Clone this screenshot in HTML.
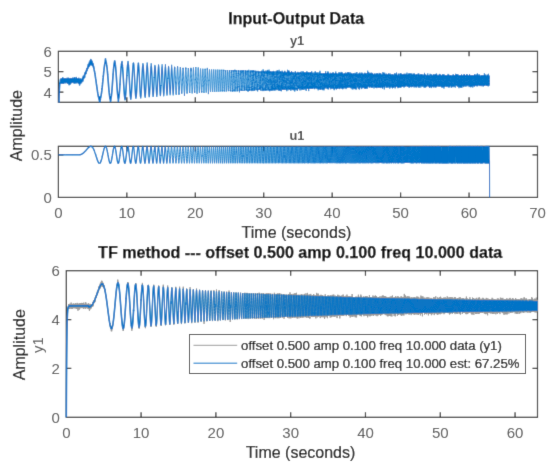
<!DOCTYPE html>
<html><head><meta charset="utf-8"><style>html,body{margin:0;padding:0;background:#fff}svg{display:block}</style></head><body><div id="w">
<svg width="550" height="468" viewBox="0 0 550 468">
<defs><filter id="bl" filterUnits="userSpaceOnUse" x="0" y="0" width="550" height="468"><feConvolveMatrix order="3" kernelMatrix="0.0100 0.0800 0.0100 0.0800 0.6400 0.0800 0.0100 0.0800 0.0100" divisor="1" edgeMode="duplicate"/></filter></defs>
<g filter="url(#bl)">
<rect width="550" height="468" fill="#fff"/>
<style>.tl{font:15px "Liberation Sans",Arial,sans-serif;fill:#505050}.lab{font:16px "Liberation Sans",Arial,sans-serif;fill:#000;stroke:#000;stroke-width:0.15px}.ttl{font:bold 16px "Liberation Sans",Arial,sans-serif;fill:#000;stroke:#000;stroke-width:0.25px}.sub{font:bold 12.8px "Liberation Sans",Arial,sans-serif;fill:#444}.lg{font:13.2px "Liberation Sans",Arial,sans-serif;fill:#000;stroke:#000;stroke-width:0.2px}</style>
<text x="296.2" y="24.4" text-anchor="middle" class="ttl">Input-Output Data</text>
<text x="297" y="44.6" text-anchor="middle" class="sub">y1</text>
<text x="297" y="139.6" text-anchor="middle" class="sub">u1</text>
<text x="296.4" y="238.1" text-anchor="middle" class="lab">Time (seconds)</text>
<text transform="translate(22.3 125.6) rotate(-90)" text-anchor="middle" class="lab">Amplitude</text>
<path d="M126.84 102.30v-5.0M126.84 51.30v5.0M195.29 102.30v-5.0M195.29 51.30v5.0M263.73 102.30v-5.0M263.73 51.30v5.0M332.17 102.30v-5.0M332.17 51.30v5.0M400.61 102.30v-5.0M400.61 51.30v5.0M469.06 102.30v-5.0M469.06 51.30v5.0M58.40 92.10h5.0M537.50 92.10h-5.0M58.40 71.70h5.0M537.50 71.70h-5.0" stroke="#262626" stroke-width="1.2" fill="none"/>
<rect x="58.40" y="51.30" width="479.10" height="51.00" fill="none" stroke="#262626" stroke-width="1.2"/>
<g><path d="M0 1023l1 0 1 0 1 0 1 0 1 0 1 0 1 0 1 0 1 0 1 0 1 0 1 0 1 0 1 0 1-21 1-19 1-18 1-15 1-15 1-12 1-12 1-10 1-10 1-8 1-7 1-6 1-7 1-6 1-5 1-3 1-5 1-3 1-3 1-7 1 2 1-4 1-6 1 4 1-4 1-2 1-2 1 7 1-9 1-11 1 22 1-21 1 6 1 6 1-27 1 12 1 20 1-14 1-6 1 8 1-10 1 8 1-9 1-9 1 25 1-11 1 8 1-7 1 15 1-7 1-5 1-13 1-3 1 30 1-7 1-18 1 33 1-19 1-5 1-16 1 7 1 12 1 1 1-2 1-22 1 24 1-1 1-8 1 5 1 1 1 12 1-14 1 5 1-19 1 6 1 8 1-8 1 12 1-17 1 13 1-7 1 23 1-20 1 24 1 5 1-21 1 7 1-13 1-26 1 38 1-3 1-10 1-3 1 8 1 0 1-11 1 2 1 19 1-11 1-2 1 14 1-16 1 13 1-22 1 9 1 2 1 8 1-6 1 23 1-10 1-19 1 31 1-37 1 32 1-31 1 20 1-20 1 8 1 21 1-35 1-2 1 19 1 2 1-1 1 10 1-26 1 20 1-6 1 9 1-2 1 8 1-31 1 18 1-14 1 12 1 8 1-4 1 3 1-7 1 4 1-1 1 14 1-7 1-30 1 28 1 5" transform="matrix(0.042777 0 0 0.1 58.400 0)" fill="none" stroke="#0073C8" stroke-width="1.6" vector-effect="non-scaling-stroke" stroke-linejoin="round" />
<path d="M0 815l1 5 1-17 1-13 1 35 1-16 1 5 1 14 1-30 1 9 1-1 1 10 1-15 1 12 1-4 1 11 1 2 1-32 1 23 1-10 1 4 1 5 1 1 1-14 1 11 1-1 1-3 1-14 1 6 1 4 1 12 1 10 1-29 1 0 1 13 1-8 1-3 1 0 1-2 1 17 1-24 1 34 1-26 1 5 1-5 1-12 1 5 1 32 1 6 1-30 1 22 1-12 1-11 1 31 1 6 1-29 1 2 1 4 1-4 1 11 1 8 1-16 1 10 1 8 1-26 1 7 1-6 1 17 1-4 1 4 1-1 1-14 1 12 1-14 1 1 1-21 1 42 1-28 1 12 1-1 1 18 1-13 1-14 1 10 1-2 1 4 1-17 1 14 1 27 1-19 1 16 1 16 1-34 1-23 1 16 1 15 1-3 1-25 1 12 1 1 1 1 1-1 1-9 1 3 1 4 1 16 1-19 1 14 1-22 1 29 1-14 1-1 1 16 1-37 1 3 1 23 1-15 1 5 1 37 1-35 1 4 1-2 1 14 1-10 1-1 1-17 1 11 1 4 1-19 1 26 1-2 1 17 1-41 1 7 1 1 1 3 1 6 1-1 1 6 1-1 1-3 1-18 1 12 1 7 1 7 1 1 1-28 1 14 1 5 1 5 1 9 1-12 1-12 1 16 1-2 1-1 1-4 1 21 1-16 1 7 1-21 1 20" transform="matrix(0.042777 0 0 0.1 65.202 0)" fill="none" stroke="#0073C8" stroke-width="1.6" vector-effect="non-scaling-stroke" stroke-linejoin="round" />
<path d="M0 796l1 20 1-16 1-12 1 23 1 3 1-10 1 3 1 12 1-18 1-19 1 28 1-1 1 11 1-17 1 19 1-2 1-29 1 27 1-24 1-6 1 16 1-4 1-17 1 26 1 5 1 9 1-17 1-17 1 6 1 23 1-1 1-4 1-10 1 6 1-5 1-1 1 7 1-3 1-3 1 4 1-7 1-17 1 16 1 6 1 21 1-25 1 29 1-7 1-28 1 2 1 11 1 19 1-17 1 4 1-16 1-20 1 25 1 12 1 5 1-14 1 2 1 12 1-16 1 16 1-28 1 1 1-1 1 20 1-13 1 8 1 4 1-1 1 12 1 1 1-27 1 12 1-5 1-10 1 34 1-12 1-11 1-3 1 9 1-17 1 10 1 18 1-4 1-21 1 4 1 29 1-40 1 9 1-9 1 21 1-1 1 11 1-45 1 33 1-22 1 28 1-10 1 22 1-16 1-16 1 27 1-28 1 9 1 17 1-7 1-1 1-5 1 6 1 4 1-7 1 9 1 4 1-16 1-11 1 29 1-18 1 8 1 4 1-23 1 17 1-25 1 28 1-14 1 8 1 6 1-16 1 9 1-10 1 8 1 13 1-12 1-2 1-11 1 23 1-11 1 21 1-29 1 21 1 9 1-22 1-14 1 32 1-5 1-4 1 5 1-19 1 15 1-1 1-16 1 16 1-15 1 18 1 3 1 7 1-45 1 23 1 9" transform="matrix(0.042777 0 0 0.1 72.046 0)" fill="none" stroke="#0073C8" stroke-width="1.6" vector-effect="non-scaling-stroke" stroke-linejoin="round" />
<path d="M0 807l1 9 1 0 1-2 1 1 1-22 1 36 1 6 1-7 1 4 1-25 1-1 1 21 1 6 1-13 1-21 1 51 1-41 1 19 1-26 1 26 1-10 1 15 1-7 1-28 1 6 1 15 1 5 1 13 1-19 1-4 1 0 1 0 1 12 1-13 1 0 1-16 1-7 1 23 1 7 1-8 1 6 1 1 1-8 1 11 1-19 1 8 1-5 1 5 1 6 1 2 1-9 1 4 1-10 1 3 1 15 1-17 1 15 1-8 1-4 1 19 1-24 1-1 1 3 1 2 1-1 1 6 1-8 1 3 1-8 1 13 1-15 1 0 1 3 1 2 1-11 1 23 1-23 1 2 1-1 1-2 1 10 1-4 1-10 1 2 1 1 1 17 1-21 1-7 1 1 1 7 1 17 1-25 1 10 1 22 1-29 1 17 1-2 1-7 1-19 1 15 1-7 1-14 1 1 1 15 1 0 1 9 1-6 1-11 1-1 1 2 1-9 1 15 1-7 1-8 1 1 1-5 1 5 1 5 1-6 1 10 1 5 1-20 1 5 1-4 1 16 1-12 1 1 1 1 1 10 1-16 1-11 1 3 1 7 1-6 1-7 1 27 1-21 1-7 1-2 1-9 1 4 1 5 1-1 1-4 1 9 1-5 1-8 1-9 1 15 1-2 1-3 1-9 1 9 1-12 1 17 1-7 1-1 1-8 1-3 1 17 1-5" transform="matrix(0.042777 0 0 0.1 78.890 0)" fill="none" stroke="#0073C8" stroke-width="1.6" vector-effect="non-scaling-stroke" stroke-linejoin="round" />
<path d="M0 738l1-5 1-10 1 6 1 5 1-19 1 2 1-1 1 6 1-12 1 8 1-10 1 13 1-2 1-8 1 5 1-11 1 2 1 7 1-8 1 2 1-10 1 10 1-3 1-12 1-8 1 0 1 13 1-3 1-10 1 10 1 5 1-8 1-4 1 8 1 5 1-3 1-16 1 9 1-5 1-4 1-4 1 6 1-7 1 9 1-5 1 3 1-16 1 7 1 4 1-4 1-2 1-7 1 15 1-5 1-6 1-22 1 10 1 7 1-7 1-11 1 16 1 0 1-13 1 5 1-3 1 9 1-20 1 0 1 8 1-2 1 21 1-22 1 6 1-6 1-3 1 7 1 11 1-18 1 8 1-4 1 2 1-4 1 17 1-32 1 8 1-9 1-9 1 18 1 16 1-9 1 2 1-7 1-6 1 20 1-24 1 18 1-19 1 4 1 1 1-3 1 5 1 0 1 11 1-18 1-21 1-2 1 6 1 7 1 15 1-24 1 16 1 0 1 2 1-4 1 6 1-5 1 12 1-9 1-32 1 28 1 2 1-9 1-2 1 22 1-11 1-14 1 8 1 2 1-18 1 28 1-10 1 8 1-24 1 41 1-15 1-1 1-14 1 1 1-9 1 34 1-26 1 13 1 4 1-13 1 16 1 13 1-18 1 12 1-8 1-9 1 1 1-11 1 17 1 13 1-6 1 2 1 3 1-13 1 10 1 11 1-20" transform="matrix(0.042777 0 0 0.1 85.734 0)" fill="none" stroke="#0073C8" stroke-width="1.6" vector-effect="non-scaling-stroke" stroke-linejoin="round" />
<path d="M0 654l1-20 1 7 1-2 1 3 1-3 1 5 1-6 1 6 1 2 1 1 1 12 1-6 1 2 1-1 1 10 1-15 1 10 1 8 1 4 1-6 1 1 1 4 1-2 1 5 1-3 1 7 1-1 1-2 1-5 1 16 1 0 1 3 1-4 1 9 1 0 1 0 1 6 1 2 1 0 1 7 1 0 1 0 1 0 1 3 1 7 1-1 1-1 1 3 1 4 1 5 1-2 1 6 1 4 1 1 1-2 1 5 1 1 1 6 1 0 1 6 1 2 1-3 1 6 1 6 1 2 1 2 1 1 1 6 1 5 1 0 1 3 1 2 1 1 1 5 1 2 1 7 1-1 1 1 1 5 1 4 1 3 1 0 1 8 1 2 1 2 1 2 1 6 1 1 1 4 1 3 1 3 1 5 1 1 1 2 1 6 1 2 1 1 1 6 1 1 1 5 1-1 1 1 1 4 1 7 1 1 1 4 1 3 1 0 1 9 1-2 1 5 1 0 1 5 1 5 1 0 1 2 1 4 1 2 1 5 1 6 1-4 1 3 1 3 1 3 1 0 1 6 1 3 1 1 1-1 1 10 1-6 1 8 1 3 1-5 1 6 1 7 1-2 1-3 1 1 1 8 1-2 1 0 1 8 1-3 1 3 1 5 1 1 1-2 1 2 1 5 1 0 1-10 1 7 1-4 1-2 1 5 1-15 1 30 1-15 1 12 1-24" transform="matrix(0.042777 0 0 0.1 92.579 0)" fill="none" stroke="#0073C8" stroke-width="1.6" vector-effect="non-scaling-stroke" stroke-linejoin="round" />
<path d="M0 998l1-24 1 2 1 42 1-11 1-19 1-2 1 1 1 10 1-7 1-2 1 8 1-12 1 35 1-31 1 16 1-20 1 10 1 5 1-11 1 9 1-2 1 3 1-11 1-5 1-4 1 5 1-7 1 3 1-1 1-5 1-3 1 4 1-3 1-2 1-3 1 1 1-8 1 1 1-4 1 1 1-6 1-3 1 0 1-8 1 0 1-5 1-2 1 0 1-3 1-5 1-2 1-4 1-2 1-2 1-5 1-1 1-7 1-2 1-4 1-4 1-5 1-2 1-3 1-5 1-3 1-5 1-7 1-1 1-6 1-2 1-6 1-3 1-5 1-5 1-5 1-3 1-4 1-3 1-6 1-4 1-5 1-4 1-6 1-1 1-6 1-5 1-3 1-4 1-5 1-3 1-6 1-7 1-3 1-2 1-4 1-5 1-6 1-2 1-4 1-6 1-4 1-3 1-3 1-3 1-5 1-2 1-7 1-2 1-6 1-5 1-3 1 0 1-6 1-4 1 0 1-3 1-5 1 0 1-9 1 5 1-5 1-5 1-2 1-4 1-2 1-1 1-7 1 9 1-9 1 0 1-5 1-2 1 4 1-2 1-10 1 1 1 6 1-22 1-4 1 32 1-17 1-24 1 17 1 6 1 5 1 4 1-4 1 4 1-14 1 13 1 0 1 8 1-10 1 7 1-4 1-7 1 6 1 1 1 3 1 3 1 2" transform="matrix(0.042777 0 0 0.1 99.423 0)" fill="none" stroke="#0073C8" stroke-width="1.6" vector-effect="non-scaling-stroke" stroke-linejoin="round" />
<path d="M0 626l1 2 1 3 1-1 1 7 1-4 1 6 1 4 1 3 1 3 1 1 1 5 1 0 1 6 1 6 1 1 1 5 1 1 1 3 1 4 1 7 1 3 1 2 1 5 1 5 1 4 1 3 1 6 1 5 1 5 1 4 1 6 1 6 1 4 1 5 1 5 1 5 1 4 1 7 1 5 1 5 1 5 1 5 1 6 1 6 1 6 1 4 1 5 1 5 1 7 1 4 1 5 1 5 1 6 1 5 1 7 1 4 1 4 1 7 1 4 1 5 1 5 1 5 1 4 1 5 1 5 1 6 1 3 1 5 1 4 1 3 1 4 1 4 1 5 1 2 1 3 1 4 1 3 1 5 1 3 1 2 1 7 1-1 1 5 1 2 1 6 1 0 1-1 1-2 1 1 1 7 1 2 1 6 1-8 1 6 1-7 1-13 1 20 1 18 1-8 1 7 1-4 1-27 1 10 1 14 1-18 1-5 1 9 1 0 1-4 1-4 1-3 1-4 1-2 1-2 1-3 1-1 1 1 1-6 1-4 1-2 1-5 1-3 1-3 1-7 1-3 1-4 1-5 1-4 1-4 1-3 1-6 1-5 1-5 1-6 1-6 1-5 1-5 1-7 1-4 1-5 1-7 1-6 1-5 1-7 1-5 1-6 1-7 1-6 1-5 1-7 1-6 1-7 1-4 1-7 1-6 1-6 1-6 1-6 1-6 1-5 1-5" transform="matrix(0.042777 0 0 0.1 106.267 0)" fill="none" stroke="#0073C8" stroke-width="1.6" vector-effect="non-scaling-stroke" stroke-linejoin="round" />
<path d="M0 744l1-5 1-6 1-6 1-6 1-6 1-4 1-6 1-6 1-4 1-3 1-5 1-4 1-8 1-2 1-6 1-4 1-5 1-3 1-2 1-3 1-4 1-3 1-2 1-3 1-7 1 7 1-8 1 2 1-6 1-5 1 3 1-7 1 19 1-26 1 18 1-15 1 5 1 33 1-22 1-9 1-10 1 11 1 2 1 10 1-11 1 1 1 9 1 3 1 5 1-2 1-1 1 7 1 3 1 5 1 5 1 1 1 7 1 3 1 4 1 4 1 6 1 5 1 5 1 6 1 4 1 6 1 6 1 6 1 5 1 7 1 6 1 6 1 5 1 7 1 5 1 8 1 6 1 6 1 7 1 7 1 6 1 7 1 7 1 7 1 6 1 6 1 8 1 6 1 6 1 6 1 7 1 6 1 6 1 7 1 5 1 6 1 6 1 7 1 4 1 5 1 5 1 7 1 2 1 7 1 3 1 4 1 4 1 5 1 6 1 1 1 5 1 7 1-8 1 7 1-1 1 11 1-7 1 0 1 0 1 10 1 11 1-7 1 23 1-4 1-21 1 11 1-10 1-1 1-15 1 5 1 5 1-6 1 4 1-3 1-6 1 2 1-5 1-2 1-6 1-5 1-2 1-5 1-3 1-5 1-5 1-7 1-6 1-4 1-5 1-6 1-6 1-6 1-6 1-6 1-7 1-6 1-7 1-6 1-7 1-7 1-7" transform="matrix(0.042777 0 0 0.1 113.112 0)" fill="none" stroke="#0073C8" stroke-width="1.567" vector-effect="non-scaling-stroke" stroke-linejoin="round" />
<path d="M0 845l1-7 1-7 1-8 1-7 1-6 1-8 1-7 1-8 1-7 1-7 1-6 1-8 1-6 1-8 1-5 1-6 1-9 1-6 1-5 1-7 1-5 1-6 1-5 1-6 1-6 1-5 1-5 1-4 1-7 1-1 1-5 1 0 1-4 1-8 1 2 1-6 1-1 1 2 1-4 1 0 1-1 1-11 1-1 1 14 1 4 1-14 1 5 1-7 1-7 1 13 1 6 1 2 1 4 1 3 1 3 1 2 1 3 1 3 1 5 1 4 1 6 1 2 1 6 1 5 1 6 1 5 1 7 1 6 1 5 1 8 1 6 1 7 1 7 1 7 1 7 1 8 1 7 1 8 1 7 1 8 1 7 1 8 1 7 1 8 1 7 1 7 1 8 1 8 1 7 1 7 1 7 1 8 1 6 1 6 1 8 1 6 1 6 1 6 1 5 1 8 1 4 1 4 1 6 1 5 1 4 1 5 1 1 1 7 1 0 1 8 1-2 1 4 1 13 1-9 1 8 1-2 1-20 1 31 1-1 1-29 1 14 1-10 1 7 1 3 1-5 1-6 1-2 1-1 1-3 1-4 1-3 1-7 1-3 1-4 1-5 1-7 1-5 1-6 1-6 1-6 1-6 1-7 1-8 1-6 1-8 1-8 1-7 1-8 1-8 1-7 1-8 1-8 1-8 1-8 1-8 1-8 1-7 1-8 1-8 1-8 1-7" transform="matrix(0.042777 0 0 0.1 119.956 0)" fill="none" stroke="#0073C8" stroke-width="1.5" vector-effect="non-scaling-stroke" stroke-linejoin="round" />
<path d="M0 757l1-7 1-8 1-8 1-7 1-6 1-8 1-6 1-7 1-7 1-5 1-6 1-6 1-4 1-5 1-5 1-6 1 0 1-5 1-3 1-2 1-3 1-2 1-6 1 5 1-7 1-4 1 12 1-10 1-16 1 16 1 7 1-2 1 5 1-2 1 2 1 6 1 2 1 2 1 6 1 4 1 5 1 5 1 5 1 4 1 8 1 6 1 6 1 7 1 6 1 7 1 7 1 8 1 7 1 9 1 7 1 9 1 8 1 8 1 8 1 9 1 8 1 8 1 9 1 8 1 8 1 8 1 9 1 8 1 7 1 8 1 7 1 8 1 7 1 6 1 6 1 8 1 5 1 6 1 6 1 4 1 7 1 5 1 4 1 3 1 3 1 4 1 1 1 10 1-8 1 13 1-2 1-1 1 10 1 0 1-7 1-9 1-4 1-2 1 3 1-4 1-3 1-6 1-1 1-8 1-3 1-5 1-6 1-6 1-5 1-7 1-6 1-7 1-8 1-6 1-8 1-8 1-8 1-8 1-8 1-9 1-8 1-9 1-8 1-9 1-8 1-9 1-9 1-8 1-9 1-7 1-10 1-7 1-9 1-7 1-8 1-7 1-8 1-6 1-6 1-8 1-4 1-6 1-5 1-5 1-6 1-5 1-1 1-1 1-9 1-3 1-2 1-5 1 13 1-6 1 15 1-2 1-21 1 12 1-11 1 11 1 4" transform="matrix(0.042777 0 0 0.1 126.800 0)" fill="none" stroke="#0073C8" stroke-width="1.433" vector-effect="non-scaling-stroke" stroke-linejoin="round" />
<path d="M0 643l1 4 1 0 1 3 1 5 1 6 1 4 1 4 1 7 1 6 1 5 1 7 1 7 1 7 1 7 1 8 1 7 1 8 1 9 1 9 1 8 1 8 1 9 1 9 1 9 1 9 1 9 1 9 1 9 1 8 1 10 1 8 1 9 1 8 1 8 1 8 1 7 1 8 1 6 1 8 1 6 1 5 1 6 1 6 1 3 1 7 1 2 1 4 1 1 1 6 1-3 1 10 1-12 1 18 1-4 1-24 1 17 1 0 1-9 1 5 1 0 1-6 1-1 1-7 1-4 1-4 1-5 1-7 1-6 1-6 1-7 1-7 1-8 1-8 1-8 1-8 1-8 1-9 1-9 1-9 1-9 1-9 1-10 1-9 1-9 1-10 1-9 1-9 1-8 1-9 1-9 1-8 1-9 1-7 1-8 1-7 1-7 1-7 1-6 1-6 1-5 1-6 1-3 1-7 1-1 1-5 1-1 1-1 1-15 1 14 1 12 1-7 1-5 1-14 1 13 1 0 1 8 1 0 1 4 1 3 1 7 1 4 1 6 1 6 1 6 1 7 1 8 1 6 1 8 1 8 1 9 1 8 1 9 1 9 1 9 1 10 1 9 1 9 1 10 1 9 1 10 1 9 1 9 1 10 1 9 1 8 1 9 1 9 1 8 1 7 1 8 1 7 1 6 1 6 1 7 1 5 1 3 1 6 1 5 1 3 1 3 1-2" transform="matrix(0.042777 0 0 0.1 133.644 0)" fill="none" stroke="#0073C8" stroke-width="1.367" vector-effect="non-scaling-stroke" stroke-linejoin="round" />
<path d="M0 963l1-2 1 7 1-15 1 26 1-18 1 18 1-22 1 11 1-3 1-5 1-3 1 0 1-5 1-4 1-7 1-5 1-6 1-7 1-7 1-7 1-8 1-9 1-7 1-9 1-9 1-10 1-9 1-9 1-10 1-10 1-9 1-10 1-10 1-9 1-9 1-10 1-10 1-9 1-9 1-8 1-8 1-8 1-8 1-8 1-6 1-6 1-6 1-5 1-4 1-6 1-2 1-3 1-7 1 2 1-3 1-8 1-4 1 14 1-4 1 6 1-7 1 6 1 6 1 2 1 4 1 5 1 5 1 6 1 7 1 7 1 7 1 8 1 8 1 7 1 10 1 9 1 9 1 9 1 10 1 10 1 9 1 10 1 10 1 10 1 10 1 10 1 10 1 9 1 10 1 8 1 10 1 8 1 8 1 8 1 7 1 8 1 5 1 6 1 6 1 7 1 4 1 1 1 1 1 6 1-3 1 11 1-1 1-2 1-4 1 11 1-14 1-2 1 2 1-4 1-6 1-4 1-4 1-8 1-6 1-6 1-9 1-7 1-7 1-9 1-9 1-9 1-10 1-9 1-10 1-10 1-10 1-10 1-10 1-10 1-11 1-9 1-11 1-9 1-9 1-9 1-9 1-9 1-8 1-7 1-8 1-6 1-7 1-5 1-6 1-3 1-6 1-3 1-1 1 0 1 4 1-30 1 36 1-29 1 11 1 6 1 4" transform="matrix(0.042777 0 0 0.1 140.489 0)" fill="none" stroke="#0073C8" stroke-width="1.3" vector-effect="non-scaling-stroke" stroke-linejoin="round" />
<path d="M0 654l1 4 1-1 1 4 1 7 1 4 1 5 1 6 1 6 1 8 1 8 1 8 1 8 1 9 1 10 1 9 1 10 1 9 1 11 1 10 1 10 1 10 1 11 1 10 1 10 1 10 1 10 1 10 1 9 1 9 1 9 1 8 1 7 1 8 1 7 1 6 1 6 1 5 1 4 1 3 1 6 1 1 1 10 1-13 1 5 1 6 1-12 1 3 1 7 1-10 1-2 1-6 1-6 1-4 1-6 1-7 1-7 1-8 1-8 1-8 1-10 1-8 1-10 1-10 1-10 1-10 1-11 1-10 1-11 1-11 1-10 1-10 1-10 1-10 1-10 1-10 1-8 1-9 1-8 1-8 1-6 1-8 1-6 1-5 1-4 1-3 1-5 1-2 1-6 1 12 1-28 1 13 1 6 1 2 1 2 1 2 1 3 1 4 1 5 1 6 1 6 1 7 1 7 1 7 1 9 1 9 1 9 1 10 1 10 1 9 1 11 1 10 1 11 1 11 1 10 1 11 1 11 1 10 1 10 1 10 1 10 1 9 1 9 1 8 1 7 1 9 1 6 1 7 1 6 1 5 1 4 1 5 1-3 1 14 1-9 1 0 1 10 1-8 1-4 1 0 1-3 1-4 1-2 1-8 1-6 1-6 1-7 1-7 1-8 1-9 1-9 1-10 1-9 1-11 1-10 1-11 1-10 1-11 1-11 1-11 1-10 1-11" transform="matrix(0.042777 0 0 0.1 147.333 0)" fill="none" stroke="#0073C8" stroke-width="1.233" vector-effect="non-scaling-stroke" stroke-linejoin="round" />
<path d="M0 780l1-11 1-10 1-11 1-10 1-9 1-9 1-9 1-8 1-7 1-8 1-7 1-5 1-5 1-5 1-5 1 2 1-10 1 7 1 6 1-10 1 3 1 4 1 2 1 2 1 1 1 5 1 7 1 6 1 7 1 8 1 8 1 8 1 9 1 10 1 10 1 10 1 10 1 11 1 11 1 11 1 11 1 11 1 11 1 10 1 11 1 10 1 10 1 10 1 10 1 8 1 8 1 8 1 7 1 7 1 5 1 5 1 6 1 0 1 3 1 7 1-9 1 17 1-19 1 9 1-1 1-4 1-4 1-5 1-5 1-6 1-7 1-6 1-9 1-8 1-9 1-10 1-10 1-10 1-10 1-11 1-11 1-11 1-11 1-12 1-11 1-11 1-10 1-11 1-10 1-10 1-10 1-8 1-9 1-7 1-8 1-6 1-6 1-6 1-5 1-3 1-1 1-15 1 7 1-2 1 8 1 6 1 0 1-1 1 5 1 5 1 6 1 6 1 7 1 8 1 7 1 9 1 9 1 10 1 11 1 10 1 12 1 10 1 11 1 11 1 12 1 11 1 11 1 11 1 11 1 11 1 9 1 10 1 9 1 8 1 8 1 8 1 7 1 6 1 5 1 4 1 3 1 4 1-4 1 3 1 6 1-3 1-1 1-6 1-1 1-5 1-5 1-5 1-8 1-6 1-9 1-8 1-9 1-10 1-10 1-11 1-10" transform="matrix(0.042777 0 0 0.1 154.177 0)" fill="none" stroke="#0073C8" stroke-width="1.167" vector-effect="non-scaling-stroke" stroke-linejoin="round" />
<path d="M0 859l1-10 1-12 1-11 1-11 1-12 1-11 1-11 1-12 1-11 1-10 1-10 1-10 1-10 1-9 1-8 1-7 1-7 1-8 1-3 1-5 1-4 1 5 1-10 1 7 1-23 1 18 1 3 1 0 1 3 1 5 1 5 1 7 1 6 1 7 1 8 1 10 1 9 1 10 1 10 1 11 1 11 1 12 1 11 1 12 1 11 1 12 1 11 1 12 1 10 1 11 1 10 1 10 1 9 1 8 1 8 1 7 1 6 1 5 1 7 1 2 1 3 1 1 1-5 1 17 1-5 1-3 1-4 1-5 1-3 1-6 1-7 1-6 1-8 1-8 1-9 1-10 1-10 1-10 1-12 1-11 1-11 1-12 1-12 1-11 1-12 1-11 1-12 1-10 1-11 1-10 1-10 1-9 1-8 1-8 1-7 1-6 1-4 1-7 1-2 1 1 1-4 1 9 1-29 1 18 1 7 1 0 1 5 1 3 1 8 1 7 1 7 1 8 1 9 1 10 1 9 1 11 1 11 1 11 1 12 1 11 1 12 1 12 1 12 1 11 1 12 1 11 1 11 1 10 1 9 1 10 1 8 1 7 1 8 1 6 1 5 1 4 1 3 1-2 1 10 1-10 1 1 1 6 1-6 1-2 1-7 1-5 1-6 1-6 1-9 1-8 1-10 1-10 1-10 1-11 1-11 1-12 1-12 1-11 1-12 1-12 1-12" transform="matrix(0.042777 0 0 0.1 161.022 0)" fill="none" stroke="#0073C8" stroke-width="1.1" vector-effect="non-scaling-stroke" stroke-linejoin="round" />
<path d="M0 789l1-12 1-12 1-11 1-11 1-10 1-10 1-10 1-8 1-8 1-7 1-6 1-7 1-3 1-1 1-10 1 7 1 0 1 17 1-21 1 4 1 4 1 5 1 5 1 8 1 7 1 8 1 9 1 9 1 11 1 11 1 10 1 12 1 12 1 11 1 13 1 12 1 12 1 11 1 12 1 11 1 11 1 10 1 10 1 9 1 8 1 8 1 7 1 6 1 3 1 4 1 3 1 7 1-8 1 4 1-4 1 3 1-6 1-4 1-5 1-7 1-7 1-7 1-9 1-10 1-10 1-11 1-11 1-11 1-12 1-12 1-12 1-12 1-13 1-11 1-12 1-11 1-11 1-10 1-11 1-9 1-8 1-8 1-7 1-5 1-6 1-1 1 0 1-16 1-8 1 15 1 4 1 3 1 5 1 3 1 6 1 7 1 8 1 8 1 9 1 10 1 11 1 10 1 12 1 12 1 12 1 12 1 12 1 12 1 13 1 11 1 12 1 11 1 11 1 10 1 9 1 8 1 8 1 7 1 7 1 5 1 5 1 3 1 7 1 2 1-6 1 0 1-3 1-5 1-6 1-6 1-7 1-7 1-8 1-9 1-10 1-11 1-11 1-11 1-12 1-12 1-12 1-13 1-12 1-12 1-12 1-12 1-11 1-11 1-10 1-9 1-9 1-7 1-8 1-4 1-8 1 0 1-6 1 10 1 6 1-16 1 1" transform="matrix(0.042777 0 0 0.1 167.866 0)" fill="none" stroke="#0073C8" stroke-width="1.033" vector-effect="non-scaling-stroke" stroke-linejoin="round" />
<path d="M0 671l1 1 1 6 1 2 1 6 1 6 1 7 1 8 1 9 1 9 1 11 1 11 1 11 1 12 1 12 1 12 1 13 1 12 1 13 1 11 1 12 1 12 1 10 1 11 1 10 1 9 1 8 1 7 1 6 1 5 1 3 1 2 1 1 1 0 1 8 1-2 1-8 1-4 1-6 1-6 1-7 1-8 1-9 1-10 1-10 1-12 1-11 1-12 1-12 1-13 1-12 1-13 1-12 1-12 1-12 1-12 1-10 1-10 1-10 1-9 1-7 1-7 1-7 1-3 1-2 1-8 1-4 1-5 1 17 1-4 1 5 1 3 1 8 1 6 1 8 1 9 1 9 1 10 1 11 1 11 1 12 1 12 1 12 1 13 1 13 1 12 1 13 1 12 1 11 1 11 1 11 1 10 1 9 1 8 1 6 1 6 1 5 1 5 1 1 1 10 1-7 1 1 1-11 1 2 1-3 1-6 1-7 1-7 1-9 1-10 1-10 1-11 1-12 1-11 1-13 1-12 1-13 1-13 1-12 1-13 1-12 1-11 1-11 1-10 1-10 1-9 1-8 1-7 1-5 1-5 1-2 1-8 1 0 1 6 1 0 1 1 1 4 1 6 1 5 1 8 1 8 1 9 1 10 1 11 1 11 1 12 1 12 1 13 1 12 1 13 1 13 1 12 1 13 1 11 1 11 1 11 1 10 1 9 1 8 1 8 1 5 1 5" transform="matrix(0.042777 0 0 0.1 174.710 0)" fill="none" stroke="#0073C8" stroke-width="0.967" vector-effect="non-scaling-stroke" stroke-linejoin="round" />
<path d="M0 924l1 5 1 5 1 2 1 2 1-3 1-1 1 0 1-3 1-7 1-4 1-8 1-9 1-8 1-10 1-11 1-11 1-12 1-12 1-13 1-13 1-13 1-12 1-13 1-12 1-12 1-11 1-11 1-10 1-9 1-8 1-7 1-5 1-7 1-3 1 5 1-7 1 6 1-3 1 1 1 4 1 4 1 8 1 6 1 9 1 9 1 11 1 11 1 11 1 12 1 13 1 12 1 13 1 14 1 12 1 13 1 12 1 12 1 11 1 10 1 10 1 8 1 8 1 7 1 4 1 5 1 4 1 4 1 19 1-27 1 3 1-5 1-5 1-7 1-6 1-9 1-9 1-10 1-11 1-11 1-13 1-12 1-13 1-13 1-13 1-13 1-12 1-13 1-12 1-11 1-11 1-9 1-9 1-8 1-5 1-5 1-8 1-1 1 11 1-16 1 6 1 5 1 2 1 4 1 5 1 7 1 9 1 9 1 10 1 12 1 11 1 13 1 12 1 13 1 13 1 13 1 13 1 13 1 12 1 12 1 11 1 10 1 10 1 8 1 8 1 5 1 7 1 5 1 3 1-1 1-7 1 2 1-1 1-5 1-5 1-7 1-7 1-9 1-10 1-11 1-11 1-13 1-12 1-13 1-13 1-13 1-14 1-13 1-12 1-12 1-11 1-11 1-10 1-9 1-7 1-7 1-5 1-5 1-1 1-3 1 7 1-3" transform="matrix(0.042777 0 0 0.1 181.554 0)" fill="none" stroke="#0073C8" stroke-width="0.9" vector-effect="non-scaling-stroke" stroke-linejoin="round" />
<path d="M0 687l1-3 1 1 1 4 1 6 1 5 1 8 1 9 1 10 1 11 1 11 1 12 1 13 1 13 1 13 1 13 1 13 1 14 1 12 1 12 1 12 1 11 1 9 1 9 1 7 1 7 1 5 1 4 1 1 1-9 1 9 1 1 1-2 1-6 1-5 1-6 1-8 1-9 1-10 1-11 1-12 1-12 1-13 1-13 1-13 1-14 1-13 1-13 1-12 1-12 1-11 1-10 1-10 1-9 1-8 1-4 1-8 1-1 1-7 1 35 1-31 1 3 1 3 1 5 1 7 1 7 1 9 1 9 1 11 1 12 1 12 1 13 1 13 1 13 1 13 1 14 1 13 1 12 1 13 1 11 1 11 1 9 1 10 1 8 1 7 1 5 1 1 1 1 1 7 1-4 1-1 1-3 1-7 1-5 1-8 1-8 1-9 1-11 1-11 1-12 1-13 1-13 1-14 1-13 1-14 1-13 1-13 1-12 1-11 1-11 1-10 1-9 1-8 1-6 1-4 1-3 1-8 1-2 1-3 1 11 1 3 1 5 1 7 1 8 1 9 1 9 1 11 1 12 1 12 1 13 1 13 1 14 1 13 1 14 1 13 1 13 1 12 1 11 1 11 1 9 1 9 1 8 1 5 1 6 1-1 1 5 1-17 1 13 1-2 1-3 1-6 1-7 1-8 1-9 1-11 1-11 1-12 1-13 1-13 1-13 1-14 1-14" transform="matrix(0.042777 0 0 0.1 188.399 0)" fill="none" stroke="#0073C8" stroke-width="0.833" vector-effect="non-scaling-stroke" stroke-linejoin="round" />
<path d="M0 804l1-14 1-13 1-13 1-13 1-11 1-11 1-10 1-9 1-8 1-6 1-7 1-3 1-3 1-13 1 12 1 5 1 5 1 4 1 8 1 8 1 9 1 11 1 11 1 12 1 12 1 14 1 13 1 14 1 13 1 14 1 13 1 13 1 11 1 12 1 9 1 9 1 8 1 7 1 6 1 4 1 6 1-3 1 5 1-11 1-4 1-5 1-7 1-8 1-9 1-10 1-12 1-12 1-13 1-13 1-14 1-13 1-14 1-13 1-14 1-12 1-12 1-10 1-11 1-8 1-8 1-6 1-6 1-1 1 3 1-18 1 9 1 7 1 6 1 5 1 7 1 9 1 9 1 12 1 11 1 13 1 13 1 13 1 14 1 14 1 13 1 14 1 13 1 12 1 11 1 10 1 10 1 9 1 6 1 6 1 1 1 3 1-3 1 7 1-1 1-7 1-5 1-8 1-8 1-9 1-10 1-12 1-12 1-13 1-13 1-14 1-14 1-14 1-13 1-13 1-13 1-12 1-10 1-10 1-8 1-8 1-5 1-4 1-3 1-3 1 3 1-1 1 6 1 5 1 7 1 8 1 9 1 11 1 11 1 12 1 13 1 13 1 14 1 14 1 14 1 13 1 14 1 12 1 12 1 11 1 9 1 9 1 7 1 5 1 6 1 2 1-4 1-9 1 12 1-5 1-6 1-7 1-8 1-10 1-10 1-12 1-12" transform="matrix(0.042777 0 0 0.1 195.243 0)" fill="none" stroke="#0073C8" stroke-width="0.8" vector-effect="non-scaling-stroke" stroke-linejoin="round" />
<path d="M0 866l1-12 1-13 1-14 1-14 1-13 1-14 1-14 1-13 1-12 1-12 1-11 1-9 1-8 1-7 1-5 1-6 1-2 1 1 1 3 1 2 1 5 1 5 1 8 1 8 1 11 1 10 1 13 1 12 1 14 1 13 1 14 1 14 1 14 1 13 1 14 1 11 1 12 1 9 1 10 1 7 1 7 1 1 1 9 1-4 1 4 1-2 1-7 1-6 1-7 1-8 1-10 1-11 1-11 1-13 1-13 1-14 1-14 1-14 1-14 1-13 1-13 1-12 1-12 1-10 1-10 1-6 1-8 1-5 1 1 1 2 1-10 1 2 1 8 1 5 1 6 1 8 1 10 1 11 1 11 1 12 1 13 1 14 1 14 1 14 1 14 1 14 1 13 1 12 1 11 1 11 1 10 1 7 1 6 1 5 1 5 1 3 1-1 1-5 1-3 1-6 1-7 1-8 1-10 1-10 1-12 1-13 1-13 1-14 1-14 1-14 1-14 1-14 1-13 1-12 1-11 1-10 1-9 1-8 1-6 1-5 1 4 1-19 1 16 1-1 1 5 1 6 1 7 1 9 1 10 1 11 1 12 1 13 1 14 1 14 1 14 1 14 1 14 1 13 1 13 1 12 1 11 1 9 1 9 1 6 1 4 1 6 1 4 1 17 1-21 1-3 1-5 1-8 1-8 1-9 1-11 1-12 1-12 1-14 1-14 1-14 1-14" transform="matrix(0.042777 0 0 0.1 202.087 0)" fill="none" stroke="#0073C8" stroke-width="0.8" vector-effect="non-scaling-stroke" stroke-linejoin="round" />
<path d="M0 810l1-14" transform="matrix(0.042777 0 0 0.1 208.932 0)" fill="none" stroke="#0073C8" stroke-width="0.8" vector-effect="non-scaling-stroke" stroke-linejoin="round" /><path d="M0 796l1-7 1-8 1-7 1-7 1-7 1-7 1-7 1-6 1-6 1-6 1-5 1-5 1-4 1-5 1-3 1-3 1-3 1-3 1-2 1-1 1-1 1 0 1 0 1 1 1 1 1 1 1 3 1 2 1 3 1 4 1 4 1 4 1 5 1 5 1 6 1 6 1 6 1 6 1 7 1 7 1 7 1 7 1 8 1 7 1 8 1 7 1 8 1 7 1 8 1 7 1 7 1 7 1 7 1 7 1 6 1 6 1 6 1 5 1 5 1 5 1 5 1 3 1 3 1 3 1 3 1 1 1 1 1 2 1 0 1 0 1-1 1-2 1 0 1-2 1-3 1-3 1-4 1-4 1-4 1-5 1-5 1-6 1-6 1-6 1-6 1-7 1-7 1-7 1-8 1-7 1-7 1-8 1-8 1-8 1-6 1-8 1-7 1-8 1-7 1-7 1-6 1-6 1-7 1-6 1-5 1-4 1-5 1-5 1-3 1-3 1-3 1-1 1-3 1-1 1-1 1 0 1 0 1 1 1 1 1 2 1 2 1 3 1 3 1 6 1 2 1 5 1 5 1 6 1 6 1 6 1 6 1 6 1 8 1 7 1 6 1 8 1 7 1 8 1 8 1 7 1 7 1 9 1 6 1 8 1 7 1 7 1 8 1 5 1 6 1 5 1 6 1 5 1 6 1 4 1 4 1 3 1 3 1 4 1 0 1 2 1-1 1 1 1 1 1-1 1-1 1-2 1-1 1-5 1-2 1-3 1-5 1-5 1-4 1-6 1-5 1-6 1-7 1-7 1-5 1-7 1-9 1-6 1-9 1-7 1-8 1-8 1-7 1-8 1-6 1-8 1-8 1-7 1-7 1-7 1-5 1-5 1-6 1-5 1-4 1-4 1-5 1-2 1-4 1-1 1-4 1 0 1-2 1 1 1 0 1-1 1 3 1 1 1 3 1 4 1 1 1 4 1 5 1 4 1 6 1 5 1 5 1 7 1 4 1 9 1 6 1 7 1 9 1 7 1 6 1 9 1 7 1 7 1 8 1 9 1 8 1 5 1 8 1 6 1 7 1 8 1 3 1 6 1 6 1 7 1 3 1 5 1 3 1 4 1 1 1 3 1 1 1 2 1-1 1 1 1 2 1-2 1-2 1-3 1-2 1-3 1-3 1-5 1-3 1-5 1-5 1-7 1-5 1-5 1-9 1-5 1-8 1-8 1-8 1-7 1-6 1-8 1-7 1-10 1-7 1-8 1-6 1-5 1-11 1-5 1-7 1-6 1-6 1-6 1-3 1-7 1-3 1-3 1-6 1-2 1-1 1 0 1-4 1-1 1 1 1 1 1 1 1 1 1 1 1 2 1 2 1 6 1 2 1 4 1 6 1 5 1 3 1 8 1 6 1 8 1 6 1 9 1 5 1 6 1 7 1 8 1 9 1 8 1 8 1 8 1 6 1 9 1 5 1 10 1 7 1 6 1 7 1 5 1 3 1 7 1 4 1 3 1 4 1 5 1 1 1 3 1 2 1 1 1 3 1-1 1-1 1-2 1 0 1-2 1-4 1-4 1-2 1-5 1-2 1-5 1-6 1-5 1-6 1-9 1-4 1-6 1-9 1-9 1-5 1-9 1-6 1-8 1-7 1-8 1-10 1-4 1-11 1-4 1-8 1-8 1-6 1-6 1-3 1-8 1-3 1-9 1-1 1-4 1-1 1-3 1-1 1-5 1 1 1-2 1 2 1 0 1-1 1 5 1 3 1 0 1 5 1 3 1 2 1 7 1 3 1 8 1 3 1 6 1 9 1 6 1 8 1 6 1 6 1 11 1 5 1 10 1 8 1 9 1 2 1 10 1 7 1 9 1 4 1 12 1 3 1 3 1 10 1 5 1 4 1 7 1 3 1 2 1 4 1 3 1 3 1 1 1 1 1-1 1 1 1 1 1 2 1-6 1-2 1-1 1-1 1-5 1-7 1-2 1-6 1-6 1-8 1-4 1-6 1-6 1-11 1-6 1-6 1-5 1-9 1-9 1-6 1-10 1-7 1-8 1-8 1-7 1-5 1-7 1-11 1-1 1-7 1-8 1-3 1-3 1-4 1-6 1-4 1-4 1 0 1-3 1 2 1-2 1 1 1-1 1 1 1 1 1 5 1-1 1 6 1 5 1 3 1 7 1 2 1 5 1 7 1 5 1 8 1 6 1 10 1 5 1 8 1 7 1 7 1 8 1 11 1 7 1 6 1 6 1 7 1 7 1 6 1 8 1 7 1 8 1 6 1 4 1 4 1 5 1 4 1 4 1 2 1 3 1 2 1 1 1 3 1 1 1-3 1-1 1 0 1-2 1-7 1 3 1-5 1-5 1-1 1-8 1-8 1-4 1-6 1-6 1-6 1-8 1-5 1-7 1-9 1-9 1-7 1-8 1-3 1-13 1-10 1-6 1-4 1-6 1-9 1-4 1-10 1-3 1-9 1-5 1 1 1-8 1-2 1-2 1-4 1-3 1-4 1 4 1-6 1-2 1 4 1 1 1 3 1 4 1 0 1 4 1 3 1 0 1 9 1 6 1 3 1 12 1 6 1 5 1 7 1 5 1 9 1 4 1 8 1 9 1 10 1 6 1 7 1 11 1 5 1 7 1 8 1 4 1 7 1 11 1 4 1 7 1 2 1 8 1 1 1 5 1 2 1 5 1 4 1-4 1 5 1-3 1 2 1-1 1-4 1 1 1-4 1 3 1-8 1-2 1-4 1-5 1-6 1-9 1 2 1-11 1-5 1-11 1-4 1-9 1-6 1-10 1-8 1-5 1-9 1-4 1-12 1-8 1-5 1-10 1 0 1-7 1-7 1-8 1-7 1-5 1-4 1-6 1-1 1-2 1-2 1-10 1 9 1-6 1-4 1 2 1 4 1-1 1 0 1 2 1 8 1 0 1 5 1 3 1 4 1 9 1 9 1 2 1 3 1 9 1 8 1 3 1 15 1 3 1 11 1 7 1 7 1 5 1 13 1 7 1 10 1 2 1 10 1 4 1 10 1 5 1 2 1 8 1 3 1 5 1 6 1 6 1-3 1 4 1 0 1 8 1 0 1 1 1-3 1-6 1-1 1-1 1-3 1-5 1-1 1-6 1-4 1 0 1-10 1-10 1-3 1-7 1-6 1-7 1-12 1-4 1-6 1-3 1-14 1-4 1-8 1-14 1-7 1-1 1-14 1-6 1-4 1-10 1 0 1-6 1-4 1-6 1-9 1 2 1-3 1-3 1-5 1 0 1-3 1 4 1 2 1-1 1 0 1 5 1-1 1 0 1 10 1 2 1 2 1 10 1 6 1 7 1 3 1 6 1 9 1 7 1 4 1 9 1 13 1 5 1 7 1 7 1 10 1 9 1 7 1 10 1 3 1 8 1 4 1 10 1 4 1 7 1 5 1 0 1 7 1 1 1 7 1 0 1 6 1-2 1 1 1-3 1 0 1 0 1-4 1-1 1-4 1-4 1-1 1-4 1-7 1-3 1-8 1-8 1-6 1-4 1-4 1-11 1-7 1-11 1-4 1-9 1-10 1-5 1-8 1-13 1-7 1-5 1-6 1-3 1-11 1-5 1-6 1-3 1-6 1-4 1-5 1-7 1 1 1 3 1-3 1 0 1-2 1-4 1 2 1 4 1-1 1 6 1 5 1 3 1 3 1-2 1 13 1-2 1 6 1 11 1 6 1 9 1 5 1 6 1 9 1 5 1 8 1 10 1 8 1 9 1 7 1 11 1 3 1 8 1 10 1-2 1 15 1 6 1 2 1 12 1 1 1 6 1 2 1 0 1 1 1 0 1 2 1-1 1 2 1 3 1-6 1 3 1-2 1-10 1-1 1-2 1-7 1-5 1 1 1-10 1-3 1-10 1-5 1-13 1-5 1-4 1-10 1-4 1-12 1-9 1-7 1-1 1-13 1-10 1-7 1-9 1 1 1-12 1-3 1-8 1-5 1-6 1 0 1-6 1 1 1-2 1-7 1 0 1 4 1-2 1-2 1-4 1 4 1 3 1 11 1-2 1 2 1 5 1 5 1 8 1-1 1 8 1 11 1 10 1-2 1 15 1 3 1 5 1 17 1 4 1 10 1 5 1 9 1 2 1 12 1 9 1 3 1 12 1 6 1-2 1 15 1 4 1 3 1 7 1 7 1-7 1 8 1 1 1 1 1 2 1 1 1-5 1-9 1 4 1-3 1 4 1-8 1 0 1-11 1-2 1-7 1-5 1-5 1-4 1-14 1-1 1-8 1-11 1-6 1-11 1-11 1-5 1-8 1-7 1-11 1 2 1-15 1-2 1-6 1-10 1-5 1-8 1-7 1 7 1-11 1-10 1 1 1-4 1 3 1 4 1-1 1-6 1 0 1 7 1 1 1 1 1 10 1-1 1-2 1 3 1 13 1 0 1 14 1 7 1 12 1-3 1 12 1-2 1 15 1 8 1 15 1-3 1 14 1 7 1 15 1-3 1 7 1 12 1 5 1 5 1 4 1 9 1-1 1 11 1 6 1 3 1 10 1-4 1-4 1 3 1 4 1-4 1 8 1-8 1-5 1-3 1 2 1-9 1-8 1 3 1-9 1 2 1-5 1-15 1-5 1-8 1-5 1-8 1-12 1-11 1-1 1-3 1-19 1-5 1-8 1-6 1-15 1 1 1-9 1 2 1-10 1-6 1-7 1-6 1 0 1-13 1 7 1-4 1-4 1 4 1-7 1-1 1 5 1-7 1 9 1 1 1 8 1 6 1 1 1 4 1 5 1 2 1 17 1 2 1 10 1-5 1 15 1 7 1 10 1 1 1 13 1 6 1 16 1-4 1 11 1 7 1 5 1 12 1 7 1 3 1 7 1 8 1 4 1 7 1-1 1 3 1 6 1-4 1 14 1-4 1-6 1 7 1 4 1-13 1 1 1 4 1-11 1 3 1-3 1-9 1-4 1-4 1-9 1-4 1-11 1-7 1-11 1-3 1-4 1-9 1-12 1-15 1-5 1-2 1-14 1 0 1-15 1-2 1-11 1-6 1-2 1-8 1 0 1-8 1-8 1-15 1 10 1 0 1 3 1-9 1 11 1-3 1-4 1 8 1-8 1 5 1 10 1 4 1 7 1 6 1-2 1 5 1 8 1 7 1 11 1 3 1 15 1 2 1 3 1 8 1 15 1 8 1 1 1 6 1 21 1 3 1 5 1 3 1 15 1 0 1 9 1-5 1 12 1 7 1 4 1-3 1 4 1 9 1-4 1 7 1-3 1 1 1-1 1-5 1-1 1-10 1-5 1 0 1-1 1-14 1 6 1-7 1-17 1-7 1-9 1-3 1-3 1-11 1-13 1-2 1-9 1-5 1-9 1-16 1-6 1 0 1-8 1-8 1-11 1 1 1-9 1 3 1-8 1-11 1-5 1 6 1-3 1-8 1 5 1 0 1-3 1 2 1-1 1 4 1 9 1 1 1 5 1 10 1 4 1-2 1 17 1-4 1 10 1 9 1 5 1 8 1 5 1 14 1 8 1 8 1-1 1 12 1 16 1 5 1 9 1 4 1 5 1-2 1 23 1-7 1 8 1 9 1 1 1 5 1 0 1-2 1 12 1-12 1 7 1-9 1 3 1-5 1 0 1-6 1 1 1-1 1-11 1-6 1-12 1 12 1-15 1-13 1 3 1-12 1-18 1-5 1 2 1-19 1-7 1-6 1-6 1-7 1-3 1-9 1-12 1-4 1-14 1 4 1 4 1-14 1-7 1-4 1-1 1 1 1-12 1 9 1-7 1 5 1 5 1-10 1 20 1-5 1-2 1 8 1-1 1 9 1 8 1-6 1 17 1 7 1 11 1 6 1 2 1 8 1 11 1 11 1 2 1 19 1 2 1 7 1 11 1 3 1 11 1 7 1-5 1 11 1 3 1 10 1 1 1 4 1 2 1-3 1 14 1-1 1 2 1 16 1-10 1-8 1-5 1 3 1-11 1-5 1 4 1-14 1-7 1 0 1 1 1-18 1 0 1-7 1-10 1-4 1-16 1-7 1-10 1-5 1-2 1-11 1-12 1-2 1-23 1 8 1-5 1-14 1-4 1-2 1-3 1-8 1-5 1-3 1 3 1-5 1-3 1 0 1 19 1-9 1 1 1 0 1 1 1 0 1 6 1 8 1 5 1-3 1 18 1 2 1 1 1 14 1 19 1-4 1 12 1 7 1 2 1 11 1 12 1 2 1 10 1 10 1 6 1 7 1 10 1 7 1 3 1 10 1 6 1-8 1 11 1 2 1 3 1 1 1 1 1 0 1 4 1-10 1 6 1-10 1 11 1-8 1-14 1 1 1-3 1-11 1 1 1-13 1 4 1-16 1-6 1-14 1-10 1 1 1-21 1 3 1-1 1-7 1-27 1 1 1-5 1-6 1-5 1-19 1 2 1-15 1 5 1 7 1-20 1 3 1-2 1-11 1 8 1-7 1 6 1 5 1-5 1 8 1-6 1 6 1 8 1 3 1 5 1 10 1 1 1 12 1 3 1 15 1 3 1 6 1 14 1 7 1 9 1 2 1 15 1 2 1 3 1 13 1 17 1-2 1 2 1 13 1-1 1 7 1 6 1 7 1 5 1 2 1 0 1-1 1 1 1 4 1-3 1-2 1 8 1-7 1-4 1-6 1-5 1-5 1-2 1-14 1-5 1 3 1-16 1-2 1-22 1 3 1-8 1-11 1-7 1-9 1-16 1-1 1-11 1-9 1 3 1-20 1-1 1-8 1 4 1-13 1-3 1 2 1-18 1 6 1 3 1-3 1-5 1 0 1 3 1-1 1 1 1 17 1 0 1 6 1 0 1-2 1 10 1 16 1 2 1 1 1 15 1 6 1 6 1 19 1-5 1 10 1 7 1 17 1 6 1 7 1 4 1 8 1 7 1-3 1 9 1 16 1 5 1-8 1 15 1-6 1 2 1 13 1 0 1-2 1 5 1 0 1-4 1-9 1 4 1-5 1-3 1 0 1-20 1 15 1-16 1-13 1 3 1-18 1-11 1 3 1-13 1-2 1-17 1-6 1-9 1-14 1-3 1-12 1-4 1 3 1-15 1-7 1 5 1-21 1 3 1-6 1 4 1-8 1-4 1 2 1-3 1 12 1-18 1 15 1 8 1-4 1 3 1-4 1 13 1-1 1 12 1-11 1 16 1-1 1 24 1-1 1 17 1-1 1 8 1 21 1 6 1 8 1 10 1 4 1 9 1 10 1-2 1 4 1 17 1 1 1 3 1 5 1 7 1-5 1 3 1 3 1 6 1-12 1 1 1 12 1-3 1-10 1 8 1-10 1-2 1-1 1-8 1 2 1-12 1 1 1-31 1-3 1-6 1-3 1-12 1-10 1-7 1-8 1 3 1-16 1-3 1-4 1-7 1-16 1-10 1 7 1-23 1-3 1 6 1-4 1-5 1-9 1 6 1 3 1-9 1 14 1-11 1-4 1 7 1 0 1 6 1 3 1 8 1 11 1 3 1 5 1 0 1 5 1 14 1 15 1 8 1 5 1-1 1 15 1 10 1 12 1-1 1 11 1 10 1 6 1-2 1 17 1-5 1 8 1 12 1-1 1 10 1 7 1-1 1 5 1-7 1 3 1-4 1-3 1 21 1-23 1 9 1-15 1 1 1-11 1-13 1 12 1-18 1-6 1 4 1-23 1-4 1-5 1-7 1-32 1 13 1 0 1-13 1-12 1-7 1-9 1-2 1-16 1 0 1 0 1-9 1-7 1-11 1-1 1 2 1-4 1-2 1-11 1 16 1-5 1 0 1 12 1-3 1 4 1 8 1-1 1 2 1 6 1 14 1 5 1-5 1 28 1 0 1 4 1 13 1 5 1 12 1 4 1 5 1 17 1 6 1 9 1 9 1 4 1 13 1-5 1-1 1 5 1 7 1 16 1-12 1 16 1-3 1-11 1 17 1-12 1 2 1 0 1 1 1-11 1 1 1-14 1-7 1 10 1-12 1-8 1-2 1-8 1-15 1-7 1 1 1-15 1-15 1 2 1-10 1-23 1-7 1 11 1-9 1-17 1 3 1-12 1-4 1-11 1 15 1-5 1-9 1-16 1 6 1 9 1-13 1-1 1 8 1 3 1-2 1-1 1 11 1 2 1 10 1 8 1 10 1-1 1 11 1 7 1 1 1 11 1 6 1 24 1-5 1 15 1 10 1 8 1-5 1 10 1 17 1 9 1-1 1 9 1-8 1 24 1 7 1-7 1 1 1 1 1-3 1-7 1 14 1 1 1 6 1-15 1-7 1 3 1-14 1 2 1-15 1 2 1 2 1-10 1-2 1-6 1-21 1-12 1-15 1 4 1-7 1-3 1-21 1-5 1-1 1-16 1-6 1 9 1-23 1-2 1-1 1-5 1-17 1-2 1-5 1 18 1-4 1-11 1 14 1-1 1 9 1-21 1 8 1 8 1 6 1 10 1 5 1 0 1 16 1-6 1 19 1 10 1-6 1 18 1 4 1 15 1 20 1-10 1 21 1-8 1 25 1 9 1-7 1 5 1 8 1 14 1-8 1 19 1-3 1 5 1-1 1-6 1 10 1-8 1-2 1 15 1-6 1-8 1-3 1-10 1 10 1-23 1-7 1 0 1 1 1-17 1-4 1-16 1-3 1-14 1-1 1-21 1 17 1-17 1-18 1 5 1-22 1 6 1-16 1 1 1-9 1-9 1-3 1-2 1-19 1 11 1 5 1-13 1 0 1-2 1-2 1 20 1-10 1 3 1 11 1 4 1 27 1-11 1-9 1 31 1-1 1 2 1 6 1 1 1 31 1-3 1 3 1 23 1 0 1-5 1 11 1 13 1 29 1-10 1 2 1 11 1 4 1-17 1 26 1 8 1-5 1 5 1 1 1-1 1-6 1 2 1 8 1-10 1-8 1 3 1-16 1-3 1 6 1-15 1-18 1-5 1 4 1-15 1 3 1-3 1-22 1-7 1-10 1-5 1-10 1-2 1-15 1-10 1 0 1-13 1 12 1-12 1-20 1-6 1 7 1 0 1 6 1-12 1-3 1 16 1-13 1 3 1 3 1 14 1-8 1 19 1-15 1 15 1 16 1-11 1 9 1 20 1-12 1 31 1-1 1 2 1 33 1-15 1 16 1 8 1 15 1-2 1 17 1 6 1 3 1 11 1-14 1 25 1 0 1 0 1 0 1-4 1 1 1 8 1 0 1-4 1-8 1-2 1 5 1 7 1-35 1 3 1-1 1-7 1-1 1-4 1-12 1-9 1-5 1-3 1-17 1-14 1-1 1-12 1 7 1-22 1-8 1 1 1-3 1-21 1 3 1-15 1 2 1-11 1 4 1 6 1-12 1 1 1-7 1 9 1 1 1-7 1 1 1 7 1 2 1 10 1 3 1 5 1 10 1 10 1 7 1-8 1 25 1 10 1 9 1 7 1 6 1 18 1 15 1-9 1 22 1-6 1 8 1-1 1 2 1 15 1 11 1 9 1 1 1-4 1 18 1-15 1 1 1-5 1 6 1-5 1 4 1-6 1 6 1-19 1-15 1 4 1-8 1 3 1-25 1 8 1-19 1-4 1 0 1-23 1-1 1-10 1-10 1-5 1-5 1-14 1-1 1-10 1-1 1 0 1-11 1-5 1-8 1-12 1 19 1-15 1 17 1-9 1-3 1 15 1-1 1-12 1 5 1 5 1 11 1-16 1 23 1 12 1-12 1 16 1 15 1-3 1 16 1 5 1 11 1 18 1-6 1 14 1 17 1 5 1-5 1 17 1 3 1 1 1 10 1 17 1-13 1 1 1 3 1-4 1 11 1-3 1-7 1 13 1-17 1-3 1 3 1-12 1 2 1 8 1-22 1 0 1-8 1-6 1-16 1-3 1 1 1-17 1-10 1 2 1-10 1-9 1-7 1-15 1-12 1-14 1-1 1-4 1-7 1-6 1 9 1-11 1 0 1 1 1 2 1 0 1-1 1 8 1-11 1 7 1 3 1 2 1 2 1 16 1 2 1 18 1 12 1 5 1-18 1 34 1-10 1 1 1 23 1-7 1 7 1 15 1-3 1 21 1 18 1-2 1 13 1 13 1 5 1-23 1 26 1 0 1 7 1-4 1 4 1 1 1 6 1 0 1-7 1-11 1-17 1 3 1-11 1 5 1-2 1 3 1-17 1 9 1-23 1-23 1 2 1-15 1 3 1 0 1-16 1-9 1-20 1-14 1 14 1-10 1-8 1-5 1 2 1-15 1-6 1-3 1 10 1-11 1 12 1-21 1 16 1-4 1 3 1 4 1 8 1 10 1-22 1 17 1 6 1-7 1 24 1 3 1 12 1-1 1 14 1 10 1 13 1 4 1 2 1 33 1-7 1 10 1 6 1 20 1-15 1 18 1 1 1 6 1 13 1-6 1 13 1-6 1-4 1-3 1-1 1 0 1-21 1 10 1 9 1-9 1-5 1-10 1-3 1-5 1-27 1 5 1-5 1-9 1-9 1-22 1-1 1-14 1 26 1-36 1-14 1-14 1 8 1 7 1-24 1 4 1 5 1-14 1-17 1-4 1 2 1 14 1-30 1 31 1-8 1 13 1-19 1 11 1 0 1 12 1 7 1 4 1 24 1-16 1 8 1 18 1 6 1 5 1-1 1 18 1 11 1 13 1 17 1 0 1 3 1 9 1 5 1 0 1 9 1 6 1 1 1 8 1 5 1-2 1 19 1-23 1 20 1-18 1 5 1-12 1 5 1 4 1-21 1 2 1-6 1-6 1-15 1-6 1-3 1 7 1-18 1-13 1-22 1 3 1-5 1-19 1 3 1-9 1-9 1 7 1-27 1-1 1 0 1 3 1-15 1-13 1 14 1 2 1-13 1 16 1 6 1-13 1 5 1 0 1 6 1-3 1 10 1 9 1 5 1-2 1 5 1 8 1 10 1 42 1-11 1 3 1 4 1 24 1-17 1 18 1 15 1 1 1 12 1 10 1-5 1 13 1 13 1-2 1-1 1 10 1-18 1 21 1-24 1 7 1 14 1-12 1-12 1 8 1 4 1-16 1-22 1 23 1-24 1-3 1-7 1-6 1-9 1-20 1-4 1 4 1-30 1 16 1-25 1-4 1-16 1 0 1-12 1 3 1-14 1 0 1-19 1 21 1-19 1 5 1 1 1 6 1-8 1 18 1 2 1-15 1 23 1-21 1 20 1 2 1 8 1 4 1 13 1 9 1 6 1-2 1 8 1 7 1 17 1 13 1 21 1-11 1 6 1 18 1-3 1 2 1 16 1-3 1 12 1 21 1-7 1 1 1-6 1 13 1-4 1 4 1-10 1-3 1-11 1-3 1 1 1-6 1-5 1-6 1-20 1 27 1-27 1-13 1-15 1 10 1-21 1-13 1 3 1 4 1-21 1-1 1-24 1 7 1-30 1 9 1 3 1-7 1 1 1-16 1-12 1 13 1-10 1 16 1-9 1-16 1 35 1-19 1 4 1 32 1 2 1 2 1-11 1 20 1 5 1 1 1 13 1 8 1 13 1-4 1 25 1-13 1 26 1 12 1-5 1 9 1 29 1-13 1 19 1 0 1-10 1 18 1-8 1 9 1-19 1 18 1 9 1-2 1-4 1-12 1-3 1-13 1 2 1-6 1-8 1-3 1-11 1-12 1-8 1 3 1 2 1-17 1-18 1 16 1-26 1-17 1 1 1-2 1-33 1-3 1 8 1-19 1-4 1 17 1-37 1 30 1-7 1 7 1-11 1 14 1-10 1-7 1 11 1 8 1-11 1 28 1-11 1 18 1 3 1 9 1 7 1 10 1 15 1 7 1 0 1 13 1 18 1 4 1 8 1 2 1 5 1 8 1 13 1-1 1 18 1 18 1-22 1 17 1-5 1 3 1-16 1 16 1-15 1 5 1 3 1-1 1-23 1-5 1-9 1-16 1 7 1-8 1-4 1-10 1-5 1-3 1-35 1 26 1-28 1-10 1-5 1 2 1-14 1-5 1-1 1-15 1-1 1-3 1-15 1 13 1-16 1 9 1-10 1 4 1-1 1 14 1 1 1 4 1-4 1 0 1 2 1 21 1 2 1 23 1 14 1-5 1 7 1 17 1 11 1-13 1 21 1 17 1-29 1 27 1 12 1-2 1 20 1-16 1 34 1 2 1-7 1 9 1-18 1 29 1-7 1-10 1-4 1-6 1 3 1-21 1 20 1-11 1-12 1 4 1-7 1-6 1-6 1-4 1-14 1 1 1-27 1 10 1-43 1-5 1-2 1 4 1-4 1-24 1 4 1-10 1 7 1-21 1 14 1-12 1 15 1-11 1-11 1 9 1 2 1-10 1 11 1-8 1 39 1-23 1 6 1 26 1 5 1-13 1 26 1 4 1-3 1 17 1 2 1 21 1-2 1 1 1 15 1 32 1-20 1 13 1 15 1-16 1 35 1-30 1 27 1-18 1 18 1 13 1-13 1-3 1-4 1-7 1 16 1-17 1-7 1 4 1 0 1-6 1-24 1-8 1 8 1-4 1-33 1 18 1-25 1 1 1 0 1-26 1-5 1-24 1-15 1 17 1-18 1-6 1 10 1-1 1-27 1 17 1-5 1 1 1-1 1 5 1-11 1-3 1 19 1 14 1-9 1 20 1-1 1-12 1-3 1 27 1 22 1-10 1 38 1-6 1-13 1 16 1 29 1 11 1-16 1 16 1 13 1-3 1 15 1 19 1-22 1 18 1 6 1 6 1-14 1 11 1-14 1 7 1-15 1 12 1-1 1 8 1-14 1-23 1-29 1 34 1-9 1-21 1-10 1 3 1-16 1 7 1-21 1-20 1-16 1 9 1-7 1-14 1-13 1-1 1 7 1-16 1-10 1 13 1 3 1-20 1 0 1-6 1 10 1 8 1 1 1 9 1 3 1 1 1 5 1-10 1 30 1-4 1 13 1-12 1 20 1 15 1-3 1 16 1 14 1-11 1 16 1-2 1 13 1 11 1 13 1 18 1-12 1 11 1-2 1 10 1 8 1 5 1-16 1-7 1 15 1-10 1-12 1 18 1-9 1 2 1-28 1 2 1 0 1 4 1-22 1-20 1 4 1-7 1-20 1 10 1-21 1-14 1 6 1-8 1-18 1-3 1-5 1-10 1-5 1 7 1-5 1-14 1-8 1-3 1 22 1-19 1 6 1 10 1-1 1 1 1-5 1 34 1-10 1 14 1 9 1-6 1 11 1 27 1 2 1 3 1 25 1-14 1 18 1 6 1 6 1-7 1 24 1 11 1-16 1 28 1 4 1 12 1-22 1 10 1-1 1 3 1 2 1 5 1-3 1-15 1-1 1-21 1 19 1-9 1-2 1-31 1 18 1-28 1-16 1 8 1-18 1 20 1-26 1 4 1-26 1-7 1 1 1-25 1 0 1 3 1-5 1 5 1-16 1-26 1 27 1-13 1 10 1-13 1 6 1 9 1 19 1-9 1-12 1 20 1-2 1 18 1 21 1-15 1 9 1 18 1 7 1 2 1 17 1 0 1 14 1 30 1-15 1 12 1 10 1-7 1 15 1-5 1-2 1 13 1 20 1-6 1-16 1 12 1 4 1-9 1-8 1-1 1-8 1 9 1-11 1-7 1-9 1 14 1-27 1 3 1-36 1-11 1-10 1 0 1 5 1-23 1 3 1-16 1 8 1-10 1-17 1-19 1 14 1-28 1-8 1 38 1-14 1 9 1-9 1 5 1-2 1-8 1 4 1 11 1 8 1 5 1 6 1 3 1 13 1 3 1 27 1-13 1-1 1 25 1 24 1-19 1 26 1 35 1-21 1-1 1 9 1-2 1 12 1 9 1 25 1-5 1-11 1-4 1 18 1-5 1-12 1 22 1-3 1-21 1-9 1 2 1 12 1-30 1 6 1-27 1-1 1-12 1-12 1 3 1-23 1-13 1 0 1-18 1 12 1-23 1-1 1 6 1-15 1 0 1-4 1-11 1-12 1 12 1-6 1 16 1-15 1-9 1 6 1 7 1 14 1 10 1-4 1 19 1 6 1-14 1 26 1-19 1 41 1-10 1 25 1-5 1 21 1-2 1 10 1 11 1-2 1-4 1 28 1-9 1 12 1 6 1-19 1 46 1-14 1 13 1-16 1-2 1-43 1 32 1-18 1 0 1 12 1-15 1-19 1 8 1-8 1-11 1 12 1-16 1-20 1-11 1 6 1-14 1-11 1-8 1-16 1-1 1-7 1 10 1-9 1-18 1 16 1-22 1 8 1 0 1-15 1 15 1 3 1 1 1-4 1-23 1 54 1-15 1 9 1-5 1 20 1 30 1-30 1 33 1-2 1 22 1 6 1 3 1-6 1 9 1 22 1-4 1 16 1 1 1 5 1 0 1 16 1-2 1-1 1 3 1 9 1-26 1 21 1-15 1 2 1-14 1 30 1-49 1 17 1 3 1-21 1-29 1 9 1 9 1-16 1-27 1 19 1-22 1-7 1-33 1 17 1-24 1 14 1-5 1-24 1-1 1 20 1-28 1-2 1 11 1-9 1 0 1 9 1 3 1 4 1 0 1 15 1-7 1 21 1-9 1 9 1 17 1-11 1-2 1 14 1 37 1-18 1 19 1 11 1 14 1 2 1-7 1 16 1 16 1 8 1 3 1-6 1-10 1 32 1-9 1 4 1 4 1-13 1-4 1 17 1-7 1-28 1 4 1-8 1 3 1-8 1-17 1 2 1-2 1-20 1-18 1 11 1-30 1-5 1 7 1-16 1-7 1-14 1-7 1 14 1-4 1-28 1 5 1-5 1-1 1-12 1 27 1-22 1 22 1-13 1-2 1 32 1-13 1 13 1 7 1 4 1 19 1 7 1-7 1 6 1 23 1 18 1-29 1 21 1 15 1 22 1 3 1-1 1 18 1-20 1 20 1 1 1 18 1 1 1 0 1-10 1 5 1-1 1-8 1-2 1-17 1 12 1 3 1-16 1-22 1 13 1-14 1-4 1-16 1-8 1 2 1-14 1-21 1-10 1-6 1-8 1 5 1-7 1-19 1 16 1-16 1 14 1-18 1 1 1 4 1-18 1 13 1-2 1 1 1 9 1-18 1 24 1-1 1 21 1-1 1 6 1 8 1 11 1 1 1-5 1 26 1 8 1 12 1-21 1 17 1 18 1 6 1 21 1 1 1 1 1 6 1 13 1 2 1-11 1 3 1 25 1-23 1-14 1 17 1-13 1 13 1-28 1 13 1-5 1-16 1-35 1 22 1-2 1-26 1-7 1-23 1 21 1-6 1-21 1-15 1-7 1-14 1 19 1-12 1-12 1-14 1 0 1 6 1 5 1-20 1 0 1-17 1 31 1-15 1 33 1-2 1 6 1 5 1 10 1 5 1 3 1 12 1-3 1 16 1 8 1-6 1 21 1 10 1 10 1 7 1 2 1 21 1-14 1 1 1 9 1 21 1 14 1-10 1-5 1-6 1 9 1 0 1-21 1 18 1-21 1-4 1 16 1-22 1 1 1-4 1 1 1-11 1-28 1-1 1-16 1 5 1-16 1-9 1 5 1-7 1-28 1-3 1 5 1-14 1-11 1-15 1 24 1-16 1-16 1 21 1-13 1 43 1-37 1 18 1 24 1-21 1 4 1 5 1 7 1 21 1 15 1 6 1 4 1 5 1 17 1 4 1 0 1 14 1-12 1 8 1 40 1 0 1 13 1 3 1-13 1 18 1 2 1-7 1-11 1 11 1-2 1-16 1 1 1-4 1-11 1 14 1-19 1 1 1-24 1-6 1 10 1-33 1 16 1-32 1 1 1 2 1-5 1-16 1-11 1 0 1-19 1 15 1-19 1-4 1 16 1-24 1 15 1 12 1-18 1-2 1-9 1 17 1-15 1 6 1 9 1 4 1 17 1 17 1-4 1 5 1 17 1 13 1 22 1-13 1 11 1 25 1-6 1 1 1 16 1-3 1 6 1 27 1-8 1-5 1-2 1-3 1 33 1-19 1-9 1-8 1-8 1 22 1-11 1 1 1-25 1 14 1-33 1-5 1-4 1 18 1-24 1-23 1 13 1-21 1-9 1-18 1-2 1-7 1 1 1-10 1-3 1-13 1 6 1-15 1 27 1-30 1 15 1-12 1 13 1-4 1-2 1 25 1 0 1 9 1 3 1 26 1-6 1 9 1 14 1 3 1 22 1-20 1 18 1-6 1 35 1 11 1-8 1 26 1-13 1 14 1 0 1-3 1 5 1-17 1 12 1 19 1-24 1 20 1-17 1 9 1-10 1-27 1 12 1-6 1-9 1-10 1-27 1 18 1-8 1-27 1 13 1-21 1-23 1 3 1-3 1-4 1-4 1-9 1-12 1-15 1 0 1 13 1 0 1-14 1 26 1-12 1 1 1 12 1 3 1-8 1 26 1-1 1 5 1 0 1 23 1-16 1 23 1 8 1 10 1 12 1 12 1-14 1 18 1 10 1-4 1 23 1-8 1 11 1 13 1-14 1 25 1-21 1 15 1-14 1-11 1 5 1 8 1-11 1-2 1 2 1-7 1-19 1-13 1 15 1-26 1-14 1-5 1 2 1-29 1 14 1-27 1-17 1 29 1-29 1-7 1-4 1 6 1-8 1 8 1-17 1-5 1 13 1 4 1-3 1-1 1 3 1 7 1 4 1 20 1 21 1-26 1 0 1 37 1 1 1 0 1 2 1 12 1 2 1 22 1 3 1 8 1 15 1-10 1 12 1 1 1 18 1-12 1 23 1-13 1 31 1-17 1-19 1 9 1-10 1 14 1-37 1 3 1 0 1-12 1-7 1-19 1 3 1 9 1-21 1-25 1-1 1 1 1-18 1-3 1-13 1 16 1-13 1-21 1 4 1-9 1-19 1 21 1-6 1 8 1 2 1-3 1 17 1 10 1-30 1 21 1-6 1 17 1 7 1 3 1 8 1 28 1-16 1 31 1-3 1-15 1 33 1-8 1 28 1-2 1 11 1 2 1 18 1 5 1-10 1 21 1-6 1-14 1 11 1 1 1 0 1-16 1 0 1-10 1-3 1-27 1 15 1 8 1-29 1-8 1-10 1 9 1-36 1 2 1-8 1 7 1-28 1-2 1-20 1 11 1 3 1-18 1 7 1-15 1 13 1-10 1 1 1 0 1 7 1 6 1-3 1 10 1-1 1 11 1 26 1-14 1-6 1 19 1 6 1 11 1 18 1 17 1-13 1 6 1 13 1 9 1 7 1 10 1 2 1 7 1 1 1 15 1-1 1-11 1 9 1 19 1-27 1 20 1-45 1 7 1-5 1 7 1-3 1-17 1-10 1-1 1-17 1-14 1-8 1 7 1 2 1-29 1-2 1-18 1-19 1-6 1 8 1-13 1-9 1 13 1-4 1-7 1 9 1 5 1 5 1-5 1 10 1-9 1 16 1-11 1 10 1 31 1-15 1 23 1-8 1 17 1 14 1 2 1 20 1 0 1 8 1 12 1 2 1 20 1-10 1 22 1-13 1 4 1 0 1 13 1-35 1 31 1-6 1 6 1-25 1 14 1-20 1 13 1-19 1-1 1-20 1 3 1-3 1-22 1 7 1-11 1-25 1 17 1-34 1 4 1-2 1-18 1-9 1 7 1-8 1-12 1-2 1 7 1 7 1 2 1-1 1-10 1 5 1 7 1-5 1 23 1 7 1 8 1-14 1 46 1-14 1 8 1 12 1-13 1 20 1 12 1 24 1-5 1 15 1 2 1 4 1 12 1-7 1-7 1 8 1 9 1 20 1-30 1-1 1 9 1-1 1-16 1 9 1-22 1 11 1-9 1-17 1 6 1-23 1-14 1 9 1-31 1 6 1-19 1-5 1-1 1-6 1 5 1-15 1-4 1-27 1 3 1 21 1-22 1 6 1 7 1-6 1 0 1 17 1 2 1 1 1 18 1-4 1 10 1 14 1 10 1-3 1 4 1 14 1 20 1-7 1 14 1 4 1 2 1 27 1-2 1 10 1 7 1-24 1 13 1 28 1-21 1 9 1-17 1 8 1-1 1-8 1-7 1-2 1-5 1-8 1-14 1 8 1-19 1-8 1-5 1-21 1 11 1-18 1-3 1-21 1 2 1-12 1-9 1 14 1-24 1 9 1-7 1-3 1-9 1 1 1-8 1 18 1 9 1 5 1-5 1-3 1 18 1 17 1-1 1 9 1 11 1 16 1 26 1-10 1-7 1 17 1 31 1-14 1 25 1-30 1 22 1 19 1-16 1 18 1-10 1 6 1 11 1-19 1 18 1-29 1 8 1 6 1 2 1-40 1-5 1 18 1-36 1 6 1-5 1-10 1-7 1-25 1 3 1 11 1-45 1 4 1 12 1-13 1 0 1-14 1-6 1-2 1 7 1 1 1-15 1 11 1-20 1 32 1-10 1 12 1 14 1-14 1 19 1 18 1 3 1-4 1 30 1-16 1 15 1 18 1-7 1 5 1 18 1 11 1-9 1 9 1 27 1-2 1 3 1 3 1 12 1-23 1 7 1-3 1-15 1 15 1-10 1-9 1 0 1-10 1-16 1 0 1-22 1 11 1-18 1 7 1-21 1-3 1-28 1-2 1-5 1-20 1-2 1 2 1 9 1 4 1-16 1 2 1 2 1-2 1 14 1-27 1 29 1 0 1-7 1 28 1-18 1 7 1 20 1 16 1 3 1 22 1-22 1 21 1 17 1 10 1-7 1-1 1 34 1-1 1 17 1-19 1 9 1-18 1 25 1 3 1 3 1-17 1 22 1-26 1 0 1 2 1-2 1-25 1-16 1 15 1-18 1-20 1 14 1-13 1 1 1-19 1-9 1-5 1-5 1 1 1-8 1-10 1-20 1 7 1 1 1-17 1 0 1 13 1 0 1-10 1 6 1 15 1-5 1 8 1-4 1 26 1-9 1 12 1 23 1-11 1 10 1 31 1-24 1 39 1 6 1 2 1-3 1 8 1 12 1-9 1 13 1-6 1-12 1 27 1 27 1-22 1 4 1-14 1-4 1 8 1-6 1-16 1-7 1 16 1-44 1 1 1-8 1-12 1 4 1-18 1-20 1-8 1-2 1 0 1-1 1-27 1 3 1 5 1 14 1-15 1 9 1-31 1 11 1 11 1-2 1-24 1 18 1 31 1-5 1 18 1 12 1-11 1-13 1 17 1 24 1 13 1 3 1 0 1 34 1 11 1-30 1 23 1-8 1 19 1-8 1 24 1-9 1-9 1 5 1 14 1-15 1 12 1 4 1-24 1-15 1 0 1 14 1-29 1-7 1 3 1 12 1-44 1-8 1-5 1 14 1-11 1-33 1-5 1-3 1 1 1-11 1 5 1-5 1 3 1-12 1 7 1-13 1 4 1 18 1-22 1 34 1-10 1 0 1 5 1 43 1-24 1 6 1 7 1 46 1-7 1 3 1 12 1-10 1 29 1-13 1 14 1 26 1 0 1-1 1-3 1-7 1 13 1-11 1 24 1 13 1-31 1-12 1 3 1 1 1-21 1-23 1 13 1-2 1-7 1-38 1 12 1-16 1-15 1-7 1 13 1-27 1-6 1-3 1-11 1 12 1-9 1 2 1-15 1 13 1-10 1 16 1-7 1 6 1 1 1 3 1 9 1 7 1 26 1-24 1 26 1 5 1 15 1-10 1 28 1-5 1 1 1 3 1 13 1 12 1 25 1-20 1 5 1 8 1 3 1 8 1 7 1-17 1-3 1 21 1-24 1 2 1-12 1 0 1-15 1-7 1-6 1 14 1-31 1-1 1 3 1-27 1 12 1-31 1-16 1 15 1-21 1-2 1-7 1 16 1-23 1 3 1-8 1 8 1-10 1 10 1-1 1-3 1 17 1-3 1 14 1 4 1 19 1-5 1 4 1 22 1 0 1 13 1 24 1-6 1-2 1 26 1 20 1-14 1 15 1-21 1 23 1 3 1 8 1-8 1 7 1 2 1-10 1 4 1-26 1 20 1-17 1-1 1 0 1-39 1 29 1-44 1 20 1-24 1-31 1 36 1-16 1-35 1 4 1 0 1-11 1 4 1-15 1-17 1 16 1-6 1-11 1-7 1 28 1-6 1 12 1 6 1 3 1 9 1 18 1 10 1-4 1 0 1-2 1 26 1 5 1 1 1 8 1 16 1 7 1-12 1 29 1 7 1 16 1-17 1 10 1-20 1 23 1-12 1-2 1-10 1 26 1-33 1 10 1-5 1-5 1-6 1-9 1 12 1-37 1-5 1 1 1-17 1-33 1 11 1 0 1-28 1 18 1-12 1-1 1-8 1-13 1 0 1 12 1-6 1-1 1 7 1-1 1 11 1 5 1-2 1 17 1-7 1 14 1 16 1 5 1 8 1 5 1 7 1 12 1 15 1-15 1 13 1 14 1-2 1 12 1 10 1 0 1-23 1 18 1 0 1 14 1-12 1-19 1 14 1-11 1-7 1-1 1-16 1 6 1-11 1 2 1-41 1 15 1-8 1-21 1 10 1-13 1 0 1-15 1-2 1-15 1 2 1 1 1-6 1-3 1 3 1-14 1 4 1 8 1 16 1-12 1 23 1-8 1 8 1 14 1 11 1 7 1-19 1 32 1 9 1-3 1 14 1 2 1 30 1 6 1-37 1 39 1 7 1 0 1-6 1 24 1-14 1 3 1-8 1 2 1 4 1-1 1 10 1-40 1 18 1-18 1-29 1 12 1-18 1-1 1-18 1-2 1-4 1-26 1 8 1 3 1-17 1-14 1 11 1-22 1-3 1-16 1 26 1-12 1 24 1-10 1-2 1 1 1 10 1 6 1 12 1 6 1 1 1 5 1 8 1 6 1 7 1 38 1-4 1 5 1 13 1-10 1 10 1 14 1 3 1-7 1 19 1 2 1-11 1 4 1-10 1 8 1-7 1 8 1-1 1-15 1 19 1-37 1-14 1 0 1-5 1-22 1 2 1-19 1-20 1 6 1-10 1-3 1-5 1-6 1-3 1-14 1 23 1-15 1-10 1 15 1-6 1 8 1-8 1 0 1 0 1 15 1 18 1-2 1 5 1 1 1 43 1-16 1 31 1-16 1 11 1 8 1 4 1 12 1 17 1-4 1-3 1 17 1 1 1 14 1-22 1 16 1 1 1-5 1 1 1-11 1-20 1-1 1-13 1-8 1 15 1-22 1-19 1-16 1 27 1-9 1-27 1 0 1-2 1-20 1 4 1 9 1-27 1-5 1-8 1-5 1 7 1 4 1 6 1 12 1-8 1-10 1 9 1-7 1 28 1 24 1-18 1 7 1 30 1 13 1-8 1 4 1 26 1 1 1 11 1 12 1 7 1-8 1 9 1 7 1 21 1-40 1 26 1-8 1 8 1-18 1 15 1-20 1-3 1-17 1 12 1-12 1-12 1-31 1 26 1-27 1 1 1-18 1-12 1-3 1-9 1-7 1 2 1-9 1 10 1-16 1 1 1-6 1-10 1 5 1 1 1-4 1 38 1-22 1 10 1 8 1 19 1-10 1 2 1 10 1 20 1 2 1 6 1 0 1 14 1 18 1 8 1 6 1 5 1 12 1-8 1 18 1 3 1-11 1 9 1-4 1 15 1-31 1 3 1-4 1-12 1-4 1 1 1-34 1 15 1-22 1-18 1 15 1-15 1 0 1-27 1 6 1 1 1-30 1-2 1 13 1-24 1 7 1-26 1 9 1 23 1-1 1 8 1-6 1 6 1-1 1 13 1 22 1 1 1-13 1 11 1 22 1 8 1 10 1 7 1 25 1-18 1 23 1-1 1 32 1-22 1-6 1 38 1-34 1 11 1 12 1 7 1-29 1 5 1-7 1 3 1-1 1-23 1 10 1-26 1 17 1-16 1-4 1-36 1 21 1-14 1-26 1-4 1-26 1-3 1 6 1-5 1 21 1-12 1-7 1-2 1 12 1-3 1 2 1-14 1 11 1 13 1 5 1 2 1 18 1 4 1 22 1-14 1 6 1 15 1 8 1 9 1-8 1 25 1 22 1 3 1-12 1 1 1 6 1 1 1 7 1 17 1-9 1 8 1-17 1 5 1-19 1-4 1 10 1-33 1-9 1 13 1-24 1-15 1 1 1-20 1-2 1-16 1 1 1-4 1-13 1-8 1 1 1 3 1 1 1-5 1 1 1-7 1 3 1 5 1 3 1 4 1-8 1 10 1 25 1-2 1 16 1 6 1 11 1 12 1 17 1 19 1-18 1-2 1 28 1-7 1 14 1-2 1 15 1-3 1 1 1 22 1-26 1 2 1 21 1-35 1 2 1-8 1-8 1 1 1-2 1-14 1-9 1-35 1-5 1 14 1-10 1-15 1-11 1 5 1-3 1-35 1 4 1 21 1-1 1-11 1-11 1-3 1 10 1 15 1-14 1 0 1 12 1 11 1-4 1 14 1 19 1-3 1 22 1-13 1 14 1 23 1-4 1-2 1 41 1-13 1-11 1 36 1-9 1 16 1-12 1 25 1-8 1-12 1-9 1-6 1-5 1-12 1-2 1-7 1 9 1-16 1-42 1 1 1 5 1-8 1-11 1 5 1-32 1 16 1-10 1-29 1 38 1-29 1 17 1-13 1-6 1 2 1-4 1 11 1-3 1 15 1-3 1 16 1-13 1 27 1-12 1 20 1 7 1-6 1 20 1 29 1-16 1 43 1-24 1 13 1 17 1-10 1 8 1-20 1 27 1-22 1 5 1 20 1 0 1-25 1 10 1-8 1-2 1 3 1-16 1-2 1-3 1-21 1-30 1-7 1 8 1-10 1-12 1-17 1 4 1 2 1-7 1-19 1-19 1 31 1 13 1-29 1 10 1 0 1-8 1 16 1 19 1 12 1-12 1 19 1-7 1 24 1 0 1 20 1-2 1 9 1-2 1 1 1 23 1 14 1-22 1 21 1 2 1 3 1-6 1 6 1 3 1-2 1 15 1-6 1-10 1-7 1-5 1-10 1-5 1-3 1 3 1-33 1-7 1 6 1-23 1-7 1-5 1 12 1-13 1-13 1-27 1 20 1-8 1 6 1-8 1-8 1 26 1 10 1-33 1 11 1 12 1-10 1 7 1 39 1-11 1-5 1 27 1 5 1-4 1 22 1 18 1 2 1 14 1-12 1 29 1-23 1 32 1-15 1 18 1-11 1-14 1-2 1-5 1 11 1-7 1-6 1-11 1 4 1-23 1-1 1-17 1-2 1-11 1 6 1-12 1 0 1-18 1-8 1-17 1 15 1-50 1 30 1-17 1 0 1 36 1-22 1-16 1 42 1-29 1 22 1 1 1 0 1 29 1-14 1 17 1 10 1-6 1-19 1 41 1 6 1 15 1 14 1-3 1-6 1 19 1-2 1 15 1-26 1 44 1-23 1 0 1 1 1 11 1-4 1-14 1-10 1 7 1-9 1-25 1-13 1 8 1-8 1-9 1-41 1 12 1-3 1-18 1-20 1 5 1 21 1-18 1 0 1-2 1 7 1-8 1 8 1-12 1 7 1 19 1 8 1-6 1-4 1 9 1 14 1 42 1-20 1 11 1 5 1 18 1 0 1 10 1-27 1 27 1 15 1 4 1 4 1 0 1 8 1-4 1-11 1 1 1 2 1-14 1 6 1 7 1 1 1-18 1-14 1-14 1-15 1 8 1-7 1-25 1-13 1 9 1-16 1-18 1 5 1-2 1 17 1-39 1 5 1 4 1 6 1 9 1-9 1 3 1-8 1 29 1-21 1 21 1-4 1 30 1-5 1 0 1 21 1 25 1-3 1-1 1 28 1 8 1-11 1 18 1-11 1 23 1 9 1-9 1-22 1 23 1-10 1-6 1 9 1-26 1 4 1-10 1 15 1-7 1 2 1-35 1-9 1-19 1-16 1 9 1-8 1-15 1-18 1 18 1-21 1 5 1-2 1-14 1 15 1 3 1-17 1 9 1 6 1 3 1-1 1 15 1-4 1 11 1-3 1 11 1 13 1 20 1 5 1 16 1-26 1 39 1-1 1-1 1 33 1-1 1 0 1 9 1 4 1-7 1-19 1 4 1 4 1-4 1 12 1-30 1-4 1 8 1-21 1-5 1-5 1-4 1-12 1-6 1-23 1-7 1-7 1-2 1-4 1-30 1 36 1-35 1 7 1 2 1 6 1-1 1 12 1 6 1-8 1 21 1-19 1 5 1 54 1-11 1-10 1 10 1 10 1 5 1 6 1 7 1-2 1 25 1-2 1 30 1-10 1 14 1-24 1-9 1 19 1 17 1-14 1-5 1-6 1-15 1-5 1 30 1-49 1 11 1-8 1-29 1 8 1 3 1-9 1-23 1-16 1-14 1 11 1-3 1-26 1 18 1-22 1 11 1 0 1 5 1-3 1 11 1 6 1 0 1 11 1-3 1 10 1 12 1 8 1 9 1-11 1 27 1 14 1 6 1-2 1 16 1 6 1 7 1 1 1 1 1 2 1 23 1-5 1 15 1-37 1-6 1-6 1 7 1-16 1 5 1-7 1 7 1-17 1-10 1-25 1-16 1 13 1-17 1-7 1 3 1 3 1-16 1 2 1-15 1-5 1-1 1-1 1-6 1 16 1-16 1 30 1-12 1 2 1 19 1 15 1-14 1 22 1-6 1 9 1 16 1 9 1-1 1 14 1 21 1-5 1 2 1 9 1 4 1 7 1 1 1 9 1 5 1-28 1 15 1-12 1 12 1-22 1 3 1-46 1 33 1-9 1-29 1-11 1 24 1-32 1-15 1 13 1-27 1 6 1-2 1-11 1-3 1 6 1-39 1 27 1 3 1-14 1 12 1-10 1 21 1-1 1 10 1 6 1 12 1 7 1-9 1 33 1 8 1 6 1 0 1 10 1 2 1 29 1-10 1 10 1 5 1-2 1 24 1-22 1 1 1 14 1-16 1-21 1 15 1-16 1 1 1-1 1-7 1-14 1-26 1-4 1 7 1-26 1 2 1-2 1-19 1 7 1 1 1-34 1 27 1-26 1 19 1-16 1 2 1 4 1 21 1-17 1 4 1 15 1-2 1-3 1 26 1-2 1 23 1-6 1 6 1-10 1 25 1 12 1-2 1 31 1-15 1 21 1 5 1-15 1 10 1-10 1 27 1-19 1 5 1-7 1 11 1-34 1 0 1 4 1-4 1-13 1-32 1 6 1-7 1-17 1-3 1-10 1-13 1-2 1-11 1 16 1-17 1 2 1-6 1 1 1 7 1-1 1-9 1 19 1 12 1-12 1 3 1 21 1 4 1 18 1 3 1-4 1 12 1 15 1 12 1 22 1-13 1 5 1 0 1-5 1 20 1-4 1 22 1-23 1 2 1-8 1 4 1-3 1-16 1 15 1-20 1-12 1 10 1-5 1-25 1-6 1-13 1-9 1 5 1-18 1-15 1 9 1-6 1 4 1-23 1-13 1 32 1-20 1 0 1 17 1 2 1 12 1 3 1-3 1 3 1 13 1 1 1 16 1 22 1-17 1 12 1 27 1-17 1 21 1 10 1-12 1 49 1-5 1-21 1 11 1 8 1-25 1 8 1 14 1-10 1-20 1-16 1 31 1-30 1-2 1 5 1-25 1 5 1-19 1-31 1 3 1-10 1-6 1-4 1-11 1 16 1-11 1-14 1 14 1-3 1-15 1-1 1 25 1 7 1-8 1 9 1 17 1-5 1 9 1 13 1-19 1 25 1 14 1 7 1-12 1 27 1 25 1-5 1 8 1 10 1-5 1 2 1 3 1 4 1-15 1 22 1-29 1 3 1-8 1 19 1-48 1 26 1-17 1-24 1 3 1-11 1 10 1-26 1-15 1-12 1 3 1-10 1-7 1 7 1-1 1-29 1 28 1-19 1 14 1-11 1 26 1-6 1 8 1 13 1 3 1 19 1 2 1 12 1-3 1 18 1 21 1-2 1 5 1 15 1-16 1 14 1 0 1 19 1-2 1-13 1 23 1-19 1-1 1 2 1-11 1 6 1-20 1 7 1-8 1-35 1 12 1 5 1-40 1 9 1 19 1-43 1-17 1 0 1-20 1 14 1-10 1 13 1-12 1-14 1 11 1 6 1 25 1-11 1 15 1-14 1 22 1-3 1 22 1-20 1 40 1-4 1-16 1 32 1 19 1-7 1 3 1 7 1 34 1-18 1 26 1-39 1 19 1 4 1-13 1-2 1 13 1-34 1 13 1 8 1-39 1-10 1-6 1-2 1 6 1-28 1-18 1 2 1-15 1 17 1-25 1-4 1 20 1-2 1-11 1-9 1-3 1 9 1 1 1 4 1 3 1 1 1 8 1 13 1 5 1 16 1-4 1 22 1-12 1 25 1 6 1 18 1 3 1 1 1 7 1 11 1 9 1-10 1 0 1-4 1-8 1 13 1 14 1-24 1 12 1-13 1-30 1-4 1 4 1-9 1-14 1 7 1-31 1 0 1-30 1 21 1-27 1 11 1-22 1 17 1-20 1 10 1 4 1-6 1-4 1 4 1-7 1 13 1 41 1-15 1 24 1-8 1-2 1 29 1 8 1-5 1 13 1-11 1 21 1 5 1-7 1 28 1-1 1 13 1-11 1-8 1-4 1 12 1 4 1-4 1 1 1-21 1-20 1 30 1-10 1-45 1 21 1-28 1 7 1-30 1-8 1-1 1-14 1 2 1-11 1-17 1 5 1 16 1 1 1-5 1 1 1 0 1 11 1-7 1 12 1 4 1 11 1 2 1 27 1-19 1 22 1 7 1 8 1 3 1 11 1 13 1 10 1 20 1-14 1 8 1 2 1-27 1 43 1-21 1-15 1-1 1-8 1 19 1-10 1-24 1 1 1-29 1 6 1-8 1-12 1-1 1-13 1 1 1-14 1-2 1-13 1 13 1-2 1-22 1 1 1 13 1-6 1 11 1-27 1 41 1-27 1 33 1-5 1 15 1 10 1-5 1 11 1 20 1 15 1-22 1 15 1 20 1 10 1 0 1 6 1-8 1 24 1-9 1 8 1-23 1-8 1 15 1-11 1-15 1 10 1-1 1-28 1-4 1-1 1-26 1 3 1 12 1-30 1-4 1-27 1 13 1-3 1-11 1-1 1 15 1-17 1 6 1-16 1-8 1 40 1 4 1 5 1 5 1 8 1 0 1-2 1 34 1 11 1 12 1-21 1 6 1 37 1 8 1-12 1-4 1 5 1 11 1-3 1 5 1 8 1-27 1 16 1 8 1-12 1 5 1-23 1-19 1 16 1-33 1-19 1 8 1 7 1-12 1-13 1 2 1-8 1-16 1-6 1-12 1 15 1-33 1 8 1 3 1 17 1-21 1 26 1-17 1 14 1 27 1 3 1-15 1 18 1 20 1 6 1 9 1 18 1 3 1 12 1 4 1-3 1 20 1-13 1 9 1-6 1-1 1-4 1 4 1-4 1 4 1-13 1 9 1-14 1-18 1-1 1-13 1 6 1-34 1 11 1-18 1-4 1-18 1 7 1 1 1 4 1-20 1 7 1-19 1-10 1 39 1-7 1-13 1-4 1 15 1 6 1 6 1 7 1-2 1 19 1 28 1 1 1 2 1 19 1 3 1 10 1 8 1-9 1 16 1 10 1-1 1-7 1-22 1 18 1-15 1 6 1 22 1-32 1 6 1-3 1-11 1-38 1 26 1-19 1-27 1-4 1 16 1-24 1-3 1-10 1-15 1 10 1-6 1-20 1 33 1-14 1-7 1 21 1-2 1 12 1-9 1 15 1-6 1 6 1 19 1 13 1 2 1 11 1 22 1-15 1 16 1 1 1 28 1-18 1-9 1 18 1 23 1-15 1 0 1-6 1 2 1-13 1 5 1-14 1 2 1-16 1-18 1 6 1-21 1 7 1-14 1-10 1-23 1 14 1-27 1 22 1-18 1-15 1 0 1 17 1 3 1-20 1 24 1-15 1 17 1 1 1-17 1 15 1 16 1 31 1-8 1 12 1 10 1-6 1 40 1-13 1 9 1 15 1-21 1 35 1-10 1 1 1 24 1-9 1-7 1-21 1-6 1-2 1-3 1 18 1-33 1-1 1-26 1-11 1-18 1 6 1-9 1 11 1-19 1 7 1-28 1 17 1-13 1 3 1-4 1-10 1 12 1-5 1 17 1-20 1 27 1-10 1-4 1 55 1-6 1 1 1-5 1 26 1 0 1 19 1-5 1 25 1-15 1 45 1-7 1-36 1 19 1 11 1-33 1 10 1-4 1 12 1-17 1-5 1 15 1-31 1-1 1-24 1-9 1 11 1-9 1-17 1-13 1 4 1-10 1-13 1-3 1-11 1 8 1 10 1 10 1-25 1 14 1 5 1 4 1 19 1-5 1 31 1-15 1 14 1-19 1 23 1 16 1 5 1 2 1 23 1 2 1 7 1-25 1 30 1 24 1-28 1-18 1 36 1-49 1 34 1-16 1 10 1-9 1 2 1-10 1 3 1-43 1 15 1-25 1-9 1 2 1-15 1-6 1-2 1-11 1-4 1 8 1 1 1-6 1-9 1-12 1 3 1 16 1-1 1 15 1-3 1 18 1 5 1 16 1 6 1-10 1 41 1-4 1 14 1-9 1-2 1 28 1 31 1-32 1 2 1 25 1-15 1-3 1 21 1-36 1-2 1-4 1 7 1-12 1-9 1-20 1 6 1-35 1 3 1 18 1-49 1 8 1 1 1-13 1 15 1-25 1 25 1-16 1-25 1 2 1 19 1 10 1-15 1 16 1 4 1 3 1 26 1-11 1 40 1-29 1 41 1-1 1 9 1-7 1 7 1 10 1 4 1 4 1 9 1 21 1 5 1-1 1-26 1-1 1-6 1-9 1-2 1 1 1-2 1-5 1-42 1-6 1 15 1-20 1-16 1-20 1 16 1-15 1-16 1 27 1-14 1-10 1 7 1-30 1 15 1 11 1 16 1-14 1 9 1 19 1 7 1 20 1-6 1-1 1 8 1 13 1 6 1 23 1 6 1-11 1 14 1 17 1-10 1-1 1 2 1 6 1 5 1-13 1-18 1 12 1 2 1-18 1 9 1-24 1-3 1-22 1 0 1-19 1-22 1 18 1 0 1-21 1 0 1-7 1 4 1-14 1 4 1 24 1-19 1-3 1-5 1 23 1 9 1-14 1 26 1 1 1 5 1 6 1 17 1 21 1-14 1 24 1 8 1-20 1 18 1 25 1-2 1 0 1 6 1 13 1-31 1-2 1 2 1 1 1-12 1-12 1 11 1-16 1-7 1-22 1-4 1 7 1-16 1-33 1 21 1-19 1 3 1-25 1 10 1 2 1 6 1-9 1-10 1 4 1 25 1-26 1 25 1 16 1-5 1 16 1 9 1 9 1 4 1 13 1 21 1-15 1 19 1-12 1 13 1 4 1 9 1-10 1 19 1 7 1-16 1 30 1-29 1-11 1 1 1-25 1-2 1-2 1-3 1-25 1 10 1-12 1-21 1-7 1-23 1 17 1 12 1-32 1-9 1 12 1-19 1-2 1 27 1 1 1 12 1-14 1 4 1 8 1 27 1 4 1 15 1 11 1 7 1 11 1-6 1 2 1 5 1 14 1 13 1-3 1-2 1 11 1-2 1 3 1 1 1-9 1 8 1-28 1 22 1-29 1 12 1-39 1-2 1 9 1-13 1-2 1-20 1-13 1-30 1 35 1-34 1 15 1-12 1-9 1 3 1 1 1 9 1 1 1 2 1-6 1 35 1-3 1 15 1 6 1 7 1-11 1-2 1 17 1 36 1-5 1 20 1-11 1-3 1 12 1 0 1 13 1 20 1-1 1-21 1-11 1-11 1 11 1-11 1-9 1-16 1 3 1 2 1-32 1-2 1-9 1 9 1-21 1 11 1-4 1-24 1-2 1-13 1-11 1 15 1-18 1 27 1-11 1 26 1-9 1 11 1 7 1-1 1 35 1-12 1 19 1-1 1 6 1 16 1 8 1 15 1-11 1 18 1-8 1 22 1-28 1 25 1-24 1 15 1-14 1 2 1-15 1 1 1-21 1-2 1-9 1-19 1 15 1-30 1 4 1 8 1-28 1 1 1-26 1 18 1-9 1-5 1 22 1-25 1 17 1-22 1 1 1 23 1 22 1-11 1 8 1 3 1 19 1 19 1-2 1 17 1-20 1 34 1 7 1 0 1 18 1-4 1 0 1 6 1-2 1-16 1 6 1 16 1-14 1-18 1 8 1-15 1-7 1-14 1-2 1-9 1-2 1-21 1 5 1-36 1 11 1-4 1-16 1 6 1-5 1 0 1 7 1 3 1 0 1-16 1 24 1 3 1 7 1-4 1-5 1 39 1-6 1 13 1 14 1 0 1 27 1-15 1 14 1 18 1-22 1 11 1-1 1 29 1-13 1 1 1-15 1-12 1 29 1-26 1-6 1-20 1 3 1 4 1-21 1 0 1-12 1-17 1-2 1-15 1 12 1-45 1 6 1 3 1 19 1 9 1-13 1-4 1-23 1 15 1 25 1-12 1 7 1 21 1-4 1 19 1 19 1 14 1-2 1-3 1 32 1 10 1-17 1 39 1-44 1 27 1-12 1-11 1 33 1-7 1-39 1 22 1-8 1-11 1-17 1-11 1 4 1-4 1-13 1-12 1-19 1 4 1-25 1 22 1-20 1-17 1 1 1 8 1 13 1-1 1-4 1-1 1 10 1 18 1-1 1-5 1 5 1 32 1-2 1 23 1-3 1-34 1 45 1 12 1 9 1 12 1 12 1-15 1 5 1-17 1 32 1-23 1-13 1 31 1-33 1 18 1-30 1-18 1 7 1-12 1 2 1-20 1-17 1 5 1-9 1-12 1-11 1 20 1-22 1 5 1-14 1-6 1 8 1-8 1 28 1-2 1 12 1-4 1 7 1 12 1 19 1-3 1 13 1-2 1 18 1-7 1 18 1 28 1-12 1 18 1-21 1-3 1 16 1-5 1 18 1 5 1-22 1-9 1 7 1-24 1-10 1-12 1-19 1-1 1 3 1-14 1-13 1 9 1-32 1-1 1 6 1 1 1-49 1 29 1-1 1-8 1 12 1 12 1-1 1 23 1-10 1 32 1-12 1 7 1 31 1-27 1 41 1-14 1 24 1-1 1 16 1-27 1 19 1-5 1 13 1 1 1 5 1 2 1-12 1 0 1-3 1 6 1-19 1-18 1 3 1-18 1-4 1 1 1-10 1-10 1-13 1-7 1-20 1 19 1 6 1-31 1 12 1-3 1-27 1 15 1 13 1 2 1 15 1-1 1 24 1 10 1 6 1-12 1 9 1 32 1-10 1 21 1-6 1 21 1-8 1 14 1 5 1-2 1-2 1 6 1 6 1-36 1 16 1 9 1-3 1-2 1-31 1-30 1 22 1-22 1 7 1-40 1 0 1-7 1-17 1-8 1 3 1 14 1 6 1-3 1 9 1-35 1 25 1 1 1 6 1-13 1 35 1-10 1 18 1 14 1 28 1-21 1 26 1 5 1 0 1 8 1-5 1 23 1-6 1 0 1 3 1-7 1 7 1-19 1 15 1 2 1-21 1-21 1 10 1-8 1-12 1-14 1-6 1-14 1 14 1-42 1 4 1 9 1-28 1 7 1-13 1 27 1-29 1 19 1 26 1-25 1 17 1 14 1-1 1 27 1-18 1 17 1 10 1-9 1 23 1 16 1 11 1-3 1-6 1 22 1 8 1-19 1 10 1 0 1-24 1 31 1-19 1 15 1-22 1-17 1-14 1 17 1-31 1-9 1 1 1-36 1 17 1 2 1-20 1 18 1-41 1 3 1 12 1-11 1 1 1-13 1 30 1 12 1 13 1-11 1 20 1-6 1 2 1 18 1 15 1-14 1 24 1 3 1 1 1 30 1 2 1-31 1 31 1 11 1-7 1 3 1 5 1-12 1-8 1-6 1-12 1 16 1-11 1-32 1 4 1-27 1 1 1 9 1-29 1 9 1-20 1-16 1-14 1 19 1-10 1 3 1-4 1 37 1-20 1-3 1 4 1 19 1-9 1 5 1 20 1 12 1 11 1 3 1-2 1 5 1 28 1 12 1 4 1-14 1 12 1 1 1-1 1 1 1 3 1 6 1-8 1-14 1-9 1 0 1-7 1-28 1 10 1-16 1-3 1-3 1-2 1-17 1-4 1-23 1 16 1-11 1-14 1 8 1-6 1-1 1 29 1-9 1 12 1-18 1 23 1 2 1-4 1 31 1 4 1 6 1 15 1-7 1 12 1 5 1 15 1 9 1 3 1 2 1 14 1-22 1-6 1 5 1 0 1-11 1-9 1-9 1-23 1 19 1-22 1-12 1-3 1-6 1 1 1-12 1-20 1-14 1 18 1-15 1-2 1-6 1 9 1 1 1-2 1 27 1-7 1 26 1 9 1-3 1 16 1-12 1 4 1 22 1 7 1 9 1 8 1 2 1 3 1 13 1 6 1-1 1-14 1 12 1-22 1 14 1-22 1 20 1-12 1-20 1-8 1-2 1-32 1 11 1-11 1 0 1-31 1 2 1-2 1 16 1-25 1 6 1-10 1-5 1 18 1-7 1-2 1 12 1 12 1 14 1 4 1 15 1-14 1 18 1 22 1-3 1 21 1 29 1-39 1 6 1 32 1-4 1-7 1 7 1 4 1-5 1-6 1-1 1-14 1-2 1-2 1-16 1 9 1-41 1 23 1-26 1-13 1-9 1-6 1-16 1 18 1-15 1-6 1 5 1 0 1-18 1 23 1 1 1 2 1 5 1 3 1 12 1 2 1 11 1 6 1 0 1 31 1-16 1 29 1-4 1 12 1 10 1 21 1-34 1 26 1 0 1-20 1 8 1-22 1-3 1 4 1-3 1-13 1 13 1-24 1-9 1-3 1-16 1 9 1-32 1-11 1 20 1-19 1-18 1 9 1 13 1 0 1-17 1-7 1 34 1-6 1 15 1 2 1 2 1 12 1 16 1-19 1 31 1 9 1-4 1 18 1 9 1-6 1 25 1-15 1-1 1 5 1 7 1-3 1 13 1-20 1-10 1-13 1 0 1-3 1-5 1-17 1-11 1-19 1 3 1-3 1-11 1-2 1-8 1 16 1-9 1-6 1-17 1 7 1 0 1-6 1 28 1-16 1 15 1 19 1-14 1 38 1 6 1 0 1 3 1 14 1 28 1-12 1 4 1-22 1 15 1 15 1 13 1-15 1 14 1-17 1-7 1 2 1-13 1-1 1-6 1-30 1 0 1 0 1-4 1-18 1-12 1-11 1-12 1 5 1 11 1-34 1 7 1 3 1-4 1 31 1-8 1 7 1-11 1 31 1-1 1-10 1 18 1 19 1-14 1 42 1-10 1 15 1-1 1 14 1 11 1-7 1 17 1-17 1 8 1-15 1 11 1-2 1-17 1-15 1 26 1-30 1-14 1 12 1-15 1-24 1 6 1-10 1-31 1 20 1-6 1 10 1-15 1 0 1-30 1 6 1 28 1-29 1 17 1 16 1-3 1 12 1 21 1 18 1 1 1 0 1 12 1 13 1-10 1 27 1-13 1 18 1-2 1 14 1-10 1 7 1 8 1-21 1-4 1-15 1-1 1 6 1-13 1 10 1-22 1-34 1-11 1-1 1-3 1-10 1-6 1 17 1-12 1-24 1-1 1 9 1 7 1 4 1 5 1 10 1 16 1-14 1 14 1 7 1-11 1 21 1 22 1-5 1 30 1-18 1 14 1 10 1-3 1-5 1 21 1 6 1-32 1 18 1-18 1 17 1-17 1 4 1-21 1 1 1-5 1-31 1 3 1 15 1-27 1-1 1-4 1-12 1-6 1-9 1 6 1 10 1-13 1-13 1 26 1-16 1 7 1 16 1 0 1 19 1 5 1 15 1-5 1-1 1 30 1-11 1 41 1-6 1 6 1-23 1 26 1-12 1 28 1-23 1-7 1 2 1 22 1-36 1-14 1-13 1 1 1 12 1-24 1-20 1 9 1-23 1 3 1-12 1-13 1 11 1-40 1 26 1-2 1 11 1-5 1 7 1 17 1 6 1-11 1 12 1 34 1 4 1-10 1 7 1 2 1 27 1-11 1 16 1 8 1 1 1-8 1 7 1-3 1 16 1-6 1 5 1-10 1-8 1-6 1-19 1-6 1-12 1-3 1-18 1 1 1-18 1-3 1-9 1 2 1 6 1-1 1-38 1 15 1 0 1 8 1 6 1-30 1 46 1-4 1 8 1 19 1 10 1 3 1 6 1 10 1-5 1 29 1-9 1-5 1 12 1 24 1 22 1-38 1 4 1 10 1-22 1 13 1-11 1 6 1-21 1-1 1-8 1-25 1 0 1 8 1-31 1-9 1 9 1-11 1-10 1-1 1-7 1-7 1 11 1-25 1 31 1 3 1-21 1 2 1 31 1 10 1 18 1-14 1 19 1 20 1-4 1-2 1 15 1-9 1 16 1 12 1 8 1-4 1-6 1 2 1-4 1 5 1-11 1-10 1 7 1 3 1-39 1 3 1 1 1-16 1-4 1 7 1-23 1 5 1-22 1-1 1-16 1 10 1-5 1 7 1 4 1 13 1-19 1 14 1 15 1 0 1 14 1 12 1 0 1-1 1 24 1 20 1-1 1-17 1 32 1-16 1 19 1-8 1 9 1 14 1-14 1-29 1 18 1-13 1 2 1-9 1-13 1-11 1-27 1 14 1-7 1-4 1-1 1-4 1-29 1 21 1-37 1 4 1 11 1 9 1-10 1 4 1-7 1 25 1 3 1 5 1 10 1 13 1 20 1 8 1-1 1 4 1-5 1-6 1 12 1 18 1-11 1 22 1 5 1-30 1 33 1-10 1-7 1-23 1 14 1-22 1 4 1 0 1-24 1-9 1 5 1-11 1-9 1-25 1-1 1-2 1-6 1 8 1-11 1 12 1 9 1-3 1-4 1 7 1-3 1 36 1-7 1 2 1 23 1-3 1 16 1 15 1-15 1 33 1-19 1 19 1 9 1 2 1-1 1 0 1-13 1 18 1-36 1-2 1-13 1 17 1 5 1-26 1-14 1-14 1 0 1-13 1-10 1 10 1-40 1 25 1-17 1-10 1 18 1-7 1-15 1 24 1-9 1 14 1 7 1 3 1 18 1 9 1-3 1 16 1 7 1 25 1-5 1-5 1 9 1 10 1 12 1 3 1-10 1-11 1 11 1-16 1 11 1-21 1 15 1-20 1 4 1-26 1-9 1 7 1-11 1-11 1 3 1-12 1-7 1-21 1-9 1 17 1-2 1-4 1 10 1 2 1-6 1 12 1 10 1 13 1-12 1 30 1 2 1 21 1 4 1 1 1 12 1-3 1 11 1 19 1 12 1-32 1 16 1-23 1 12 1 4 1-19 1 2 1-10 1 2 1-25 1-14 1 8 1-33 1 16 1-17 1 12 1-3 1-46 1 3 1 0 1 28 1-20 1 0 1 7 1 2 1 18 1-1 1 17 1 0 1 2 1 21 1 4 1 10 1 4 1-1 1 14 1 4 1 24 1-8 1-9 1 18 1-5 1 3 1-27 1 14 1-3 1-21 1-12 1-3 1-13 1-2 1-5 1-6 1-7 1-7 1-17 1-1 1-6 1-9 1 5 1 13 1-5 1 5 1 12 1-15 1 19 1 8 1 6 1-12 1 21 1-4 1 20 1 12 1-2 1 7 1 12 1 17 1-1 1 10 1-8 1-3 1-16 1-2 1 4 1-9 1 1 1-33 1 5 1-20 1 14 1-10 1-15 1 0 1-9 1 6 1-26 1 3 1-11 1 8 1 15 1-23 1-5 1 28 1 2 1-2 1 7 1 22 1-27 1 16 1 26 1 21 1-13 1-8 1 19 1 4 1 27 1-7 1 21 1-33 1 15 1 26 1-5 1-27 1-1 1-2 1-16 1-22 1 8 1 13 1-26 1 3 1-14 1-20 1-2 1 3 1-17 1 4 1-16 1 6 1-7 1 8 1-7 1 13 1 4 1 12 1 0 1 28 1-37 1 43 1 1 1 15 1 9 1-1 1 16 1 6 1 14 1-1 1 5 1-29 1 32 1-5 1-16 1-17 1 26 1-9 1-24 1-11 1 9 1-5 1-17 1-27 1 0 1-16 1 2 1-6 1-11 1 4 1-6 1 12 1-2 1-9 1 11 1 11 1-9 1 9 1 13 1 17 1-8 1-8 1 43 1 16 1 1 1 8 1 10 1 5 1-17 1 2 1-5 1 7 1 11 1-19 1 13 1-8 1 2 1-33 1-6 1 7 1-11 1-12 1-11 1-15 1 0 1-10 1 14 1-17 1 12 1-39 1 4 1 7 1-1 1-6 1 16 1 32 1-7 1 30 1-7 1 13 1-3 1 5 1 22 1 1 1 2 1 11 1 5 1 27 1-18 1-11 1 5 1 16 1-15 1-10 1 7 1-23 1 7 1-13 1-11 1-33 1 17 1-6 1-21 1 4 1-14 1 19 1-30 1 0 1 11 1-28 1 17 1 2 1 16 1 8 1-5 1 17 1-12 1 4 1 25 1 19 1-4 1 15 1-4 1 7 1 13 1 0 1-6 1-4 1 23 1-13 1 8 1 6 1-29 1 4 1-5 1-9 1-3 1 0 1-38 1 0 1-2 1-16 1-11 1 9 1-14 1 5 1-13 1 7 1-28 1 30 1-6 1 4 1 14 1-7 1 18 1 11 1 5 1 16 1-11 1 15 1 5 1 32 1-10 1 17 1-4 1-8 1 13 1 5 1-14 1-1 1-12 1 33 1-28 1 1 1-4 1-18 1 4 1 2 1-23 1-15 1-30 1 19 1-2 1 3 1-21 1-4 1-5 1 16 1-5 1 18 1-20 1 23 1 19 1-33 1 15 1 10 1 9 1 24 1-13 1 30 1-23 1 24 1 27 1-23 1-8 1 25 1-13 1 12 1 2 1 16 1-44 1 11 1-16 1 7 1-11 1-29 1 6 1-9 1 1 1-23 1-13 1 6 1-8 1 7 1-29 1 20 1-4 1-17 1 23 1 18 1 0 1 1 1-14 1 24 1 14 1-2 1 4 1 30 1-15 1 14 1 10 1 35 1-23 1-9 1 18 1-26 1 21 1 8 1-21 1-2 1-13 1 4 1-24 1 10 1-16 1 5 1-13 1-19 1 1 1-9 1-8 1-9 1-8 1-2 1-3 1 10 1 10 1 15 1-7 1 11 1 18 1-28 1 45 1-14 1 7 1 17 1-21 1 34 1 16 1-21 1 32 1 10 1-3 1-3 1-8 1-5 1 15 1-24 1-26 1 23 1-14 1-17 1-14 1 10 1-6 1-8 1-29 1-6 1 26 1-5 1-13 1 0 1-20 1 2 1-16 1 16 1 11 1-4 1 28 1 13 1-6 1-1 1 36 1-17 1 9 1 22 1 0 1 11 1 2 1-4 1 19 1-18 1 2 1-3 1 27 1-6 1-32 1 7 1-7 1-8 1-3 1-19 1-5 1-9 1-20 1 10 1-31 1 29 1-53 1 38 1-22 1-3 1 11 1-5 1 13 1 23 1-15 1-1 1 26 1 21 1-3 1 0 1 9 1 0 1 13 1 7 1 32 1-40 1 26 1-7 1 12 1-3 1-5 1-20 1-5 1 3 1-22 1 17 1-19 1 2 1-28 1 5 1-18 1-16 1 33 1-50 1 15 1 3 1 15 1-17 1 22 1-22 1 7 1-15 1 28 1-7 1 7 1 0 1 33 1-2 1 33 1 4 1-1 1 4 1 18 1-3 1-9 1 14 1-3 1 7 1-27 1-8 1 11 1-3 1-26 1 5 1 3 1-2 1-17 1-38 1 21 1-44 1 23 1-3 1-21 1 13 1-9 1 15 1 3 1-3 1-6 1 15 1 20 1-18 1 14 1 10 1 13 1 26 1-32 1 31 1-3 1-2 1 8 1 15 1 5 1-1 1-6 1 2 1 9 1-14 1-4 1-10 1-2 1-20 1 3 1-16 1 0 1-2 1-5 1-16 1-14 1-14 1 10 1 1 1-2 1-19 1 13 1 9 1-9 1 27 1-9 1 9 1 9 1 19 1-13 1 2 1 40 1-7 1 3 1-10 1 33 1 11 1-7 1-19 1 21 1-4 1-18 1 37 1-5 1-38 1-6 1 14 1-28 1-4 1-11 1 1 1-12 1-3 1-16 1-3 1-25 1 8 1 21 1-21 1-10 1 15 1-4 1 17 1-1 1 24 1-10 1 32 1-19 1 38 1 15 1-19 1 15 1 4 1 2 1 9 1 13 1-10 1-1 1-3 1-19 1 25 1-14 1-12 1 3 1 0 1-15 1-27 1 5 1-18 1 6 1-20 1 5 1-4 1-14 1-2 1-17 1 32 1-20 1-9 1 7 1 24 1 9 1 6 1 0 1 10 1 7 1 7 1 26 1 9 1 8 1 8 1-7 1 0 1-21 1 22 1 6 1-17 1 20 1-16 1-12 1-5 1-4 1 0 1 0 1-20 1-5 1-22 1 1 1-15 1 16 1-32 1 15 1 5 1-3 1-8 1-16 1 8 1 24 1-7 1 9 1 23 1 2 1 20 1-3 1 27 1-10 1 9 1 6 1 7 1-16 1 19 1-3 1-5 1-2 1 0 1 9 1 1 1-9 1-10 1-13 1-8 1-21 1 3 1-29 1 0 1 8 1-21 1 33 1-50 1 7 1-2 1 21 1-43 1 32 1 2 1-8 1 20 1 14 1-7 1 26 1-9 1 15 1-2 1 33 1-18 1 17 1-11 1 31 1-23 1 14 1 0 1 14 1-16 1-5 1 10 1-3 1-12 1-31 1 4 1-17 1-2 1-7 1-9 1-1 1-24 1 5 1-4 1 14 1-19 1 10 1 0 1-13 1 27 1-4 1-2 1 3 1 25 1 0 1 10 1 24 1 19 1 6 1-19 1 11 1 21 1-4 1 0 1 1 1-4 1-26 1 28 1-15 1 4 1-9 1-5 1-16 1-5 1-19 1-7 1 3 1-37 1 25 1-22 1-24 1 27 1-24 1-1 1 12 1 26 1-30 1 19 1 13 1-12 1 29 1-10 1 26 1-2 1 25 1 2 1 13 1 4 1-3 1 8 1-1 1-10 1 15 1 16 1-19 1-8 1-16 1-7 1-6 1 4 1-18 1 12 1-37 1 0 1-9 1 2 1-11 1 2 1-16 1 17 1-25 1 5 1-14 1 25 1 6 1 3 1 9 1 9 1 19 1 9 1 3 1 6 1 18 1 8 1-2 1-5 1 15 1-6 1-1 1 3 1 11 1-3 1 11 1-17 1-19 1 9 1-34 1-9 1 9 1-22 1 15 1-12 1-14 1-11 1-3 1 2 1-32 1 16 1 0 1-2 1 8 1 9 1 9 1 18 1-24 1 33 1 17 1 0 1 17 1-29 1 26 1-4 1 6 1 14 1 4 1 15 1-6 1 5 1-9 1 4 1-26 1-1 1 2 1 8 1-33 1-11 1 1 1 3 1-26 1-14 1 24 1-31 1 20 1-23 1-19 1 17 1-2 1 11 1 1 1-19 1 18 1 25 1 9 1 4 1-13 1 29 1 0 1 23 1 17 1-21 1 20 1 11 1 2 1 0 1-1 1 7 1-32 1 4 1-13 1 7 1-15 1-7 1-20 1-5 1-4 1 2 1-2 1-11 1-8 1-5 1 4 1-32 1 15 1 25 1-7 1 7 1-11 1-2 1 29 1-8 1 18 1-6 1 7 1 20 1 4 1 15 1 10 1 13 1-11 1 6 1 4 1-4 1-1 1 5 1-10 1-23 1 7 1-25 1 17 1-7 1-24 1-16 1 7 1-21 1-10 1-7 1 7 1-3 1 15 1-18 1-1 1-9 1 33 1 1 1 8 1-12 1 44 1-6 1-23 1 23 1 29 1-5 1-2 1 10 1 13 1 9 1-14 1 9 1-9 1 2 1 5 1-25 1 14 1-17 1 3 1-13 1-9 1-5 1-18 1-19 1-14 1-2 1 11 1-21 1 8 1-16 1 32 1-27 1 25 1-14 1 23 1-7 1 20 1 25 1-1 1 2 1 6 1 32 1-3 1 3 1 0 1 1 1 14 1 9 1-18 1 5 1-15 1 10 1-17 1 9 1-19 1-7 1-12 1 5 1-17 1-2 1-15 1-16 1-30 1 25 1-11 1 3 1-11 1 7 1-3 1 10 1-16 1 17 1 39 1-13 1 11 1 32 1-4 1 5 1 11 1-1 1 26 1-20 1 4 1 7 1 9 1-3 1 3 1-20 1 2 1-21 1 18 1-27 1 12 1-13 1 0 1-25 1-2 1-15 1-17 1 10 1-9 1-9 1 8 1 4 1-8 1 1 1 1 1 5 1 22 1-4 1 0 1 27 1 0 1 19 1 1 1-8 1 24 1 18 1-8 1 5 1-7 1 27 1-6 1-10 1 11 1-32 1 26 1-20 1-1 1-17 1-24 1-7 1-12 1-5 1 19 1-31 1 16 1-18 1-4 1 0 1-10 1 15 1-23 1 16 1 0 1 12 1 6 1 18 1-11 1 40 1-7 1 13 1 11 1 1 1 17 1-12 1 4 1 9 1-6 1 17 1 5 1-17 1-9 1-35 1 20 1-21 1-7 1-22 1 11 1-14 1 1 1-1 1-4 1-8 1-26 1 10 1 3 1 0 1 8 1-1 1 5 1-1 1 5 1 35 1-11 1-2 1 33 1 1 1 4 1-2 1 12 1 13 1-3 1-3 1 7 1-15 1 12 1 12 1-8 1-13 1-7 1-16 1-6 1-23 1 0 1-16 1 15 1-11 1-18 1 0 1-9 1 1 1 7 1-23 1 8 1 30 1-4 1-1 1 1 1 15 1 22 1-13 1 19 1-5 1 18 1 0 1 9 1 5 1 19 1-13 1 10 1 15 1-11 1-3 1-13 1-8 1 11 1-26 1-1 1 1 1-28 1 7 1-4 1-28 1-8 1 10 1-23 1-2 1 14 1-26 1 22 1 0 1 31 1-25 1 20 1-3 1 30 1-20 1 6 1 4 1 58 1-28 1 10 1 40 1-18 1-3 1-14 1 23 1-11 1 0 1-9 1 2 1-20 1-8 1 15 1-34 1 10 1-14 1-23 1 3 1-13 1-8 1-3 1 8 1 2 1-17 1 0 1 7 1 10 1-6 1 16 1 21 1-8 1 6 1 7 1 26 1 7 1-3 1 15 1 3 1-5 1 9 1-13 1 17 1-16 1 4 1-19 1 21 1-6 1-22 1 11 1-10 1-16 1-10 1 9 1-25 1-2 1-9 1-7 1 0 1-16 1 6 1 7 1 0 1-6 1 8 1 2 1 21 1 6 1-11 1 30 1-8 1 17 1 21 1 18 1-15 1 19 1 4 1 13 1-29 1 10 1-1 1-8 1-4 1-5 1-11 1-1 1 15 1-43 1-6 1-4 1-24 1 22 1 9 1-50 1 7 1 19 1-13 1-10 1 21 1-14 1-11 1 14 1 22 1 4 1 22 1-2 1 14 1 15 1 12 1-25 1 25 1 16 1-2 1-17 1-1 1 22 1-10 1-11 1 7 1 2 1-9 1-19 1 0 1-4 1-20 1-21 1-5 1 1 1-28 1 22 1-11 1 11 1-22 1 10 1 18 1-5 1-21 1 17 1 14 1 0 1 34 1 2 1 14 1 3 1 4 1-2 1 2 1 5 1-13 1 34 1-4 1-6 1 11 1-10 1-12 1 7 1-22 1-16 1 15 1 3 1-33 1 3 1-21 1-1 1-14 1-13 1-1 1 10 1 8 1 14 1-1 1-9 1-4 1 15 1 6 1 19 1 9 1 10 1-14 1 35 1-19 1 23 1-8 1 8 1-2 1-2 1 20 1 1 1-8 1-1 1-20 1 1 1-9 1-12 1 0 1-25 1 21 1-30 1-11 1 6 1-7 1-21 1 9 1 15 1-6 1-23 1 22 1-18 1 5 1 23 1 0 1 23 1 5 1 12 1-4 1 27 1-4 1 6 1 1 1 31 1 0 1-8 1-6 1-6 1-3 1-23 1 8 1-7 1 3 1-21 1-8 1-9 1-1 1-16 1-17 1 17 1 8 1-35 1-2 1 9 1 2 1-31 1 36 1 13 1-2 1-2 1 19 1 6 1 2 1 17 1 3 1 10 1 18 1-4 1 18 1-18 1 22 1-6 1 16 1-16 1 4 1-33 1 10 1-14 1 15 1-14 1-20 1 3 1-34 1 8 1-14 1-8 1 0 1-13 1 12 1-11 1-8 1 12 1 5 1 10 1 3 1 1 1 18 1 23 1-10 1 13 1 2 1 13 1-8 1 34 1 2 1-12 1 19 1-14 1 3 1 16 1-30 1-13 1 5 1 8 1-30 1 9 1-18 1-14 1 3 1 1 1-22 1-7 1 3 1-4 1-17 1 9 1 5 1 4 1-3 1 7 1 10 1 20 1-2 1 12 1 2 1-2 1 11 1 10 1 13 1 9 1-2 1 11 1 0 1 5 1-10 1-4 1-24 1 7 1 2 1-20 1 4 1-24 1-7 1-29 1 31 1-18 1-6 1-9 1-8 1 14 1-3 1-10 1-4 1 25 1 10 1-21 1 11 1 6 1 29 1 2 1 4 1 7 1 14 1 6 1-4 1 19 1 5 1 0 1 1 1-7 1 0 1-2 1-24 1 4 1-1 1-25 1 9 1-14 1-8 1-4 1-10 1-11 1 9 1-15 1-9 1-2 1 0 1-18 1 20 1 13 1 6 1 6 1 3 1 16 1-8 1 34 1-8 1 10 1 23 1-10 1 6 1 15 1-26 1 16 1 10 1-1 1-1 1-16 1-4 1 7 1-12 1-12 1-12 1-10 1-6 1-21 1-10 1 3 1 17 1-23 1-9 1 6 1-2 1 4 1 20 1 16 1-24 1 19 1 0 1 16 1 8 1-6 1 33 1-4 1 18 1-6 1 1 1 1 1 6 1 14 1-17 1-10 1-6 1-18 1 8 1 7 1-13 1-15 1-18 1 12 1-28 1-5 1 8 1-19 1 9 1-9 1 2 1-4 1 16 1-12 1 31 1-10 1 9 1-12 1 19 1 19 1 13 1 0 1 14 1-21 1 55 1-23 1 27 1-32 1 18 1-25 1 17 1-20 1 2 1-17 1 4 1 20 1-31 1-1 1-33 1-4 1-3 1-11 1-3 1 4 1-27 1 16 1 5 1 15 1-5 1 0 1 8 1 11 1 4 1 19 1-2 1 24 1 2 1 7 1-8 1 10 1 8 1 15 1-5 1-12 1-6 1 23 1-14 1-11 1-10 1-5 1-15 1 12 1-38 1 17 1-20 1-12 1-13 1-3 1-4 1-6 1 13 1-8 1-6 1 27 1 11 1 3 1-16 1 10 1 24 1 4 1 6 1 3 1 37 1-6 1 3 1 0 1 5 1 6 1-6 1 26 1-58 1 17 1-6 1 8 1-19 1-24 1-7 1 8 1 4 1-22 1-4 1-17 1 15 1-15 1-7 1 7 1-14 1 23 1 5 1-3 1-5 1 19 1 11 1-5 1 15 1 16 1 3 1 11 1-1 1 11 1 14 1 0 1 1 1-8 1-2 1 9 1-11 1-11 1-15 1 0 1-25 1 9 1-16 1 2 1-2 1-18 1-10 1-4 1-2 1 2 1 4 1-4 1-5 1 0 1 47 1-32 1 3 1 7 1 18 1 6 1 20 1 5 1 2 1 23 1 2 1-5 1 18 1-12 1 15 1-19 1-1 1 0 1-2 1-12 1 9 1-27 1-14 1-20 1 8 1-11 1-23 1-10 1 17 1-18 1-4 1 6 1 16 1 3 1-11 1-11 1 31 1-9 1 6 1 39 1 3 1-12 1 14 1 12 1 12 1 0 1 16 1-28 1 37 1 5 1-21 1-16 1 13 1-11 1 2 1-17 1 0 1-9 1-5 1-17 1-32 1 12 1-9 1-24 1 24 1 2 1-14 1 18 1-12 1-3 1 28 1 2 1-14 1 36 1 5 1 1 1 14 1 13 1-16 1 28 1-4 1 11 1 0 1 12 1-24 1 11 1-21 1 18 1-14 1-17 1-5 1-1 1-15 1 3 1-22 1 19 1-35 1-17 1 1 1-3 1 12 1-9 1 11 1 1 1 6 1 38 1-34 1 13 1 5 1 26 1-7 1 11 1 35 1 2 1-12 1 12 1-3 1 7 1-21 1 32 1-9 1-8 1-3 1-15 1-13 1 4 1-26 1-18 1-7 1-17 1 1 1 5 1-23 1 7 1-13 1 20 1 20 1-7 1-8 1 2 1 14 1-4 1 30 1 5 1-8 1 18 1 8 1-5 1 10 1 24 1-6 1 21 1-16 1-5 1 19 1-37 1-10 1 8 1-11 1-15 1 8 1-21 1-3 1 10 1-14 1-10 1-22 1 6 1-12 1 13 1 9 1-31 1-3 1 28 1 12 1-6 1 31 1 0 1 21 1-9 1 11 1 14 1 10 1 14 1-2 1-17 1 17 1-16 1 19 1-11 1-1 1-8 1-17 1 19 1-36 1-9 1-2 1-10 1-5 1-16 1 0 1 4 1-14 1-9 1 5 1 5 1 1 1 12 1 5 1 21 1-8 1-3 1 22 1 15 1-9 1 15 1 8 1 3 1 3 1 11 1 10 1-24 1 15 1 5 1-13 1-16 1 19 1-35 1 6 1-30 1 4 1-2 1-21 1-8 1 9 1-11 1 3 1-16 1 22 1-12 1 22 1-23 1 33 1-4 1-6 1 15 1 10 1 14 1 4 1 21 1-12 1 2 1 6 1 12 1-9 1 8 1-5 1 3 1 0 1 2 1 12 1-40 1-1 1-29 1 29 1-36 1 9 1-18 1 2 1-18 1-1 1-11 1 6 1-3 1-6 1 11 1 11 1-7 1 21 1 3 1 16 1 13 1 31 1-27 1 26 1-11 1-4 1 35 1-19 1 11 1-5 1 14 1-15 1-7 1-18 1-15 1 10 1-2 1-34 1 13 1-9 1-10 1-11 1-8 1 8 1-8 1-21 1 3 1 13 1 5 1 9 1-6 1 22 1 2 1 15 1 10 1 3 1 9 1 14 1 2 1 5 1 10 1 6 1-4 1-8 1-5 1 6 1-1 1-8 1-26 1 1 1 10 1-18 1-5 1-10 1 5 1-24 1 7 1-13 1-24 1 4 1 18 1 3 1 2 1 14 1-3 1 0 1 16 1-9 1 17 1 14 1-14 1 19 1 13 1-11 1 11 1 23 1-8 1 7 1 9 1-36 1-1 1 21 1-24 1 13 1-35 1 2 1-7 1-24 1 4 1-5 1-18 1 7 1-15 1 6 1-8 1 3 1 2 1 22 1-22 1 27 1-11 1 32 1 6 1 9 1-5 1 23 1 0 1 25 1-5 1-4 1 6 1 17 1-24 1 11 1-33 1 15 1-31 1 7 1-6 1 0 1-13 1-14 1 15 1-36 1 15 1-14 1 20 1-33 1-3 1 6 1 3 1 11 1 1 1-3 1 24 1-1 1 7 1 19 1 4 1 8 1 15 1-23 1 33 1-17 1 8 1 31 1-24 1-11 1-2 1 10 1-18 1 6 1-10 1-17 1-13 1-23 1 4 1-14 1 16 1-6 1-10 1-24 1 31 1 4 1-12 1-8 1 34 1-6 1 19 1-19 1 16 1 14 1 12 1 10 1 3 1 14 1 7 1 6 1-9 1 8 1-19 1 26 1-31 1-6 1-14 1 7 1 3 1-15 1-29 1 5 1-7 1-5 1-11 1-3 1 10 1-11 1-16 1-3 1 19 1 9 1-12 1 22 1 19 1-2 1 1 1 0 1 29 1-2 1 16 1-9 1 14 1 3 1 13 1-6 1-2 1 28 1-49 1 2 1-5 1-7 1-13 1-11 1 6 1-23 1-7 1-7 1 10 1-18 1 9 1-18 1-9 1 7 1 16 1 7 1 7 1-2 1 19 1 7 1 29 1-7 1 8 1 5 1-11 1 31 1 4 1-16 1 16 1-8 1-6 1-3 1 3 1-24 1-13 1 16 1-16 1-22 1 3 1-1 1-13 1-19 1 13 1-17 1-3 1 9 1-11 1 2 1 1 1 6 1 31 1-16 1 12 1 5 1 28 1-9 1 14 1 22 1-17 1 25 1 6 1-12 1 11 1-11 1 3 1-10 1-11 1 1 1-17 1-9 1 8 1-26 1-6 1-4 1-17 1-11 1 4 1 18 1-20 1 5 1 3 1-2 1 11 1-13 1 21 1 10 1 2 1 9 1 5 1 14 1 15 1 5 1 29 1-3 1-21 1 15 1-22 1-2 1 27 1-21 1-32 1 29 1-20 1-3 1-9 1-9 1-11 1-15 1 8 1-18 1 7 1-14 1 1 1 11 1-6 1 12 1 7 1-13 1 37 1-15 1 8 1 21 1-7 1 10 1 30 1-12 1 6 1 16 1-11 1-1 1 13 1 10 1-28 1 5 1 3 1-21 1 11 1-29 1-28 1 35 1-41 1 6 1-12 1 0 1-18 1 4 1 8 1 7 1-6 1-11 1 30 1-9 1 9 1 32 1-22 1 21 1-14 1 13 1 27 1 5 1 13 1 6 1-20 1 10 1 0 1-6 1-14 1-9 1 2 1-7 1-12 1-28 1 32 1-18 1-24 1-3 1-17 1-5 1-9 1 27 1-13 1 11 1-8 1 13 1 0 1 24 1 0 1 16 1 6 1 11 1 14 1-14 1 15 1-3 1 25 1 11 1-13 1-6 1-13 1-7 1-8 1-10 1 0 1-3 1 0 1-23 1 3 1-5 1-22 1-2 1-11 1 13 1-21 1 9 1 7 1 10 1 8 1 9 1-20 1 37 1-12 1 18 1 12 1 8 1 4 1-3 1 9 1 10 1 16 1 5 1-38 1 26 1 2 1-33 1 20 1-31 1-10 1-2 1-17 1 15 1-10 1-18 1-8 1-4 1-9 1 10 1 14 1-24 1 9 1-5 1-7 1 27 1 4 1 23 1-9 1 15 1 10 1 1 1 28 1-12 1 6 1-8 1 35 1-18 1-25 1 22 1-5 1-28 1-15 1 15 1-1 1-10 1-11 1-4 1-8 1-16 1-4 1-9 1 3 1 11 1-18 1 8 1 13 1 2 1 2 1 10 1 11 1 0 1 6 1 23 1 5 1 18 1-3 1-2 1-1 1 9 1 2 1 5 1-13 1 8 1-19 1-6 1 1 1-21 1-4 1-17 1 2 1-18 1-17 1 8 1-10 1 12 1-4 1 16 1-14 1 14 1-7 1 28 1-4 1 0 1 5 1 30 1-4 1-21 1 25 1 13 1 34 1-15 1-13 1 3 1-4 1-8 1 4 1-14 1 19 1-51 1 19 1-6 1-30 1 0 1-12 1 9 1-14 1-9 1 16 1-10 1 1 1 3 1 8 1 11 1-10 1 10 1-1 1 22 1 15 1 16 1-7 1 12 1-17 1 2 1 11 1 26 1 5 1-13 1 3 1-27 1 6 1-2 1-12 1-22 1 13 1-23 1 9 1-19 1-2 1-16 1-2 1-13 1 4 1 14 1 9 1-1 1 2 1 5 1 13 1-10 1 11 1 21 1 11 1 6 1 5 1 6 1 21 1-8 1 16 1-19 1-8 1 14 1-17 1 1 1-6 1-35 1 2 1-5 1 0 1-17 1-2 1-13 1 7 1-12 1 1 1 9 1-30 1 11 1 20 1 13 1-1 1 9 1 7 1 18 1 2 1 0 1 5 1 31 1-13 1 14 1 4 1-5 1 3 1-16 1-3 1 5 1-3 1-32 1-9 1 6 1-4 1-20 1-13 1 12 1-31 1 15 1-17 1 14 1-7 1 7 1-2 1-6 1 25 1 1 1 0 1 19 1-17 1 45 1-32 1 41 1-10 1 0 1 16 1 22 1-9 1-5 1-7 1-8 1-6 1-11 1 17 1-28 1 19 1-28 1 3 1-1 1-35 1 3 1-16 1 23 1-6 1-12 1 7 1-4 1 12 1 3 1 15 1-16 1 25 1 18 1-10 1 11 1 10 1 7 1 12 1 2 1 24 1-6 1-4 1-18 1-13 1 8 1-6 1-22 1 7 1-19 1-7 1 9 1-25 1-7 1 8 1-6 1-1 1-28 1-8 1 16 1-5 1 35 1-22 1 2 1 12 1 35 1-12 1 21 1-3 1 25 1 0 1 11 1-6 1 8 1-12 1 2 1 1 1 0 1-3 1-11 1-15 1-3 1-11 1-5 1-9 1-2 1 6 1-31 1-4 1 12 1-30 1 32 1-20 1 12 1 5 1-2 1 10 1 18 1 20 1 11 1-6 1-6 1 15 1 15 1 2 1-1 1-9 1 26 1-17 1 1 1 5 1-4 1-30 1 1 1-4 1-12 1-18 1 1 1-23 1 12 1 0 1-11 1 6 1-6 1-15 1-2 1 16 1 10 1 19 1 9 1-5 1 11 1 17 1 7 1-12 1 12 1 16 1 2 1-8 1 10 1 1 1 16 1-3 1-4 1-3 1-31 1-12 1 3 1-22 1-9 1-3 1 7 1-36 1-4 1 17 1-27 1 19 1 11 1 0 1 20 1-9 1 21 1-20 1 18 1 26 1-11 1 32 1-12 1 3 1 10 1 15 1-8 1 1 1-5 1-17 1-7 1-6 1 16 1-8 1-16 1-14 1 17 1-24 1-32 1 24 1-10 1-4 1-15 1 5 1 4 1 15 1-17 1 12 1 14 1 1 1 1 1 33 1 9 1 4 1 6 1 29 1-19 1-13 1 17 1-13 1 39 1-30 1-20 1-8 1 15 1-5 1-21 1 7 1-18 1 5 1-26 1-6 1-23 1 8 1 8 1-7 1 12 1-11 1 7 1-1 1 1 1 38 1-15 1 4 1 29 1-23 1 35 1-25 1 24 1 3 1 10 1-6 1 21 1-4 1 8 1-31 1 7 1-23 1-7 1 11 1-30 1-4 1-8 1-10 1-2 1-5 1-15 1 19 1 2 1-3 1-15 1 19 1-16 1 58 1-16 1 6 1 2 1-2 1 24 1 16 1-12 1-2 1 46 1-30 1 4 1 10 1-7 1-12 1-4 1-4 1 1 1-24 1 1 1-17 1-2 1-15 1-13 1 0 1-9 1 19 1-20 1 3 1 12 1 0 1 33 1-22 1 13 1 27 1-19 1 21 1-1 1 13 1 0 1 10 1 8 1-5 1-3 1 31 1-26 1 2 1-1 1-31 1-5 1 12 1-8 1-29 1 6 1-11 1 10 1-25 1-18 1 14 1-5 1-18 1 11 1-1 1 13 1 1 1 38 1 0 1 17 1-30 1 29 1 12 1 13 1 9 1 23 1-49 1 25 1-2 1 13 1-18 1-9 1-3 1-14 1 6 1-21 1-15 1-5 1-7 1-2 1 3 1-21 1 7 1 4 1-17 1 26 1-7 1-8 1 5 1 21 1 4 1 4 1 16 1 16 1-4 1 10 1 7 1-6 1 12 1 9 1-7 1-20 1 24 1-10 1-1 1-20 1 8 1-26 1-12 1 6 1-7 1-1 1-22 1 7 1-8 1-4 1 3 1-14 1-4 1 43 1-7 1-3 1 22 1 3 1 2 1-3 1 10 1 23 1 2 1 10 1 1 1 12 1 6 1-16 1-17 1-3 1 20 1-25 1-4 1-18 1 5 1-29 1 3 1-16 1-9 1 24 1-21 1-20 1 15 1-8 1 10 1 14 1-1 1-1 1 6 1 8 1 35 1-11 1 31 1-5 1 7 1-4 1 7 1-8 1 19 1-16 1 1 1-2 1 6 1-25 1-6 1-14 1-1 1-6 1-15 1-8 1-9 1-17 1 22 1-29 1 51 1-38 1 21 1-23 1 36 1-13 1 30 1 10 1-11 1 9 1 24 1-24 1 34 1-14 1 29 1 2 1-11 1 9 1-18 1 21 1-30 1 0 1-5 1-20 1-5 1-7 1-21 1-2 1-7 1-15 1 11 1-11 1 13 1-8 1 4 1 16 1 17 1 5 1 5 1-6 1 16 1 10 1 1 1 5 1-1 1 25 1-8 1 0 1 16 1-13 1 7 1-12 1-13 1 13 1-16 1-10 1-18 1-1 1-19 1 5 1-10 1-16 1 0 1 0 1 3 1-9 1 0 1 23 1 11 1 11 1-20 1 36 1 13 1-7 1 0 1 30 1-5 1 18 1-4 1-23 1 15 1 2 1-8 1-7 1-3 1 3 1-9 1-41 1 19 1-29 1 11 1-27 1 0 1 5 1-26 1 29 1-6 1 9 1 3 1 1 1 13 1 2 1-11 1 43 1 4 1 6 1 3 1-8 1 9 1 6 1 6 1-22 1 35 1-2 1-16 1-8 1-3 1-2 1-4 1-19 1-5 1-11 1-2 1-31 1 3 1-18 1 22 1-7 1 5 1 0 1 7 1 5 1 26 1-9 1-1 1 35 1-7 1-1 1 1 1 21 1 0 1-10 1 7 1 18 1 0 1-19 1 3 1 1 1-10 1-14 1-3 1-9 1-9 1 4 1-40 1-2 1-8 1 13 1-4 1-5 1 0 1 30 1-17 1 20 1-2 1 14 1-15 1 21 1 15 1-6 1 22 1 13 1-1 1 6 1-3 1-8 1 7 1-4 1-16 1 1 1-15 1 0 1 6 1-11 1-4 1-36 1 0 1 3 1 0 1-16 1 3 1-4 1 15 1 6 1-21 1 32 1-1 1-6 1 42 1-17 1 15 1 10 1 3 1 21 1 14 1-39 1 23 1-13 1-4 1 4 1-8 1-10 1-17 1 3 1-17 1 7 1-8 1-13 1-10 1-7 1-18 1 9 1 8 1-19 1 20 1 5 1 4 1 16 1 16 1-3 1 13 1 15 1-2 1 11 1 10 1 18 1-13 1-18 1 9 1-4 1 8 1-16 1 11 1-10 1-18 1 11 1-24 1-11 1-23 1 17 1-18 1 6 1-4 1 21 1-18 1-19 1 11 1 9 1-17 1 27 1 27 1-2 1 8 1-8 1 33 1-6 1 0 1 23 1-7 1 22 1-22 1 21 1-23 1-27 1 6 1-4 1-10 1-29 1 7 1-13 1 7 1-7 1 1 1-13 1 3 1-18 1 5 1 11 1 9 1 30 1-16 1-1 1 6 1 46 1 2 1-17 1 20 1-2 1 7 1-7 1 27 1-13 1-18 1 4 1 5 1-19 1-6 1 3 1-24 1-9 1-1 1-19 1 14 1-26 1 5 1 5 1-5 1-17 1 20 1 2 1 9 1 8 1-10 1-4 1 18 1 18 1 6 1 19 1 8 1 13 1-23 1 21 1 4 1-2 1-11 1 3 1-12 1-9 1-20 1 17 1-24 1 1 1-11 1-29 1 4 1 5 1-12 1 3 1-11 1 17 1-6 1 12 1 5 1 9 1 13 1 2 1 0 1 25 1 6 1-1 1 18 1-12 1 5 1 31 1-17 1 2 1-24 1-6 1 14 1-13 1-15 1-6 1-20 1-11 1-4 1-12 1-4 1 6 1 1 1 3 1-14 1 2 1 3 1 20 1 8 1 2 1-1 1 18 1 10 1 19 1-5 1 5 1 20 1-24 1 29 1-19 1 9 1-7 1 4 1-9 1-20 1 1 1-8 1-21 1-7 1-3 1-8 1-21 1 15 1-8 1-2 1 20 1 8 1-17 1-1 1 13 1 16 1 10 1-6 1 20 1 22 1-15 1 11 1 4 1-3 1-1 1 8 1 6 1 16 1-29 1-2 1-23 1-8 1 0 1-18 1 5 1-8 1 0 1-11 1-10 1-12 1 17 1-15 1-13 1 41 1-5 1 4 1-2 1-1 1 16 1 22 1 17 1 0 1 7 1 2 1 16 1-22 1 23 1-16 1 2 1 8 1-18 1-6 1-7 1-19 1 4 1-39 1 6 1 13 1 10 1-43 1 7 1 0 1 11 1 7 1 8 1-39 1 16 1 30 1-16 1 46 1-16 1 8 1 24 1 3 1 12 1-7 1-10 1 3 1 5 1-10 1 25 1-45 1 14 1 4 1-18 1-6 1-16 1-11 1 19 1-43 1-9 1 24 1-27 1 3 1 4 1-2 1 35 1-14 1 25 1-26 1 43 1 12 1-15 1 13 1 13 1 4 1 0 1-9 1 26 1-3 1-3 1-9 1-7 1 6 1-25 1 7 1-18 1-10 1-8 1-25 1-8 1 0 1-8 1 17 1-17 1 17 1 1 1 5 1 23 1 0 1 4 1 4 1 14 1 16 1 11 1-5 1 18 1 4 1-8 1-3 1 10 1 6 1-25 1-12 1 6 1-9 1 11 1-42 1 12 1-27 1 6 1-11 1-5 1 13 1-48 1 45 1-15 1 13 1-1 1-9 1 40 1-9 1 3 1 13 1 6 1 19 1 16 1 3 1-6 1-9 1 7 1-16 1 12 1-6 1-6 1 12 1-31 1 8 1-17 1-36 1 28 1-21 1-8 1-3 1-2 1 4 1-25 1 43 1-6 1-21 1 17 1 21 1 10 1 3 1-21 1 31 1 23 1-6 1 14 1-18 1 15 1-10 1 10 1-22 1 11 1-5 1 6 1-14 1-18 1 0 1-39 1 17 1 1 1-24 1 11 1-13 1 4 1 8 1-19 1 17 1-4 1 21 1 19 1 7 1 2 1 5 1 6 1 3 1 25 1-10 1 18 1-3 1-33 1 11 1 13 1-27 1-3 1-2 1-14 1 8 1-10 1-1 1-23 1 12 1-14 1-14 1 7 1-9 1-14 1 32 1-20 1 27 1 10 1-4 1 1 1 27 1 9 1 5 1 10 1-3 1 15 1-2 1-5 1 8 1-19 1 15 1-4 1-36 1-2 1 6 1-17 1-4 1 0 1-20 1-3 1-15 1 28 1-29 1 6 1 10 1 1 1 5 1 16 1 0 1-6 1 32 1-2 1 29 1-10 1-3 1 10 1 4 1 14 1-16 1 14 1-21 1 3 1 0 1-27 1 11 1-23 1 1 1-8 1-19 1-2 1-1 1-4 1-7 1 0 1 4 1 10 1 20 1-20 1 8 1-7 1 16 1 2 1 3 1 28 1 15 1-10 1 20 1 0 1-15 1 9 1-7 1 21 1-19 1-17 1 17 1-24 1-11 1 19 1-49 1 16 1-13 1-25 1 32 1-26 1 8 1-4 1 12 1-18 1 32 1-8 1 6 1 15 1 11 1 9 1-5 1 13 1 12 1 15 1-9 1-3 1 5 1-17 1 30 1-50 1 20 1 2 1-2 1-36 1-6 1 0 1-10 1-9 1 1 1-20 1 4 1 7 1 18 1-28 1 24 1 13 1-16 1 16 1 35 1 5 1-4 1 17 1-5 1-22 1 0 1 33 1-8 1-2 1 7 1 9 1-32 1 6 1-15 1-12 1 7 1-34 1 8 1-9 1 1 1-16 1-6 1 15 1-11 1 13 1 12 1-3 1-3 1 9 1 4 1 26 1 5 1 5 1 2 1 14 1 13 1 10 1-27 1 1 1 15 1-25 1 10 1-12 1-16 1 9 1-6 1 1 1-30 1-9 1-11 1-2 1 1 1-13 1 23 1-13 1 2 1 12 1-12 1 20 1 0 1 13 1 20 1-13 1 17 1 18 1 7 1 13 1-7 1 2 1-6 1 3 1-15 1 0 1 8 1-19 1-5 1-5 1-19 1-20 1 13 1 3 1-23 1-35 1 36 1-8 1 10 1-8 1 0 1 23 1-5 1 32 1-5 1 24 1-6 1 15 1-2 1 18 1-11 1 3 1 6 1 0 1 0 1-14 1-15 1-3 1-11 1-21 1 8 1-15 1-13 1-3 1-4 1 0 1-21 1 21 1 6 1-6 1-6 1 9 1 22 1 1 1 12 1 14 1 2 1 8 1 12 1-11 1 25 1-17 1-7 1-2 1 15 1 0 1 8 1-24 1-34 1 32 1-9 1-33 1-6 1 19 1-24 1-8 1 17 1-26 1 25 1-21 1 14 1 16 1 17 1-5 1 7 1 9 1 13 1 4 1-4 1 24 1-3 1-4 1 5 1-10 1-11 1 15 1-12 1 25 1-35 1-19 1 9 1-34 1 25 1-40 1 13 1 1 1-8 1-3 1 9 1 6 1-4 1-9 1 13 1-1 1 29 1 6 1 9 1 3 1 4 1-7 1 15 1 8 1-11 1 21 1 3 1-25 1-1 1-7 1-16 1 4 1-11 1-14 1-11 1-11 1 3 1-6 1 24 1-38 1 29 1-13 1-22 1 35 1 20 1-25 1 31 1 5 1 9 1-1 1 7 1 16 1-8 1 24 1-15 1 13 1-16 1 10 1-9 1-26 1 18 1-8 1-26 1-1 1-6 1-11 1-29 1 27 1-11 1-6 1 12 1-7 1-2 1 20 1-14 1 31 1-1 1 4 1-20 1 59 1-14 1-16 1 37 1-14 1 10 1 17 1-21 1 9 1-15 1 9 1-30 1 23 1-32 1-23 1-1 1 1 1-8 1-3 1-35 1 26 1 0 1 10 1 1 1-6 1 19 1 10 1 6 1 7 1 4 1 15 1 5 1 12 1-15 1 15 1 6 1-7 1 2 1 12 1-20 1-25 1 4 1-16 1 10 1 0 1-17 1-29 1 18 1-8 1-22 1 12 1-1 1-4 1 7 1 9 1 1 1 18 1 2 1 1 1 27 1 0 1 17 1-13 1 7 1 0 1 1 1 0 1 1" transform="matrix(0.022814 0 0 0.1 208.974 0)" fill="none" stroke="#0073C8" stroke-width="0.8" vector-effect="non-scaling-stroke" stroke-linejoin="round" /></g>
<text x="51.9" y="97.6" text-anchor="end" class="tl">4</text>
<text x="51.9" y="77.2" text-anchor="end" class="tl">5</text>
<text x="51.9" y="56.8" text-anchor="end" class="tl">6</text>
<path d="M126.84 197.40v-5.0M126.84 146.30v5.0M195.29 197.40v-5.0M195.29 146.30v5.0M263.73 197.40v-5.0M263.73 146.30v5.0M332.17 197.40v-5.0M332.17 146.30v5.0M400.61 197.40v-5.0M400.61 146.30v5.0M469.06 197.40v-5.0M469.06 146.30v5.0M58.40 154.82h5.0M537.50 154.82h-5.0" stroke="#262626" stroke-width="1.2" fill="none"/>
<rect x="58.40" y="146.30" width="479.10" height="51.10" fill="none" stroke="#262626" stroke-width="1.2"/>
<g><path d="M0 1548l1 0 1 0 1 0 1 0 1 0 1 0 1 0 1 0 1 0 1 0 1 0 1 0 1 0 1 0 1 0 1 0 1 0 1 0 1 0 1 0 1 0 1 0 1 0 1 0 1 0 1 0 1 0 1 0 1 0 1 0 1 0 1 0 1 0 1 0 1 0 1 0 1 0 1 0 1 0 1 0 1 0 1 0 1 0 1 0 1 0 1 0 1 0 1 0 1 0 1 0 1 0 1 0 1 0 1 0 1 0 1 0 1 0 1 0 1 0 1 0 1 0 1 0 1 0 1 0 1 0 1 0 1 0 1 0 1 0 1 0 1 0 1 0 1 0 1 0 1 0 1 0 1 0 1 0 1 0 1 0" transform="matrix(0.085554 0 0 0.1 58.400 0)" fill="none" stroke="#0073C8" stroke-width="1.4" vector-effect="non-scaling-stroke" stroke-linejoin="round" />
<path d="M0 1548l1 0 1 0 1 0 1 0 1 0 1 0 1 0 1 0 1 0 1 0 1 0 1 0 1 0 1 0 1 0 1 0 1 0 1 0 1 0 1 0 1 0 1 0 1 0 1 0 1 0 1 0 1 0 1 0 1 0 1 0 1 0 1 0 1 0 1 0 1 0 1 0 1 0 1 0 1 0 1 0 1 0 1 0 1 0 1 0 1 0 1 0 1 0 1 0 1 0 1 0 1 0 1 0 1 0 1 0 1 0 1 0 1 0 1 0 1 0 1 0 1 0 1 0 1 0 1 0 1 0 1 0 1 0 1 0 1 0 1 0 1 0 1 0 1 0 1 0 1 0 1 0 1 0 1 0 1 0 1 0 1 0" transform="matrix(0.085554 0 0 0.1 65.159 0)" fill="none" stroke="#0073C8" stroke-width="1.4" vector-effect="non-scaling-stroke" stroke-linejoin="round" />
<path d="M0 1548l1 0 1 0 1 0 1 0 1 0 1 0 1 0 1 0 1 0 1 0 1 0 1 0 1 0 1 0 1 0 1 0 1 0 1 0 1 0 1 0 1 0 1 0 1 0 1 0 1 0 1 0 1 0 1 0 1 0 1 0 1 0 1 0 1 0 1 0 1 0 1 0 1 0 1 0 1 0 1 0 1 0 1 0 1 0 1 0 1 0 1 0 1 0 1 0 1 0 1 0 1 0 1 0 1 0 1 0 1 0 1 0 1 0 1 0 1 0 1 0 1 0 1 0 1 0 1 0 1 0 1 0 1 0 1 0 1 0 1 0 1 0 1 0 1 0 1 0 1 0 1 0 1 0 1 0 1 0 1 0 1 0" transform="matrix(0.085554 0 0 0.1 72.003 0)" fill="none" stroke="#0073C8" stroke-width="1.4" vector-effect="non-scaling-stroke" stroke-linejoin="round" />
<path d="M0 1548l1 0 1 0 1 0 1 0 1 0 1 0 1 0 1 0 1 0 1 0 1-1 1 0 1 0 1 0 1 0 1 0 1-1 1 0 1 0 1 0 1-1 1 0 1 0 1-1 1 0 1 0 1-1 1 0 1 0 1-1 1 0 1-1 1 0 1 0 1-1 1 0 1-1 1 0 1-1 1 0 1-1 1-1 1 0 1-1 1 0 1-1 1-1 1 0 1-1 1 0 1-1 1-1 1-1 1 0 1-1 1-1 1 0 1-1 1-1 1-1 1-1 1 0 1-1 1-1 1-1 1-1 1-1 1 0 1-1 1-1 1-1 1-1 1-1 1-1 1-1 1-1 1-1 1-1 1 0 1-1 1-1" transform="matrix(0.085554 0 0 0.1 78.847 0)" fill="none" stroke="#0073C8" stroke-width="1.4" vector-effect="non-scaling-stroke" stroke-linejoin="round" />
<path d="M0 1507l1-1 1-1 1-1 1-1 1-1 1-1 1-1 1-1 1-1 1-1 1-1 1-1 1-1 1-1 1-1 1-1 1-1 1-1 1-1 1-1 1-1 1-1 1-1 1-1 1-1 1-1 1-1 1 0 1-1 1-1 1-1 1-1 1-1 1 0 1-1 1-1 1-1 1 0 1-1 1-1 1-1 1 0 1-1 1 0 1-1 1 0 1-1 1 0 1-1 1 0 1 0 1-1 1 0 1 0 1-1 1 0 1 0 1 0 1 0 1 0 1 0 1 0 1 0 1 0 1 1 1 0 1 0 1 1 1 0 1 1 1 0 1 1 1 0 1 1 1 1 1 1 1 0 1 1 1 1 1 1 1 1" transform="matrix(0.085554 0 0 0.1 85.692 0)" fill="none" stroke="#0073C8" stroke-width="1.4" vector-effect="non-scaling-stroke" stroke-linejoin="round" />
<path d="M0 1473l1 1 1 2 1 1 1 1 1 1 1 2 1 1 1 2 1 1 1 2 1 1 1 2 1 2 1 2 1 2 1 2 1 2 1 2 1 2 1 2 1 2 1 2 1 3 1 2 1 2 1 3 1 2 1 3 1 2 1 3 1 2 1 3 1 2 1 3 1 3 1 3 1 2 1 3 1 3 1 3 1 2 1 3 1 3 1 3 1 2 1 3 1 3 1 2 1 3 1 3 1 2 1 3 1 3 1 2 1 3 1 2 1 2 1 3 1 2 1 2 1 2 1 2 1 2 1 2 1 2 1 2 1 1 1 2 1 2 1 1 1 1 1 1 1 1 1 1 1 1 1 1 1 0 1 1 1 0 1 0 1 0" transform="matrix(0.085554 0 0 0.1 92.536 0)" fill="none" stroke="#0073C8" stroke-width="1.4" vector-effect="non-scaling-stroke" stroke-linejoin="round" />
<path d="M0 1633l1 0 1 0 1 0 1 0 1-1 1 0 1-1 1-1 1-1 1-1 1-1 1-2 1-1 1-2 1-2 1-2 1-2 1-2 1-3 1-2 1-3 1-2 1-3 1-3 1-3 1-3 1-3 1-4 1-3 1-4 1-3 1-4 1-3 1-4 1-4 1-4 1-3 1-4 1-4 1-4 1-4 1-4 1-4 1-3 1-4 1-4 1-4 1-3 1-4 1-3 1-4 1-3 1-3 1-3 1-3 1-3 1-3 1-2 1-3 1-2 1-2 1-2 1-2 1-1 1-1 1-1 1-1 1-1 1-1 1 0 1 0 1 0 1 1 1 0 1 1 1 1 1 1 1 2 1 1 1 2 1 2" transform="matrix(0.085554 0 0 0.1 99.380 0)" fill="none" stroke="#0073C8" stroke-width="1.4" vector-effect="non-scaling-stroke" stroke-linejoin="round" />
<path d="M0 1472l1 2 1 3 1 2 1 3 1 3 1 3 1 3 1 4 1 3 1 4 1 4 1 4 1 4 1 5 1 4 1 5 1 4 1 5 1 5 1 4 1 5 1 5 1 4 1 5 1 5 1 4 1 5 1 4 1 5 1 4 1 4 1 4 1 4 1 3 1 4 1 3 1 3 1 3 1 2 1 3 1 2 1 2 1 1 1 1 1 1 1 1 1 0 1 0 1 0 1-1 1 0 1-2 1-1 1-2 1-2 1-2 1-3 1-3 1-3 1-4 1-4 1-4 1-4 1-4 1-5 1-5 1-5 1-5 1-5 1-5 1-5 1-6 1-5 1-6 1-5 1-6 1-5 1-5 1-5 1-6 1-4" transform="matrix(0.085554 0 0 0.1 106.224 0)" fill="none" stroke="#0073C8" stroke-width="1.4" vector-effect="non-scaling-stroke" stroke-linejoin="round" />
<path d="M0 1510l1-4 1-5 1-5 1-4 1-4 1-4 1-4 1-3 1-3 1-2 1-3 1-2 1-1 1-2 1 0 1-1 1 0 1 0 1 1 1 1 1 2 1 2 1 2 1 2 1 3 1 4 1 4 1 4 1 4 1 5 1 4 1 6 1 5 1 5 1 6 1 6 1 6 1 6 1 6 1 6 1 6 1 6 1 6 1 6 1 6 1 5 1 6 1 5 1 5 1 4 1 5 1 4 1 3 1 3 1 3 1 2 1 2 1 2 1 1 1 0 1 0 1 0 1-1 1-2 1-1 1-3 1-3 1-3 1-4 1-4 1-4 1-5 1-5 1-6 1-5 1-6 1-7 1-6 1-7 1-6 1-7" transform="matrix(0.085554 0 0 0.1 113.069 0)" fill="none" stroke="#0073C8" stroke-width="1.375" vector-effect="non-scaling-stroke" stroke-linejoin="round" />
<path d="M0 1555l1-7 1-7 1-6 1-7 1-6 1-7 1-6 1-6 1-5 1-6 1-5 1-4 1-4 1-4 1-3 1-3 1-2 1-2 1-1 1-1 1 0 1 1 1 1 1 1 1 2 1 3 1 4 1 3 1 5 1 4 1 6 1 5 1 6 1 6 1 7 1 7 1 7 1 7 1 7 1 7 1 7 1 7 1 7 1 7 1 7 1 6 1 6 1 6 1 5 1 5 1 4 1 4 1 3 1 3 1 2 1 1 1 1 1 0 1 0 1-1 1-2 1-3 1-3 1-4 1-4 1-5 1-5 1-6 1-6 1-7 1-7 1-7 1-8 1-7 1-8 1-8 1-7 1-8 1-7 1-7 1-7" transform="matrix(0.085554 0 0 0.1 119.913 0)" fill="none" stroke="#0073C8" stroke-width="1.325" vector-effect="non-scaling-stroke" stroke-linejoin="round" />
<path d="M0 1513l1-7 1-7 1-6 1-6 1-5 1-5 1-4 1-3 1-3 1-2 1-1 1-1 1 0 1 1 1 2 1 2 1 3 1 4 1 4 1 5 1 6 1 6 1 7 1 7 1 7 1 8 1 8 1 8 1 8 1 8 1 8 1 8 1 8 1 8 1 7 1 6 1 6 1 6 1 5 1 4 1 4 1 3 1 2 1 1 1 0 1 0 1-1 1-2 1-3 1-4 1-4 1-6 1-5 1-7 1-7 1-7 1-8 1-8 1-8 1-9 1-9 1-8 1-9 1-8 1-8 1-8 1-7 1-7 1-6 1-5 1-5 1-4 1-3 1-2 1-2 1 0 1 0 1 2 1 2 1 3 1 4" transform="matrix(0.085554 0 0 0.1 126.757 0)" fill="none" stroke="#0073C8" stroke-width="1.275" vector-effect="non-scaling-stroke" stroke-linejoin="round" />
<path d="M0 1470l1 4 1 5 1 6 1 6 1 7 1 8 1 8 1 8 1 9 1 9 1 9 1 9 1 9 1 9 1 8 1 8 1 8 1 7 1 6 1 6 1 4 1 4 1 3 1 2 1 1 1 0 1-1 1-2 1-3 1-4 1-4 1-6 1-7 1-7 1-8 1-8 1-9 1-9 1-9 1-10 1-9 1-9 1-9 1-9 1-8 1-8 1-7 1-6 1-6 1-4 1-4 1-2 1-2 1 0 1 1 1 2 1 2 1 4 1 5 1 6 1 7 1 7 1 9 1 8 1 10 1 9 1 10 1 10 1 9 1 10 1 9 1 9 1 9 1 7 1 7 1 6 1 5 1 4 1 3 1 2 1 0" transform="matrix(0.085554 0 0 0.1 133.602 0)" fill="none" stroke="#0073C8" stroke-width="1.225" vector-effect="non-scaling-stroke" stroke-linejoin="round" />
<path d="M0 1633l1 0 1 0 1-2 1-3 1-4 1-5 1-6 1-7 1-8 1-9 1-9 1-10 1-10 1-10 1-10 1-10 1-10 1-9 1-9 1-9 1-7 1-7 1-5 1-5 1-3 1-2 1-1 1 0 1 2 1 3 1 4 1 5 1 7 1 7 1 8 1 9 1 10 1 10 1 10 1 11 1 10 1 11 1 10 1 9 1 9 1 9 1 7 1 6 1 5 1 4 1 3 1 1 1 0 1-1 1-3 1-4 1-5 1-7 1-7 1-8 1-10 1-10 1-10 1-11 1-11 1-11 1-10 1-11 1-9 1-9 1-9 1-7 1-6 1-5 1-3 1-2 1-1 1 1 1 2 1 3 1 5" transform="matrix(0.085554 0 0 0.1 140.446 0)" fill="none" stroke="#0073C8" stroke-width="1.175" vector-effect="non-scaling-stroke" stroke-linejoin="round" />
<path d="M0 1469l1 5 1 7 1 7 1 8 1 10 1 10 1 10 1 11 1 12 1 11 1 11 1 11 1 10 1 9 1 8 1 8 1 6 1 5 1 3 1 2 1 0 1-1 1-3 1-4 1-5 1-7 1-8 1-9 1-10 1-11 1-11 1-11 1-12 1-11 1-12 1-10 1-10 1-9 1-8 1-6 1-6 1-3 1-2 1-1 1 1 1 3 1 4 1 6 1 7 1 8 1 9 1 11 1 11 1 11 1 12 1 12 1 12 1 11 1 11 1 10 1 8 1 8 1 6 1 5 1 3 1 1 1 0 1-2 1-4 1-5 1-7 1-8 1-9 1-10 1-12 1-11 1-12 1-13 1-12 1-11 1-11" transform="matrix(0.085554 0 0 0.1 147.290 0)" fill="none" stroke="#0073C8" stroke-width="1.125" vector-effect="non-scaling-stroke" stroke-linejoin="round" />
<path d="M0 1517l1-11 1-11 1-9 1-7 1-7 1-5 1-3 1-1 1 1 1 2 1 4 1 5 1 8 1 8 1 10 1 11 1 12 1 12 1 12 1 13 1 12 1 12 1 11 1 9 1 9 1 7 1 6 1 4 1 2 1 0 1-1 1-4 1-5 1-7 1-9 1-9 1-11 1-12 1-12 1-13 1-13 1-12 1-13 1-11 1-10 1-9 1-7 1-6 1-4 1-2 1 0 1 2 1 4 1 6 1 7 1 9 1 10 1 12 1 12 1 13 1 13 1 13 1 13 1 12 1 11 1 9 1 9 1 7 1 4 1 3 1 1 1-1 1-3 1-5 1-7 1-9 1-10 1-11 1-13 1-13 1-13" transform="matrix(0.085554 0 0 0.1 154.134 0)" fill="none" stroke="#0073C8" stroke-width="1.075" vector-effect="non-scaling-stroke" stroke-linejoin="round" />
<path d="M0 1561l1-13 1-13 1-13 1-13 1-11 1-10 1-9 1-7 1-5 1-3 1-1 1 1 1 3 1 6 1 7 1 9 1 11 1 11 1 13 1 13 1 14 1 14 1 13 1 12 1 11 1 10 1 9 1 6 1 5 1 2 1 0 1-2 1-4 1-7 1-8 1-10 1-11 1-13 1-13 1-14 1-14 1-14 1-13 1-11 1-11 1-9 1-7 1-5 1-3 1-1 1 2 1 4 1 6 1 8 1 10 1 12 1 12 1 14 1 14 1 14 1 14 1 13 1 12 1 11 1 9 1 7 1 5 1 3 1 0 1-2 1-4 1-7 1-9 1-10 1-12 1-14 1-14 1-14 1-14 1-14 1-13" transform="matrix(0.085554 0 0 0.1 160.979 0)" fill="none" stroke="#0073C8" stroke-width="1.025" vector-effect="non-scaling-stroke" stroke-linejoin="round" />
<path d="M0 1519l1-13 1-12 1-11 1-8 1-6 1-4 1-2 1 1 1 3 1 6 1 8 1 10 1 12 1 13 1 14 1 14 1 15 1 14 1 14 1 12 1 11 1 9 1 7 1 5 1 2 1 0 1-3 1-6 1-8 1-9 1-12 1-13 1-14 1-15 1-15 1-15 1-14 1-12 1-11 1-10 1-7 1-4 1-2 1 1 1 3 1 6 1 8 1 11 1 12 1 14 1 14 1 15 1 15 1 15 1 14 1 12 1 11 1 9 1 6 1 3 1 1 1-2 1-4 1-7 1-10 1-11 1-13 1-15 1-15 1-15 1-16 1-14 1-13 1-12 1-9 1-8 1-4 1-2 1 1 1 4 1 6" transform="matrix(0.085554 0 0 0.1 167.823 0)" fill="none" stroke="#0073C8" stroke-width="0.975" vector-effect="non-scaling-stroke" stroke-linejoin="round" />
<path d="M0 1468l1 6 1 9 1 12 1 13 1 14 1 15 1 16 1 15 1 15 1 14 1 12 1 10 1 7 1 5 1 2 1-1 1-3 1-7 1-9 1-11 1-14 1-14 1-16 1-16 1-15 1-15 1-14 1-12 1-10 1-7 1-4 1-2 1 2 1 4 1 7 1 10 1 12 1 14 1 15 1 16 1 16 1 16 1 15 1 13 1 11 1 9 1 7 1 3 1 0 1-3 1-6 1-8 1-12 1-13 1-15 1-16 1-16 1-16 1-16 1-14 1-12 1-10 1-7 1-5 1-1 1 2 1 5 1 8 1 11 1 13 1 14 1 16 1 17 1 16 1 16 1 15 1 12 1 11 1 8 1 5 1 1" transform="matrix(0.085554 0 0 0.1 174.667 0)" fill="none" stroke="#0073C8" stroke-width="0.925" vector-effect="non-scaling-stroke" stroke-linejoin="round" />
<path d="M0 1632l1 1 1-1 1-5 1-8 1-11 1-13 1-14 1-17 1-16 1-17 1-16 1-15 1-13 1-10 1-8 1-5 1-1 1 2 1 5 1 9 1 11 1 13 1 16 1 16 1 17 1 17 1 16 1 15 1 12 1 10 1 7 1 4 1 0 1-3 1-7 1-9 1-12 1-15 1-16 1-17 1-17 1-17 1-15 1-14 1-12 1-8 1-6 1-2 1 2 1 4 1 9 1 11 1 14 1 15 1 17 1 18 1 17 1 16 1 15 1 12 1 10 1 7 1 3 1 0 1-4 1-8 1-10 1-14 1-15 1-17 1-18 1-17 1-17 1-15 1-13 1-11 1-7 1-4 1 0 1 4 1 7" transform="matrix(0.085554 0 0 0.1 181.512 0)" fill="none" stroke="#0073C8" stroke-width="0.875" vector-effect="non-scaling-stroke" stroke-linejoin="round" />
<path d="M0 1467l1 7 1 11 1 13 1 16 1 17 1 17 1 18 1 17 1 16 1 13 1 10 1 7 1 4 1 0 1-4 1-8 1-11 1-13 1-16 1-18 1-18 1-18 1-17 1-15 1-13 1-10 1-6 1-3 1 1 1 5 1 9 1 12 1 14 1 17 1 17 1 19 1 18 1 16 1 15 1 12 1 9 1 5 1 1 1-2 1-7 1-10 1-13 1-16 1-17 1-19 1-18 1-18 1-16 1-13 1-11 1-7 1-3 1 1 1 5 1 9 1 12 1 15 1 17 1 18 1 19 1 18 1 17 1 14 1 12 1 8 1 5 1 0 1-4 1-8 1-11 1-15 1-16 1-19 1-19 1-18 1-17" transform="matrix(0.085554 0 0 0.1 188.356 0)" fill="none" stroke="#0073C8" stroke-width="0.825" vector-effect="non-scaling-stroke" stroke-linejoin="round" />
<path d="M0 1523l1-17 1-16 1-12 1-9 1-5 1-1 1 4 1 7 1 11 1 14 1 17 1 19 1 19 1 18 1 18 1 15 1 13 1 9 1 5 1 1 1-3 1-8 1-11 1-15 1-17 1-19 1-19 1-19 1-17 1-16 1-12 1-9 1-4 1-1 1 5 1 8 1 12 1 15 1 18 1 19 1 19 1 19 1 18 1 14 1 12 1 8 1 3 1-1 1-5 1-10 1-13 1-16 1-19 1-19 1-20 1-18 1-17 1-14 1-10 1-6 1-2 1 3 1 7 1 12 1 15 1 17 1 19 1 20 1 19 1 18 1 16 1 12 1 8 1 4 1-1 1-5 1-10 1-14 1-16 1-19 1-20" transform="matrix(0.085554 0 0 0.1 195.200 0)" fill="none" stroke="#0073C8" stroke-width="0.8" vector-effect="non-scaling-stroke" stroke-linejoin="round" />
<path d="M0 1568l1-20 1-20 1-19 1-16 1-14 1-10 1-5 1-1 1 4 1 9 1 12 1 16 1 19 1 20 1 20 1 19 1 18 1 14 1 11 1 7 1 1 1-3 1-8 1-12 1-15 1-18 1-20 1-21 1-19 1-18 1-15 1-12 1-7 1-2 1 3 1 7 1 12 1 15 1 19 1 20 1 20 1 20 1 18 1 16 1 11 1 7 1 2 1-3 1-7 1-12 1-16 1-19 1-20 1-21 1-20 1-18 1-15 1-11 1-6 1-2 1 4 1 8 1 13 1 16 1 20 1 20 1 21 1 20 1 18 1 14 1 10 1 6 1 0 1-5 1-10 1-14 1-17 1-20 1-21 1-21 1-19" transform="matrix(0.085554 0 0 0.1 202.044 0)" fill="none" stroke="#0073C8" stroke-width="0.8" vector-effect="non-scaling-stroke" stroke-linejoin="round" />
<path d="M0 1525l1-19 1-17 1-13 1-9 1-4 1 2 1 6 1 12 1 15 1 19 1 21 1 21 1 21 1 18 1 16 1 11 1 7 1 1 1-4 1-9 1-14 1-17 1-20 1-21 1-21 1-20 1-18 1-13 1-9 1-4 1 2 1 7 1 12 1 16 1 19 1 21 1 22 1 20 1 19 1 15 1 11 1 6 1 0 1-6 1-10 1-15 1-18 1-21 1-22 1-21 1-20 1-16 1-12 1-7 1-2 1 4 1 9 1 15 1 18 1 20 1 22 1 22 1 20 1 17 1 13 1 8 1 2 1-3 1-9 1-13 1-18 1-20 1-22 1-22 1-21 1-17 1-14 1-8 1-3 1 3 1 8" transform="matrix(0.085554 0 0 0.1 208.889 0)" fill="none" stroke="#0073C8" stroke-width="0.8" vector-effect="non-scaling-stroke" stroke-linejoin="round" />
<path d="M0 1466l1 8 1 14 1 18 1 20 1 22 1 22 1 21 1 18 1 13 1 9 1 2 1-3 1-9 1-13 1-18 1-21 1-23 1-22 1-20 1-18 1-13 1-8 1-2 1 4 1 9 1 15 1 19 1 21 1 23 1 22 1 20 1 17 1 12 1 7 1 1 1-5 1-11 1-16 1-19 1-22 1-23 1-22 1-20 1-15 1-11 1-6 1 1 1 7 1 13 1 17 1 20 1 23 1 23 1 21 1 19 1 14 1 9 1 3 1-3 1-9 1-15 1-18 1-22 1-23 1-23 1-20 1-17 1-13 1-6 1 0 1 6 1 12 1 16 1 21 1 23 1 23 1 22 1 19 1 15 1 9 1 3" transform="matrix(0.085554 0 0 0.1 215.733 0)" fill="none" stroke="#0073C8" stroke-width="0.8" vector-effect="non-scaling-stroke" stroke-linejoin="round" />
<path d="M0 1630l1 3 1-3 1-9 1-15 1-19 1-22 1-24 1-23 1-20 1-17 1-12 1-6 1 1 1 7 1 13 1 18 1 22 1 23 1 23 1 22 1 18 1 14 1 8 1 1 1-5 1-12 1-16 1-21 1-23 1-24 1-22 1-20 1-15 1-9 1-3 1 4 1 10 1 15 1 21 1 22 1 24 1 23 1 21 1 16 1 10 1 4 1-2 1-10 1-15 1-19 1-23 1-24 1-23 1-21 1-17 1-11 1-5 1 2 1 9 1 15 1 19 1 23 1 24 1 23 1 22 1 17 1 11 1 5 1-2 1-8 1-15 1-20 1-23 1-24 1-24 1-21 1-17 1-11 1-5 1 2 1 9" transform="matrix(0.085554 0 0 0.1 222.577 0)" fill="none" stroke="#0073C8" stroke-width="0.8" vector-effect="non-scaling-stroke" stroke-linejoin="round" />
<path d="M0 1465l1 9 1 16 1 20 1 23 1 24 1 24 1 21 1 17 1 10 1 4 1-3 1-10 1-16 1-20 1-24 1-25 1-23 1-21 1-15 1-10 1-3 1 4 1 12 1 17 1 21 1 24 1 25 1 23 1 20 1 15 1 8 1 1 1-6 1-13 1-19 1-22 1-25 1-25 1-22 1-19 1-13 1-6 1 2 1 8 1 15 1 20 1 24 1 25 1 24 1 22 1 16 1 11 1 3 1-4 1-11 1-17 1-22 1-24 1-26 1-23 1-20 1-14 1-8 1 0 1 7 1 14 1 20 1 23 1 26 1 24 1 23 1 17 1 11 1 4 1-3 1-11 1-17 1-22 1-25 1-26 1-23" transform="matrix(0.085554 0 0 0.1 229.422 0)" fill="none" stroke="#0073C8" stroke-width="0.8" vector-effect="non-scaling-stroke" stroke-linejoin="round" />
<path d="M0 1529l1-23 1-20 1-15 1-7 1 0 1 8 1 15 1 20 1 24 1 26 1 24 1 22 1 17 1 10 1 3 1-5 1-12 1-19 1-23 1-25 1-26 1-23 1-19 1-12 1-6 1 3 1 10 1 16 1 22 1 26 1 25 1 25 1 20 1 15 1 7 1 0 1-8 1-15 1-21 1-25 1-26 1-25 1-22 1-16 1-9 1-2 1 7 1 14 1 20 1 24 1 26 1 26 1 23 1 17 1 10 1 3 1-5 1-13 1-20 1-23 1-27 1-26 1-23 1-18 1-11 1-4 1 5 1 12 1 19 1 24 1 26 1 26 1 24 1 18 1 12 1 4 1-4 1-12 1-19 1-24 1-26" transform="matrix(0.085554 0 0 0.1 236.266 0)" fill="none" stroke="#0073C8" stroke-width="0.8" vector-effect="non-scaling-stroke" stroke-linejoin="round" />
<path d="M0 1574l1-26 1-26 1-24 1-19 1-12 1-4 1 4 1 12 1 19 1 24 1 27 1 26 1 24 1 19 1 12 1 3 1-4 1-13 1-20 1-24 1-27 1-26 1-24 1-18 1-11 1-3 1 6 1 13 1 21 1 24 1 27 1 27 1 23 1 17 1 10 1 2 1-7 1-15 1-21 1-26 1-27 1-26 1-22 1-16 1-9 1 0 1 9 1 16 1 23 1 26 1 27 1 26 1 21 1 15 1 6 1-2 1-11 1-19 1-23 1-27 1-28 1-24 1-20 1-12 1-4 1 5 1 13 1 21 1 25 1 28 1 26 1 24 1 17 1 10 1 1 1-9 1-16 1-22 1-27 1-27 1-26" transform="matrix(0.085554 0 0 0.1 243.110 0)" fill="none" stroke="#0073C8" stroke-width="0.8" vector-effect="non-scaling-stroke" stroke-linejoin="round" />
<path d="M0 1532l1-26 1-22 1-15 1-6 1 3 1 11 1 20 1 24 1 28 1 27 1 25 1 18 1 12 1 2 1-7 1-15 1-22 1-26 1-28 1-27 1-22 1-16 1-7 1 2 1 11 1 19 1 25 1 28 1 27 1 25 1 19 1 12 1 2 1-7 1-15 1-23 1-27 1-28 1-26 1-23 1-15 1-6 1 3 1 12 1 20 1 26 1 28 1 28 1 24 1 18 1 10 1 0 1-8 1-18 1-23 1-28 1-28 1-26 1-21 1-13 1-4 1 6 1 14 1 22 1 27 1 29 1 27 1 23 1 15 1 7 1-3 1-12 1-20 1-26 1-29 1-28 1-24 1-18 1-9 1 0 1 10" transform="matrix(0.085554 0 0 0.1 249.954 0)" fill="none" stroke="#0073C8" stroke-width="0.8" vector-effect="non-scaling-stroke" stroke-linejoin="round" />
<path d="M0 1464l1 10 1 19 1 25 1 28 1 29 1 25 1 20 1 11 1 2 1-8 1-17 1-24 1-28 1-29 1-26 1-21 1-13 1-4 1 6 1 16 1 23 1 28 1 29 1 27 1 22 1 14 1 5 1-5 1-14 1-23 1-27 1-29 1-28 1-23 1-15 1-6 1 4 1 14 1 22 1 27 1 29 1 28 1 24 1 16 1 6 1-3 1-14 1-21 1-27 1-30 1-28 1-24 1-16 1-7 1 4 1 13 1 21 1 28 1 29 1 29 1 23 1 17 1 6 1-3 1-14 1-22 1-27 1-30 1-28 1-24 1-16 1-6 1 4 1 14 1 23 1 28 1 30 1 28 1 23 1 15 1 5" transform="matrix(0.085554 0 0 0.1 256.799 0)" fill="none" stroke="#0073C8" stroke-width="0.8" vector-effect="non-scaling-stroke" stroke-linejoin="round" />
<path d="M0 1628l1 5 1-5 1-15 1-23 1-29 1-30 1-28 1-22 1-14 1-4 1 7 1 16 1 24 1 29 1 30 1 28 1 21 1 13 1 2 1-9 1-18 1-25 1-30 1-29 1-27 1-20 1-11 1 0 1 11 1 20 1 26 1 31 1 29 1 26 1 18 1 8 1-3 1-13 1-22 1-28 1-30 1-29 1-24 1-16 1-5 1 6 1 15 1 24 1 29 1 31 1 28 1 22 1 13 1 2 1-9 1-19 1-26 1-30 1-30 1-27 1-19 1-9 1 1 1 13 1 22 1 28 1 30 1 30 1 24 1 16 1 5 1-6 1-16 1-24 1-30 1-31 1-28 1-21 1-12 1-1 1 10" transform="matrix(0.085554 0 0 0.1 263.643 0)" fill="none" stroke="#0073C8" stroke-width="0.8" vector-effect="non-scaling-stroke" stroke-linejoin="round" />
<path d="M0 1464l1 10 1 21 1 27 1 31 1 30 1 26 1 17 1 7 1-4 1-15 1-24 1-29 1-32 1-28 1-23 1-12 1-2 1 9 1 20 1 27 1 31 1 31 1 26 1 18 1 7 1-4 1-15 1-24 1-30 1-31 1-29 1-22 1-13 1-1 1 10 1 20 1 28 1 31 1 31 1 26 1 17 1 6 1-5 1-16 1-25 1-31 1-31 1-29 1-21 1-11 1 1 1 12 1 22 1 29 1 32 1 30 1 24 1 15 1 4 1-8 1-19 1-27 1-31 1-31 1-27 1-19 1-8 1 4 1 16 1 24 1 31 1 32 1 29 1 21 1 12 1 0 1-12 1-23 1-29 1-32 1-30" transform="matrix(0.085554 0 0 0.1 270.487 0)" fill="none" stroke="#0073C8" stroke-width="0.8" vector-effect="non-scaling-stroke" stroke-linejoin="round" />
<path d="M0 1536l1-30 1-25 1-15 1-3 1 9 1 20 1 28 1 32 1 31 1 27 1 17 1 6 1-6 1-17 1-26 1-32 1-32 1-28 1-20 1-9 1 4 1 15 1 25 1 30 1 33 1 29 1 22 1 11 1-1 1-13 1-23 1-30 1-33 1-30 1-24 1-13 1-1 1 11 1 22 1 30 1 32 1 31 1 25 1 15 1 3 1-10 1-21 1-28 1-33 1-32 1-25 1-17 1-4 1 9 1 19 1 29 1 32 1 32 1 27 1 17 1 5 1-7 1-19 1-28 1-33 1-32 1-27 1-18 1-6 1 7 1 18 1 28 1 33 1 32 1 28 1 18 1 6 1-6 1-19 1-27 1-33" transform="matrix(0.085554 0 0 0.1 277.332 0)" fill="none" stroke="#0073C8" stroke-width="0.805" vector-effect="non-scaling-stroke" stroke-linejoin="round" />
<path d="M0 1581l1-33 1-32 1-28 1-19 1-6 1 7 1 18 1 28 1 33 1 32 1 28 1 18 1 6 1-7 1-19 1-28 1-33 1-32 1-28 1-17 1-6 1 8 1 19 1 29 1 33 1 33 1 27 1 17 1 4 1-9 1-20 1-30 1-33 1-32 1-26 1-16 1-4 1 11 1 21 1 31 1 33 1 32 1 25 1 15 1 1 1-12 1-23 1-31 1-34 1-31 1-24 1-13 1 1 1 14 1 25 1 32 1 34 1 30 1 22 1 11 1-3 1-17 1-26 1-33 1-34 1-29 1-20 1-8 1 6 1 19 1 28 1 34 1 33 1 28 1 18 1 4 1-9 1-21 1-31 1-34 1-32" transform="matrix(0.085554 0 0 0.1 284.176 0)" fill="none" stroke="#0073C8" stroke-width="0.815" vector-effect="non-scaling-stroke" stroke-linejoin="round" />
<path d="M0 1538l1-32 1-26 1-15 1-1 1 13 1 24 1 32 1 34 1 32 1 23 1 11 1-3 1-16 1-27 1-34 1-34 1-29 1-20 1-7 1 7 1 20 1 29 1 35 1 33 1 27 1 16 1 3 1-12 1-24 1-31 1-35 1-32 1-24 1-11 1 2 1 16 1 28 1 33 1 35 1 29 1 20 1 6 1-8 1-20 1-31 1-34 1-34 1-26 1-15 1-1 1 14 1 25 1 33 1 35 1 31 1 22 1 9 1-5 1-19 1-29 1-35 1-34 1-28 1-16 1-3 1 11 1 24 1 33 1 35 1 32 1 23 1 11 1-4 1-18 1-28 1-35 1-35 1-28 1-18 1-4 1 11" transform="matrix(0.085554 0 0 0.1 291.020 0)" fill="none" stroke="#0073C8" stroke-width="0.824" vector-effect="non-scaling-stroke" stroke-linejoin="round" />
<path d="M0 1463l1 11 1 24 1 32 1 36 1 32 1 24 1 11 1-4 1-18 1-29 1-35 1-34 1-29 1-17 1-3 1 11 1 25 1 32 1 36 1 32 1 23 1 10 1-5 1-19 1-30 1-35 1-35 1-27 1-16 1-2 1 14 1 26 1 33 1 36 1 32 1 21 1 7 1-7 1-22 1-31 1-36 1-34 1-26 1-13 1 2 1 16 1 29 1 35 1 35 1 30 1 18 1 4 1-12 1-24 1-34 1-36 1-32 1-23 1-9 1 6 1 21 1 31 1 36 1 35 1 26 1 14 1-1 1-17 1-28 1-35 1-36 1-30 1-18 1-3 1 12 1 25 1 34 1 36 1 32 1 23 1 7" transform="matrix(0.085554 0 0 0.1 297.864 0)" fill="none" stroke="#0073C8" stroke-width="0.834" vector-effect="non-scaling-stroke" stroke-linejoin="round" />
<path d="M0 1626l1 7 1-7 1-23 1-32 1-36 1-34 1-26 1-11 1 3 1 19 1 30 1 36 1 36 1 28 1 15 1 0 1-15 1-28 1-35 1-37 1-30 1-19 1-3 1 12 1 25 1 35 1 37 1 32 1 21 1 7 1-9 1-23 1-33 1-37 1-34 1-24 1-10 1 6 1 21 1 32 1 37 1 35 1 26 1 13 1-4 1-19 1-31 1-36 1-36 1-28 1-14 1 1 1 17 1 29 1 36 1 37 1 29 1 17 1 1 1-15 1-29 1-36 1-36 1-31 1-18 1-3 1 13 1 28 1 35 1 37 1 32 1 20 1 4 1-12 1-27 1-35 1-37 1-33 1-20 1-6 1 11" transform="matrix(0.085554 0 0 0.1 304.709 0)" fill="none" stroke="#0073C8" stroke-width="0.844" vector-effect="non-scaling-stroke" stroke-linejoin="round" />
<path d="M0 1463l1 11 1 26 1 35 1 37 1 33 1 22 1 6 1-10 1-25 1-35 1-38 1-33 1-22 1-7 1 10 1 25 1 34 1 38 1 33 1 23 1 7 1-9 1-25 1-35 1-37 1-34 1-23 1-7 1 10 1 24 1 35 1 38 1 34 1 22 1 7 1-10 1-25 1-35 1-38 1-33 1-23 1-6 1 11 1 26 1 35 1 38 1 33 1 22 1 5 1-12 1-26 1-36 1-38 1-33 1-20 1-4 1 12 1 28 1 36 1 38 1 32 1 20 1 2 1-14 1-29 1-37 1-38 1-31 1-17 1-1 1 16 1 30 1 38 1 37 1 30 1 16 1-2 1-18 1-31 1-38 1-37" transform="matrix(0.085554 0 0 0.1 311.553 0)" fill="none" stroke="#0073C8" stroke-width="0.853" vector-effect="non-scaling-stroke" stroke-linejoin="round" />
<path d="M0 1543l1-37 1-29 1-13 1 4 1 20 1 33 1 39 1 36 1 26 1 11 1-6 1-23 1-35 1-39 1-35 1-24 1-8 1 10 1 25 1 36 1 39 1 34 1 21 1 5 1-13 1-28 1-37 1-39 1-32 1-18 1-1 1 16 1 31 1 38 1 38 1 29 1 15 1-3 1-20 1-33 1-39 1-37 1-26 1-11 1 7 1 24 1 36 1 39 1 35 1 23 1 6 1-12 1-27 1-38 1-39 1-32 1-19 1-1 1 16 1 31 1 39 1 38 1 29 1 15 1-4 1-22 1-34 1-39 1-37 1-25 1-9 1 10 1 25 1 37 1 40 1 34 1 20 1 3 1-15 1-30 1-39" transform="matrix(0.085554 0 0 0.1 318.397 0)" fill="none" stroke="#0073C8" stroke-width="0.863" vector-effect="non-scaling-stroke" stroke-linejoin="round" />
<path d="M0 1587l1-39 1-39 1-30 1-15 1 3 1 21 1 34 1 40 1 37 1 25 1 9 1-9 1-27 1-37 1-39 1-34 1-20 1-3 1 17 1 31 1 39 1 39 1 29 1 14 1-5 1-23 1-35 1-40 1-36 1-24 1-7 1 13 1 28 1 38 1 40 1 32 1 17 1-1 1-19 1-34 1-40 1-38 1-26 1-10 1 9 1 27 1 37 1 40 1 34 1 20 1 2 1-18 1-32 1-40 1-39 1-28 1-12 1 8 1 24 1 37 1 41 1 35 1 21 1 3 1-16 1-32 1-39 1-39 1-30 1-13 1 7 1 24 1 37 1 41 1 35 1 22 1 3 1-16 1-31 1-40 1-39" transform="matrix(0.085554 0 0 0.1 325.242 0)" fill="none" stroke="#0073C8" stroke-width="0.873" vector-effect="non-scaling-stroke" stroke-linejoin="round" />
<path d="M0 1545l1-39 1-30 1-13 1 7 1 25 1 37 1 41 1 35 1 21 1 3 1-17 1-32 1-40 1-39 1-29 1-12 1 8 1 26 1 38 1 41 1 34 1 20 1 1 1-18 1-34 1-41 1-38 1-27 1-10 1 10 1 28 1 39 1 41 1 33 1 18 1-2 1-22 1-35 1-41 1-38 1-25 1-6 1 14 1 31 1 40 1 40 1 31 1 14 1-6 1-25 1-38 1-41 1-36 1-21 1-1 1 18 1 34 1 42 1 38 1 27 1 9 1-11 1-29 1-40 1-41 1-32 1-16 1 4 1 24 1 37 1 42 1 36 1 22 1 3 1-18 1-33 1-42 1-39 1-28 1-9 1 11" transform="matrix(0.085554 0 0 0.1 332.086 0)" fill="none" stroke="#0073C8" stroke-width="0.882" vector-effect="non-scaling-stroke" stroke-linejoin="round" />
<path d="M0 1463l1 11 1 30 1 40 1 41 1 32 1 16 1-5 1-25 1-38 1-42 1-36 1-21 1-1 1 19 1 35 1 42 1 39 1 26 1 7 1-14 1-31 1-41 1-40 1-31 1-13 1 8 1 27 1 40 1 42 1 34 1 18 1-3 1-23 1-37 1-42 1-37 1-23 1-2 1 18 1 34 1 42 1 40 1 27 1 7 1-13 1-32 1-41 1-41 1-31 1-12 1 9 1 28 1 40 1 42 1 34 1 16 1-4 1-25 1-38 1-43 1-36 1-20 1 0 1 21 1 37 1 42 1 39 1 23 1 4 1-17 1-35 1-42 1-40 1-27 1-8 1 14 1 33 1 42 1 41 1 29 1 11" transform="matrix(0.085554 0 0 0.1 338.930 0)" fill="none" stroke="#0073C8" stroke-width="0.892" vector-effect="non-scaling-stroke" stroke-linejoin="round" />
<path d="M0 1622l1 11 1-11 1-29 1-42 1-42 1-32 1-14 1 8 1 27 1 41 1 42 1 35 1 16 1-4 1-26 1-39 1-43 1-36 1-19 1 2 1 23 1 38 1 43 1 38 1 21 1 1 1-21 1-37 1-44 1-38 1-24 1-2 1 19 1 36 1 43 1 39 1 26 1 4 1-17 1-35 1-43 1-40 1-27 1-6 1 15 1 34 1 43 1 41 1 28 1 8 1-14 1-33 1-43 1-42 1-29 1-9 1 13 1 33 1 43 1 41 1 30 1 10 1-12 1-32 1-43 1-42 1-30 1-11 1 12 1 31 1 43 1 42 1 31 1 11 1-11 1-31 1-43 1-42 1-32 1-11 1 11" transform="matrix(0.085554 0 0 0.1 345.774 0)" fill="none" stroke="#0073C8" stroke-width="0.902" vector-effect="non-scaling-stroke" stroke-linejoin="round" />
<path d="M0 1463l1 11 1 32 1 42 1 43 1 31 1 11 1-11 1-32 1-42 1-43 1-31 1-11 1 12 1 32 1 43 1 42 1 31 1 10 1-12 1-32 1-44 1-42 1-30 1-10 1 13 1 33 1 44 1 42 1 30 1 8 1-14 1-34 1-44 1-42 1-28 1-8 1 16 1 35 1 44 1 42 1 27 1 6 1-18 1-36 1-44 1-41 1-26 1-4 1 20 1 37 1 44 1 40 1 24 1 2 1-21 1-39 1-44 1-39 1-22 1 0 1 24 1 40 1 45 1 37 1 20 1-4 1-26 1-41 1-44 1-36 1-17 1 6 1 28 1 43 1 44 1 34 1 14 1-9 1-31 1-44 1-43" transform="matrix(0.085554 0 0 0.1 352.619 0)" fill="none" stroke="#0073C8" stroke-width="0.911" vector-effect="non-scaling-stroke" stroke-linejoin="round" />
<path d="M0 1549l1-43 1-32 1-11 1 13 1 34 1 44 1 43 1 29 1 7 1-17 1-36 1-45 1-41 1-26 1-3 1 20 1 39 1 45 1 39 1 23 1-1 1-25 1-40 1-46 1-37 1-18 1 6 1 28 1 42 1 45 1 34 1 14 1-10 1-32 1-44 1-44 1-31 1-9 1 16 1 35 1 45 1 42 1 27 1 4 1-21 1-38 1-46 1-40 1-22 1 2 1 26 1 41 1 46 1 36 1 17 1-8 1-30 1-44 1-44 1-33 1-11 1 14 1 35 1 45 1 43 1 27 1 5 1-20 1-38 1-47 1-40 1-22 1 2 1 26 1 42 1 46 1 36 1 16 1-9 1-31 1-45" transform="matrix(0.085554 0 0 0.1 359.463 0)" fill="none" stroke="#0073C8" stroke-width="0.921" vector-effect="non-scaling-stroke" stroke-linejoin="round" />
<path d="M0 1593l1-45 1-44 1-32 1-9 1 16 1 37 1 46 1 42 1 25 1 2 1-23 1-41 1-46 1-38 1-19 1 6 1 30 1 43 1 46 1 33 1 11 1-14 1-35 1-46 1-43 1-27 1-3 1 22 1 40 1 47 1 39 1 19 1-5 1-30 1-44 1-45 1-34 1-11 1 14 1 36 1 46 1 43 1 27 1 2 1-23 1-41 1-46 1-39 1-18 1 7 1 30 1 45 1 46 1 32 1 9 1-17 1-37 1-47 1-42 1-24 1 1 1 25 1 43 1 47 1 36 1 15 1-11 1-33 1-46 1-45 1-29 1-5 1 21 1 40 1 48 1 39 1 20 1-6 1-30 1-44 1-46" transform="matrix(0.085554 0 0 0.1 366.307 0)" fill="none" stroke="#0073C8" stroke-width="0.931" vector-effect="non-scaling-stroke" stroke-linejoin="round" />
<path d="M0 1552l1-46 1-33 1-10 1 17 1 38 1 47 1 42 1 24 1-2 1-27 1-43 1-47 1-36 1-13 1 13 1 36 1 47 1 43 1 27 1 2 1-25 1-42 1-47 1-38 1-16 1 11 1 34 1 46 1 45 1 29 1 4 1-23 1-41 1-48 1-39 1-18 1 9 1 33 1 47 1 45 1 30 1 5 1-21 1-41 1-48 1-40 1-18 1 8 1 32 1 46 1 46 1 31 1 5 1-21 1-41 1-48 1-40 1-18 1 8 1 32 1 47 1 46 1 30 1 5 1-22 1-41 1-48 1-40 1-18 1 10 1 33 1 47 1 46 1 29 1 3 1-23 1-42 1-48 1-39 1-16 1 11" transform="matrix(0.085554 0 0 0.1 373.152 0)" fill="none" stroke="#0073C8" stroke-width="0.94" vector-effect="non-scaling-stroke" stroke-linejoin="round" />
<path d="M0 1463l1 11 1 36 1 47 1 45 1 27 1 1 1-25 1-44 1-48 1-37 1-13 1 14 1 37 1 49 1 43 1 25 1-2 1-29 1-45 1-48 1-34 1-10 1 18 1 40 1 49 1 41 1 21 1-6 1-32 1-47 1-47 1-31 1-4 1 22 1 43 1 48 1 39 1 16 1-12 1-36 1-48 1-45 1-26 1 1 1 28 1 45 1 48 1 35 1 10 1-18 1-40 1-49 1-42 1-20 1 7 1 34 1 47 1 47 1 29 1 3 1-25 1-44 1-48 1-38 1-13 1 15 1 39 1 49 1 43 1 23 1-5 1-32 1-47 1-47 1-32 1-4 1 23 1 44 1 49 1 38 1 14" transform="matrix(0.085554 0 0 0.1 379.996 0)" fill="none" stroke="#0073C8" stroke-width="0.95" vector-effect="non-scaling-stroke" stroke-linejoin="round" />
<path d="M0 1619l1 14 1-14 1-38 1-50 1-43 1-23 1 5 1 31 1 48 1 47 1 31 1 5 1-24 1-44 1-50 1-38 1-13 1 15 1 40 1 49 1 43 1 22 1-7 1-33 1-48 1-47 1-29 1-2 1 26 1 45 1 49 1 36 1 11 1-19 1-41 1-50 1-41 1-19 1 11 1 36 1 49 1 46 1 26 1-3 1-30 1-47 1-48 1-33 1-5 1 23 1 44 1 50 1 38 1 13 1-16 1-40 1-50 1-43 1-20 1 9 1 35 1 49 1 46 1 27 1-1 1-30 1-48 1-48 1-33 1-5 1 23 1 45 1 50 1 38 1 12 1-17 1-42 1-50 1-42 1-19 1 11" transform="matrix(0.085554 0 0 0.1 386.840 0)" fill="none" stroke="#0073C8" stroke-width="0.96" vector-effect="non-scaling-stroke" stroke-linejoin="round" />
<path d="M0 1463l1 11 1 38 1 50 1 45 1 24 1-4 1-33 1-48 1-48 1-30 1-2 1 27 1 47 1 50 1 35 1 7 1-22 1-44 1-50 1-39 1-14 1 17 1 41 1 51 1 42 1 19 1-11 1-38 1-50 1-45 1-24 1 5 1 34 1 50 1 47 1 29 1-1 1-29 1-49 1-49 1-33 1-4 1 25 1 47 1 50 1 36 1 10 1-21 1-44 1-51 1-40 1-14 1 17 1 41 1 52 1 42 1 18 1-12 1-39 1-51 1-45 1-22 1 8 1 36 1 51 1 46 1 26 1-4 1-33 1-50 1-48 1-29 1 0 1 30 1 49 1 50 1 32 1 3 1-28 1-47 1-50" transform="matrix(0.085554 0 0 0.1 393.684 0)" fill="none" stroke="#0073C8" stroke-width="0.969" vector-effect="non-scaling-stroke" stroke-linejoin="round" />
<path d="M0 1556l1-50 1-35 1-7 1 25 1 46 1 51 1 37 1 10 1-22 1-45 1-51 1-39 1-13 1 19 1 43 1 52 1 41 1 15 1-16 1-42 1-52 1-42 1-18 1 14 1 40 1 52 1 44 1 20 1-12 1-38 1-52 1-45 1-22 1 9 1 38 1 51 1 46 1 24 1-7 1-37 1-51 1-47 1-25 1 6 1 35 1 51 1 48 1 26 1-4 1-34 1-51 1-49 1-27 1 3 1 33 1 51 1 48 1 29 1-2 1-32 1-51 1-49 1-30 1 2 1 32 1 50 1 49 1 31 1-1 1-31 1-51 1-49 1-31 1 0 1 31 1 50 1 50 1 31 1 0 1-31 1-50" transform="matrix(0.085554 0 0 0.1 400.529 0)" fill="none" stroke="#0073C8" stroke-width="0.979" vector-effect="non-scaling-stroke" stroke-linejoin="round" />
<path d="M0 1598l1-50 1-50 1-31 1 0 1 31 1 50 1 50 1 31 1 0 1-31 1-51 1-50 1-30 1 1 1 31 1 51 1 50 1 30 1-2 1-32 1-51 1-49 1-30 1 2 1 33 1 52 1 49 1 29 1-4 1-34 1-51 1-49 1-28 1 5 1 35 1 52 1 48 1 27 1-7 1-36 1-52 1-48 1-25 1 8 1 38 1 52 1 47 1 24 1-10 1-39 1-53 1-46 1-22 1 12 1 41 1 53 1 45 1 19 1-14 1-42 1-54 1-43 1-17 1 17 1 44 1 53 1 42 1 14 1-19 1-46 1-53 1-40 1-11 1 22 1 47 1 53 1 38 1 8 1-25 1-49 1-52" transform="matrix(0.085554 0 0 0.1 407.373 0)" fill="none" stroke="#0073C8" stroke-width="0.989" vector-effect="non-scaling-stroke" stroke-linejoin="round" />
<path d="M0 1558l1-52 1-36 1-5 1 29 1 50 1 52 1 33 1 0 1-31 1-52 1-50 1-30 1 3 1 35 1 52 1 49 1 27 1-7 1-38 1-54 1-47 1-23 1 12 1 41 1 54 1 45 1 18 1-16 1-43 1-55 1-42 1-14 1 21 1 46 1 54 1 39 1 9 1-25 1-49 1-53 1-36 1-3 1 29 1 52 1 51 1 32 1-2 1-34 1-53 1-50 1-26 1 7 1 38 1 54 1 48 1 21 1-13 1-43 1-54 1-44 1-16 1 19 1 46 1 55 1 40 1 9 1-25 1-49 1-53 1-36 1-3 1 31 1 52 1 51 1 30 1-3 1-36 1-54 1-49 1-24 1 10" transform="matrix(0.085554 0 0 0.1 414.217 0)" fill="none" stroke="#0073C8" stroke-width="0.998" vector-effect="non-scaling-stroke" stroke-linejoin="round" />
<path d="M0 1464l1 10 1 42 1 54 1 46 1 17 1-17 1-46 1-55 1-41 1-10 1 24 1 50 1 54 1 35 1 3 1-31 1-53 1-51 1-30 1 5 1 38 1 54 1 49 1 22 1-13 1-43 1-55 1-44 1-15 1 21 1 48 1 55 1 38 1 6 1-29 1-51 1-53 1-32 1 3 1 36 1 54 1 50 1 24 1-12 1-42 1-56 1-45 1-15 1 21 1 48 1 54 1 39 1 6 1-29 1-52 1-53 1-31 1 4 1 37 1 54 1 49 1 23 1-13 1-44 1-56 1-44 1-13 1 23 1 50 1 55 1 36 1 3 1-32 1-54 1-51 1-28 1 7 1 41 1 55 1 47 1 18" transform="matrix(0.085554 0 0 0.1 421.062 0)" fill="none" stroke="#0073C8" stroke-width="1.008" vector-effect="non-scaling-stroke" stroke-linejoin="round" />
<path d="M0 1615l1 18 1-18 1-47 1-56 1-40 1-7 1 28 1 52 1 54 1 31 1-3 1-38 1-55 1-49 1-22 1 15 1 46 1 56 1 42 1 10 1-26 1-51 1-54 1-34 1 1 1 37 1 55 1 50 1 23 1-14 1-44 1-56 1-44 1-11 1 25 1 51 1 55 1 34 1-1 1-36 1-55 1-50 1-24 1 14 1 45 1 56 1 43 1 11 1-26 1-51 1-55 1-33 1 2 1 37 1 56 1 49 1 22 1-15 1-47 1-56 1-42 1-9 1 29 1 53 1 54 1 31 1-6 1-39 1-57 1-48 1-18 1 19 1 49 1 56 1 39 1 4 1-32 1-54 1-53 1-27 1 10" transform="matrix(0.085554 0 0 0.1 427.906 0)" fill="none" stroke="#0073C8" stroke-width="1.018" vector-effect="non-scaling-stroke" stroke-linejoin="round" />
<path d="M0 1464l1 10 1 44 1 57 1 45 1 13 1-25 1-51 1-56 1-34 1 2 1 37 1 56 1 50 1 21 1-17 1-47 1-57 1-41 1-6 1 32 1 54 1 53 1 28 1-10 1-43 1-57 1-45 1-13 1 25 1 52 1 55 1 34 1-3 1-39 1-57 1-49 1-19 1 19 1 50 1 56 1 39 1 3 1-35 1-55 1-52 1-25 1 14 1 47 1 57 1 43 1 8 1-30 1-55 1-54 1-29 1 10 1 43 1 58 1 45 1 13 1-27 1-53 1-55 1-32 1 5 1 41 1 57 1 48 1 16 1-23 1-51 1-57 1-35 1 2 1 39 1 57 1 49 1 19 1-20 1-50 1-57" transform="matrix(0.085554 0 0 0.1 434.750 0)" fill="none" stroke="#0073C8" stroke-width="1.027" vector-effect="non-scaling-stroke" stroke-linejoin="round" />
<path d="M0 1563l1-57 1-38 1 0 1 37 1 57 1 50 1 21 1-18 1-50 1-57 1-39 1-2 1 36 1 56 1 52 1 22 1-17 1-49 1-58 1-39 1-3 1 35 1 56 1 52 1 23 1-17 1-48 1-58 1-40 1-3 1 34 1 57 1 52 1 23 1-17 1-49 1-58 1-39 1-3 1 35 1 57 1 52 1 22 1-18 1-49 1-58 1-39 1-2 1 37 1 57 1 52 1 20 1-19 1-51 1-58 1-37 1 0 1 39 1 58 1 50 1 18 1-22 1-52 1-57 1-35 1 3 1 41 1 58 1 49 1 15 1-25 1-54 1-56 1-33 1 7 1 44 1 59 1 46 1 11 1-29 1-55" transform="matrix(0.085554 0 0 0.1 441.594 0)" fill="none" stroke="#0073C8" stroke-width="1.037" vector-effect="non-scaling-stroke" stroke-linejoin="round" />
<path d="M0 1603l1-55 1-55 1-29 1 12 1 46 1 59 1 43 1 7 1-33 1-57 1-54 1-24 1 17 1 49 1 59 1 39 1 2 1-38 1-58 1-51 1-19 1 22 1 53 1 58 1 34 1-5 1-42 1-60 1-47 1-12 1 29 1 55 1 56 1 28 1-12 1-47 1-60 1-42 1-5 1 35 1 58 1 53 1 21 1-20 1-52 1-58 1-36 1 3 1 42 1 59 1 48 1 14 1-29 1-55 1-56 1-29 1 12 1 48 1 60 1 42 1 4 1-37 1-58 1-52 1-20 1 22 1 53 1 58 1 35 1-7 1-44 1-60 1-46 1-9 1 32 1 57 1 54 1 25 1-17 1-51 1-59" transform="matrix(0.085554 0 0 0.1 448.439 0)" fill="none" stroke="#0073C8" stroke-width="1.047" vector-effect="non-scaling-stroke" stroke-linejoin="round" />
<path d="M0 1565l1-59 1-38 1 1 1 42 1 59 1 49 1 14 1-29 1-56 1-56 1-28 1 14 1 49 1 60 1 40 1 1 1-39 1-59 1-51 1-16 1 27 1 56 1 57 1 29 1-12 1-49 1-60 1-41 1-3 1 39 1 59 1 51 1 17 1-26 1-56 1-57 1-30 1 12 1 49 1 60 1 42 1 2 1-39 1-60 1-51 1-16 1 28 1 56 1 57 1 29 1-14 1-50 1-60 1-41 1 1 1 40 1 61 1 49 1 13 1-29 1-58 1-56 1-26 1 17 1 52 1 60 1 38 1-5 1-43 1-61 1-47 1-9 1 33 1 59 1 55 1 21 1-22 1-54 1-59 1-33 1 9" transform="matrix(0.085554 0 0 0.1 455.283 0)" fill="none" stroke="#0073C8" stroke-width="1.056" vector-effect="non-scaling-stroke" stroke-linejoin="round" />
<path d="M0 1465l1 9 1 48 1 61 1 43 1 3 1-38 1-61 1-51 1-15 1 28 1 57 1 57 1 27 1-17 1-51 1-61 1-37 1 4 1 45 1 61 1 46 1 8 1-36 1-59 1-54 1-19 1 25 1 56 1 59 1 29 1-13 1-51 1-61 1-39 1 2 1 43 1 62 1 47 1 9 1-34 1-60 1-54 1-20 1 25 1 56 1 58 1 30 1-14 1-50 1-61 1-40 1 3 1 44 1 62 1 47 1 8 1-36 1-60 1-54 1-18 1 27 1 57 1 58 1 28 1-17 1-53 1-60 1-37 1 7 1 46 1 62 1 45 1 3 1-40 1-61 1-51 1-13 1 31 1 60 1 56 1 22" transform="matrix(0.085554 0 0 0.1 462.127 0)" fill="none" stroke="#0073C8" stroke-width="1.066" vector-effect="non-scaling-stroke" stroke-linejoin="round" />
<path d="M0 1611l1 22 1-22 1-56 1-60 1-31 1 13 1 52 1 61 1 39 1-4 1-45 1-62 1-46 1-5 1 38 1 61 1 52 1 14 1-30 1-60 1-56 1-23 1 23 1 56 1 59 1 31 1-14 1-52 1-61 1-39 1 6 1 47 1 62 1 45 1 3 1-41 1-62 1-50 1-11 1 34 1 60 1 55 1 19 1-27 1-58 1-58 1-27 1 20 1 54 1 61 1 34 1-12 1-51 1-62 1-40 1 4 1 46 1 63 1 46 1 3 1-41 1-62 1-50 1-11 1 35 1 61 1 54 1 18 1-29 1-59 1-58 1-24 1 22 1 57 1 60 1 31 1-16 1-53 1-62 1-37 1 9" transform="matrix(0.085554 0 0 0.1 468.972 0)" fill="none" stroke="#0073C8" stroke-width="1.076" vector-effect="non-scaling-stroke" stroke-linejoin="round" />
<path d="M0 1465l1 9 1 50 1 63 1 41 1-2 1-45 1-64 1-46 1-4 1 41 1 63 1 50 1 10 1-36 1-62 1-53 1-16 1 30 1 61 1 57 1 21 1-25 1-59 1-59 1-27 1 20 1 57 1 61 1 31 1-14 1-54 1-62 1-37 1 10 1 50 1 63 1 41 1-4 1-47 1-64 1-45 1 0 1 44 1 63 1 48 1 6 1-40 1-64 1-51 1-10 1 36 1 63 1 54 1 14 1-32 1-62 1-56 1-19 1 29 1 60 1 58 1 23 1-25 1-59 1-59 1-27 1 21 1 58 1 61 1 30 1-18 1-55 1-62 1-34 1 14 1 54 1 63 1 36 1-10 1-52 1-63" transform="matrix(0.085554 0 0 0.1 475.816 0)" fill="none" stroke="#0073C8" stroke-width="1.085" vector-effect="non-scaling-stroke" stroke-linejoin="round" />
<path d="M0 1569l1-63 1-40 1 7 1 50 1 64 1 42 1-4 1-48 1-64 1-44 1 1 1 45 1 65 1 46 1 2 1-44 1-64 1-48 1-5 1 42 1 64 1 50 1 7 1-40 1-63 1-52 1-10 1 38 1 64 1 53 1 12 1-37 1-63 1-54 1-14 1 35 1 63 1 55 1 15 1-32 1-63 1-56 1-17 1 31 1 62 1 57 1 19 1-30 1-62 1-58 1-20 1 29 1 62 1 58 1 21 1-28 1-61 1-59 1-22 1 27 1 61 1 59 1 23 1-26 1-61 1-59 1-24 1 26 1 60 1 60 1 24 1-25 1-60 1-60 1-25 1 25 1 60 1 60 1 25 1-25 1 366" transform="matrix(0.085554 0 0 0.1 482.660 0)" fill="none" stroke="#0073C8" stroke-width="1.095" vector-effect="non-scaling-stroke" stroke-linejoin="round" /></g>
<text x="58.4" y="218.2" text-anchor="middle" class="tl">0</text>
<text x="126.8" y="218.2" text-anchor="middle" class="tl">10</text>
<text x="195.3" y="218.2" text-anchor="middle" class="tl">20</text>
<text x="263.7" y="218.2" text-anchor="middle" class="tl">30</text>
<text x="332.2" y="218.2" text-anchor="middle" class="tl">40</text>
<text x="400.6" y="218.2" text-anchor="middle" class="tl">50</text>
<text x="469.1" y="218.2" text-anchor="middle" class="tl">60</text>
<text x="537.5" y="218.2" text-anchor="middle" class="tl">70</text>
<text x="51.9" y="202.9" text-anchor="end" class="tl">0</text>
<text x="51.9" y="160.3" text-anchor="end" class="tl">0.5</text>
<text x="300.2" y="258.2" text-anchor="middle" class="ttl" style="font-size:16.1px">TF method --- offset 0.500 amp 0.100 freq 10.000 data</text>
<path d="M141.09 417.30v-5.0M141.09 270.70v5.0M215.89 417.30v-5.0M215.89 270.70v5.0M290.68 417.30v-5.0M290.68 270.70v5.0M365.47 417.30v-5.0M365.47 270.70v5.0M440.27 417.30v-5.0M440.27 270.70v5.0M515.06 417.30v-5.0M515.06 270.70v5.0M66.30 368.43h5.0M537.50 368.43h-5.0M66.30 319.57h5.0M537.50 319.57h-5.0" stroke="#262626" stroke-width="1.2" fill="none"/>
<rect x="66.30" y="270.70" width="471.20" height="146.60" fill="none" stroke="#262626" stroke-width="1.2"/>
<path d="M0 4173l1-110 1-100 1-89 1-81 1-72 1-66 1-59 1-53 1-48 1-43 1-39 1-35 1-31 1-29 1-26 1-23 1-21 1-18 1-17 1-15 1-14 1-12 1-12 1-10 1-9 1-7 1-8 1-7 1-6 1-3 1-6 1-4 1-4 1-8 1 2 1-5 1-6 1 4 1-4 1-4 1-1 1 8 1-11 1-13 1 26 1-25 1 7 1 8 1-33 1 14 1 25 1-17 1-7 1 9 1-12 1 10 1-11 1-11 1 30 1-13 1 9 1-8 1 19 1-9 1-6 1-16 1-4 1 36 1-8 1-21 1 39 1-23 1-5 1-20 1 8 1 15 1 1 1-2 1-26 1 28 1-1 1-10 1 7 1 1 1 13 1-16 1 6 1-23 1 7 1 10 1-10 1 15 1-21 1 16 1-9 1 28 1-24 1 30 1 5 1-26 1 9 1-16 1-30 1 45 1-3 1-12 1-4 1 9 1 1 1-13 1 2 1 23 1-14 1-2 1 16 1-19 1 16 1-26 1 11 1 2 1 10 1-7 1 27 1-13 1-21 1 36 1-44 1 38 1-36 1 23 1-24 1 10 1 24 1-40 1-3 1 22 1 3 1-2 1 12 1-30 1 24 1-7 1 10 1-2 1 10 1-38 1 21 1-16 1 14 1 10 1-5 1 3 1-8 1 5 1-1 1 16 1-8 1-36 1 34 1 5 1-20 1-16 1 42 1-18 1 6 1 17 1-37 1 11 1-1 1 12 1-18 1 15 1-6 1 14 1 2 1-38 1 27 1-11 1 4 1 6 1 1 1-16 1 13 1-2 1-2 1-17 1 7 1 4 1 14 1 12 1-34 1 0 1 16 1-10 1-4 1 0 1-2 1 21 1-29 1 40 1-31 1 6 1-6 1-15 1 6 1 39 1 8 1-37 1 27 1-15 1-12 1 36 1 7 1-35 1 3 1 4 1-4 1 13 1 10 1-20 1 12 1 10 1-32 1 9 1-7 1 20 1-5 1 5 1-1 1-16 1 14 1-16 1 0 1-25 1 50 1-33 1 14 1-1 1 21 1-14 1-18 1 12 1-2 1 5 1-21 1 17 1 32 1-22 1 19 1 19 1-40 1-28 1 19 1 18 1-3 1-31 1 15 1 1 1 2 1-2 1-11 1 4 1 5 1 18 1-23 1 18 1-26 1 34 1-16 1-2 1 19 1-44 1 3 1 29 1-18 1 5 1 44 1-42 1 5 1-2 1 17 1-12 1-2 1-20 1 13 1 5 1-23 1 31 1-2 1 20 1-49 1 9 1 0 1 4 1 8 1-1 1 7 1-1 1-4 1-21 1 14 1 9 1 7 1 1 1-33 1 16 1 7 1 6 1 11 1-15 1-14 1 19 1-3 1 0 1-5 1 25 1-20 1 9 1-25 1 24 1-20 1-14 1 27 1 5 1-12 1 3 1 14 1-21 1-23 1 34 1-1 1 12 1-20 1 23 1-2 1-35 1 32 1-29 1-7 1 19 1-4 1-21 1 32 1 6 1 11 1-21 1-21 1 8 1 28 1-2 1-5 1-11 1 7 1-6 1-2 1 9 1-4 1-3 1 4 1-9 1-20 1 19 1 8 1 26 1-31 1 34 1-8 1-33 1 2 1 13 1 23 1-20 1 5 1-19 1-24 1 30 1 14 1 6 1-16 1 1 1 15 1-19 1 19 1-33 1 0 1 0 1 23 1-15 1 10 1 4 1-1 1 14 1 2 1-33 1 15 1-6 1-12 1 40 1-14 1-14 1-3 1 11 1-20 1 12 1 21 1-5 1-25 1 5 1 35 1-48 1 11 1-11 1 25 1-1 1 12 1-53 1 39 1-25 1 32 1-12 1 27 1-19 1-20 1 33 1-34 1 11 1 20 1-8 1 0 1-6 1 7 1 4 1-8 1 11 1 4 1-18 1-14 1 35 1-22 1 9 1 5 1-27 1 20 1-29 1 33 1-17 1 9 1 8 1-20 1 11 1-11 1 10 1 15 1-15 1-2 1-13 1 27 1-13 1 25 1-35 1 26 1 10 1-25 1-17 1 38 1-6 1-5 1 5 1-22 1 18 1-2 1-19 1 20 1-18 1 21 1 4 1 9 1-54 1 27 1 11 1 0 1-2 1 1 1-27 1 43 1 8 1-8 1 4 1-30 1-1 1 26 1 6 1-15 1-26 1 61 1-49 1 24 1-31 1 30 1-11 1 17 1-8 1-34 1 8 1 18 1 6 1 15 1-22 1-6 1 1 1 0 1 14 1-15 1-1 1-19 1-8 1 28 1 8 1-10 1 7 1 2 1-10 1 13 1-23 1 9 1-5 1 6 1 7 1 2 1-10 1 4 1-11 1 3 1 18 1-20 1 18 1-10 1-5 1 23 1-29 1-1 1 3 1 3 1-1 1 7 1-9 1 3 1-9 1 16 1-19 1 0 1 3 1 3 1-13 1 27 1-27 1 2 1-1 1-2 1 12 1-5 1-12 1 2 1 2 1 20 1-25 1-9 1 2 1 8 1 20 1-30 1 12 1 27 1-35 1 21 1-3 1-9 1-22 1 18 1-8 1-17 1 0 1 18 1 1 1 10 1-7 1-13 1-1 1 2 1-10 1 18 1-9 1-9 1 1 1-6 1 6 1 6 1-8 1 13 1 5 1-23 1 5 1-4 1 19 1-15 1 1 1 2 1 12 1-19 1-13 1 3 1 9 1-7 1-8 1 32 1-26 1-8 1-2 1-11 1 4 1 7 1-1 1-6 1 11 1-6 1-9 1-11 1 18 1-2 1-4 1-11 1 11 1-15 1 21 1-9 1-1 1-10 1-3 1 21 1-7 1-12 1 8 1 6 1-24 1 4 1-1 1 7 1-15 1 10 1-13 1 16 1-2 1-10 1 6 1-13 1 3 1 8 1-10 1 3 1-12 1 11 1-3 1-15 1-10 1 1 1 15 1-3 1-12 1 13 1 5 1-10 1-4 1 9 1 6 1-3 1-19 1 10 1-6 1-4 1-5 1 7 1-9 1 11 1-6 1 4 1-19 1 8 1 5 1-4 1-3 1-9 1 19 1-6 1-7 1-28 1 13 1 9 1-9 1-14 1 20 1 0 1-16 1 6 1-3 1 10 1-24 1 1 1 9 1-2 1 25 1-27 1 7 1-7 1-4 1 10 1 12 1-22 1 11 1-6 1 2 1-3 1 20 1-39 1 10 1-11 1-10 1 20 1 20 1-11 1 3 1-9 1-7 1 23 1-28 1 21 1-22 1 4 1 2 1-4 1 6 1 0 1 13 1-21 1-25 1-3 1 8 1 8 1 18 1-29 1 20 1-1 1 3 1-5 1 7 1-6 1 15 1-11 1-38 1 33 1 3 1-12 1-2 1 26 1-13 1-17 1 10 1 2 1-21 1 33 1-11 1 9 1-29 1 50 1-18 1-2 1-17 1 2 1-11 1 41 1-31 1 15 1 5 1-15 1 19 1 15 1-21 1 14 1-9 1-12 1 2 1-14 1 21 1 16 1-8 1 2 1 4 1-15 1 11 1 14 1-24 1 8 1-2 1 3 1-3 1 6 1-8 1 8 1 2 1 1 1 15 1-7 1 2 1-2 1 12 1-17 1 11 1 10 1 5 1-7 1 1 1 5 1-2 1 6 1-4 1 8 1-1 1-3 1-5 1 19 1 0 1 4 1-5 1 11 1-1 1 1 1 6 1 3 1 0 1 9 1 0 1-1 1 1 1 4 1 8 1-2 1-1 1 4 1 5 1 5 1-1 1 6 1 5 1 2 1-3 1 6 1 1 1 8 1-1 1 7 1 2 1-3 1 8 1 6 1 3 1 2 1 1 1 8 1 6 1 0 1 3 1 3 1 1 1 6 1 2 1 8 1-1 1 1 1 7 1 5 1 3 1 0 1 10 1 2 1 2 1 3 1 7 1 2 1 5 1 2 1 5 1 5 1 2 1 1 1 8 1 2 1 2 1 7 1 1 1 6 1-1 1 1 1 4 1 9 1 1 1 5 1 4 1 0 1 10 1-2 1 6 1 0 1 6 1 6 1 0 1 2 1 5 1 2 1 6 1 8 1-5 1 3 1 5 1 3 1 0 1 7 1 4 1 1 1-2 1 12 1-7 1 10 1 4 1-7 1 8 1 8 1-2 1-4 1 1 1 10 1-2 1 0 1 10 1-4 1 4 1 5 1 1 1-2 1 2 1 6 1 0 1-12 1 9 1-5 1-3 1 7 1-18 1 36 1-19 1 15 1-28 1 1 1 51 1-13 1-23 1-2 1 1 1 12 1-8 1-3 1 10 1-15 1 42 1-38 1 20 1-24 1 13 1 5 1-14 1 11 1-1 1 3 1-14 1-5 1-5 1 6 1-9 1 4 1-1 1-5 1-5 1 5 1-3 1-3 1-4 1 1 1-9 1 2 1-6 1 1 1-6 1-3 1-2 1-9 1 1 1-7 1-1 1 0 1-5 1-5 1-3 1-4 1-4 1-1 1-7 1-1 1-8 1-3 1-4 1-6 1-5 1-2 1-4 1-6 1-3 1-7 1-8 1-1 1-7 1-3 1-7 1-4 1-5 1-6 1-7 1-3 1-5 1-4 1-7 1-4 1-7 1-4 1-7 1-1 1-7 1-7 1-4 1-4 1-6 1-4 1-7 1-8 1-4 1-2 1-5 1-6 1-7 1-3 1-5 1-7 1-4 1-4 1-3 1-4 1-6 1-3 1-9 1-2 1-6 1-7 1-3 1 0 1-8 1-4 1-1 1-3 1-5 1-1 1-10 1 6 1-7 1-5 1-3 1-4 1-4 1-1 1-7 1 10 1-11 1 1 1-6 1-3 1 5 1-3 1-12 1 2 1 7 1-26 1-6 1 39 1-21 1-29 1 21 1 7 1 6 1 5 1-5 1 5 1-17 1 16 1 0 1 9 1-11 1 8 1-5 1-8 1 7 1 1 1 3 1 4 1 3 1 3 1-1 1 9 1-5 1 7 1 5 1 3 1 4 1 1 1 6 1 0 1 8 1 6 1 2 1 6 1 1 1 3 1 6 1 7 1 4 1 2 1 7 1 6 1 4 1 4 1 7 1 6 1 6 1 5 1 7 1 7 1 5 1 7 1 5 1 6 1 4 1 9 1 6 1 6 1 6 1 6 1 7 1 7 1 7 1 6 1 5 1 7 1 7 1 6 1 6 1 6 1 7 1 6 1 8 1 6 1 3 1 10 1 4 1 6 1 6 1 6 1 5 1 6 1 5 1 8 1 3 1 6 1 5 1 4 1 4 1 5 1 6 1 3 1 4 1 4 1 3 1 7 1 4 1 1 1 9 1-1 1 6 1 2 1 8 1 0 1-1 1-3 1 1 1 8 1 3 1 7 1-10 1 8 1-9 1-15 1 24 1 21 1-9 1 8 1-5 1-33 1 13 1 16 1-21 1-5 1 10 1-1 1-4 1-5 1-4 1-4 1-2 1-3 1-3 1-2 1 2 1-7 1-5 1-3 1-6 1-3 1-4 1-8 1-4 1-4 1-6 1-6 1-5 1-3 1-7 1-7 1-5 1-8 1-7 1-5 1-6 1-9 1-5 1-6 1-8 1-7 1-6 1-8 1-7 1-7 1-8 1-7 1-6 1-8 1-7 1-9 1-5 1-9 1-6 1-7 1-8 1-7 1-7 1-7 1-6 1-7 1-7 1-7 1-7 1-5 1-7 1-7 1-5 1-4 1-6 1-5 1-9 1-2 1-8 1-4 1-6 1-4 1-2 1-4 1-5 1-4 1-1 1-5 1-8 1 8 1-9 1 3 1-8 1-6 1 4 1-8 1 22 1-31 1 21 1-17 1 6 1 39 1-26 1-11 1-12 1 14 1 2 1 12 1-14 1 2 1 10 1 4 1 7 1-4 1 0 1 8 1 3 1 6 1 7 1 1 1 8 1 4 1 5 1 5 1 6 1 6 1 7 1 7 1 5 1 7 1 7 1 7 1 6 1 8 1 7 1 8 1 6 1 8 1 6 1 10 1 7 1 7 1 9 1 8 1 7 1 9 1 8 1 8 1 7 1 8 1 9 1 7 1 7 1 8 1 8 1 7 1 7 1 9 1 6 1 7 1 7 1 8 1 6 1 5 1 6 1 9 1 2 1 9 1 3 1 5 1 5 1 6 1 7 1 1 1 7 1 7 1-9 1 9 1-1 1 12 1-8 1 0 1 0 1 12 1 13 1-9 1 29 1-5 1-26 1 14 1-12 1-2 1-17 1 5 1 6 1-7 1 5 1-4 1-7 1 2 1-6 1-2 1-7 1-7 1-1 1-7 1-4 1-5 1-6 1-8 1-7 1-5 1-6 1-8 1-6 1-8 1-7 1-8 1-8 1-7 1-8 1-8 1-9 1-7 1-9 1-8 1-9 1-9 1-8 1-8 1-9 1-9 1-9 1-8 1-8 1-9 1-7 1-10 1-7 1-6 1-11 1-7 1-6 1-8 1-7 1-7 1-6 1-7 1-7 1-6 1-6 1-5 1-8 1-1 1-6 1-1 1-5 1-9 1 2 1-7 1-1 1 2 1-4 1-1 1 0 1-14 1-1 1 17 1 4 1-16 1 6 1-9 1-7 1 15 1 6 1 3 1 5 1 3 1 4 1 2 1 5 1 2 1 7 1 5 1 6 1 3 1 8 1 5 1 7 1 7 1 8 1 7 1 6 1 10 1 7 1 8 1 9 1 8 1 8 1 10 1 8 1 10 1 9 1 9 1 8 1 9 1 9 1 10 1 8 1 9 1 9 1 10 1 8 1 9 1 8 1 10 1 7 1 7 1 10 1 6 1 8 1 8 1 5 1 9 1 6 1 5 1 7 1 6 1 4 1 6 1 2 1 8 1 0 1 9 1-2 1 5 1 15 1-11 1 10 1-3 1-24 1 38 1-2 1-34 1 16 1-12 1 9 1 4 1-7 1-7 1-1 1-2 1-4 1-4 1-4 1-8 1-4 1-5 1-6 1-8 1-6 1-7 1-7 1-8 1-7 1-8 1-10 1-8 1-9 1-9 1-9 1-9 1-10 1-9 1-9 1-9 1-10 1-9 1-10 1-9 1-9 1-10 1-9 1-10 1-8 1-10 1-9 1-8 1-8 1-9 1-7 1-9 1-8 1-6 1-7 1-8 1-5 1-6 1-6 1-6 1-1 1-6 1-3 1-3 1-3 1-2 1-8 1 6 1-9 1-4 1 15 1-13 1-19 1 19 1 9 1-2 1 5 1-2 1 2 1 7 1 3 1 2 1 8 1 4 1 7 1 5 1 6 1 5 1 9 1 7 1 8 1 8 1 8 1 8 1 8 1 10 1 9 1 10 1 9 1 10 1 10 1 9 1 10 1 11 1 9 1 10 1 10 1 10 1 10 1 10 1 10 1 9 1 9 1 9 1 9 1 9 1 9 1 8 1 7 1 9 1 6 1 7 1 7 1 6 1 8 1 6 1 4 1 4 1 4 1 4 1 2 1 11 1-9 1 15 1-2 1-1 1 12 1 0 1-8 1-11 1-5 1-2 1 3 1-5 1-4 1-6 1-2 1-9 1-4 1-5 1-8 1-7 1-7 1-7 1-8 1-9 1-8 1-8 1-10 1-9 1-9 1-10 1-10 1-10 1-10 1-11 1-10 1-10 1-10 1-11 1-10 1-10 1-11 1-9 1-11 1-9 1-10 1-8 1-10 1-9 1-9 1-7 1-8 1-9 1-5 1-7 1-7 1-5 1-8 1-5 1-1 1-2 1-10 1-4 1-2 1-6 1 15 1-7 1 18 1-2 1-26 1 15 1-13 1 13 1 5 1 0 1 3 1 7 1 7 1 4 1 5 1 8 1 7 1 6 1 8 1 9 1 8 1 9 1 9 1 9 1 10 1 10 1 11 1 9 1 11 1 10 1 11 1 11 1 11 1 10 1 11 1 11 1 10 1 11 1 10 1 10 1 10 1 10 1 9 1 9 1 10 1 7 1 9 1 7 1 6 1 8 1 7 1 3 1 8 1 3 1 5 1 0 1 8 1-3 1 11 1-13 1 21 1-4 1-30 1 20 1 1 1-11 1 6 1-1 1-7 1-1 1-8 1-5 1-5 1-6 1-8 1-7 1-7 1-9 1-8 1-9 1-10 1-10 1-10 1-9 1-11 1-11 1-10 1-11 1-11 1-12 1-10 1-12 1-11 1-11 1-11 1-10 1-10 1-11 1-10 1-10 1-9 1-10 1-8 1-9 1-7 1-8 1-7 1-6 1-7 1-4 1-8 1-1 1-7 1 0 1-2 1-17 1 16 1 14 1-8 1-6 1-17 1 16 1 0 1 9 1 1 1 4 1 4 1 8 1 5 1 7 1 8 1 7 1 8 1 9 1 8 1 9 1 10 1 11 1 9 1 11 1 10 1 11 1 12 1 11 1 11 1 12 1 11 1 11 1 11 1 12 1 11 1 11 1 10 1 11 1 10 1 9 1 10 1 9 1 8 1 7 1 8 1 8 1 6 1 4 1 7 1 6 1 3 1 3 1-1 1 8 1-18 1 31 1-21 1 21 1-26 1 13 1-4 1-5 1-4 1-1 1-6 1-5 1-7 1-7 1-7 1-8 1-8 1-9 1-10 1-10 1-9 1-11 1-10 1-11 1-11 1-12 1-11 1-12 1-11 1-12 1-12 1-11 1-11 1-12 1-11 1-11 1-11 1-10 1-9 1-10 1-10 1-9 1-7 1-7 1-8 1-6 1-5 1-7 1-2 1-4 1-9 1 4 1-5 1-9 1-5 1 17 1-4 1 6 1-8 1 8 1 7 1 2 1 5 1 6 1 5 1 8 1 9 1 7 1 10 1 8 1 10 1 9 1 11 1 11 1 11 1 11 1 12 1 11 1 12 1 12 1 12 1 12 1 11 1 12 1 12 1 12 1 11 1 10 1 11 1 10 1 10 1 9 1 9 1 9 1 6 1 8 1 7 1 8 1 5 1 1 1 2 1 6 1-3 1 13 1-1 1-3 1-5 1 14 1-16 1-3 1 2 1-4 1-8 1-4 1-5 1-10 1-7 1-8 1-10 1-8 1-9 1-11 1-10 1-11 1-12 1-11 1-12 1-12 1-12 1-12 1-12 1-12 1-13 1-11 1-12 1-11 1-12 1-10 1-11 1-11 1-10 1-8 1-9 1-8 1-7 1-7 1-7 1-4 1-7 1-4 1-1 1 0 1 5 1-36 1 43 1-35 1 14 1 7 1 5 1-1 1 4 1 8 1 5 1 6 1 8 1 7 1 10 1 9 1 10 1 9 1 11 1 12 1 11 1 11 1 12 1 12 1 12 1 13 1 12 1 12 1 13 1 12 1 12 1 12 1 11 1 12 1 10 1 11 1 9 1 9 1 10 1 8 1 7 1 7 1 6 1 6 1 3 1 7 1 1 1 12 1-15 1 6 1 7 1-15 1 4 1 8 1-11 1-3 1-8 1-7 1-4 1-8 1-7 1-9 1-10 1-9 1-10 1-12 1-10 1-12 1-12 1-12 1-12 1-12 1-13 1-13 1-12 1-12 1-13 1-12 1-12 1-12 1-11 1-11 1-10 1-10 1-10 1-7 1-9 1-7 1-6 1-5 1-4 1-6 1-2 1-7 1 14 1-34 1 16 1 7 1 3 1 2 1 3 1 3 1 4 1 7 1 7 1 7 1 8 1 9 1 8 1 11 1 11 1 11 1 11 1 12 1 12 1 13 1 12 1 13 1 12 1 13 1 13 1 13 1 12 1 12 1 12 1 12 1 11 1 11 1 9 1 9 1 10 1 8 1 8 1 7 1 6 1 5 1 5 1-3 1 18 1-11 1-1 1 12 1-10 1-4 1 0 1-4 1-4 1-3 1-9 1-8 1-6 1-9 1-8 1-10 1-11 1-11 1-11 1-12 1-12 1-12 1-13 1-13 1-13 1-13 1-13 1-13 1-12 1-13 1-12 1-12 1-11 1-11 1-10 1-11 1-8 1-9 1-8 1-6 1-7 1-6 1-6 1 3 1-12 1 8 1 7 1-12 1 4 1 4 1 3 1 2 1 2 1 6 1 8 1 7 1 9 1 9 1 9 1 11 1 11 1 11 1 12 1 12 1 12 1 13 1 13 1 13 1 13 1 13 1 14 1 13 1 12 1 12 1 12 1 12 1 12 1 10 1 10 1 9 1 9 1 7 1 7 1 6 1 7 1 0 1 3 1 9 1-11 1 20 1-22 1 10 1-1 1-5 1-4 1-7 1-6 1-7 1-8 1-7 1-11 1-9 1-12 1-11 1-12 1-12 1-13 1-13 1-13 1-13 1-13 1-14 1-13 1-13 1-13 1-13 1-12 1-12 1-11 1-11 1-9 1-10 1-10 1-6 1-7 1-8 1-5 1-4 1-1 1-19 1 10 1-4 1 10 1 7 1 0 1 0 1 5 1 6 1 7 1 8 1 8 1 9 1 9 1 11 1 11 1 12 1 12 1 13 1 14 1 12 1 14 1 13 1 13 1 14 1 13 1 13 1 13 1 13 1 12 1 12 1 10 1 10 1 10 1 9 1 8 1 7 1 6 1 6 1 2 1 6 1-5 1 4 1 7 1-4 1-1 1-7 1-2 1-6 1-5 1-7 1-9 1-8 1-10 1-10 1-11 1-11 1-13 1-12 1-13 1-14 1-13 1-14 1-13 1-14 1-13 1-14 1-13 1-13 1-12 1-12 1-11 1-11 1-9 1-9 1-9 1-9 1-4 1-6 1-5 1 6 1-11 1 8 1-27 1 21 1 3 1 1 1 4 1 6 1 5 1 8 1 8 1 9 1 9 1 11 1 11 1 12 1 13 1 12 1 14 1 13 1 14 1 14 1 14 1 14 1 14 1 13 1 13 1 13 1 12 1 11 1 12 1 9 1 10 1 8 1 7 1 6 1 9 1 2 1 4 1 1 1-7 1 21 1-6 1-4 1-4 1-6 1-4 1-7 1-8 1-8 1-9 1-10 1-11 1-11 1-12 1-13 1-13 1-14 1-13 1-14 1-14 1-14 1-14 1-14 1-13 1-13 1-13 1-13 1-11 1-11 1-10 1-9 1-9 1-6 1-5 1-9 1-2 1 1 1-5 1 11 1-34 1 21 1 9 1-1 1 6 1 4 1 9 1 9 1 8 1 10 1 10 1 12 1 12 1 12 1 14 1 13 1 14 1 14 1 14 1 14 1 14 1 14 1 14 1 13 1 13 1 12 1 11 1 12 1 10 1 9 1 9 1 7 1 6 1 5 1 3 1-2 1 12 1-12 1 2 1 7 1-8 1-3 1-7 1-6 1-7 1-8 1-11 1-10 1-11 1-12 1-12 1-14 1-13 1-14 1-14 1-14 1-14 1-15 1-14 1-14 1-13 1-14 1-12 1-12 1-11 1-10 1-10 1-8 1-8 1-8 1-3 1-1 1-12 1 8 1 0 1 21 1-26 1 5 1 5 1 6 1 6 1 9 1 9 1 10 1 10 1 11 1 13 1 13 1 13 1 13 1 15 1 14 1 14 1 15 1 14 1 14 1 14 1 13 1 13 1 13 1 12 1 10 1 10 1 9 1 9 1 7 1 4 1 4 1 4 1 8 1-9 1 4 1-4 1 4 1-7 1-5 1-6 1-9 1-8 1-9 1-11 1-11 1-13 1-12 1-14 1-14 1-13 1-15 1-15 1-14 1-15 1-14 1-14 1-14 1-12 1-12 1-13 1-11 1-10 1-9 1-8 1-7 1-6 1-1 1-1 1-19 1-10 1 18 1 5 1 4 1 6 1 3 1 8 1 8 1 9 1 10 1 11 1 12 1 13 1 12 1 14 1 14 1 15 1 14 1 15 1 14 1 15 1 14 1 14 1 14 1 12 1 12 1 11 1 10 1 10 1 8 1 9 1 6 1 6 1 3 1 8 1 3 1-8 1 1 1-4 1-6 1-8 1-6 1-8 1-9 1-10 1-11 1-11 1-14 1-13 1-13 1-14 1-15 1-14 1-15 1-15 1-15 1-14 1-14 1-13 1-13 1-12 1-11 1-11 1-8 1-10 1-6 1-8 1 0 1-8 1 12 1 8 1-20 1 1 1 8 1 2 1 8 1 6 1 9 1 9 1 11 1 11 1 13 1 13 1 14 1 14 1 14 1 15 1 15 1 15 1 15 1 14 1 14 1 14 1 13 1 12 1 12 1 10 1 10 1 9 1 7 1 6 1 3 1 2 1 3 1-1 1 10 1-3 1-9 1-5 1-7 1-7 1-9 1-9 1-11 1-12 1-12 1-14 1-14 1-14 1-15 1-15 1-14 1-16 1-14 1-15 1-14 1-14 1-13 1-12 1-11 1-11 1-9 1-8 1-8 1-3 1-3 1-9 1-6 1-6 1 21 1-6 1 7 1 4 1 9 1 7 1 10 1 10 1 11 1 12 1 13 1 14 1 14 1 15 1 15 1 15 1 15 1 15 1 15 1 14 1 14 1 13 1 13 1 12 1 10 1 10 1 8 1 7 1 6 1 6 1 1 1 12 1-9 1 2 1-13 1 1 1-3 1-7 1-8 1-9 1-11 1-11 1-13 1-13 1-13 1-15 1-14 1-16 1-15 1-15 1-15 1-15 1-14 1-14 1-13 1-12 1-12 1-11 1-9 1-9 1-6 1-5 1-3 1-10 1 0 1 7 1 1 1 1 1 5 1 7 1 6 1 9 1 10 1 10 1 12 1 13 1 14 1 14 1 15 1 15 1 15 1 16 1 14 1 16 1 14 1 14 1 14 1 12 1 12 1 11 1 10 1 9 1 6 1 7 1 5 1 3 1 2 1-3 1-1 1 0 1-5 1-7 1-6 1-9 1-10 1-10 1-13 1-13 1-13 1-15 1-14 1-15 1-16 1-15 1-15 1-15 1-15 1-14 1-13 1-13 1-12 1-11 1-10 1-8 1-6 1-8 1-4 1 6 1-9 1 8 1-4 1 1 1 6 1 4 1 9 1 8 1 11 1 11 1 12 1 13 1 14 1 15 1 15 1 15 1 15 1 16 1 15 1 15 1 15 1 14 1 13 1 13 1 11 1 10 1 9 1 8 1 5 1 7 1 4 1 5 1 22 1-32 1 5 1-7 1-6 1-8 1-8 1-10 1-10 1-13 1-13 1-14 1-14 1-15 1-16 1-15 1-16 1-15 1-15 1-15 1-14 1-13 1-14 1-11 1-11 1-9 1-7 1-6 1-9 1-1 1 13 1-19 1 8 1 5 1 3 1 4 1 6 1 9 1 10 1 12 1 12 1 13 1 14 1 15 1 15 1 16 1 15 1 16 1 16 1 15 1 14 1 14 1 14 1 12 1 11 1 10 1 10 1 6 1 8 1 6 1 3 1 0 1-9 1 3 1-2 1-6 1-6 1-8 1-9 1-10 1-13 1-12 1-14 1-15 1-15 1-15 1-16 1-15 1-17 1-15 1-15 1-14 1-14 1-13 1-11 1-11 1-9 1-9 1-6 1-6 1 0 1-4 1 8 1-3 1 1 1 4 1 7 1 7 1 10 1 11 1 11 1 13 1 14 1 14 1 15 1 16 1 16 1 16 1 15 1 16 1 15 1 14 1 14 1 13 1 11 1 12 1 8 1 8 1 7 1 4 1 1 1-10 1 10 1 2 1-4 1-6 1-6 1-7 1-10 1-11 1-12 1-13 1-14 1-15 1-15 1-16 1-16 1-16 1-15 1-16 1-15 1-14 1-14 1-12 1-12 1-10 1-10 1-5 1-9 1-1 1-8 1 41 1-37 1 5 1 2 1 7 1 8 1 8 1 11 1 11 1 13 1 14 1 15 1 15 1 16 1 15 1 16 1 16 1 16 1 15 1 15 1 14 1 13 1 11 1 11 1 10 1 8 1 6 1 2 1 0 1 9 1-4 1-2 1-3 1-8 1-7 1-9 1-9 1-12 1-13 1-13 1-15 1-15 1-16 1-16 1-16 1-16 1-16 1-15 1-15 1-14 1-13 1-12 1-10 1-10 1-7 1-4 1-4 1-10 1-3 1-3 1 13 1 4 1 6 1 8 1 10 1 10 1 12 1 13 1 14 1 14 1 16 1 15 1 17 1 16 1 16 1 16 1 15 1 15 1 13 1 13 1 11 1 11 1 9 1 6 1 7 1 0 1 5 1-20 1 15 1-2 1-4 1-6 1-9 1-10 1-10 1-13 1-14 1-14 1-15 1-16 1-16 1-17 1-16 1-16 1-15 1-16 1-13 1-14 1-11 1-11 1-9 1-8 1-8 1-4 1-3 1-16 1 14 1 7 1 5 1 6 1 9 1 9 1 12 1 12 1 13 1 15 1 15 1 16 1 16 1 16 1 16 1 17 1 15 1 15 1 15 1 13 1 12 1 10 1 9 1 8 1 8 1 5 1 7 1-3 1 5 1-12 1-5 1-6 1-9 1-9 1-11 1-13 1-14 1-14 1-15 1-16 1-16 1-17 1-16 1-16 1-16 1-15 1-14 1-13 1-12 1-10 1-9 1-7 1-8 1-1 1 4 1-22 1 11 1 8 1 8 1 6 1 8 1 10 1 12 1 13 1 14 1 15 1 15 1 17 1 16 1 17 1 16 1 16 1 15 1 15 1 13 1 13 1 11 1 11 1 7 1 8 1 1 1 4 1-5 1 9 1-1 1-8 1-7 1-9 1-9 1-11 1-13 1-14 1-14 1-16 1-16 1-16 1-17 1-16 1-17 1-15 1-15 1-14 1-13 1-12 1-10 1-9 1-6 1-5 1-4 1-2 1 3 1-1 1 7 1 6 1 8 1 10 1 11 1 12 1 14 1 14 1 16 1 16 1 16 1 17 1 16 1 17 1 15 1 15 1 14 1 14 1 10 1 12 1 8 1 6 1 8 1 1 1-5 1-10 1 14 1-6 1-7 1-8 1-9 1-12 1-13 1-14 1-15 1-15 1-17 1-16 1-17 1-16 1-17 1-15 1-15 1-14 1-13 1-11 1-9 1-9 1-6 1-7 1-3 1 2 1 3 1 2 1 7 1 6 1 9 1 10 1 12 1 13 1 15 1 15 1 16 1 17 1 16 1 17 1 17 1 16 1 15 1 14 1 14 1 11 1 12 1 9 1 8 1 1 1 11 1-5 1 4 1-2 1-8 1-7 1-8 1-11 1-11 1-13 1-14 1-15 1-16 1-16 1-17 1-16 1-17 1-17 1-15 1-14 1-14 1-13 1-11 1-8 1-9 1-6 1 1 1 2 1-11 1 2 1 9 1 6 1 7 1 10 1 12 1 13 1 13 1 15 1 16 1 17 1 16 1 17 1 17 1 16 1 16 1 15 1 13 1 13 1 11 1 9 1 8 1 5 1 6 1 3 1 0 1-7 1-3 1-7 1-8 1-11 1-11 1-13 1-14 1-15 1-16 1-17 1-17 1-16 1-17 1-16 1-16 1-14 1-14 1-12 1-10 1-10 1-7 1-6 1 4 1-22 1 19 1-1 1 5 1 8 1 9 1 11 1 11 1 14 1 14 1 16 1 16 1 16 1 18 1 16 1 17 1 16 1 15 1 15 1 12 1 12 1 10 1 7 1 5 1 8 1 4 1 21 1-26 1-4 1-5 1-9 1-10 1-11 1-13 1-14 1-16 1-15 1-17 1-17 1-17" transform="matrix(0.046746 0 0 0.1 66.300 0)" fill="none" stroke="#999999" stroke-width="1.0" vector-effect="non-scaling-stroke" stroke-linejoin="round" />
<path d="M0 3046l1-9 1-9 1-9 1-8 1-9 1-8 1-8 1-7 1-7 1-7 1-6 1-6 1-6 1-5 1-4 1-4 1-3 1-3 1-2 1-2 1-1 1-1 1 1 1 1 1 1 1 2 1 2 1 3 1 4 1 4 1 5 1 5 1 6 1 6 1 7 1 7 1 7 1 8 1 8 1 8 1 9 1 9 1 8 1 10 1 9 1 8 1 9 1 9 1 9 1 9 1 9 1 8 1 8 1 8 1 8 1 7 1 7 1 7 1 6 1 5 1 6 1 4 1 3 1 4 1 3 1 2 1 2 1 1 1 0 1 0 1 0 1-3 1-1 1-2 1-3 1-4 1-4 1-5 1-5 1-6 1-7 1-6 1-7 1-7 1-8 1-8 1-9 1-8 1-9 1-9 1-9 1-9 1-9 1-10 1-7 1-10 1-8 1-10 1-8 1-8 1-8 1-7 1-9 1-6 1-6 1-5 1-6 1-6 1-4 1-3 1-4 1-2 1-3 1-1 1-1 1 0 1 0 1 2 1 0 1 2 1 3 1 4 1 4 1 6 1 3 1 6 1 6 1 7 1 7 1 7 1 7 1 7 1 10 1 8 1 8 1 10 1 7 1 10 1 10 1 8 1 9 1 11 1 7 1 10 1 7 1 9 1 9 1 7 1 7 1 6 1 7 1 6 1 7 1 5 1 4 1 5 1 3 1 4 1 1 1 2 1-1 1 2 1 0 1-1 1-1 1-2 1-2 1-5 1-4 1-3 1-5 1-6 1-6 1-6 1-6 1-8 1-8 1-8 1-7 1-8 1-11 1-7 1-11 1-8 1-10 1-9 1-9 1-9 1-8 1-8 1-10 1-9 1-8 1-8 1-6 1-7 1-7 1-6 1-5 1-4 1-7 1-2 1-5 1-1 1-4 1 0 1-3 1 2 1-1 1-1 1 4 1 1 1 3 1 5 1 2 1 4 1 6 1 4 1 8 1 6 1 6 1 8 1 5 1 12 1 6 1 8 1 12 1 8 1 7 1 10 1 9 1 8 1 11 1 9 1 11 1 6 1 9 1 7 1 8 1 10 1 4 1 7 1 7 1 8 1 5 1 5 1 4 1 4 1 2 1 3 1 2 1 2 1-1 1 1 1 3 1-3 1-3 1-3 1-2 1-4 1-3 1-6 1-5 1-5 1-6 1-8 1-6 1-7 1-10 1-7 1-9 1-9 1-10 1-9 1-7 1-10 1-7 1-13 1-8 1-10 1-7 1-6 1-13 1-6 1-8 1-7 1-8 1-6 1-4 1-9 1-3 1-5 1-6 1-3 1-1 1 0 1-4 1-2 1 1 1 2 1 0 1 2 1 1 1 2 1 3 1 7 1 3 1 5 1 7 1 6 1 3 1 10 1 6 1 10 1 8 1 10 1 7 1 7 1 8 1 10 1 10 1 10 1 10 1 9 1 8 1 10 1 7 1 11 1 9 1 6 1 9 1 6 1 4 1 7 1 5 1 4 1 5 1 6 1 1 1 4 1 3 1 0 1 4 1-1 1-1 1-2 1-1 1-2 1-5 1-4 1-3 1-6 1-3 1-6 1-7 1-6 1-7 1-10 1-6 1-7 1-10 1-11 1-6 1-11 1-7 1-9 1-9 1-10 1-12 1-5 1-13 1-4 1-10 1-9 1-8 1-6 1-4 1-10 1-4 1-10 1-1 1-5 1-2 1-4 1-1 1-5 1 0 1-2 1 3 1 0 1-1 1 5 1 4 1 0 1 6 1 4 1 3 1 8 1 3 1 9 1 4 1 7 1 11 1 8 1 9 1 7 1 8 1 13 1 5 1 13 1 9 1 10 1 3 1 12 1 9 1 10 1 6 1 13 1 4 1 4 1 12 1 5 1 5 1 8 1 4 1 3 1 5 1 3 1 4 1 1 1 2 1-2 1 1 1 1 1 3 1-7 1-3 1 0 1-2 1-6 1-9 1-2 1-7 1-7 1-9 1-5 1-8 1-7 1-13 1-7 1-7 1-7 1-10 1-12 1-7 1-12 1-8 1-9 1-9 1-9 1-6 1-9 1-13 1 0 1-9 1-9 1-4 1-4 1-4 1-8 1-5 1-4 1 0 1-4 1 3 1-3 1 1 1-1 1 0 1 2 1 6 1-1 1 8 1 5 1 3 1 9 1 3 1 6 1 8 1 6 1 9 1 8 1 11 1 6 1 11 1 8 1 8 1 9 1 13 1 9 1 7 1 7 1 9 1 8 1 7 1 10 1 9 1 9 1 7 1 5 1 5 1 5 1 6 1 4 1 2 1 4 1 2 1 2 1 3 1 1 1-3 1-1 1 0 1-2 1-9 1 3 1-5 1-6 1-2 1-9 1-10 1-5 1-6 1-8 1-7 1-10 1-6 1-8 1-11 1-10 1-8 1-10 1-4 1-16 1-12 1-6 1-6 1-7 1-11 1-5 1-11 1-4 1-10 1-7 1 2 1-10 1-3 1-2 1-5 1-3 1-5 1 4 1-6 1-2 1 4 1 1 1 4 1 5 1-1 1 5 1 4 1 0 1 11 1 6 1 5 1 14 1 7 1 6 1 9 1 5 1 11 1 4 1 10 1 11 1 12 1 7 1 9 1 14 1 5 1 8 1 10 1 5 1 8 1 13 1 5 1 9 1 2 1 10 1 0 1 6 1 3 1 6 1 5 1-5 1 6 1-4 1 3 1-2 1-4 1 2 1-6 1 4 1-10 1-2 1-5 1-6 1-8 1-10 1 2 1-12 1-7 1-13 1-4 1-11 1-7 1-12 1-10 1-6 1-10 1-6 1-13 1-11 1-5 1-13 1 0 1-8 1-9 1-9 1-8 1-6 1-6 1-7 1-1 1-2 1-3 1-11 1 10 1-7 1-5 1 3 1 5 1-1 1 0 1 2 1 9 1 0 1 6 1 4 1 5 1 11 1 10 1 2 1 4 1 12 1 9 1 3 1 18 1 4 1 14 1 7 1 10 1 5 1 16 1 8 1 12 1 3 1 11 1 5 1 12 1 6 1 2 1 10 1 4 1 5 1 7 1 8 1-4 1 5 1 0 1 10 1 0 1 1 1-4 1-7 1-1 1-1 1-4 1-5 1-2 1-7 1-5 1 0 1-12 1-12 1-3 1-9 1-7 1-9 1-14 1-5 1-7 1-3 1-17 1-5 1-10 1-17 1-8 1-1 1-17 1-7 1-4 1-12 1 0 1-8 1-5 1-6 1-11 1 2 1-4 1-3 1-6 1 0 1-4 1 4 1 3 1-1 1 0 1 5 1 0 1-1 1 12 1 4 1 1 1 13 1 7 1 8 1 3 1 8 1 11 1 8 1 5 1 10 1 17 1 5 1 9 1 7 1 13 1 10 1 9 1 12 1 4 1 10 1 4 1 12 1 5 1 8 1 7 1-1 1 9 1 1 1 9 1-1 1 7 1-2 1 1 1-4 1 1 1 0 1-6 1 0 1-5 1-5 1-2 1-4 1-8 1-4 1-10 1-10 1-7 1-4 1-5 1-13 1-9 1-13 1-5 1-10 1-12 1-6 1-10 1-15 1-9 1-6 1-7 1-4 1-13 1-5 1-8 1-3 1-8 1-5 1-6 1-7 1 0 1 4 1-4 1 1 1-3 1-5 1 2 1 5 1-1 1 7 1 6 1 4 1 3 1-2 1 16 1-2 1 7 1 13 1 7 1 10 1 7 1 7 1 11 1 6 1 9 1 12 1 10 1 10 1 8 1 15 1 3 1 9 1 12 1-2 1 18 1 7 1 3 1 13 1 2 1 7 1 2 1 1 1 1 1 0 1 2 1-1 1 2 1 3 1-7 1 4 1-3 1-11 1-1 1-3 1-8 1-6 1 1 1-11 1-4 1-13 1-5 1-16 1-6 1-4 1-12 1-6 1-14 1-11 1-8 1-2 1-15 1-12 1-8 1-11 1 1 1-14 1-3 1-10 1-7 1-6 1-1 1-7 1 2 1-2 1-10 1 1 1 5 1-3 1-2 1-5 1 4 1 4 1 13 1-2 1 3 1 6 1 6 1 9 1-1 1 9 1 14 1 11 1-2 1 19 1 2 1 7 1 20 1 5 1 12 1 6 1 10 1 3 1 14 1 11 1 4 1 14 1 8 1-3 1 18 1 5 1 3 1 9 1 8 1-8 1 10 1 1 1 1 1 2 1 1 1-6 1-10 1 4 1-3 1 5 1-10 1-1 1-13 1-2 1-8 1-7 1-5 1-5 1-16 1-2 1-9 1-13 1-8 1-13 1-13 1-6 1-10 1-8 1-13 1 2 1-17 1-3 1-7 1-12 1-6 1-10 1-8 1 8 1-13 1-12 1 1 1-5 1 4 1 5 1-2 1-7 1 0 1 9 1 1 1 1 1 12 1-1 1-2 1 3 1 16 1-1 1 17 1 9 1 14 1-4 1 14 1-1 1 17 1 10 1 18 1-4 1 17 1 9 1 18 1-4 1 8 1 15 1 5 1 7 1 5 1 10 1-1 1 14 1 6 1 4 1 12 1-5 1-5 1 4 1 5 1-5 1 9 1-9 1-5 1-4 1 2 1-11 1-10 1 4 1-11 1 3 1-6 1-19 1-5 1-10 1-5 1-11 1-14 1-13 1-2 1-3 1-22 1-7 1-9 1-7 1-18 1 1 1-10 1 2 1-13 1-6 1-9 1-7 1 0 1-15 1 8 1-5 1-5 1 5 1-9 1 0 1 5 1-8 1 10 1 2 1 10 1 7 1 1 1 4 1 7 1 2 1 21 1 2 1 12 1-6 1 18 1 9 1 12 1 0 1 16 1 7 1 19 1-4 1 12 1 9 1 6 1 14 1 8 1 4 1 9 1 9 1 5 1 8 1 0 1 3 1 8 1-6 1 17 1-4 1-8 1 9 1 4 1-15 1 1 1 5 1-13 1 4 1-4 1-12 1-4 1-5 1-11 1-5 1-13 1-8 1-13 1-4 1-5 1-10 1-14 1-18 1-7 1-2 1-17 1 1 1-19 1-2 1-13 1-7 1-3 1-10 1 1 1-10 1-10 1-18 1 13 1 0 1 3 1-10 1 12 1-3 1-5 1 10 1-10 1 5 1 12 1 5 1 9 1 7 1-2 1 6 1 9 1 9 1 13 1 4 1 18 1 2 1 3 1 10 1 19 1 9 1 1 1 8 1 24 1 4 1 6 1 3 1 18 1 0 1 11 1-6 1 15 1 7 1 6 1-3 1 4 1 11 1-5 1 8 1-3 1 1 1-1 1-6 1-2 1-11 1-6 1 0 1-2 1-16 1 7 1-8 1-21 1-9 1-10 1-3 1-4 1-14 1-15 1-3 1-10 1-6 1-11 1-19 1-7 1-1 1-9 1-10 1-13 1 2 1-12 1 4 1-9 1-13 1-6 1 7 1-4 1-9 1 5 1 1 1-4 1 3 1-2 1 4 1 11 1 2 1 5 1 13 1 4 1-2 1 20 1-5 1 12 1 11 1 6 1 10 1 6 1 17 1 9 1 10 1-1 1 14 1 19 1 6 1 11 1 5 1 7 1-4 1 28 1-8 1 9 1 11 1 1 1 6 1 0 1-3 1 15 1-14 1 8 1-10 1 4 1-7 1 0 1-6 1 0 1-1 1-13 1-7 1-15 1 14 1-18 1-15 1 4 1-15 1-22 1-6 1 3 1-22 1-9 1-7 1-8 1-8 1-3 1-11 1-15 1-5 1-16 1 5 1 4 1-16 1-8 1-5 1-2 1 2 1-14 1 10 1-8 1 6 1 6 1-12 1 23 1-5 1-3 1 9 1 0 1 11 1 9 1-7 1 20 1 8 1 14 1 7 1 2 1 10 1 13 1 13 1 3 1 22 1 3 1 9 1 12 1 4 1 13 1 9 1-7 1 13 1 4 1 12 1 1 1 5 1 2 1-3 1 16 1-1 1 3 1 19 1-12 1-10 1-5 1 3 1-13 1-6 1 4 1-16 1-8 1 0 1 0 1-21 1 0 1-8 1-12 1-5 1-19 1-8 1-12 1-7 1-2 1-13 1-15 1-2 1-27 1 9 1-6 1-17 1-4 1-2 1-5 1-8 1-7 1-3 1 3 1-6 1-3 1 0 1 22 1-11 1 2 1 0 1 1 1 0 1 7 1 10 1 5 1-2 1 21 1 2 1 2 1 16 1 22 1-4 1 14 1 8 1 3 1 14 1 13 1 4 1 12 1 11 1 7 1 9 1 11 1 8 1 5 1 12 1 7 1-10 1 13 1 3 1 3 1 1 1 1 1 1 1 4 1-11 1 7 1-13 1 14 1-9 1-17 1 0 1-3 1-13 1 1 1-15 1 5 1-19 1-8 1-17 1-11 1 0 1-24 1 3 1-1 1-8 1-32 1 0 1-6 1-7 1-6 1-22 1 1 1-17 1 6 1 8 1-23 1 3 1-3 1-13 1 10 1-9 1 8 1 5 1-5 1 10 1-7 1 6 1 10 1 3 1 6 1 13 1 0 1 15 1 4 1 18 1 3 1 8 1 16 1 8 1 11 1 2 1 18 1 3 1 3 1 16 1 21 1-2 1 2 1 15 1-1 1 9 1 6 1 9 1 6 1 2 1 0 1-1 1 1 1 5 1-3 1-4 1 10 1-8 1-4 1-8 1-5 1-7 1-3 1-16 1-6 1 4 1-19 1-2 1-27 1 3 1-10 1-13 1-8 1-10 1-20 1-1 1-13 1-11 1 4 1-25 1-1 1-9 1 5 1-16 1-3 1 1 1-21 1 8 1 3 1-4 1-5 1-1 1 5 1-2 1 1 1 20 1 0 1 8 1 0 1-2 1 12 1 18 1 3 1 1 1 18 1 7 1 7 1 23 1-6 1 12 1 9 1 19 1 9 1 8 1 4 1 10 1 8 1-3 1 10 1 20 1 6 1-10 1 18 1-7 1 2 1 16 1-1 1-1 1 6 1-1 1-5 1-11 1 5 1-5 1-4 1 0 1-24 1 17 1-18 1-16 1 4 1-21 1-14 1 4 1-16 1-2 1-20 1-7 1-11 1-17 1-4 1-15 1-4 1 3 1-17 1-9 1 6 1-25 1 3 1-7 1 5 1-10 1-4 1 2 1-3 1 14 1-21 1 17 1 10 1-5 1 4 1-4 1 15 1-2 1 15 1-13 1 19 1-1 1 28 1-1 1 20 1 0 1 9 1 25 1 7 1 10 1 12 1 4 1 11 1 12 1-2 1 5 1 20 1 2 1 2 1 7 1 8 1-6 1 3 1 4 1 7 1-14 1 2 1 13 1-3 1-12 1 10 1-12 1-3 1 0 1-10 1 2 1-14 1 1 1-37 1-4 1-7 1-4 1-14 1-12 1-8 1-10 1 3 1-19 1-3 1-5 1-9 1-19 1-12 1 9 1-27 1-5 1 8 1-5 1-6 1-10 1 7 1 3 1-10 1 17 1-14 1-5 1 9 1 0 1 6 1 4 1 10 1 13 1 3 1 7 1-1 1 6 1 18 1 17 1 10 1 6 1-1 1 17 1 13 1 15 1-2 1 13 1 12 1 7 1-2 1 20 1-6 1 10 1 14 1-1 1 12 1 8 1-1 1 6 1-9 1 4 1-5 1-3 1 25 1-27 1 11 1-19 1 2 1-13 1-16 1 14 1-21 1-7 1 4 1-27 1-6 1-6 1-8 1-38 1 16 1 0 1-16 1-14 1-9 1-11 1-2 1-19 1 0 1 0 1-10 1-9 1-13 1-1 1 2 1-4 1-3 1-14 1 20 1-7 1 1 1 14 1-4 1 5 1 10 1-2 1 4 1 6 1 18 1 5 1-6 1 34 1 0 1 5 1 15 1 6 1 14 1 6 1 6 1 20 1 6 1 11 1 11 1 6 1 15 1-7 1 0 1 5 1 8 1 20 1-14 1 18 1-3 1-13 1 21 1-15 1 2 1 0 1 2 1-14 1 1 1-17 1-7 1 11 1-14 1-10 1-2 1-10 1-18 1-8 1 1 1-18 1-18 1 3 1-12 1-28 1-8 1 13 1-11 1-21 1 4 1-14 1-4 1-14 1 18 1-6 1-11 1-19 1 8 1 10 1-16 1 0 1 9 1 3 1-2 1-1 1 13 1 3 1 11 1 10 1 11 1 0 1 13 1 9 1 1 1 13 1 7 1 28 1-6 1 19 1 11 1 10 1-6 1 12 1 20 1 12 1-1 1 10 1-10 1 29 1 8 1-8 1 1 1 2 1-4 1-9 1 18 1 0 1 7 1-18 1-8 1 4 1-17 1 3 1-18 1 2 1 2 1-11 1-3 1-7 1-25 1-15 1-18 1 5 1-8 1-4 1-26 1-5 1-1 1-19 1-8 1 11 1-27 1-2 1-2 1-6 1-21 1-2 1-5 1 21 1-5 1-13 1 17 1-2 1 11 1-25 1 10 1 9 1 8 1 11 1 7 1 0 1 18 1-6 1 22 1 13 1-7 1 21 1 4 1 18 1 24 1-11 1 24 1-9 1 29 1 12 1-9 1 7 1 9 1 17 1-11 1 24 1-4 1 6 1-1 1-8 1 13 1-10 1-2 1 17 1-7 1-10 1-2 1-13 1 12 1-28 1-7 1-1 1 1 1-20 1-5 1-18 1-5 1-16 1-1 1-25 1 19 1-20 1-21 1 6 1-26 1 7 1-19 1 1 1-11 1-11 1-3 1-2 1-24 1 14 1 6 1-16 1 1 1-3 1-3 1 24 1-12 1 3 1 15 1 3 1 33 1-12 1-12 1 37 1-1 1 3 1 7 1 1 1 38 1-5 1 4 1 27 1 0 1-6 1 14 1 16 1 34 1-12 1 3 1 13 1 4 1-20 1 31 1 10 1-6 1 6 1 1 1-1 1-8 1 3 1 10 1-12 1-9 1 2 1-18 1-4 1 8 1-19 1-22 1-5 1 4 1-17 1 3 1-4 1-26 1-8 1-12 1-6 1-12 1-3 1-17 1-12 1-1 1-15 1 15 1-15 1-24 1-7 1 9 1-1 1 8 1-15 1-4 1 20 1-16 1 3 1 4 1 17 1-9 1 22 1-18 1 18 1 19 1-13 1 11 1 24 1-14 1 36 1-1 1 3 1 39 1-17 1 19 1 9 1 18 1-2 1 21 1 6 1 4 1 13 1-17 1 30 1 0 1 0 1 0 1-5 1 1 1 10 1 0 1-5 1-9 1-2 1 6 1 8 1-42 1 4 1-1 1-9 1-1 1-5 1-15 1-10 1-7 1-3 1-20 1-17 1-1 1-15 1 8 1-25 1-10 1 1 1-4 1-25 1 3 1-17 1 3 1-14 1 5 1 7 1-14 1 1 1-8 1 10 1 2 1-8 1 1 1 8 1 3 1 11 1 4 1 6 1 12 1 12 1 8 1-10 1 30 1 12 1 12 1 7 1 8 1 22 1 17 1-10 1 26 1-8 1 10 1-1 1 3 1 17 1 14 1 10 1 1 1-4 1 21 1-17 1 1 1-6 1 7 1-6 1 4 1-6 1 6 1-22 1-19 1 5 1-9 1 3 1-30 1 10 1-23 1-4 1-1 1-27 1-1 1-12 1-12 1-6 1-6 1-17 1-1 1-12 1-1 1 0 1-13 1-7 1-9 1-14 1 23 1-18 1 20 1-11 1-3 1 17 1-1 1-14 1 5 1 7 1 13 1-20 1 28 1 15 1-14 1 18 1 19 1-4 1 19 1 6 1 14 1 21 1-8 1 17 1 20 1 7 1-6 1 20 1 4 1 1 1 11 1 21 1-15 1 1 1 4 1-5 1 13 1-4 1-8 1 15 1-20 1-4 1 4 1-14 1 3 1 9 1-26 1-1 1-9 1-7 1-20 1-3 1 2 1-21 1-13 1 3 1-12 1-11 1-7 1-18 1-15 1-17 1-1 1-6 1-7 1-8 1 11 1-14 1 1 1 2 1 1 1 0 1-1 1 10 1-13 1 8 1 3 1 3 1 2 1 19 1 3 1 22 1 14 1 6 1-22 1 41 1-11 1 0 1 29 1-9 1 8 1 18 1-4 1 26 1 21 1-3 1 17 1 15 1 6 1-27 1 31 1-1 1 9 1-5 1 4 1 2 1 7 1 0 1-8 1-13 1-21 1 4 1-13 1 6 1-3 1 4 1-21 1 11 1-27 1-28 1 3 1-18 1 4 1-1 1-19 1-11 1-24 1-17 1 17 1-12 1-10 1-5 1 2 1-18 1-7 1-4 1 12 1-12 1 14 1-25 1 19 1-6 1 5 1 5 1 9 1 12 1-27 1 21 1 7 1-9 1 29 1 3 1 15 1-1 1 16 1 12 1 16 1 5 1 2 1 41 1-9 1 12 1 7 1 24 1-18 1 22 1 0 1 8 1 16 1-8 1 16 1-7 1-5 1-4 1-1 1 0 1-25 1 12 1 11 1-11 1-6 1-12 1-4 1-6 1-33 1 6 1-6 1-10 1-11 1-26 1-1 1-17 1 31 1-43 1-16 1-18 1 10 1 9 1-29 1 4 1 6 1-16 1-20 1-5 1 2 1 16 1-35 1 37 1-9 1 15 1-23 1 13 1 1 1 14 1 8 1 5 1 28 1-19 1 10 1 22 1 6 1 7 1-2 1 22 1 14 1 15 1 20 1 1 1 2 1 12 1 5 1 1 1 10 1 8 1 1 1 9 1 6 1-2 1 23 1-28 1 24 1-22 1 6 1-14 1 7 1 4 1-25 1 2 1-6 1-8 1-18 1-7 1-3 1 7 1-21 1-15 1-27 1 3 1-5 1-23 1 3 1-10 1-11 1 8 1-32 1-2 1 1 1 3 1-18 1-16 1 18 1 2 1-16 1 20 1 7 1-15 1 5 1 0 1 7 1-3 1 12 1 10 1 7 1-3 1 6 1 10 1 12 1 50 1-13 1 3 1 5 1 29 1-20 1 21 1 18 1 1 1 14 1 12 1-5 1 16 1 15 1-3 1-1 1 13 1-22 1 25 1-29 1 8 1 17 1-14 1-14 1 9 1 5 1-20 1-26 1 28 1-29 1-4 1-8 1-7 1-10 1-24 1-6 1 6 1-37 1 19 1-29 1-5 1-19 1 0 1-15 1 3 1-16 1 0 1-23 1 25 1-22 1 5 1 2 1 7 1-9 1 21 1 2 1-17 1 27 1-25 1 24 1 2 1 9 1 5 1 16 1 11 1 7 1-2 1 9 1 9 1 20 1 16 1 25 1-14 1 7 1 22 1-4 1 3 1 20 1-4 1 13 1 26 1-9 1 2 1-7 1 15 1-4 1 4 1-11 1-4 1-14 1-3 1 1 1-7 1-6 1-8 1-23 1 33 1-34 1-15 1-18 1 13 1-26 1-15 1 3 1 5 1-26 1 0 1-29 1 8 1-35 1 10 1 3 1-8 1 1 1-19 1-14 1 16 1-13 1 20 1-12 1-18 1 42 1-24 1 6 1 38 1 2 1 3 1-13 1 24 1 6 1 0 1 17 1 9 1 16 1-5 1 30 1-15 1 31 1 14 1-6 1 11 1 34 1-16 1 23 1 1 1-12 1 22 1-10 1 10 1-23 1 22 1 10 1-2 1-5 1-14 1-3 1-16 1 2 1-6 1-10 1-4 1-13 1-15 1-10 1 5 1 2 1-20 1-22 1 19 1-32 1-19 1 1 1-3 1-39 1-4 1 10 1-23 1-5 1 21 1-44 1 36 1-9 1 8 1-13 1 16 1-11 1-9 1 14 1 10 1-14 1 33 1-13 1 22 1 3 1 12 1 8 1 12 1 18 1 8 1 0 1 16 1 22 1 5 1 9 1 2 1 7 1 9 1 15 1 0 1 20 1 22 1-27 1 21 1-6 1 4 1-19 1 19 1-18 1 5 1 4 1-1 1-27 1-6 1-11 1-20 1 9 1-9 1-5 1-13 1-5 1-4 1-42 1 31 1-33 1-12 1-7 1 3 1-17 1-5 1-1 1-18 1-2 1-4 1-18 1 16 1-19 1 10 1-12 1 5 1 0 1 16 1 1 1 6 1-6 1 0 1 3 1 25 1 2 1 28 1 16 1-5 1 8 1 20 1 13 1-15 1 25 1 20 1-35 1 34 1 14 1-3 1 24 1-19 1 41 1 2 1-8 1 10 1-21 1 35 1-9 1-12 1-5 1-7 1 4 1-26 1 25 1-14 1-14 1 5 1-9 1-7 1-7 1-4 1-17 1 1 1-32 1 11 1-51 1-6 1-3 1 5 1-4 1-29 1 4 1-11 1 8 1-25 1 16 1-13 1 18 1-14 1-13 1 11 1 1 1-11 1 13 1-10 1 47 1-28 1 8 1 31 1 6 1-16 1 32 1 5 1-4 1 21 1 1 1 26 1-3 1 1 1 18 1 38 1-23 1 15 1 19 1-20 1 42 1-36 1 33 1-22 1 21 1 16 1-16 1-3 1-4 1-9 1 18 1-20 1-8 1 5 1 0 1-8 1-28 1-9 1 9 1-4 1-40 1 22 1-30 1 0 1 1 1-32 1-6 1-28 1-18 1 20 1-22 1-6 1 12 1-2 1-32 1 20 1-6 1 2 1-2 1 6 1-13 1-3 1 22 1 17 1-11 1 25 1-3 1-13 1-4 1 32 1 26 1-11 1 45 1-8 1-15 1 20 1 34 1 14 1-20 1 20 1 15 1-4 1 19 1 22 1-26 1 21 1 8 1 7 1-17 1 13 1-17 1 9 1-18 1 14 1-2 1 10 1-16 1-28 1-35 1 42 1-12 1-25 1-12 1 4 1-20 1 10 1-26 1-24 1-19 1 11 1-8 1-17 1-16 1-1 1 8 1-19 1-12 1 15 1 4 1-24 1 1 1-8 1 11 1 11 1 0 1 11 1 4 1 1 1 6 1-11 1 35 1-5 1 16 1-15 1 25 1 17 1-3 1 19 1 17 1-14 1 20 1-2 1 15 1 14 1 15 1 22 1-15 1 13 1-3 1 12 1 11 1 5 1-19 1-8 1 17 1-11 1-14 1 21 1-11 1 3 1-34 1 3 1 0 1 5 1-27 1-24 1 5 1-9 1-23 1 12 1-26 1-17 1 7 1-9 1-21 1-4 1-6 1-12 1-6 1 9 1-7 1-16 1-10 1-4 1 26 1-22 1 7 1 12 1-2 1 2 1-6 1 41 1-12 1 17 1 10 1-7 1 14 1 32 1 2 1 4 1 30 1-17 1 22 1 7 1 7 1-9 1 30 1 12 1-18 1 33 1 5 1 14 1-26 1 12 1-2 1 4 1 3 1 5 1-3 1-19 1-1 1-24 1 22 1-11 1-2 1-38 1 22 1-34 1-18 1 9 1-21 1 24 1-31 1 5 1-32 1-8 1 1 1-29 1-1 1 4 1-6 1 6 1-20 1-31 1 32 1-14 1 11 1-15 1 6 1 12 1 22 1-10 1-15 1 25 1-3 1 21 1 26 1-18 1 11 1 21 1 8 1 2 1 21 1-1 1 17 1 36 1-17 1 14 1 11 1-7 1 18 1-7 1-1 1 15 1 24 1-8 1-19 1 14 1 6 1-11 1-10 1-1 1-10 1 12 1-14 1-8 1-11 1 16 1-32 1 4 1-43 1-13 1-12 1 0 1 5 1-27 1 4 1-19 1 9 1-12 1-20 1-23 1 16 1-32 1-10 1 45 1-17 1 11 1-10 1 6 1-3 1-10 1 5 1 14 1 9 1 6 1 7 1 3 1 16 1 4 1 32 1-15 1-2 1 30 1 30 1-23 1 30 1 42 1-24 1-2 1 11 1-3 1 14 1 12 1 30 1-7 1-13 1-4 1 21 1-5 1-15 1 26 1-3 1-25 1-12 1 3 1 14 1-36 1 8 1-33 1-1 1-14 1-15 1 3 1-27 1-15 1 0 1-21 1 14 1-28 1-1 1 8 1-18 1-1 1-5 1-12 1-16 1 15 1-7 1 19 1-18 1-11 1 8 1 8 1 17 1 11 1-4 1 23 1 7 1-17 1 32 1-23 1 49 1-12 1 30 1-6 1 25 1-3 1 12 1 13 1-2 1-4 1 33 1-12 1 16 1 6 1-23 1 56 1-16 1 14 1-18 1-3 1-51 1 38 1-22 1 1 1 14 1-18 1-22 1 9 1-10 1-13 1 14 1-18 1-25 1-13 1 7 1-17 1-13 1-9 1-19 1-2 1-8 1 12 1-11 1-22 1 19 1-26 1 9 1 1 1-18 1 17 1 5 1 1 1-5 1-28 1 65 1-18 1 10 1-6 1 25 1 35 1-36 1 40 1-2 1 26 1 7 1 4 1-7 1 10 1 27 1-5 1 19 1 1 1 6 1 0 1 20 1-2 1-2 1 3 1 11 1-31 1 25 1-18 1 3 1-17 1 36 1-59 1 20 1 5 1-26 1-35 1 11 1 11 1-20 1-32 1 23 1-25 1-9 1-40 1 20 1-28 1 16 1-6 1-29 1-1 1 24 1-33 1-3 1 14 1-11 1 0 1 11 1 4 1 4 1 0 1 19 1-9 1 25 1-11 1 10 1 21 1-13 1-3 1 18 1 43 1-21 1 23 1 13 1 17 1 2 1-8 1 19 1 19 1 10 1 3 1-7 1-12 1 39 1-11 1 5 1 4 1-15 1-5 1 21 1-10 1-32 1 4 1-10 1 4 1-10 1-19 1 2 1-3 1-24 1-21 1 12 1-35 1-6 1 9 1-20 1-9 1-16 1-8 1 17 1-6 1-33 1 7 1-7 1-1 1-15 1 33 1-26 1 26 1-15 1-3 1 38 1-15 1 16 1 8 1 5 1 22 1 9 1-9 1 8 1 27 1 22 1-35 1 25 1 18 1 27 1 3 1-1 1 22 1-25 1 24 1 2 1 21 1 1 1 1 1-13 1 6 1-1 1-10 1-2 1-20 1 14 1 4 1-20 1-26 1 15 1-16 1-5 1-20 1-8 1 2 1-17 1-25 1-12 1-8 1-9 1 6 1-8 1-23 1 19 1-19 1 17 1-22 1 1 1 5 1-22 1 17 1-3 1 1 1 10 1-21 1 29 1-1 1 25 1-1 1 7 1 9 1 13 1 2 1-6 1 30 1 11 1 13 1-25 1 21 1 22 1 7 1 25 1 1 1 2 1 6 1 16 1 3 1-13 1 3 1 29 1-27 1-16 1 19 1-14 1 15 1-34 1 16 1-6 1-20 1-41 1 26 1-2 1-31 1-8 1-28 1 25 1-7 1-25 1-18 1-9 1-17 1 23 1-15 1-14 1-17 1 1 1 7 1 6 1-24 1 0 1-20 1 37 1-18 1 39 1-3 1 9 1 4 1 14 1 4 1 4 1 15 1-3 1 19 1 10 1-8 1 25 1 12 1 12 1 8 1 3 1 24 1-15 1 1 1 11 1 24 1 17 1-12 1-6 1-7 1 11 1-1 1-25 1 22 1-26 1-4 1 20 1-27 1 1 1-4 1 1 1-14 1-34 1-1 1-18 1 5 1-19 1-10 1 5 1-7 1-34 1-4 1 6 1-16 1-14 1-18 1 29 1-20 1-18 1 25 1-15 1 51 1-45 1 22 1 29 1-26 1 5 1 6 1 9 1 24 1 19 1 7 1 5 1 5 1 22 1 4 1 0 1 16 1-14 1 10 1 48 1 0 1 15 1 4 1-16 1 22 1 2 1-8 1-13 1 13 1-2 1-19 1 1 1-6 1-12 1 16 1-22 1 1 1-29 1-8 1 13 1-39 1 19 1-39 1 2 1 2 1-7 1-19 1-12 1 0 1-23 1 17 1-22 1-5 1 19 1-28 1 17 1 15 1-22 1-3 1-10 1 21 1-18 1 6 1 12 1 5 1 20 1 20 1-5 1 7 1 19 1 16 1 27 1-17 1 15 1 29 1-7 1 2 1 18 1-3 1 7 1 32 1-9 1-6 1-2 1-5 1 41 1-24 1-11 1-9 1-10 1 27 1-13 1 1 1-30 1 17 1-40 1-6 1-5 1 22 1-29 1-28 1 16 1-25 1-11 1-22 1-1 1-9 1 1 1-12 1-4 1-15 1 7 1-17 1 31 1-35 1 17 1-14 1 16 1-5 1-3 1 31 1-1 1 11 1 4 1 31 1-8 1 12 1 16 1 4 1 27 1-25 1 22 1-8 1 43 1 13 1-10 1 32 1-17 1 17 1 1 1-4 1 6 1-21 1 15 1 23 1-30 1 25 1-21 1 11 1-11 1-33 1 15 1-8 1-10 1-13 1-31 1 21 1-10 1-33 1 16 1-25 1-28 1 4 1-3 1-5 1-5 1-11 1-14 1-18 1-1 1 16 1 1 1-17 1 31 1-15 1 2 1 14 1 4 1-10 1 31 1-1 1 6 1 0 1 28 1-20 1 28 1 10 1 12 1 14 1 14 1-16 1 21 1 12 1-5 1 28 1-10 1 13 1 16 1-17 1 30 1-25 1 18 1-16 1-15 1 7 1 9 1-12 1-3 1 3 1-9 1-23 1-15 1 17 1-30 1-18 1-5 1 2 1-35 1 17 1-32 1-21 1 36 1-36 1-8 1-5 1 7 1-10 1 10 1-20 1-5 1 14 1 5 1-3 1-1 1 4 1 8 1 4 1 25 1 25 1-31 1 0 1 44 1 1 1-1 1 3 1 14 1 3 1 26 1 4 1 9 1 19 1-12 1 13 1 2 1 21 1-13 1 27 1-15 1 36 1-20 1-23 1 11 1-12 1 16 1-44 1 4 1 0 1-14 1-8 1-23 1 4 1 10 1-26 1-29 1-2 1 2 1-22 1-4 1-14 1 18 1-15 1-25 1 5 1-11 1-23 1 25 1-7 1 10 1 2 1-4 1 20 1 13 1-36 1 24 1-7 1 21 1 8 1 4 1 9 1 34 1-19 1 37 1-3 1-18 1 39 1-9 1 33 1-3 1 14 1 3 1 21 1 5 1-11 1 25 1-7 1-18 1 14 1 2 1-1 1-19 1 0 1-12 1-3 1-33 1 19 1 8 1-34 1-9 1-12 1 10 1-43 1 3 1-10 1 9 1-34 1-2 1-25 1 14 1 4 1-22 1 9 1-19 1 16 1-12 1 1 1 0 1 8 1 8 1-4 1 12 1-1 1 12 1 33 1-17 1-8 1 23 1 7 1 13 1 21 1 21 1-15 1 7 1 15 1 11 1 8 1 12 1 3 1 9 1 0 1 19 1-2 1-13 1 10 1 23 1-32 1 25 1-55 1 9 1-7 1 8 1-3 1-19 1-13 1-1 1-21 1-17 1-9 1 8 1 3 1-35 1-2 1-22 1-22 1-8 1 10 1-16 1-10 1 15 1-5 1-8 1 10 1 7 1 5 1-5 1 12 1-11 1 20 1-14 1 11 1 38 1-18 1 28 1-11 1 21 1 17 1 2 1 25 1 0 1 9 1 15 1 2 1 24 1-12 1 27 1-17 1 5 1 0 1 16 1-42 1 37 1-7 1 8 1-30 1 16 1-23 1 15 1-23 1-1 1-25 1 4 1-3 1-26 1 8 1-13 1-31 1 21 1-40 1 4 1-2 1-21 1-12 1 9 1-10 1-15 1-2 1 8 1 9 1 3 1-2 1-11 1 5 1 9 1-6 1 27 1 9 1 9 1-17 1 56 1-17 1 9 1 15 1-16 1 24 1 15 1 29 1-7 1 18 1 3 1 5 1 13 1-8 1-8 1 9 1 11 1 25 1-36 1-2 1 11 1-2 1-18 1 10 1-26 1 13 1-11 1-20 1 7 1-27 1-17 1 10 1-36 1 7 1-23 1-6 1-1 1-7 1 6 1-19 1-4 1-32 1 3 1 25 1-26 1 7 1 9 1-8 1 0 1 21 1 2 1 2 1 21 1-5 1 12 1 16 1 12 1-2 1 4 1 17 1 24 1-8 1 16 1 5 1 2 1 32 1-1 1 11 1 9 1-29 1 15 1 33 1-24 1 11 1-21 1 9 1-1 1-8 1-9 1-3 1-5 1-10 1-17 1 9 1-23 1-9 1-6 1-25 1 13 1-21 1-4 1-26 1 3 1-14 1-10 1 16 1-28 1 9 1-8 1-3 1-11 1 1 1-9 1 21 1 12 1 5 1-7 1-3 1 23 1 19 1 0 1 10 1 13 1 19 1 31 1-12 1-8 1 20 1 37 1-16 1 30 1-36 1 27 1 21 1-18 1 22 1-13 1 7 1 14 1-22 1 20 1-34 1 10 1 6 1 2 1-46 1-7 1 22 1-43 1 7 1-6 1-12 1-9 1-30 1 4 1 13 1-54 1 5 1 14 1-15 1 0 1-17 1-8 1-1 1 8 1 2 1-19 1 13 1-24 1 39 1-13 1 15 1 16 1-16 1 23 1 21 1 4 1-5 1 36 1-19 1 18 1 22 1-9 1 5 1 23 1 13 1-11 1 10 1 34 1-4 1 4 1 4 1 14 1-27 1 8 1-3 1-19 1 18 1-11 1-11 1 0 1-12 1-19 1-1 1-25 1 13 1-22 1 8 1-25 1-4 1-33 1-3 1-6 1-23 1-3 1 3 1 11 1 4 1-19 1 2 1 3 1-3 1 18 1-33 1 34 1 0 1-7 1 32 1-21 1 9 1 24 1 19 1 3 1 27 1-27 1 26 1 19 1 13 1-8 1-2 1 41 1-1 1 20 1-23 1 11 1-21 1 29 1 5 1 2 1-19 1 26 1-32 1 1 1 2 1-2 1-31 1-18 1 17 1-21 1-24 1 16 1-14 1 0 1-23 1-11 1-6 1-5 1 1 1-10 1-11 1-25 1 9 1 1 1-20 1 0 1 15 1 0 1-12 1 7 1 19 1-7 1 10 1-5 1 31 1-11 1 15 1 27 1-13 1 12 1 37 1-28 1 47 1 7 1 2 1-4 1 10 1 15 1-11 1 16 1-8 1-14 1 32 1 32 1-26 1 5 1-17 1-5 1 10 1-8 1-18 1-9 1 19 1-52 1 1 1-10 1-14 1 4 1-22 1-23 1-10 1-2 1 0 1-2 1-32 1 4 1 6 1 17 1-18 1 11 1-38 1 14 1 13 1-2 1-30 1 23 1 37 1-7 1 22 1 15 1-13 1-17 1 21 1 29 1 15 1 4 1 0 1 40 1 14 1-36 1 27 1-9 1 23 1-10 1 29 1-11 1-11 1 6 1 17 1-18 1 15 1 4 1-29 1-17 1-1 1 17 1-35 1-8 1 4 1 14 1-53 1-9 1-6 1 17 1-13 1-40 1-6 1-4 1 2 1-14 1 7 1-7 1 4 1-15 1 8 1-15 1 5 1 22 1-27 1 41 1-12 1 0 1 6 1 52 1-29 1 7 1 8 1 56 1-9 1 4 1 14 1-12 1 34 1-14 1 16 1 31 1 0 1-1 1-4 1-8 1 15 1-13 1 29 1 16 1-37 1-15 1 4 1 1 1-25 1-27 1 15 1-2 1-9 1-45 1 14 1-19 1-18 1-8 1 15 1-33 1-7 1-3 1-13 1 14 1-11 1 2 1-18 1 17 1-13 1 20 1-9 1 7 1 2 1 3 1 11 1 8 1 32 1-29 1 31 1 5 1 18 1-11 1 33 1-6 1 2 1 4 1 14 1 15 1 30 1-24 1 7 1 8 1 4 1 10 1 8 1-20 1-4 1 25 1-28 1 2 1-14 1 0 1-18 1-8 1-8 1 17 1-37 1-1 1 3 1-33 1 15 1-37 1-20 1 18 1-25 1-1 1-9 1 19 1-27 1 3 1-9 1 9 1-12 1 12 1-1 1-4 1 20 1-3 1 17 1 5 1 22 1-6 1 5 1 26 1 1 1 15 1 29 1-8 1-2 1 31 1 24 1-16 1 17 1-25 1 28 1 3 1 10 1-10 1 9 1 3 1-13 1 5 1-31 1 24 1-21 1 0 1-1 1-46 1 35 1-53 1 24 1-29 1-37 1 42 1-19 1-41 1 4 1 1 1-13 1 4 1-18 1-20 1 20 1-8 1-13 1-9 1 33 1-7 1 15 1 7 1 4 1 10 1 22 1 12 1-5 1 0 1-3 1 32 1 6 1 1 1 9 1 20 1 9 1-15 1 34 1 9 1 19 1-20 1 12 1-24 1 28 1-15 1-3 1-11 1 31 1-40 1 13 1-6 1-6 1-8 1-10 1 14 1-45 1-5 1 1 1-21 1-39 1 13 1 0 1-34 1 22 1-15 1-1 1-9 1-15 1-1 1 14 1-7 1-1 1 8 1-1 1 13 1 7 1-3 1 21 1-9 1 17 1 19 1 6 1 9 1 7 1 8 1 14 1 18 1-18 1 16 1 17 1-2 1 14 1 12 1 0 1-28 1 22 1 0 1 16 1-14 1-23 1 17 1-13 1-9 1 0 1-20 1 7 1-13 1 3 1-49 1 17 1-8 1-26 1 12 1-16 1 0 1-18 1-2 1-18 1 2 1 1 1-7 1-4 1 4 1-17 1 5 1 10 1 20 1-15 1 27 1-9 1 10 1 16 1 13 1 8 1-22 1 38 1 10 1-3 1 17 1 2 1 37 1 7 1-45 1 47 1 9 1-1 1-6 1 28 1-17 1 4 1-10 1 3 1 4 1-1 1 12 1-47 1 20 1-21 1-34 1 14 1-22 1-1 1-22 1-2 1-4 1-32 1 9 1 4 1-20 1-17 1 14 1-27 1-4 1-18 1 31 1-15 1 29 1-12 1-3 1 2 1 12 1 7 1 14 1 7 1 1 1 7 1 10 1 6 1 9 1 45 1-4 1 5 1 16 1-11 1 11 1 17 1 3 1-8 1 23 1 2 1-13 1 5 1-13 1 10 1-8 1 10 1-2 1-18 1 23 1-45 1-16 1 1 1-7 1-26 1 2 1-22 1-25 1 7 1-12 1-3 1-6 1-7 1-4 1-16 1 27 1-18 1-12 1 18 1-7 1 9 1-9 1 0 1-1 1 19 1 22 1-2 1 5 1 1 1 52 1-19 1 36 1-19 1 14 1 9 1 5 1 15 1 20 1-5 1-4 1 20 1 2 1 17 1-27 1 20 1 1 1-6 1 0 1-12 1-24 1-2 1-15 1-10 1 18 1-26 1-22 1-20 1 32 1-10 1-33 1 0 1-2 1-24 1 5 1 11 1-32 1-7 1-9 1-6 1 8 1 5 1 7 1 15 1-10 1-12 1 11 1-9 1 34 1 28 1-21 1 8 1 36 1 16 1-10 1 5 1 31 1 1 1 14 1 13 1 10 1-11 1 12 1 8 1 26 1-49 1 32 1-10 1 9 1-21 1 18 1-24 1-4 1-20 1 15 1-15 1-15 1-37 1 31 1-31 1 0 1-22 1-14 1-4 1-10 1-9 1 3 1-11 1 12 1-19 1 2 1-8 1-12 1 6 1 1 1-4 1 46 1-27 1 12 1 9 1 23 1-13 1 3 1 12 1 24 1 2 1 8 1-1 1 17 1 23 1 9 1 7 1 6 1 15 1-10 1 21 1 4 1-13 1 11 1-5 1 18 1-37 1 4 1-5 1-14 1-6 1 2 1-41 1 18 1-27 1-21 1 18 1-19 1 1 1-32 1 7 1 0 1-36 1-2 1 16 1-29 1 9 1-32 1 11 1 28 1-2 1 11 1-8 1 7 1-1 1 15 1 27 1 1 1-16 1 14 1 26 1 10 1 11 1 8 1 30 1-20 1 27 1-1 1 38 1-26 1-8 1 46 1-41 1 13 1 14 1 9 1-35 1 7 1-9 1 4 1-1 1-28 1 13 1-32 1 20 1-19 1-5 1-42 1 25 1-18 1-31 1-4 1-31 1-4 1 8 1-7 1 25 1-14 1-9 1-2 1 15 1-4 1 3 1-18 1 13 1 16 1 7 1 2 1 21 1 5 1 27 1-17 1 7 1 18 1 9 1 11 1-10 1 30 1 26 1 4 1-14 1 1 1 7 1 2 1 8 1 20 1-11 1 10 1-20 1 6 1-24 1-4 1 13 1-41 1-10 1 15 1-28 1-18 1 1 1-24 1-2 1-20 1 1 1-4 1-16 1-9 1 1 1 4 1 1 1-7 1 2 1-8 1 3 1 6 1 4 1 4 1-9 1 12 1 30 1-2 1 18 1 8 1 13 1 15 1 19 1 23 1-21 1-2 1 33 1-9 1 18 1-3 1 18 1-4 1 1 1 27 1-31 1 3 1 24 1-41 1 2 1-10 1-9 1 0 1-1 1-18 1-10 1-42 1-6 1 17 1-12 1-18 1-13 1 6 1-4 1-42 1 4 1 26 1-1 1-13 1-14 1-3 1 12 1 18 1-17 1 0 1 14 1 13 1-4 1 17 1 22 1-4 1 27 1-16 1 17 1 28 1-5 1-2 1 49 1-16 1-14 1 45 1-12 1 19 1-13 1 29 1-10 1-14 1-11 1-7 1-5 1-15 1-2 1-9 1 11 1-19 1-50 1 0 1 6 1-9 1-14 1 7 1-38 1 19 1-12 1-35 1 45 1-35 1 21 1-15 1-8 1 3 1-5 1 14 1-4 1 18 1-4 1 20 1-17 1 33 1-15 1 24 1 9 1-7 1 24 1 34 1-18 1 50 1-29 1 17 1 19 1-11 1 10 1-24 1 32 1-27 1 7 1 23 1 0 1-30 1 13 1-10 1-2 1 3 1-19 1-2 1-4 1-25 1-36 1-9 1 10 1-13 1-14 1-19 1 4 1 2 1-7 1-24 1-22 1 36 1 16 1-35 1 12 1 0 1-10 1 20 1 23 1 15 1-15 1 22 1-8 1 29 1 0 1 24 1-3 1 12 1-3 1 1 1 28 1 16 1-27 1 26 1 2 1 5 1-8 1 7 1 4 1-2 1 17 1-7 1-11 1-9 1-7 1-11 1-6 1-4 1 4 1-40 1-8 1 7 1-27 1-9 1-6 1 14 1-15 1-15 1-33 1 25 1-11 1 7 1-9 1-10 1 31 1 12 1-38 1 12 1 15 1-12 1 8 1 47 1-14 1-5 1 32 1 6 1-4 1 25 1 22 1 3 1 17 1-15 1 35 1-27 1 37 1-17 1 21 1-13 1-17 1-3 1-5 1 13 1-8 1-8 1-13 1 4 1-27 1-1 1-20 1-3 1-13 1 7 1-14 1 0 1-21 1-11 1-20 1 19 1-61 1 36 1-20 1 1 1 42 1-27 1-19 1 51 1-34 1 26 1 1 1 0 1 34 1-16 1 21 1 11 1-7 1-23 1 49 1 8 1 17 1 18 1-4 1-8 1 23 1-3 1 18 1-30 1 52 1-27 1 0 1 1 1 13 1-5 1-17 1-11 1 8 1-11 1-29 1-16 1 9 1-9 1-11 1-49 1 14 1-3 1-22 1-24 1 6 1 26 1-22 1 0 1-3 1 9 1-10 1 10 1-14 1 7 1 23 1 11 1-8 1-5 1 11 1 16 1 50 1-23 1 13 1 6 1 21 1 1 1 12 1-33 1 33 1 18 1 4 1 6 1-1 1 10 1-5 1-13 1 0 1 3 1-17 1 8 1 8 1 1 1-21 1-17 1-16 1-19 1 10 1-8 1-30 1-15 1 10 1-19 1-21 1 5 1-2 1 20 1-46 1 5 1 5 1 7 1 11 1-11 1 4 1-10 1 35 1-25 1 25 1-5 1 37 1-6 1 0 1 24 1 30 1-4 1 0 1 33 1 10 1-13 1 22 1-15 1 28 1 11 1-10 1-27 1 28 1-13 1-6 1 10 1-31 1 5 1-12 1 18 1-9 1 2 1-42 1-10 1-22 1-20 1 11 1-10 1-18 1-21 1 21 1-24 1 5 1-3 1-16 1 18 1 3 1-20 1 12 1 6 1 4 1-1 1 18 1-6 1 14 1-3 1 13 1 15 1 24 1 7 1 19 1-32 1 47 1-1 1-2 1 40 1-1 1 0 1 10 1 5 1-8 1-23 1 4 1 5 1-4 1 14 1-36 1-4 1 9 1-25 1-6 1-6 1-5 1-15 1-7 1-27 1-9 1-8 1-2 1-5 1-36 1 43 1-41 1 8 1 2 1 8 1-2 1 15 1 7 1-10 1 26 1-23 1 5 1 65 1-13 1-12 1 12 1 12 1 6 1 7 1 8 1-2 1 30 1-3 1 37 1-13 1 18 1-30 1-10 1 22 1 21 1-17 1-6 1-7 1-17 1-6 1 35 1-58 1 13 1-10 1-34 1 9 1 3 1-11 1-27 1-19 1-16 1 12 1-3 1-31 1 21 1-26 1 13 1 0 1 6 1-4 1 13 1 8 1 0 1 13 1-3 1 12 1 14 1 9 1 11 1-13 1 32 1 17 1 7 1-2 1 19 1 7 1 9 1 0 1 2 1 3 1 27 1-6 1 18 1-44 1-7 1-8 1 8 1-19 1 6 1-8 1 8 1-19 1-13 1-29 1-20 1 15 1-20 1-9 1 4 1 4 1-19 1 2 1-18 1-6 1-1 1-1 1-8 1 20 1-19 1 36 1-15 1 3 1 22 1 19 1-18 1 26 1-7 1 11 1 20 1 11 1-2 1 17 1 25 1-5 1 2 1 11 1 5 1 7 1 2 1 11 1 5 1-33 1 18 1-15 1 15 1-27 1 4 1-55 1 39 1-11 1-33 1-13 1 28 1-39 1-18 1 16 1-32 1 6 1-1 1-14 1-4 1 8 1-46 1 32 1 4 1-18 1 15 1-13 1 26 1-1 1 11 1 8 1 14 1 9 1-11 1 39 1 9 1 9 1-1 1 11 1 3 1 36 1-12 1 11 1 6 1-2 1 28 1-26 1 1 1 17 1-20 1-24 1 17 1-19 1 2 1-1 1-9 1-16 1-31 1-5 1 7 1-31 1 4 1-3 1-23 1 8 1 1 1-40 1 33 1-32 1 22 1-18 1 2 1 5 1 25 1-20 1 5 1 17 1-2 1-3 1 30 1-2 1 28 1-8 1 8 1-12 1 29 1 16 1-3 1 37 1-18 1 25 1 6 1-18 1 13 1-13 1 32 1-23 1 6 1-8 1 14 1-42 1 1 1 5 1-5 1-16 1-38 1 7 1-8 1-20 1-5 1-12 1-15 1-3 1-13 1 19 1-19 1 2 1-8 1 2 1 8 1-1 1-11 1 23 1 15 1-15 1 4 1 24 1 5 1 22 1 3 1-5 1 15 1 18 1 15 1 26 1-15 1 6 1-1 1-6 1 24 1-5 1 27 1-28 1 2 1-9 1 4 1-2 1-19 1 17 1-24 1-15 1 13 1-6 1-30 1-7 1-17 1-10 1 7 1-23 1-17 1 10 1-7 1 5 1-27 1-16 1 39 1-25 1 0 1 21 1 2 1 14 1 4 1-3 1 3 1 16 1 1 1 18 1 28 1-21 1 14 1 33 1-20 1 24 1 12 1-14 1 58 1-6 1-24 1 13 1 9 1-30 1 10 1 17 1-13 1-24 1-18 1 36 1-36 1-2 1 6 1-30 1 7 1-24 1-36 1 3 1-12 1-7 1-4 1-14 1 20 1-14 1-17 1 17 1-3 1-18 1-1 1 30 1 8 1-10 1 11 1 20 1-6 1 11 1 16 1-23 1 29 1 18 1 7 1-13 1 31 1 30 1-5 1 9 1 13 1-7 1 3 1 4 1 4 1-17 1 25 1-34 1 4 1-11 1 24 1-58 1 31 1-20 1-29 1 4 1-13 1 11 1-31 1-17 1-15 1 4 1-13 1-8 1 9 1-2 1-34 1 34 1-24 1 17 1-13 1 31 1-7 1 10 1 15 1 3 1 23 1 3 1 14 1-3 1 21 1 26 1-3 1 6 1 18 1-19 1 17 1-1 1 23 1-2 1-16 1 28 1-23 1-1 1 3 1-14 1 7 1-24 1 9 1-10 1-42 1 15 1 6 1-48 1 10 1 23 1-51 1-20 1-1 1-23 1 17 1-13 1 16 1-15 1-16 1 13 1 8 1 30 1-14 1 18 1-17 1 27 1-4 1 27 1-25 1 48 1-5 1-19 1 39 1 23 1-9 1 3 1 9 1 40 1-22 1 32 1-47 1 23 1 5 1-16 1-1 1 14 1-40 1 15 1 10 1-47 1-12 1-7 1-2 1 6 1-32 1-22 1 3 1-19 1 20 1-29 1-5 1 24 1-2 1-13 1-11 1-4 1 10 1 2 1 5 1 3 1 2 1 9 1 16 1 6 1 18 1-4 1 27 1-16 1 31 1 7 1 22 1 3 1 2 1 8 1 13 1 11 1-12 1 0 1-5 1-10 1 16 1 16 1-28 1 14 1-15 1-37 1-4 1 5 1-11 1-17 1 9 1-38 1 0 1-36 1 26 1-33 1 14 1-27 1 20 1-24 1 13 1 4 1-7 1-5 1 5 1-9 1 16 1 50 1-19 1 29 1-9 1-2 1 35 1 8 1-5 1 16 1-13 1 24 1 6 1-8 1 33 1-1 1 16 1-14 1-9 1-5 1 15 1 4 1-4 1 1 1-26 1-23 1 36 1-12 1-55 1 26 1-34 1 9 1-36 1-10 1-1 1-17 1 2 1-12 1-20 1 5 1 19 1 1 1-6 1 2 1 0 1 13 1-9 1 15 1 4 1 14 1 2 1 33 1-23 1 26 1 9 1 9 1 4 1 13 1 15 1 12 1 25 1-18 1 10 1 3 1-33 1 52 1-26 1-17 1-2 1-10 1 24 1-12 1-29 1 1 1-34 1 7 1-11 1-13 1-2 1-15 1 0 1-16 1-2 1-15 1 15 1-3 1-26 1 2 1 15 1-7 1 13 1-33 1 50 1-33 1 40 1-6 1 18 1 12 1-6 1 12 1 25 1 18 1-27 1 18 1 24 1 13 1-1 1 8 1-10 1 29 1-11 1 9 1-27 1-10 1 19 1-14 1-18 1 12 1-1 1-34 1-4 1-2 1-31 1 4 1 14 1-36 1-4 1-32 1 15 1-4 1-13 1-1 1 18 1-20 1 6 1-19 1-9 1 48 1 4 1 6 1 6 1 10 1 1 1-3 1 40 1 14 1 14 1-25 1 7 1 44 1 10 1-14 1-5 1 6 1 13 1-3 1 5 1 10 1-32 1 19 1 9 1-14 1 6 1-28 1-22 1 19 1-40 1-23 1 10 1 9 1-15 1-16 1 2 1-8 1-20 1-7 1-14 1 18 1-40 1 10 1 3 1 21 1-26 1 31 1-20 1 17 1 32 1 4 1-18 1 21 1 25 1 6 1 11 1 22 1 3 1 15 1 5 1-3 1 23 1-16 1 11 1-6 1-1 1-6 1 5 1-5 1 6 1-16 1 10 1-17 1-21 1-1 1-16 1 7 1-40 1 13 1-22 1-5 1-21 1 8 1 1 1 5 1-24 1 8 1-22 1-12 1 47 1-9 1-15 1-6 1 19 1 7 1 7 1 9 1-3 1 23 1 34 1 1 1 3 1 22 1 3 1 12 1 10 1-11 1 19 1 13 1-2 1-8 1-26 1 21 1-18 1 7 1 26 1-38 1 7 1-3 1-13 1-46 1 31 1-23 1-32 1-5 1 19 1-29 1-3 1-11 1-18 1 11 1-7 1-24 1 40 1-17 1-8 1 24 1-2 1 15 1-11 1 18 1-8 1 8 1 22 1 16 1 3 1 13 1 26 1-18 1 19 1 2 1 33 1-21 1-11 1 21 1 28 1-19 1 0 1-6 1 1 1-14 1 5 1-16 1 2 1-19 1-22 1 8 1-25 1 8 1-17 1-12 1-27 1 16 1-33 1 27 1-22 1-17 1 0 1 20 1 3 1-24 1 30 1-18 1 20 1 1 1-21 1 19 1 18 1 38 1-10 1 14 1 13 1-7 1 47 1-16 1 11 1 18 1-24 1 42 1-13 1 1 1 29 1-11 1-8 1-25 1-8 1-2 1-3 1 21 1-39 1-1 1-32 1-13 1-22 1 8 1-11 1 13 1-23 1 9 1-33 1 20 1-16 1 4 1-5 1-11 1 14 1-6 1 19 1-23 1 32 1-12 1-5 1 67 1-8 1 1 1-6 1 31 1 0 1 24 1-7 1 30 1-18 1 54 1-9 1-42 1 22 1 14 1-40 1 12 1-5 1 14 1-20 1-6 1 18 1-37 1-1 1-29 1-11 1 14 1-11 1-21 1-15 1 4 1-11 1-16 1-3 1-13 1 9 1 12 1 12 1-31 1 18 1 5 1 5 1 24 1-7 1 37 1-17 1 16 1-23 1 28 1 19 1 6 1 3 1 27 1 2 1 9 1-30 1 35 1 29 1-33 1-22 1 43 1-58 1 40 1-19 1 13 1-12 1 3 1-11 1 3 1-52 1 18 1-30 1-10 1 2 1-18 1-7 1-3 1-13 1-5 1 10 1 1 1-7 1-11 1-14 1 3 1 20 1-2 1 18 1-4 1 22 1 7 1 19 1 7 1-13 1 50 1-5 1 17 1-11 1-2 1 33 1 37 1-39 1 3 1 31 1-19 1-4 1 25 1-42 1-3 1-5 1 8 1-13 1-11 1-25 1 8 1-42 1 3 1 22 1-59 1 10 1 1 1-15 1 18 1-30 1 30 1-20 1-30 1 3 1 23 1 12 1-18 1 19 1 5 1 3 1 32 1-14 1 48 1-35 1 50 1-2 1 11 1-8 1 8 1 12 1 4 1 6 1 11 1 25 1 6 1-1 1-32 1-1 1-7 1-11 1-2 1 1 1-3 1-5 1-51 1-7 1 18 1-24 1-19 1-25 1 20 1-18 1-19 1 32 1-17 1-11 1 8 1-36 1 18 1 13 1 19 1-16 1 10 1 23 1 9 1 23 1-7 1-1 1 9 1 16 1 7 1 28 1 7 1-13 1 16 1 22 1-13 1-1 1 2 1 7 1 6 1-15 1-21 1 13 1 3 1-21 1 11 1-29 1-4 1-27 1 0 1-22 1-27 1 23 1-2 1-24 1 0 1-9 1 6 1-18 1 5 1 29 1-23 1-4 1-6 1 29 1 10 1-17 1 32 1 1 1 6 1 7 1 20 1 25 1-16 1 28 1 10 1-24 1 21 1 31 1-3 1 0 1 7 1 15 1-36 1-3 1 2 1 2 1-15 1-13 1 12 1-19 1-8 1-27 1-5 1 9 1-19 1-40 1 26 1-23 1 3 1-30 1 13 1 1 1 8 1-11 1-12 1 5 1 30 1-31 1 30 1 19 1-6 1 19 1 10 1 12 1 4 1 16 1 26 1-19 1 23 1-14 1 15 1 5 1 10 1-11 1 22 1 8 1-18 1 35 1-34 1-13 1 0 1-29 1-2 1-3 1-4 1-30 1 12 1-14 1-25 1-8 1-27 1 20 1 14 1-38 1-12 1 15 1-23 1-3 1 33 1 1 1 14 1-16 1 5 1 10 1 32 1 4 1 19 1 13 1 8 1 13 1-7 1 2 1 7 1 16 1 15 1-2 1-3 1 13 1-3 1 4 1 1 1-10 1 9 1-33 1 26 1-34 1 13 1-46 1-2 1 10 1-16 1-2 1-24 1-15 1-36 1 41 1-39 1 17 1-15 1-10 1 3 1 2 1 10 1 1 1 3 1-7 1 41 1-3 1 19 1 6 1 9 1-13 1-3 1 21 1 42 1-6 1 24 1-12 1-4 1 14 1 0 1 16 1 23 1 0 1-26 1-12 1-14 1 13 1-13 1-11 1-19 1 4 1 2 1-38 1-3 1-10 1 10 1-25 1 13 1-4 1-29 1-2 1-16 1-13 1 18 1-22 1 32 1-13 1 31 1-10 1 13 1 8 1 0 1 41 1-14 1 22 1-1 1 7 1 20 1 9 1 18 1-14 1 22 1-9 1 26 1-33 1 30 1-29 1 17 1-16 1 2 1-17 1 0 1-25 1-2 1-11 1-23 1 19 1-36 1 5 1 9 1-33 1 0 1-30 1 21 1-11 1-5 1 25 1-30 1 21 1-27 1 2 1 27 1 27 1-13 1 9 1 3 1 24 1 22 1-2 1 20 1-23 1 40 1 9 1 0 1 21 1-4 1 0 1 6 1-2 1-19 1 8 1 18 1-17 1-21 1 10 1-18 1-9 1-17 1-2 1-11 1-2 1-26 1 6 1-43 1 14 1-5 1-19 1 6 1-5 1 0 1 8 1 4 1 0 1-19 1 28 1 4 1 9 1-5 1-6 1 46 1-7 1 16 1 16 1 0 1 33 1-18 1 16 1 22 1-26 1 13 1-1 1 34 1-15 1 1 1-18 1-14 1 35 1-32 1-7 1-23 1 3 1 4 1-24 1 0 1-14 1-21 1-3 1-18 1 15 1-55 1 9 1 3 1 23 1 10 1-15 1-6 1-26 1 17 1 30 1-14 1 9 1 25 1-5 1 22 1 23 1 17 1-2 1-4 1 38 1 12 1-20 1 47 1-53 1 32 1-14 1-14 1 40 1-9 1-46 1 26 1-10 1-12 1-20 1-14 1 5 1-5 1-15 1-15 1-23 1 5 1-30 1 26 1-24 1-20 1 2 1 10 1 14 1-1 1-4 1-2 1 12 1 22 1-1 1-6 1 5 1 39 1-2 1 27 1-3 1-41 1 53 1 15 1 11 1 15 1 14 1-18 1 5 1-20 1 38 1-27 1-15 1 36 1-38 1 20 1-35 1-21 1 8 1-14 1 1 1-23 1-21 1 6 1-10 1-15 1-13 1 24 1-26 1 5 1-16 1-7 1 10 1-10 1 33 1-2 1 15 1-5 1 8 1 14 1 23 1-3 1 15 1-2 1 21 1-8 1 21 1 34 1-14 1 21 1-26 1-3 1 19 1-6 1 22 1 6 1-26 1-11 1 8 1-28 1-13 1-14 1-22 1-2 1 4 1-17 1-16 1 11 1-38 1-2 1 8 1 1 1-59 1 35 1-1 1-9 1 13 1 14 1 0 1 28 1-12 1 37 1-14 1 9 1 37 1-32 1 49 1-18 1 30 1-2 1 20 1-33 1 23 1-6 1 15 1 2 1 6 1 2 1-15 1 0 1-3 1 7 1-22 1-21 1 3 1-21 1-5 1 0 1-12 1-12 1-14 1-9 1-24 1 22 1 8 1-37 1 13 1-3 1-32 1 18 1 16 1 2 1 18 1-1 1 29 1 11 1 8 1-15 1 11 1 38 1-12 1 26 1-7 1 24 1-10 1 18 1 5 1-2 1-2 1 7 1 7 1-43 1 20 1 10 1-3 1-3 1-37 1-36 1 27 1-28 1 9 1-47 1 0 1-8 1-21 1-10 1 3 1 17 1 8 1-4 1 10 1-41 1 29 1 2 1 7 1-15 1 42 1-12 1 22 1 16 1 33 1-25 1 32 1 6 1 0 1 9 1-6 1 27 1-7 1 1 1 4 1-10 1 9 1-23 1 19 1 2 1-26 1-24 1 11 1-9 1-15 1-17 1-6 1-17 1 16 1-49 1 3 1 12 1-34 1 8 1-15 1 33 1-35 1 23 1 30 1-29 1 20 1 17 1-1 1 31 1-21 1 21 1 11 1-10 1 28 1 18 1 13 1-3 1-7 1 26 1 9 1-22 1 12 1 0 1-29 1 38 1-23 1 18 1-27 1-20 1-17 1 20 1-37 1-10 1 0 1-43 1 21 1 2 1-24 1 22 1-49 1 3 1 15 1-14 1 2 1-15 1 36 1 13 1 16 1-13 1 24 1-7 1 3 1 21 1 17 1-16 1 28 1 5 1 0 1 36 1 3 1-38 1 38 1 14 1-9 1 3 1 6 1-14 1-10 1-7 1-15 1 20 1-13 1-39 1 5 1-32 1 1 1 11 1-35 1 11 1-24 1-20 1-16 1 23 1-12 1 4 1-6 1 44 1-23 1-3 1 4 1 23 1-11 1 7 1 23 1 14 1 13 1 5 1-3 1 6 1 34 1 14 1 5 1-17 1 14 1 1 1-1 1 1 1 4 1 7 1-10 1-16 1-11 1 0 1-9 1-33 1 12 1-19 1-4 1-4 1-1 1-22 1-4 1-28 1 19 1-13 1-16 1 9 1-7 1-2 1 35 1-10 1 14 1-21 1 27 1 3 1-5 1 36 1 6 1 7 1 18 1-9 1 15 1 5 1 19 1 10 1 4 1 3 1 16 1-25 1-9 1 7 1 0 1-14 1-10 1-10 1-29 1 23 1-26 1-15 1-3 1-7 1 0 1-14 1-24 1-16 1 21 1-17 1-3 1-7 1 11 1 0 1-1 1 31 1-8 1 31 1 12 1-4 1 19 1-14 1 4 1 27 1 8 1 11 1 9 1 3 1 4 1 15 1 7 1-1 1-16 1 13 1-26 1 17 1-26 1 24 1-15 1-23 1-11 1-2 1-38 1 13 1-13 1 0 1-37 1 2 1-2 1 19 1-29 1 7 1-13 1-6 1 22 1-8 1-3 1 15 1 13 1 18 1 5 1 17 1-17 1 22 1 27 1-4 1 26 1 33 1-47 1 8 1 38 1-5 1-8 1 8 1 6 1-7 1-7 1-1 1-16 1-3 1-2 1-19 1 10 1-49 1 28 1-31 1-16 1-10 1-7 1-21 1 23 1-19 1-6 1 5 1 1 1-22 1 27 1 1 1 3 1 6 1 4 1 13 1 3 1 14 1 6 1 0 1 38 1-20 1 35 1-5 1 14 1 12 1 26 1-40 1 30 1 1 1-24 1 9 1-27 1-3 1 4 1-3 1-15 1 15 1-29 1-10 1-4 1-19 1 11 1-39 1-13 1 24 1-23 1-22 1 11 1 16 1 0 1-20 1-9 1 41 1-7 1 17 1 3 1 3 1 14 1 19 1-23 1 38 1 11 1-6 1 23 1 10 1-7 1 30 1-18 1-1 1 5 1 10 1-5 1 16 1-24 1-12 1-16 1 0 1-4 1-5 1-20 1-13 1-24 1 4 1-3 1-13 1-4 1-9 1 19 1-11 1-6 1-20 1 8 1 0 1-7 1 33 1-19 1 17 1 23 1-16 1 46 1 7 1 0 1 3 1 17 1 33 1-14 1 4 1-26 1 19 1 18 1 15 1-18 1 16 1-20 1-8 1 3 1-16 1-2 1-7 1-36 1 1 1 0 1-5 1-22 1-15 1-12 1-15 1 6 1 14 1-42 1 9 1 3 1-4 1 37 1-9 1 8 1-13 1 37 1-1 1-12 1 21 1 23 1-16 1 49 1-11 1 17 1 0 1 16 1 13 1-9 1 22 1-22 1 10 1-17 1 13 1-3 1-20 1-18 1 31 1-36 1-17 1 14 1-17 1-29 1 7 1-12 1-37 1 24 1-7 1 12 1-18 1 0 1-36 1 8 1 32 1-34 1 21 1 19 1-4 1 15 1 24 1 22 1 1 1 0 1 15 1 14 1-11 1 33 1-17 1 23 1-3 1 17 1-12 1 8 1 10 1-25 1-5 1-18 1-1 1 6 1-14 1 12 1-27 1-40 1-14 1-1 1-4 1-12 1-7 1 21 1-15 1-28 1-2 1 11 1 9 1 4 1 7 1 10 1 20 1-16 1 17 1 7 1-12 1 24 1 26 1-5 1 35 1-21 1 17 1 13 1-4 1-7 1 25 1 7 1-38 1 23 1-23 1 21 1-20 1 4 1-25 1 1 1-6 1-37 1 3 1 18 1-31 1-1 1-5 1-15 1-7 1-11 1 7 1 12 1-16 1-15 1 31 1-19 1 9 1 19 1 0 1 22 1 7 1 18 1-7 1 0 1 35 1-13 1 49 1-8 1 8 1-28 1 31 1-14 1 34 1-28 1-9 1 3 1 26 1-42 1-17 1-16 1 1 1 15 1-29 1-24 1 10 1-27 1 4 1-15 1-15 1 13 1-48 1 31 1-3 1 15 1-7 1 8 1 20 1 8 1-13 1 14 1 41 1 4 1-11 1 8 1 2 1 33 1-13 1 19 1 10 1 1 1-10 1 8 1-3 1 19 1-7 1 6 1-13 1-8 1-8 1-23 1-7 1-14 1-3 1-23 1 1 1-20 1-4 1-12 1 3 1 8 1-2 1-45 1 18 1 0 1 9 1 7 1-35 1 55 1-5 1 9 1 23 1 12 1 4 1 6 1 13 1-6 1 34 1-10 1-6 1 14 1 30 1 25 1-45 1 5 1 11 1-26 1 16 1-13 1 7 1-26 1 0 1-10 1-30 1 0 1 10 1-37 1-12 1 12 1-14 1-12 1-1 1-8 1-9 1 14 1-30 1 37 1 3 1-25 1 3 1 37 1 12 1 21 1-16 1 22 1 24 1-5 1-2 1 17 1-10 1 19 1 15 1 9 1-5 1-7 1 3 1-5 1 5 1-12 1-13 1 9 1 4 1-47 1 3 1 2 1-19 1-5 1 8 1-28 1 7 1-27 1-1 1-20 1 13 1-6 1 9 1 3 1 17 1-23 1 17 1 18 1-1 1 18 1 14 1-1 1-1 1 29 1 24 1 0 1-22 1 39 1-19 1 22 1-9 1 11 1 17 1-17 1-35 1 22 1-16 1 3 1-12 1-15 1-13 1-32 1 16 1-8 1-4 1-2 1-4 1-35 1 25 1-44 1 4 1 13 1 11 1-12 1 4 1-7 1 29 1 4 1 6 1 12 1 15 1 24 1 10 1-1 1 5 1-6 1-8 1 15 1 22 1-14 1 27 1 6 1-36 1 39 1-12 1-8 1-28 1 17 1-26 1 5 1-1 1-29 1-10 1 6 1-14 1-10 1-30 1-1 1-3 1-7 1 9 1-12 1 14 1 11 1-3 1-6 1 9 1-4 1 43 1-8 1 3 1 27 1-4 1 19 1 19 1-18 1 39 1-23 1 23 1 11 1 2 1-1 1 0 1-16 1 22 1-44 1-2 1-15 1 20 1 6 1-31 1-17 1-16 1-1 1-15 1-12 1 12 1-48 1 31 1-21 1-13 1 22 1-8 1-18 1 28 1-10 1 16 1 9 1 4 1 21 1 11 1-4 1 20 1 7 1 31 1-6 1-6 1 10 1 13 1 14 1 3 1-12 1-13 1 14 1-20 1 14 1-26 1 18 1-24 1 5 1-31 1-10 1 8 1-13 1-14 1 4 1-15 1-7 1-26 1-11 1 21 1-3 1-4 1 12 1 2 1-8 1 15 1 13 1 15 1-15 1 37 1 2 1 24 1 5 1 2 1 15 1-4 1 12 1 23 1 15 1-39 1 19 1-27 1 15 1 4 1-22 1 2 1-12 1 2 1-30 1-16 1 9 1-39 1 18 1-19 1 14 1-4 1-55 1 3 1 1 1 33 1-23 1-1 1 8 1 3 1 21 1-1 1 21 1 0 1 2 1 25 1 5 1 12 1 5 1-2 1 17 1 5 1 29 1-9 1-12 1 22 1-6 1 4 1-32 1 16 1-4 1-24 1-15 1-3 1-17 1-1 1-7 1-6 1-10 1-8 1-20 1-1 1-8 1-10 1 6 1 15 1-6 1 7 1 14 1-19 1 24 1 9 1 7 1-13 1 25 1-5 1 24 1 14 1-2 1 8 1 14 1 21 1-2 1 12 1-9 1-4 1-19 1-2 1 4 1-10 1 1 1-40 1 6 1-24 1 17 1-11 1-19 1 0 1-11 1 8 1-32 1 4 1-13 1 10 1 17 1-27 1-6 1 34 1 1 1-1 1 7 1 27 1-32 1 19 1 31 1 26 1-16 1-10 1 23 1 5 1 32 1-8 1 25 1-40 1 18 1 32 1-6 1-33 1-2 1-1 1-20 1-27 1 10 1 16 1-31 1 4 1-17 1-24 1-3 1 3 1-19 1 5 1-20 1 7 1-8 1 10 1-9 1 16 1 4 1 15 1 0 1 33 1-44 1 52 1 1 1 18 1 10 1-1 1 20 1 6 1 18 1-1 1 6 1-35 1 37 1-5 1-19 1-21 1 31 1-10 1-29 1-13 1 11 1-6 1-21 1-32 1 0 1-19 1 3 1-8 1-13 1 5 1-7 1 14 1-3 1-10 1 13 1 12 1-9 1 10 1 16 1 20 1-10 1-9 1 52 1 19 1 0 1 11 1 11 1 6 1-20 1 3 1-7 1 9 1 13 1-23 1 16 1-10 1 2 1-39 1-7 1 8 1-13 1-15 1-13 1-17 1 0 1-13 1 17 1-21 1 15 1-46 1 4 1 9 1-2 1-6 1 19 1 38 1-8 1 35 1-8 1 16 1-5 1 6 1 27 1 2 1 2 1 13 1 6 1 32 1-21 1-13 1 6 1 19 1-18 1-12 1 9 1-29 1 9 1-15 1-13 1-40 1 21 1-8 1-26 1 5 1-16 1 23 1-37 1 0 1 13 1-32 1 20 1 3 1 18 1 10 1-6 1 20 1-15 1 6 1 29 1 23 1-4 1 18 1-5 1 8 1 15 1 0 1-7 1-5 1 29 1-16 1 10 1 6 1-34 1 4 1-5 1-12 1-3 1 0 1-45 1 0 1-3 1-19 1-13 1 10 1-16 1 6 1-16 1 9 1-33 1 35 1-7 1 5 1 16 1-8 1 21 1 14 1 5 1 20 1-13 1 18 1 6 1 38 1-12 1 20 1-4 1-10 1 15 1 6 1-16 1-1 1-15 1 40 1-34 1 1 1-4 1-22 1 5 1 2 1-27 1-18 1-36 1 23 1-2 1 3 1-25 1-5 1-6 1 19 1-6 1 22 1-25 1 28 1 22 1-38 1 18 1 12 1 11 1 27 1-15 1 36 1-27 1 29 1 32 1-27 1-10 1 30 1-16 1 14 1 2 1 20 1-53 1 13 1-19 1 9 1-13 1-35 1 7 1-10 1 0 1-28 1-15 1 8 1-10 1 9 1-35 1 23 1-5 1-20 1 28 1 22 1-1 1 2 1-17 1 29 1 16 1-2 1 5 1 35 1-17 1 16 1 13 1 41 1-27 1-11 1 22 1-32 1 25 1 10 1-25 1-3 1-15 1 4 1-28 1 12 1-19 1 6 1-16 1-22 1 1 1-10 1-10 1-11 1-10 1-2 1-4 1 12 1 12 1 18 1-9 1 13 1 22 1-33 1 53 1-16 1 8 1 21 1-25 1 41 1 18 1-24 1 37 1 12 1-3 1-4 1-9 1-7 1 19 1-29 1-31 1 28 1-17 1-21 1-17 1 13 1-7 1-10 1-35 1-7 1 31 1-6 1-16 1 1 1-25 1 3 1-19 1 19 1 14 1-6 1 34 1 15 1-7 1-1 1 43 1-21 1 11 1 27 1 0 1 13 1 2 1-4 1 23 1-22 1 2 1-3 1 32 1-7 1-38 1 7 1-8 1-9 1-3 1-24 1-5 1-12 1-23 1 11 1-36 1 35 1-64 1 45 1-26 1-4 1 13 1-5 1 16 1 27 1-18 1-1 1 31 1 25 1-3 1-1 1 11 1 0 1 16 1 8 1 38 1-47 1 30 1-8 1 15 1-4 1-6 1-24 1-6 1 3 1-26 1 20 1-22 1 2 1-33 1 5 1-21 1-19 1 39 1-59 1 17 1 5 1 18 1-21 1 27 1-27 1 8 1-18 1 34 1-8 1 8 1-1 1 40 1-2 1 39 1 5 1-1 1 5 1 22 1-5 1-10 1 17 1-3 1 7 1-31 1-10 1 13 1-3 1-31 1 5 1 4 1-2 1-21 1-45 1 25 1-53 1 28 1-5 1-25 1 16 1-10 1 17 1 4 1-3 1-7 1 17 1 24 1-22 1 18 1 12 1 14 1 32 1-38 1 36 1-3 1-3 1 11 1 17 1 6 1-1 1-7 1 3 1 10 1-16 1-6 1-11 1-3 1-24 1 4 1-19 1 0 1-3 1-6 1-19 1-17 1-16 1 11 1 2 1-3 1-23 1 16 1 11 1-11 1 32 1-10 1 11 1 10 1 24 1-17 1 3 1 48 1-8 1 3 1-12 1 40 1 12 1-7 1-23 1 24 1-3 1-22 1 44 1-6 1-46 1-7 1 17 1-34 1-5 1-13 1 2 1-14 1-4 1-20 1-4 1-29 1 9 1 26 1-26 1-11 1 18 1-6 1 21 1-2 1 30 1-12 1 37 1-22 1 46 1 18 1-23 1 18 1 4 1 3 1 11 1 15 1-12 1-1 1-4 1-22 1 29 1-16 1-14 1 3 1 0 1-18 1-32 1 6 1-21 1 7 1-24 1 6 1-5 1-17 1-3 1-20 1 39 1-25 1-10 1 8 1 29 1 11 1 7 1 0 1 12 1 9 1 7 1 32 1 10 1 11 1 9 1-9 1 0 1-25 1 27 1 6 1-19 1 23 1-19 1-14 1-6 1-5 1 0 1 0 1-24 1-5 1-27 1 1 1-18 1 20 1-39 1 18 1 6 1-4 1-9 1-20 1 10 1 29 1-9 1 11 1 27 1 3 1 24 1-4 1 33 1-13 1 12 1 7 1 8 1-19 1 23 1-4 1-6 1-2 1 0 1 11 1 1 1-11 1-13 1-15 1-9 1-26 1 5 1-35 1-1 1 10 1-25 1 39 1-59 1 8 1-2 1 25 1-51 1 37 1 3 1-9 1 24 1 17 1-9 1 31 1-11 1 18 1-2 1 40 1-22 1 20 1-14 1 39 1-28 1 17 1-1 1 17 1-19 1-7 1 13 1-4 1-14 1-38 1 6 1-21 1-2 1-9 1-11 1-1 1-28 1 6 1-6 1 17 1-23 1 13 1 0 1-16 1 32 1-4 1-2 1 2 1 31 1 1 1 11 1 28 1 23 1 7 1-22 1 13 1 25 1-5 1 0 1 1 1-5 1-30 1 33 1-17 1 4 1-11 1-6 1-18 1-7 1-22 1-9 1 3 1-44 1 30 1-26 1-29 1 32 1-28 1-1 1 14 1 31 1-37 1 23 1 16 1-14 1 35 1-12 1 31 1-3 1 31 1 1 1 16 1 6 1-5 1 10 1-1 1-12 1 18 1 20 1-24 1-9 1-19 1-8 1-8 1 4 1-21 1 15 1-45 1 0 1-10 1 2 1-13 1 3 1-21 1 21 1-30 1 6 1-16 1 30 1 7 1 3 1 11 1 11 1 23 1 10 1 5 1 7 1 21 1 9 1-2 1-6 1 18 1-7 1-1 1 3 1 13 1-3 1 13 1-21 1-22 1 11 1-41 1-11 1 11 1-27 1 19 1-14 1-18 1-13 1-4 1 3 1-38 1 19 1 0 1-3 1 10 1 11 1 11 1 22 1-30 1 40 1 20 1 0 1 21 1-34 1 29 1-4 1 7 1 17 1 4 1 19 1-7 1 6 1-11 1 5 1-31 1-1 1 2 1 10 1-40 1-13 1 1 1 4 1-31 1-17 1 28 1-37 1 24 1-27 1-23 1 21 1-3 1 13 1 2 1-23 1 21 1 29 1 11 1 6 1-16 1 35 1-1 1 29 1 20 1-25 1 23 1 14 1 2 1 0 1-1 1 9 1-39 1 4 1-14 1 7 1-18 1-8 1-23 1-7 1-5 1 3 1-3 1-13 1-9 1-7 1 5 1-38 1 18 1 30 1-8 1 8 1-13 1-2 1 35 1-10 1 21 1-6 1 8 1 23 1 5 1 18 1 12 1 16 1-14 1 8 1 5 1-5 1-1 1 6 1-12 1-29 1 9 1-30 1 21 1-8 1-29 1-19 1 8 1-26 1-12 1-8 1 9 1-4 1 18 1-21 1-2 1-10 1 39 1 1 1 10 1-14 1 52 1-7 1-28 1 28 1 35 1-6 1-2 1 11 1 15 1 12 1-17 1 11 1-11 1 2 1 6 1-30 1 17 1-21 1 4 1-16 1-10 1-6 1-22 1-23 1-16 1-3 1 13 1-25 1 10 1-19 1 38 1-32 1 30 1-16 1 27 1-9 1 24 1 30 1-1 1 2 1 8 1 38 1-3 1 3 1 0 1 1 1 17 1 11 1-22 1 6 1-18 1 13 1-21 1 11 1-24 1-7 1-15 1 6 1-21 1-1 1-19 1-18 1-37 1 30 1-13 1 4 1-14 1 9 1-4 1 12 1-19 1 20 1 46 1-14 1 13 1 38 1-5 1 6 1 13 1-1 1 32 1-25 1 5 1 9 1 10 1-4 1 4 1-23 1 2 1-25 1 21 1-32 1 15 1-16 1 0 1-30 1-3 1-18 1-20 1 12 1-11 1-11 1 10 1 5 1-10 1 1 1 2 1 6 1 26 1-5 1 1 1 31 1 1 1 23 1 0 1-9 1 28 1 22 1-10 1 6 1-8 1 32 1-6 1-13 1 14 1-39 1 31 1-23 1-2 1-21 1-28 1-9 1-14 1-6 1 23 1-37 1 19 1-21 1-5 1 0 1-12 1 18 1-28 1 20 1 0 1 13 1 8 1 22 1-14 1 48 1-8 1 16 1 12 1 2 1 20 1-14 1 5 1 10 1-7 1 20 1 6 1-20 1-11 1-41 1 24 1-26 1-8 1-27 1 14 1-17 1 1 1-1 1-6 1-8 1-32 1 12 1 4 1-1 1 11 1-2 1 6 1 0 1 5 1 41 1-12 1-3 1 40 1 1 1 5 1-3 1 14 1 17 1-4 1-4 1 9 1-19 1 15 1 14 1-9 1-16 1-8 1-19 1-8 1-27 1 0 1-19 1 18 1-14 1-21 1 0 1-11 1 1 1 9 1-28 1 9 1 37 1-5 1-1 1 1 1 18 1 26 1-16 1 24 1-7 1 22 1 0 1 11 1 6 1 22 1-15 1 12 1 18 1-13 1-4 1-16 1-9 1 13 1-31 1-1 1 1 1-34 1 9 1-5 1-33 1-10 1 12 1-27 1-3 1 16 1-31 1 27 1 0 1 37 1-30 1 24 1-4 1 36 1-24 1 7 1 6 1 69 1-33 1 11 1 49 1-23 1-3 1-16 1 27 1-14 1 0 1-10 1 3 1-24 1-10 1 18 1-41 1 12 1-16 1-28 1 3 1-15 1-10 1-3 1 9 1 3 1-21 1 1 1 8 1 11 1-6 1 18 1 26 1-10 1 8 1 7 1 31 1 9 1-3 1 18 1 3 1-6 1 11 1-15 1 19 1-18 1 5 1-23 1 24 1-6 1-26 1 12 1-11 1-20 1-12 1 11 1-30 1-2 1-11 1-9 1 0 1-18 1 6 1 9 1 0 1-7 1 9 1 2 1 26 1 7 1-12 1 35 1-10 1 21 1 25 1 21 1-17 1 22 1 5 1 15 1-34 1 12 1-2 1-9 1-4 1-6 1-14 1-1 1 18 1-51 1-7 1-6 1-29 1 27 1 11 1-60 1 9 1 22 1-16 1-12 1 25 1-16 1-13 1 16 1 27 1 5 1 26 1-2 1 16 1 19 1 14 1-31 1 30 1 20 1-3 1-20 1-1 1 27 1-13 1-13 1 9 1 2 1-11 1-22 1-1 1-5 1-23 1-25 1-7 1 2 1-33 1 26 1-13 1 13 1-27 1 12 1 21 1-5 1-26 1 21 1 16 1 1 1 41 1 1 1 17 1 4 1 5 1-2 1 2 1 6 1-16 1 41 1-5 1-7 1 13 1-11 1-15 1 8 1-26 1-19 1 18 1 3 1-39 1 3 1-25 1-1 1-17 1-16 1 0 1 11 1 10 1 17 1-1 1-12 1-4 1 17 1 9 1 22 1 11 1 12 1-18 1 42 1-22 1 28 1-10 1 9 1-2 1-2 1 24 1 1 1-10 1-1 1-24 1 2 1-11 1-15 1 0 1-30 1 25 1-36 1-12 1 6 1-8 1-25 1 11 1 17 1-7 1-27 1 27 1-22 1 6 1 28 1 0 1 27 1 5 1 15 1-5 1 33 1-4 1 6 1 1 1 38 1 0 1-10 1-8 1-6 1-4 1-28 1 10 1-8 1 4 1-26 1-10 1-10 1-2 1-19 1-20 1 20 1 10 1-42 1-2 1 10 1 3 1-37 1 43 1 15 1-2 1-3 1 23 1 8 1 2 1 20 1 4 1 12 1 22 1-6 1 22 1-21 1 26 1-7 1 18 1-19 1 6 1-40 1 12 1-16 1 18 1-17 1-24 1 4 1-41 1 8 1-15 1-10 1-1 1-15 1 14 1-13 1-9 1 15 1 5 1 12 1 3 1 2 1 21 1 28 1-11 1 14 1 3 1 15 1-10 1 41 1 3 1-15 1 23 1-16 1 3 1 20 1-37 1-15 1 6 1 10 1-37 1 12 1-22 1-17 1 4 1 1 1-27 1-8 1 4 1-5 1-20 1 10 1 6 1 5 1-3 1 8 1 11 1 24 1-1 1 13 1 3 1-2 1 12 1 13 1 15 1 12 1-3 1 13 1 0 1 5 1-11 1-4 1-29 1 8 1 2 1-23 1 4 1-28 1-9 1-35 1 37 1-21 1-7 1-11 1-10 1 17 1-4 1-11 1-5 1 30 1 11 1-24 1 13 1 7 1 35 1 1 1 6 1 8 1 17 1 7 1-5 1 23 1 6 1 0 1 2 1-9 1 0 1-2 1-29 1 5 1-2 1-29 1 10 1-17 1-10 1-4 1-12 1-14 1 11 1-17 1-11 1-2 1 0 1-22 1 24 1 15 1 7 1 7 1 5 1 19 1-10 1 41 1-10 1 12 1 28 1-13 1 8 1 18 1-31 1 19 1 12 1-2 1-1 1-18 1-6 1 8 1-14 1-14 1-15 1-11 1-7 1-25 1-12 1 3 1 20 1-28 1-10 1 7 1-2 1 5 1 24 1 19 1-28 1 22 1 0 1 19 1 9 1-7 1 40 1-4 1 20 1-6 1 0 1 2 1 7 1 17 1-21 1-12 1-7 1-21 1 10 1 8 1-16 1-18 1-22 1 15 1-34 1-6 1 10 1-23 1 11 1-11 1 3 1-5 1 19 1-15 1 38 1-12 1 11 1-15 1 23 1 23 1 15 1 0 1 17 1-25 1 65 1-27 1 33 1-39 1 21 1-30 1 21 1-24 1 3 1-20 1 4 1 24 1-37 1-1 1-40 1-5 1-3 1-13 1-4 1 5 1-33 1 19 1 6 1 18 1-5 1-1 1 10 1 13 1 5 1 23 1-2 1 29 1 2 1 8 1-10 1 12 1 10 1 18 1-6 1-14 1-7 1 28 1-18 1-14 1-11 1-5 1-19 1 14 1-46 1 21 1-24 1-14 1-16 1-3 1-5 1-8 1 16 1-10 1-6 1 31 1 14 1 3 1-19 1 12 1 30 1 4 1 8 1 3 1 44 1-7 1 4 1-1 1 7 1 6 1-7 1 32 1-70 1 21 1-8 1 10 1-22 1-30 1-8 1 9 1 5 1-26 1-4 1-22 1 19 1-18 1-8 1 8 1-17 1 28 1 6 1-4 1-6 1 23 1 13 1-6 1 18 1 20 1 3 1 13 1-1 1 13 1 16 1 0 1 1 1-9 1-2 1 10 1-13 1-13 1-18 1 1 1-31 1 12 1-19 1 1 1-2 1-22 1-12 1-4 1-3 1 3 1 5 1-5 1-6 1-1 1 57 1-38 1 4 1 8 1 21 1 7 1 24 1 6 1 3 1 27 1 3 1-6 1 22 1-15 1 18 1-22 1-3 1 1 1-3 1-13 1 10 1-32 1-17 1-24 1 10 1-14 1-27 1-12 1 20 1-22 1-4 1 8 1 19 1 3 1-13 1-14 1 38 1-11 1 7 1 47 1 3 1-14 1 17 1 14 1 15 1-1 1 20 1-34 1 44 1 7 1-26 1-19 1 16 1-13 1 2 1-21 1 1 1-12 1-5 1-21 1-38 1 14 1-10 1-30 1 30 1 3 1-18 1 22 1-14 1-4 1 34 1 2 1-17 1 43 1 7 1 0 1 17 1 16 1-20 1 34 1-5 1 13 1 1 1 14 1-29 1 13 1-25 1 21 1-16 1-20 1-6 1-2 1-17 1 3 1-26 1 22 1-41 1-21 1 1 1-3 1 14 1-10 1 13 1 1 1 6 1 46 1-41 1 16 1 6 1 32 1-9 1 13 1 42 1 3 1-15 1 14 1-3 1 9 1-26 1 38 1-10 1-10 1-3 1-18 1-16 1 4 1-30 1-23 1-8 1-20 1 1 1 6 1-27 1 8 1-16 1 24 1 24 1-7 1-11 1 3 1 17 1-5 1 36 1 6 1-9 1 21 1 10 1-6 1 11 1 29 1-7 1 25 1-19 1-6 1 22 1-43 1-12 1 10 1-15 1-17 1 9 1-25 1-3 1 12 1-16 1-13 1-26 1 6 1-13 1 15 1 10 1-36 1-4 1 34 1 15 1-8 1 37 1 0 1 26 1-12 1 13 1 17 1 12 1 17 1-2 1-21 1 21 1-19 1 23 1-14 1-1 1-10 1-21 1 24 1-44 1-10 1-3 1-11 1-6 1-20 1 0 1 5 1-16 1-12 1 7 1 5 1 2 1 14 1 6 1 26 1-11 1-3 1 27 1 17 1-11 1 19 1 9 1 4 1 4 1 13 1 12 1-30 1 19 1 6 1-16 1-19 1 22 1-41 1 7 1-36 1 5 1-2 1-26 1-10 1 11 1-13 1 4 1-20 1 26 1-13 1 26 1-27 1 39 1-5 1-6 1 17 1 12 1 17 1 5 1 25 1-15 1 3 1 7 1 14 1-11 1 10 1-6 1 4 1-1 1 3 1 14 1-47 1-1 1-36 1 36 1-44 1 11 1-21 1 2 1-21 1-1 1-14 1 6 1-3 1-7 1 13 1 14 1-8 1 24 1 4 1 19 1 15 1 38 1-32 1 31 1-14 1-5 1 42 1-22 1 13 1-6 1 17 1-19 1-7 1-22 1-18 1 12 1-3 1-41 1 16 1-11 1-11 1-13 1-10 1 9 1-9 1-25 1 3 1 15 1 6 1 12 1-7 1 26 1 3 1 17 1 13 1 3 1 11 1 16 1 3 1 6 1 12 1 6 1-4 1-9 1-7 1 7 1 0 1-10 1-32 1 2 1 12 1-22 1-5 1-13 1 6 1-29 1 9 1-15 1-29 1 4 1 21 1 4 1 2 1 17 1-3 1 0 1 19 1-11 1 21 1 16 1-16 1 22 1 17 1-13 1 12 1 27 1-9 1 9 1 10 1-43 1 0 1 25 1-29 1 15 1-42 1 2 1-8 1-29 1 5 1-6 1-21 1 8 1-18 1 8 1-10 1 4 1 1 1 27 1-27 1 33 1-13 1 38 1 7 1 11 1-6 1 28 1-1 1 31 1-7 1-4 1 7 1 21 1-30 1 14 1-40 1 18 1-37 1 9 1-8 1 0 1-15 1-17 1 18 1-44 1 18 1-17 1 25 1-39 1-4 1 7 1 3 1 14 1 1 1-4 1 29 1-1 1 8 1 23 1 5 1 10 1 17 1-27 1 40 1-21 1 10 1 37 1-29 1-13 1-3 1 13 1-22 1 7 1-12 1-20 1-16 1-28 1 5 1-17 1 19 1-6 1-12 1-29 1 37 1 4 1-14 1-9 1 41 1-8 1 23 1-23 1 20 1 16 1 14 1 12 1 5 1 16 1 9 1 7 1-12 1 10 1-22 1 31 1-37 1-7 1-17 1 8 1 4 1-18 1-35 1 7 1-9 1-7 1-13 1-4 1 12 1-13 1-19 1-3 1 23 1 11 1-15 1 27 1 22 1-2 1 1 1 1 1 34 1-2 1 19 1-11 1 16 1 4 1 16 1-8 1-2 1 34 1-59 1 3 1-7 1-8 1-15 1-14 1 8 1-28 1-9 1-7 1 11 1-22 1 11 1-21 1-11 1 8 1 19 1 9 1 8 1-2 1 22 1 9 1 35 1-9 1 9 1 7 1-13 1 37 1 5 1-20 1 20 1-11 1-6 1-3 1 2 1-28 1-16 1 20 1-20 1-25 1 3 1-1 1-16 1-23 1 15 1-19 1-5 1 12 1-13 1 2 1 1 1 8 1 37 1-19 1 14 1 6 1 33 1-11 1 17 1 27 1-21 1 30 1 7 1-14 1 12 1-13 1 4 1-12 1-13 1 1 1-20 1-10 1 9 1-31 1-8 1-4 1-20 1-14 1 5 1 22 1-25 1 7 1 4 1-4 1 14 1-16 1 25 1 13 1 2 1 10 1 7 1 16 1 18 1 7 1 34 1-3 1-26 1 18 1-26 1-2 1 32 1-25 1-38 1 34 1-24 1-3 1-11 1-10 1-14 1-18 1 10 1-22 1 9 1-18 1 1 1 14 1-8 1 16 1 7 1-15 1 44 1-18 1 9 1 27 1-10 1 13 1 35 1-14 1 7 1 19 1-13 1-1 1 16 1 12 1-34 1 7 1 3 1-25 1 13 1-35 1-33 1 41 1-49 1 7 1-13 1 0 1-23 1 6 1 9 1 8 1-7 1-13 1 36 1-11 1 11 1 38 1-26 1 25 1-17 1 16 1 32 1 6 1 16 1 8 1-25 1 12 1 0 1-8 1-16 1-11 1 2 1-8 1-14 1-34 1 39 1-22 1-29 1-4 1-19 1-6 1-11 1 32 1-16 1 13 1-9 1 16 1 0 1 29 1-1 1 19 1 8 1 13 1 17 1-17 1 18 1-4 1 30 1 14 1-16 1-7 1-15 1-9 1-9 1-13 1 0 1-3 1 0 1-29 1 4 1-6 1-25 1-3 1-13 1 15 1-24 1 10 1 8 1 12 1 10 1 11 1-24 1 44 1-14 1 21 1 15 1 9 1 5 1-4 1 11 1 12 1 19 1 6 1-45 1 31 1 2 1-39 1 23 1-36 1-13 1-2 1-20 1 18 1-12 1-21 1-10 1-5 1-11 1 12 1 16 1-28 1 11 1-7 1-7 1 32 1 4 1 28 1-10 1 17 1 12 1 1 1 33 1-13 1 7 1-10 1 42 1-21 1-30 1 26 1-6 1-34 1-18 1 19 1-1 1-12 1-14 1-4 1-10 1-20 1-5 1-10 1 3 1 14 1-22 1 10 1 15 1 3 1 2 1 12 1 13 1 0 1 7 1 28 1 6 1 22 1-4 1-2 1-1 1 10 1 3 1 5 1-15 1 9 1-22 1-7 1 1 1-26 1-4 1-21 1 3 1-21 1-21 1 10 1-13 1 15 1-5 1 20 1-18 1 17 1-8 1 34 1-5 1-1 1 7 1 36 1-5 1-25 1 30 1 15 1 41 1-18 1-15 1 3 1-4 1-11 1 5 1-17 1 23 1-61 1 23 1-7 1-36 1 0 1-14 1 11 1-18 1-10 1 19 1-12 1 1 1 4 1 9 1 14 1-12 1 11 1 0 1 25 1 18 1 20 1-8 1 14 1-21 1 3 1 13 1 32 1 6 1-16 1 4 1-34 1 8 1-2 1-15 1-25 1 15 1-28 1 11 1-23 1-2 1-19 1-3 1-16 1 5 1 16 1 12 1-1 1 2 1 6 1 15 1-11 1 12 1 26 1 13 1 7 1 6 1 8 1 25 1-10 1 19 1-23 1-9 1 17 1-21 1 2 1-8 1-42 1 3 1-7 1 1 1-21 1-2 1-16 1 9 1-15 1 1 1 11 1-36 1 14 1 24 1 15 1-1 1 11 1 8 1 21 1 3 1 0 1 6 1 37 1-16 1 18 1 4 1-6 1 4 1-19 1-4 1 6 1-4 1-38 1-11 1 7 1-4 1-25 1-15 1 14 1-36 1 17 1-20 1 17 1-8 1 7 1-2 1-7 1 30 1 2 1-1 1 23 1-20 1 53 1-37 1 48 1-11 1-1 1 19 1 27 1-11 1-5 1-9 1-9 1-8 1-13 1 21 1-34 1 22 1-33 1 4 1-2 1-42 1 4 1-19 1 27 1-7 1-14 1 9 1-6 1 14 1 4 1 19 1-20 1 30 1 21 1-11 1 12 1 13 1 9 1 14 1 2 1 28 1-6 1-5 1-22 1-16 1 10 1-7 1-26 1 8 1-23 1-8 1 10 1-30 1-7 1 9 1-7 1-1 1-35 1-8 1 19 1-6 1 41 1-26 1 2 1 15 1 41 1-13 1 25 1-4 1 30 1 0 1 14 1-8 1 9 1-14 1 2 1 2 1 0 1-4 1-13 1-18 1-3 1-13 1-7 1-10 1-2 1 6 1-37 1-5 1 15 1-36 1 38 1-23 1 13 1 6 1-2 1 12 1 22 1 24 1 12 1-6 1-7 1 17 1 19 1 1 1 0 1-11 1 30 1-20 1 1 1 7 1-5 1-36 1 1 1-4 1-15 1-21 1 0 1-27 1 14 1 0 1-12 1 7 1-8 1-17 1-2 1 18 1 13 1 22 1 11 1-6 1 13 1 20 1 9 1-15 1 15 1 18 1 3 1-9 1 12 1 0 1 20 1-4 1-4 1-4 1-37 1-15 1 4 1-27 1-10 1-4 1 9 1-43 1-5 1 20 1-32 1 23 1 13 1 0 1 24 1-11 1 25 1-23 1 20 1 32 1-13 1 38 1-14 1 4 1 11 1 18 1-10 1 1 1-5 1-21 1-8 1-7 1 18 1-8 1-20 1-16 1 20 1-28 1-39 1 29 1-13 1-5 1-17 1 6 1 5 1 18 1-21 1 15 1 17 1 1 1 1 1 39 1 12 1 4 1 7 1 35 1-23 1-16 1 21 1-15 1 46 1-37 1-23 1-9 1 17 1-6 1-25 1 9 1-21 1 5 1-31 1-8 1-27 1 10 1 9 1-8 1 15 1-14 1 8 1-1 1 2 1 45 1-18 1 5 1 35 1-27 1 42 1-30 1 28 1 3 1 13 1-7 1 24 1-5 1 10 1-37 1 8 1-27 1-8 1 13 1-36 1-5 1-10 1-12 1-2 1-7 1-17 1 23 1 3 1-4 1-18 1 23 1-20 1 70 1-19 1 7 1 2 1-2 1 29 1 19 1-15 1-2 1 55 1-36 1 4 1 12 1-8 1-14 1-5 1-5 1 2 1-29 1 1 1-20 1-2 1-19 1-15 1 0 1-11 1 23 1-24 1 4 1 14 1 0 1 39 1-27 1 16 1 33 1-23 1 25 1-1 1 16 1 0 1 11 1 10 1-6 1-3 1 37 1-32 1 3 1-1 1-37 1-6 1 14 1-10 1-34 1 7 1-13 1 11 1-29 1-21 1 16 1-6 1-22 1 14 1-2 1 16 1 2 1 44 1 0 1 21 1-36 1 35 1 14 1 16 1 10 1 28 1-58 1 30 1-3 1 16 1-21 1-12 1-3 1-18 1 8 1-25 1-18 1-6 1-8 1-3 1 3 1-24 1 8 1 5 1-21 1 32 1-8 1-10 1 5 1 26 1 5 1 5 1 18 1 19 1-5 1 13 1 8 1-7 1 14 1 11 1-8 1-24 1 28 1-12 1-1 1-23 1 9 1-31 1-15 1 8 1-9 1-1 1-26 1 8 1-10 1-4 1 3 1-16 1-5 1 51 1-8 1-4 1 26 1 5 1 1 1-3 1 12 1 27 1 3 1 12 1 1 1 15 1 7 1-19 1-21 1-4 1 25 1-30 1-5 1-21 1 6 1-36 1 4 1-19 1-11 1 29 1-26 1-23 1 18 1-10 1 12 1 17 1-2 1 0 1 7 1 9 1 42 1-13 1 37 1-6 1 8 1-4 1 8 1-9 1 23 1-20 1 1 1-1 1 7 1-31 1-7 1-16 1-1 1-8 1-18 1-10 1-11 1-20 1 26 1-34 1 61 1-46 1 26 1-28 1 43 1-15 1 35 1 13 1-13 1 10 1 29 1-29 1 41 1-17 1 35 1 2 1-13 1 11 1-22 1 25 1-36 1 0 1-5 1-25 1-6 1-7 1-26 1-2 1-9 1-18 1 14 1-13 1 15 1-10 1 5 1 19 1 20 1 6 1 6 1-7 1 19 1 13 1 0 1 6 1 0 1 30 1-11 1 0 1 20 1-15 1 8 1-15 1-16 1 17 1-20 1-12 1-22 1 0 1-24 1 7 1-12 1-19 1 0 1 0 1 3 1-10 1 0 1 27 1 13 1 13 1-24 1 43 1 16 1-9 1 1 1 36 1-6 1 21 1-5 1-27 1 17 1 3 1-9 1-9 1-4 1 4 1-10 1-50 1 23 1-34 1 13 1-33 1 0 1 6 1-30 1 34 1-8 1 11 1 4 1 2 1 15 1 2 1-13 1 52 1 4 1 7 1 4 1-10 1 11 1 8 1 6 1-25 1 41 1-2 1-19 1-10 1-3 1-3 1-4 1-24 1-5 1-13 1-3 1-37 1 4 1-22 1 26 1-8 1 5 1 1 1 8 1 6 1 31 1-11 1-1 1 43 1-9 1-1 1 1 1 25 1 0 1-12 1 8 1 22 1 0 1-23 1 4 1 2 1-13 1-17 1-4 1-10 1-11 1 5 1-48 1-2 1-10 1 16 1-5 1-6 1-1 1 37 1-21 1 24 1-2 1 17 1-18 1 25 1 18 1-8 1 27 1 16 1-1 1 6 1-3 1-10 1 9 1-5 1-19 1 1 1-18 1 0 1 7 1-13 1-4 1-44 1 0 1 3 1 1 1-20 1 5 1-5 1 17 1 8 1-26 1 39 1-2 1-6 1 49 1-20 1 18 1 13 1 3 1 25 1 17 1-46 1 27 1-15 1-6 1 4 1-9 1-11 1-20 1 2 1-20 1 8 1-8 1-16 1-12 1-8 1-22 1 11 1 8 1-21 1 24 1 5 1 6 1 18 1 19 1-4 1 16 1 18 1-2 1 13 1 13 1 20 1-15 1-21 1 10 1-4 1 9 1-19 1 13 1-11 1-22 1 12 1-28 1-14 1-27 1 20 1-20 1 7 1-5 1 24 1-21 1-22 1 12 1 11 1-20 1 33 1 31 1-1 1 9 1-10 1 40 1-8 1 1 1 27 1-8 1 27 1-27 1 25 1-27 1-33 1 8 1-6 1-11 1-36 1 9 1-16 1 8 1-8 1 1 1-15 1 3 1-20 1 5 1 13 1 11 1 36 1-19 1-1 1 6 1 56 1 3 1-21 1 23 1-2 1 9 1-8 1 31 1-15 1-21 1 5 1 6 1-23 1-7 1 4 1-30 1-11 1-1 1-22 1 16 1-30 1 6 1 5 1-5 1-21 1 24 1 2 1 11 1 10 1-12 1-5 1 22 1 21 1 7 1 23 1 10 1 15 1-27 1 24 1 6 1-3 1-13 1 3 1-14 1-11 1-24 1 21 1-29 1 1 1-13 1-34 1 4 1 6 1-15 1 4 1-14 1 22 1-8 1 15 1 5 1 11 1 16 1 2 1 0 1 30 1 7 1 0 1 20 1-14 1 6 1 37 1-20 1 2 1-28 1-8 1 18 1-16 1-18 1-7 1-24 1-13 1-5 1-15 1-4 1 7 1 2 1 3 1-18 1 3 1 4 1 24 1 9 1 2 1-1 1 22 1 12 1 23 1-7 1 7 1 24 1-29 1 35 1-23 1 11 1-8 1 5 1-11 1-24 1 0 1-9 1-25 1-9 1-3 1-9 1-25 1 17 1-10 1-1 1 23 1 9 1-19 1-2 1 16 1 19 1 12 1-7 1 24 1 26 1-18 1 13 1 5 1-4 1-1 1 10 1 7 1 19 1-35 1-2 1-27 1-10 1-1 1-21 1 7 1-11 1 1 1-14 1-11 1-14 1 20 1-18 1-16 1 49 1-6 1 5 1-2 1-2 1 20 1 26 1 20 1 0 1 8 1 3 1 19 1-27 1 28 1-18 1 1 1 11 1-22 1-8 1-8 1-22 1 5 1-47 1 7 1 15 1 12 1-51 1 8 1 0 1 13 1 8 1 10 1-47 1 20 1 35 1-19 1 56 1-20 1 10 1 29 1 3 1 14 1-8 1-12 1 4 1 6 1-12 1 30 1-54 1 17 1 5 1-22 1-7 1-20 1-13 1 23 1-51 1-12 1 30 1-32 1 2 1 6 1-3 1 43 1-18 1 30 1-30 1 51 1 14 1-18 1 15 1 16 1 6 1-1 1-11 1 31 1-3 1-3 1-12 1-8 1 7 1-29 1 8 1-22 1-12 1-10 1-30 1-9 1 0 1-10 1 21 1-20 1 20 1 1 1 6 1 27 1 1 1 4 1 5 1 17 1 19 1 13 1-6 1 22 1 5 1-10 1-3 1 11 1 8 1-31 1-13 1 6 1-10 1 13 1-50 1 13 1-32 1 7 1-13 1-5 1 15 1-57 1 53 1-18 1 16 1-1 1-11 1 49 1-11 1 3 1 15 1 7 1 24 1 19 1 3 1-6 1-12 1 9 1-20 1 15 1-7 1-8 1 15 1-38 1 10 1-20 1-43 1 33 1-25 1-10 1-3 1-3 1 6 1-31 1 51 1-7 1-24 1 20 1 25 1 12 1 3 1-24 1 36 1 28 1-7 1 17 1-21 1 17 1-12 1 12 1-27 1 14 1-6 1 7 1-17 1-21 1 0 1-47 1 21 1 1 1-29 1 13 1-15 1 5 1 8 1-22 1 21 1-6 1 26 1 23 1 8 1 2 1 7 1 7 1 4 1 29 1-12 1 22 1-4 1-40 1 14 1 16 1-33 1-3 1-3 1-17 1 10 1-12 1-2 1-27 1 14 1-16 1-17 1 9 1-11 1-17 1 38 1-24 1 33 1 12 1-5 1 1 1 32 1 11 1 6 1 13 1-4 1 17 1-2 1-6 1 9 1-22 1 18 1-5 1-43 1-3 1 7 1-20 1-5 1 1 1-24 1-4 1-18 1 33 1-34 1 7 1 12 1 1 1 6 1 19 1 0 1-7 1 39 1-3 1 35 1-13 1-3 1 13 1 4 1 17 1-19 1 17 1-26 1 3 1 0 1-31 1 13 1-28 1 1 1-10 1-22 1-2 1-2 1-5 1-8 1 0 1 6 1 11 1 23 1-23 1 10 1-9 1 20 1 2 1 4 1 32 1 19 1-13 1 24 1 1 1-19 1 12 1-9 1 26 1-23 1-21 1 20 1-28 1-13 1 22 1-58 1 19 1-16 1-29 1 37 1-30 1 10 1-5 1 14 1-22 1 38 1-9 1 7 1 18 1 13 1 11 1-6 1 16 1 14 1 18 1-11 1-3 1 6 1-21 1 37 1-61 1 24 1 3 1-3 1-43 1-7 1-1 1-11 1-11 1 1 1-23 1 4 1 9 1 21 1-33 1 29 1 15 1-20 1 20 1 42 1 6 1-5 1 20 1-5 1-27 1 0 1 40 1-10 1-2 1 8 1 11 1-38 1 6 1-18 1-13 1 7 1-41 1 10 1-10 1 1 1-20 1-7 1 18 1-13 1 16 1 15 1-4 1-3 1 10 1 4 1 32 1 6 1 6 1 2 1 17 1 16 1 11 1-31 1 0 1 19 1-31 1 12 1-14 1-20 1 11 1-7 1 1 1-35 1-11 1-13 1-3 1 2 1-15 1 26 1-15 1 3 1 14 1-15 1 25 1-1 1 16 1 24 1-15 1 19 1 22 1 8 1 16 1-8 1 2 1-7 1 3 1-18 1 1 1 9 1-23 1-6 1-6 1-23 1-24 1 17 1 3 1-27 1-42 1 43 1-10 1 12 1-10 1 0 1 28 1-6 1 38 1-5 1 29 1-8 1 18 1-3 1 22 1-13 1 3 1 8 1 0 1-1 1-16 1-18 1-4 1-13 1-25 1 9 1-18 1-15 1-4 1-4 1-1 1-24 1 25 1 6 1-7 1-6 1 11 1 26 1 1 1 14 1 16 1 3 1 10 1 14 1-13 1 30 1-20 1-9 1-2 1 18 1 0 1 9 1-28 1-41 1 38 1-11 1-39 1-7 1 22 1-28 1-10 1 21 1-31 1 30 1-26 1 17 1 19 1 20 1-5 1 7 1 12 1 16 1 5 1-5 1 28 1-3 1-6 1 7 1-13 1-12 1 18 1-15 1 30 1-42 1-23 1 11 1-40 1 29 1-48 1 16 1 1 1-9 1-4 1 11 1 8 1-5 1-11 1 15 1-1 1 34 1 8 1 10 1 4 1 5 1-9 1 18 1 10 1-13 1 25 1 3 1-29 1-1 1-8 1-20 1 5 1-14 1-16 1-13 1-13 1 3 1-7 1 29 1-46 1 35 1-16 1-26 1 42 1 24 1-30 1 37 1 6 1 11 1-1 1 8 1 19 1-10 1 29 1-18 1 15 1-19 1 12 1-10 1-31 1 22 1-10 1-32 1 0 1-8 1-13 1-35 1 33 1-14 1-7 1 14 1-8 1-2 1 24 1-16 1 37 1-2 1 5 1-25 1 71 1-16 1-20 1 45 1-17 1 13 1 19 1-25 1 11 1-18 1 11 1-37 1 29 1-39 1-28 1-1 1 2 1-9 1-4 1-43 1 32 1 0 1 11 1 2 1-7 1 23 1 12 1 7 1 8 1 4 1 18 1 6 1 15 1-18 1 18 1 7 1-8 1 2 1 14 1-23 1-31 1 5 1-18 1 11 1 0 1-20 1-34 1 21 1-9 1-28 1 15 1-1 1-5 1 9 1 11 1 1 1 21 1 2 1 2 1 32 1 0 1 20 1-15 1 8 1 0 1 1 1 0 1 2" transform="matrix(0.024931 0 0 0.1 230.846 0)" fill="none" stroke="#999999" stroke-width="1.0" vector-effect="non-scaling-stroke" stroke-linejoin="round" />
<path d="M0 4173l1-210 1-170 1-138 1-112 1-91 1-74 1-60 1-49 1-39 1-32 1-27 1-21 1-17 1-14 1-11 1-9 1-8 1-6 1-5 1-4 1-3 1-3 1-2 1-2 1-1 1-1 1-1 1-1 1-1 1 0 1 0 1-1 1 0 1 0 1 0 1-1 1 0 1 0 1 0 1 0 1 0 1 0 1 0 1 0 1 0 1 0 1 0 1 0 1 0 1 0 1 0 1 0 1 0 1 0 1 0 1 0 1 0 1 0 1 0 1 0 1 0 1 0 1 0 1 0 1 0 1 0 1 0 1 0 1 0 1 0 1 0 1 0 1 0 1 0 1 0 1 0 1 0 1 0 1 0 1 0" transform="matrix(0.093492 0 0 0.1 66.300 0)" fill="none" stroke="#0073C8" stroke-width="1.6" vector-effect="non-scaling-stroke" stroke-linejoin="round" />
<path d="M0 3059l1 0 1 0 1 0 1 0 1 0 1 0 1 0 1 0 1 0 1 0 1 0 1 0 1 0 1 0 1 0 1 0 1 0 1 0 1 0 1 0 1 0 1 0 1 0 1 0 1 0 1 0 1 0 1 0 1 0 1 0 1 0 1 0 1 0 1 0 1 0 1 0 1 0 1 0 1 0 1 0 1 0 1 0 1 0 1 0 1 0 1 0 1 0 1 0 1 0 1 0 1 0 1 0 1 0 1 0 1 0 1 0 1 0 1 0 1 0 1 0 1 0 1 0 1 0 1 0 1 0 1 0 1 0 1 0 1 0 1 0 1 0 1 0 1 0 1 0 1 0 1 0 1 0 1 0 1 0 1 0 1 0" transform="matrix(0.093492 0 0 0.1 73.686 0)" fill="none" stroke="#0073C8" stroke-width="1.6" vector-effect="non-scaling-stroke" stroke-linejoin="round" />
<path d="M0 3059l1 0 1 0 1 0 1 0 1 0 1 0 1 0 1 0 1 0 1 0 1 0 1 0 1 0 1 0 1 0 1 0 1 0 1 0 1 0 1 0 1 0 1 0 1 0 1 0 1 0 1 0 1 0 1 0 1 0 1 0 1 0 1 0 1 0 1 0 1 0 1 0 1 0 1 0 1 0 1 0 1 0 1 0 1 0 1 0 1 0 1 0 1 0 1 0 1 0 1 0 1 0 1 0 1 0 1 0 1 0 1 0 1 0 1 0 1 0 1 0 1 0 1 0 1 0 1 0 1 0 1 0 1 0 1 0 1 0 1 0 1 0 1 0 1 0 1 0 1 0 1 0 1 0 1 0 1 0 1 0 1 11" transform="matrix(0.093492 0 0 0.1 81.165 0)" fill="none" stroke="#0073C8" stroke-width="1.6" vector-effect="non-scaling-stroke" stroke-linejoin="round" />
<path d="M0 3059l1 11 1 0 1 0 1 0 1 0 1 0 1 0 1-1 1 0 1 0 1 0 1-1 1 0 1 0 1-1 1 0 1-1 1 0 1-1 1-1 1 0 1-1 1-1 1 0 1-1 1-1 1-1 1-1 1-1 1-1 1-1 1-1 1-1 1-1 1-1 1-1 1-1 1-2 1-1 1-1 1-2 1-1 1-2 1-1 1-2 1-1 1-2 1-1 1-2 1-2 1-1 1-2 1-2 1-2 1-1 1-2 1-2 1-2 1-2 1-2 1-2 1-2 1-2 1-2 1-3 1-2 1-2 1-2 1-3 1-2 1-2 1-2 1-3 1-2 1-3 1-2 1-3 1-2 1-2 1-3 1-3" transform="matrix(0.093492 0 0 0.1 88.645 0)" fill="none" stroke="#0073C8" stroke-width="1.6" vector-effect="non-scaling-stroke" stroke-linejoin="round" />
<path d="M0 2965l1-3 1-2 1-3 1-2 1-3 1-2 1-3 1-3 1-2 1-3 1-3 1-2 1-3 1-2 1-3 1-3 1-2 1-3 1-3 1-2 1-3 1-3 1-2 1-3 1-2 1-3 1-2 1-3 1-2 1-3 1-2 1-2 1-3 1-2 1-2 1-3 1-2 1-2 1-2 1-2 1-2 1-2 1-2 1-1 1-2 1-2 1-1 1-2 1-1 1-2 1-1 1-1 1-1 1-1 1-1 1-1 1-1 1 0 1-1 1 0 1-1 1 0 1 0 1 0 1 0 1 0 1 1 1 0 1 1 1 0 1 1 1 1 1 1 1 2 1 1 1 1 1 2 1 2 1 2 1 2 1 2" transform="matrix(0.093492 0 0 0.1 96.124 0)" fill="none" stroke="#0073C8" stroke-width="1.6" vector-effect="non-scaling-stroke" stroke-linejoin="round" />
<path d="M0 2856l1 2 1 3 1 2 1 3 1 3 1 3 1 3 1 3 1 4 1 4 1 3 1 4 1 5 1 4 1 4 1 5 1 5 1 4 1 5 1 6 1 5 1 5 1 6 1 6 1 5 1 6 1 6 1 7 1 6 1 6 1 7 1 7 1 6 1 7 1 7 1 7 1 7 1 7 1 7 1 8 1 7 1 7 1 7 1 8 1 7 1 7 1 8 1 7 1 7 1 8 1 7 1 7 1 7 1 7 1 7 1 7 1 6 1 7 1 7 1 6 1 6 1 6 1 6 1 6 1 5 1 6 1 5 1 5 1 4 1 5 1 4 1 4 1 3 1 4 1 3 1 3 1 2 1 2 1 2 1 2 1 1" transform="matrix(0.093492 0 0 0.1 103.603 0)" fill="none" stroke="#0073C8" stroke-width="1.6" vector-effect="non-scaling-stroke" stroke-linejoin="round" />
<path d="M0 3283l1 1 1 1 1 0 1 1 1-1 1 0 1-1 1-1 1-2 1-2 1-2 1-3 1-3 1-4 1-4 1-4 1-4 1-5 1-6 1-5 1-6 1-7 1-6 1-7 1-8 1-7 1-8 1-8 1-9 1-9 1-8 1-10 1-9 1-10 1-9 1-10 1-10 1-11 1-10 1-10 1-11 1-10 1-11 1-10 1-11 1-10 1-10 1-10 1-11 1-10 1-9 1-10 1-9 1-9 1-9 1-9 1-8 1-8 1-8 1-7 1-6 1-7 1-6 1-5 1-5 1-5 1-4 1-3 1-3 1-2 1-2 1-1 1-1 1 0 1 1 1 1 1 2 1 2 1 4 1 3 1 4" transform="matrix(0.093492 0 0 0.1 111.083 0)" fill="none" stroke="#0073C8" stroke-width="1.6" vector-effect="non-scaling-stroke" stroke-linejoin="round" />
<path d="M0 2840l1 4 1 5 1 6 1 6 1 7 1 7 1 8 1 8 1 9 1 10 1 9 1 10 1 11 1 11 1 11 1 12 1 12 1 12 1 12 1 13 1 12 1 13 1 13 1 13 1 12 1 13 1 13 1 12 1 13 1 12 1 12 1 11 1 11 1 11 1 10 1 10 1 10 1 9 1 8 1 8 1 7 1 6 1 6 1 5 1 4 1 3 1 3 1 2 1 1 1 0 1 0 1-1 1-3 1-3 1-3 1-5 1-6 1-6 1-7 1-8 1-8 1-9 1-10 1-10 1-11 1-12 1-12 1-13 1-13 1-13 1-14 1-14 1-14 1-14 1-15 1-14 1-15 1-14 1-14 1-14 1-14" transform="matrix(0.093492 0 0 0.1 118.562 0)" fill="none" stroke="#0073C8" stroke-width="1.6" vector-effect="non-scaling-stroke" stroke-linejoin="round" />
<path d="M0 2991l1-14 1-14 1-13 1-12 1-12 1-12 1-11 1-10 1-10 1-9 1-8 1-7 1-6 1-5 1-5 1-3 1-3 1-1 1 0 1 0 1 2 1 3 1 4 1 4 1 6 1 7 1 8 1 8 1 10 1 10 1 11 1 12 1 13 1 13 1 14 1 14 1 15 1 15 1 16 1 16 1 15 1 16 1 16 1 16 1 15 1 16 1 15 1 14 1 14 1 13 1 13 1 12 1 11 1 10 1 10 1 8 1 7 1 7 1 5 1 4 1 2 1 2 1 0 1-1 1-2 1-4 1-5 1-6 1-7 1-8 1-9 1-11 1-11 1-12 1-14 1-14 1-14 1-16 1-15 1-17 1-16" transform="matrix(0.093492 0 0 0.1 126.041 0)" fill="none" stroke="#0073C8" stroke-width="1.571" vector-effect="non-scaling-stroke" stroke-linejoin="round" />
<path d="M0 3112l1-16 1-17 1-17 1-17 1-17 1-17 1-17 1-16 1-16 1-15 1-14 1-14 1-13 1-11 1-11 1-10 1-8 1-7 1-6 1-4 1-4 1-1 1-1 1 2 1 2 1 4 1 6 1 7 1 8 1 9 1 11 1 12 1 13 1 14 1 15 1 16 1 16 1 17 1 17 1 18 1 18 1 18 1 19 1 18 1 17 1 17 1 17 1 16 1 15 1 14 1 14 1 12 1 11 1 9 1 8 1 7 1 5 1 4 1 2 1 0 1-1 1-3 1-5 1-6 1-8 1-9 1-11 1-12 1-13 1-14 1-16 1-16 1-18 1-17 1-19 1-19 1-19 1-19 1-19 1-19 1-18" transform="matrix(0.093492 0 0 0.1 133.521 0)" fill="none" stroke="#0073C8" stroke-width="1.513" vector-effect="non-scaling-stroke" stroke-linejoin="round" />
<path d="M0 3008l1-18 1-18 1-17 1-16 1-15 1-14 1-13 1-12 1-10 1-8 1-7 1-5 1-3 1-2 1 0 1 2 1 4 1 6 1 8 1 9 1 11 1 12 1 14 1 15 1 16 1 17 1 18 1 19 1 20 1 19 1 20 1 20 1 20 1 19 1 19 1 18 1 18 1 16 1 15 1 13 1 12 1 10 1 9 1 7 1 5 1 3 1 1 1-1 1-3 1-5 1-7 1-9 1-11 1-12 1-14 1-16 1-17 1-17 1-19 1-20 1-20 1-21 1-20 1-21 1-20 1-20 1-20 1-18 1-17 1-16 1-15 1-13 1-11 1-9 1-8 1-5 1-3 1-1 1 1 1 3 1 6" transform="matrix(0.093492 0 0 0.1 141.000 0)" fill="none" stroke="#0073C8" stroke-width="1.454" vector-effect="non-scaling-stroke" stroke-linejoin="round" />
<path d="M0 2860l1 6 1 8 1 9 1 12 1 13 1 15 1 17 1 18 1 19 1 20 1 21 1 21 1 21 1 22 1 21 1 21 1 20 1 19 1 18 1 16 1 15 1 13 1 11 1 9 1 7 1 5 1 2 1 0 1-3 1-4 1-7 1-10 1-11 1-13 1-16 1-17 1-18 1-20 1-20 1-22 1-21 1-23 1-22 1-21 1-21 1-21 1-19 1-18 1-16 1-15 1-12 1-10 1-8 1-6 1-3 1-1 1 2 1 4 1 7 1 10 1 11 1 14 1 16 1 17 1 19 1 20 1 22 1 22 1 22 1 23 1 23 1 22 1 21 1 21 1 19 1 17 1 16 1 13 1 12 1 9 1 6" transform="matrix(0.093492 0 0 0.1 148.480 0)" fill="none" stroke="#0073C8" stroke-width="1.396" vector-effect="non-scaling-stroke" stroke-linejoin="round" />
<path d="M0 3243l1 6 1 4 1 1 1-1 1-5 1-7 1-9 1-12 1-14 1-16 1-19 1-19 1-21 1-22 1-23 1-23 1-24 1-23 1-22 1-22 1-20 1-18 1-17 1-15 1-12 1-10 1-8 1-4 1-2 1 1 1 4 1 7 1 10 1 12 1 14 1 17 1 19 1 20 1 22 1 23 1 23 1 24 1 23 1 24 1 22 1 22 1 20 1 18 1 16 1 14 1 11 1 9 1 5 1 3 1 0 1-4 1-6 1-9 1-12 1-15 1-17 1-19 1-20 1-23 1-23 1-24 1-24 1-24 1-24 1-23 1-21 1-20 1-18 1-16 1-13 1-10 1-8 1-4 1-1 1 2 1 5" transform="matrix(0.093492 0 0 0.1 155.959 0)" fill="none" stroke="#0073C8" stroke-width="1.338" vector-effect="non-scaling-stroke" stroke-linejoin="round" />
<path d="M0 2873l1 5 1 8 1 11 1 14 1 17 1 18 1 21 1 23 1 23 1 24 1 25 1 25 1 24 1 23 1 22 1 20 1 19 1 15 1 13 1 11 1 7 1 3 1 1 1-3 1-6 1-10 1-12 1-15 1-18 1-20 1-22 1-24 1-24 1-25 1-25 1-25 1-24 1-23 1-21 1-19 1-17 1-14 1-10 1-8 1-4 1-1 1 3 1 6 1 9 1 13 1 16 1 18 1 21 1 22 1 24 1 25 1 25 1 26 1 25 1 24 1 23 1 21 1 18 1 16 1 13 1 9 1 6 1 3 1-1 1-5 1-8 1-12 1-15 1-18 1-20 1-22 1-24 1-25 1-26 1-26 1-26" transform="matrix(0.093492 0 0 0.1 163.438 0)" fill="none" stroke="#0073C8" stroke-width="1.279" vector-effect="non-scaling-stroke" stroke-linejoin="round" />
<path d="M0 3039l1-26 1-24 1-23 1-21 1-19 1-16 1-13 1-10 1-6 1-2 1 1 1 6 1 9 1 12 1 16 1 18 1 21 1 24 1 24 1 26 1 26 1 27 1 25 1 25 1 22 1 21 1 17 1 15 1 11 1 8 1 4 1 0 1-4 1-8 1-12 1-15 1-18 1-21 1-23 1-25 1-26 1-26 1-27 1-26 1-25 1-23 1-21 1-18 1-15 1-11 1-7 1-4 1 1 1 4 1 9 1 13 1 15 1 20 1 21 1 24 1 26 1 26 1 28 1 26 1 26 1 25 1 22 1 20 1 17 1 13 1 10 1 5 1 1 1-3 1-7 1-11 1-15 1-19 1-21 1-24 1-25" transform="matrix(0.093492 0 0 0.1 170.918 0)" fill="none" stroke="#0073C8" stroke-width="1.221" vector-effect="non-scaling-stroke" stroke-linejoin="round" />
<path d="M0 3134l1-25 1-27 1-27 1-28 1-26 1-25 1-23 1-21 1-17 1-13 1-10 1-6 1-1 1 3 1 8 1 11 1 16 1 19 1 22 1 24 1 26 1 27 1 28 1 27 1 27 1 25 1 22 1 20 1 16 1 13 1 8 1 4 1-1 1-5 1-9 1-14 1-17 1-21 1-23 1-26 1-27 1-28 1-28 1-27 1-26 1-24 1-21 1-17 1-14 1-9 1-5 1-1 1 5 1 9 1 13 1 17 1 20 1 24 1 26 1 27 1 28 1 28 1 28 1 26 1 24 1 20 1 18 1 13 1 9 1 5 1-1 1-5 1-9 1-14 1-19 1-21 1-24 1-27 1-28 1-29 1-28" transform="matrix(0.093492 0 0 0.1 178.397 0)" fill="none" stroke="#0073C8" stroke-width="1.163" vector-effect="non-scaling-stroke" stroke-linejoin="round" />
<path d="M0 3051l1-28 1-27 1-26 1-23 1-19 1-16 1-12 1-7 1-2 1 3 1 7 1 12 1 17 1 20 1 24 1 26 1 28 1 28 1 29 1 28 1 26 1 24 1 21 1 17 1 13 1 8 1 3 1-1 1-7 1-12 1-16 1-20 1-24 1-26 1-28 1-28 1-30 1-28 1-26 1-25 1-20 1-17 1-13 1-8 1-2 1 2 1 8 1 12 1 17 1 21 1 24 1 27 1 29 1 29 1 29 1 28 1 26 1 24 1 19 1 16 1 11 1 6 1 0 1-4 1-10 1-15 1-19 1-23 1-26 1-28 1-29 1-29 1-29 1-27 1-25 1-22 1-17 1-13 1-7 1-3 1 3" transform="matrix(0.093492 0 0 0.1 185.876 0)" fill="none" stroke="#0073C8" stroke-width="1.104" vector-effect="non-scaling-stroke" stroke-linejoin="round" />
<path d="M0 2896l1 3 1 9 1 13 1 18 1 22 1 26 1 28 1 29 1 30 1 29 1 28 1 25 1 22 1 18 1 13 1 8 1 3 1-3 1-8 1-14 1-18 1-22 1-26 1-28 1-29 1-30 1-30 1-28 1-25 1-21 1-18 1-12 1-7 1-2 1 4 1 10 1 14 1 20 1 23 1 27 1 29 1 30 1 30 1 29 1 27 1 24 1 20 1 16 1 10 1 5 1-1 1-6 1-13 1-17 1-21 1-26 1-28 1-30 1-30 1-30 1-28 1-26 1-22 1-17 1-13 1-6 1-1 1 5 1 10 1 16 1 21 1 24 1 28 1 30 1 30 1 30 1 29 1 27 1 22 1 19 1 13" transform="matrix(0.093492 0 0 0.1 193.356 0)" fill="none" stroke="#0073C8" stroke-width="1.046" vector-effect="non-scaling-stroke" stroke-linejoin="round" />
<path d="M0 3193l1 13 1 7 1 2 1-4 1-11 1-15 1-21 1-24 1-28 1-30 1-31 1-30 1-29 1-26 1-23 1-18 1-13 1-7 1-1 1 5 1 11 1 17 1 21 1 25 1 29 1 30 1 31 1 30 1 29 1 26 1 21 1 17 1 11 1 6 1-1 1-7 1-13 1-19 1-23 1-27 1-29 1-31 1-31 1-30 1-28 1-24 1-20 1-14 1-8 1-2 1 4 1 10 1 16 1 22 1 25 1 29 1 30 1 32 1 31 1 28 1 26 1 21 1 17 1 10 1 4 1-2 1-9 1-15 1-20 1-24 1-29 1-30 1-32 1-31 1-29 1-27 1-22 1-17 1-11 1-5 1 1" transform="matrix(0.093492 0 0 0.1 200.835 0)" fill="none" stroke="#0073C8" stroke-width="0.988" vector-effect="non-scaling-stroke" stroke-linejoin="round" />
<path d="M0 2908l1 1 1 8 1 15 1 19 1 25 1 28 1 31 1 32 1 31 1 29 1 27 1 22 1 18 1 11 1 4 1-2 1-8 1-15 1-21 1-25 1-29 1-31 1-32 1-31 1-29 1-26 1-22 1-16 1-10 1-3 1 4 1 10 1 17 1 22 1 26 1 30 1 31 1 32 1 31 1 29 1 25 1 19 1 14 1 8 1 0 1-6 1-13 1-20 1-24 1-28 1-31 1-32 1-32 1-30 1-27 1-22 1-17 1-10 1-4 1 3 1 11 1 16 1 23 1 27 1 30 1 32 1 32 1 31 1 28 1 25 1 18 1 13 1 6 1-2 1-8 1-16 1-21 1-26 1-29 1-32 1-33" transform="matrix(0.093492 0 0 0.1 208.314 0)" fill="none" stroke="#0073C8" stroke-width="0.929" vector-effect="non-scaling-stroke" stroke-linejoin="round" />
<path d="M0 3072l1-33 1-31 1-29 1-25 1-20 1-14 1-7 1 1 1 7 1 15 1 20 1 26 1 30 1 32 1 32 1 32 1 29 1 26 1 20 1 14 1 6 1 0 1-8 1-14 1-21 1-26 1-30 1-32 1-33 1-32 1-29 1-25 1-19 1-13 1-6 1 1 1 9 1 16 1 22 1 27 1 31 1 32 1 33 1 31 1 29 1 23 1 18 1 12 1 4 1-4 1-11 1-18 1-24 1-28 1-32 1-33 1-33 1-30 1-27 1-22 1-15 1-9 1 0 1 7 1 14 1 20 1 27 1 30 1 32 1 33 1 32 1 29 1 25 1 19 1 12 1 4 1-4 1-11 1-18 1-24 1-29" transform="matrix(0.093492 0 0 0.1 215.794 0)" fill="none" stroke="#0073C8" stroke-width="0.9" vector-effect="non-scaling-stroke" stroke-linejoin="round" />
<path d="M0 3144l1-29 1-32 1-33 1-33 1-30 1-26 1-21 1-15 1-7 1 1 1 9 1 16 1 22 1 28 1 31 1 33 1 34 1 31 1 28 1 22 1 16 1 9 1 1 1-8 1-14 1-22 1-27 1-31 1-33 1-33 1-32 1-28 1-24 1-16 1-10 1-1 1 6 1 14 1 22 1 26 1 31 1 33 1 34 1 32 1 28 1 24 1 16 1 10 1 1 1-7 1-14 1-22 1-27 1-31 1-33 1-34 1-32 1-28 1-23 1-16 1-8 1 0 1 8 1 16 1 22 1 28 1 32 1 33 1 34 1 31 1 27 1 22 1 14 1 7 1-2 1-10 1-18 1-24 1-29 1-33 1-34" transform="matrix(0.093492 0 0 0.1 223.273 0)" fill="none" stroke="#0073C8" stroke-width="0.9" vector-effect="non-scaling-stroke" stroke-linejoin="round" />
<path d="M0 3080l1-34 1-33 1-30 1-26 1-19 1-12 1-4 1 5 1 13 1 21 1 26 1 31 1 33 1 34 1 33 1 28 1 23 1 16 1 9 1-1 1-8 1-17 1-24 1-28 1-33 1-34 1-33 1-31 1-26 1-20 1-12 1-3 1 5 1 13 1 21 1 27 1 32 1 33 1 34 1 32 1 28 1 22 1 15 1 7 1-2 1-11 1-19 1-25 1-30 1-34 1-34 1-33 1-29 1-24 1-17 1-8 1 0 1 8 1 17 1 24 1 29 1 33 1 35 1 33 1 30 1 25 1 19 1 10 1 1 1-7 1-16 1-24 1-28 1-33 1-34 1-34 1-31 1-25 1-19 1-11 1-2" transform="matrix(0.093492 0 0 0.1 230.753 0)" fill="none" stroke="#0073C8" stroke-width="0.9" vector-effect="non-scaling-stroke" stroke-linejoin="round" />
<path d="M0 2929l1-2 1 7 1 16 1 23 1 29 1 32 1 35 1 33 1 31 1 26 1 18 1 11 1 2 1-8 1-16 1-23 1-29 1-33 1-35 1-33 1-31 1-25 1-18 1-9 1-1 1 9 1 17 1 24 1 30 1 33 1 35 1 33 1 30 1 24 1 16 1 8 1-1 1-11 1-19 1-25 1-31 1-34 1-35 1-32 1-29 1-22 1-14 1-5 1 4 1 13 1 21 1 28 1 32 1 34 1 35 1 31 1 27 1 19 1 11 1 2 1-8 1-16 1-24 1-30 1-33 1-35 1-34 1-29 1-24 1-16 1-7 1 3 1 12 1 20 1 27 1 32 1 34 1 35 1 32 1 26 1 20" transform="matrix(0.093492 0 0 0.1 238.232 0)" fill="none" stroke="#0073C8" stroke-width="0.9" vector-effect="non-scaling-stroke" stroke-linejoin="round" />
<path d="M0 3152l1 20 1 11 1 2 1-7 1-17 1-24 1-30 1-34 1-35 1-33 1-29 1-23 1-15 1-6 1 4 1 13 1 22 1 28 1 33 1 35 1 34 1 31 1 26 1 17 1 9 1-1 1-10 1-20 1-26 1-32 1-35 1-35 1-32 1-27 1-20 1-11 1-1 1 8 1 18 1 25 1 31 1 34 1 35 1 33 1 29 1 21 1 13 1 3 1-7 1-16 1-24 1-31 1-34 1-35 1-34 1-29 1-22 1-14 1-4 1 6 1 15 1 24 1 30 1 35 1 35 1 34 1 29 1 23 1 14 1 4 1-5 1-16 1-24 1-30 1-34 1-36 1-34 1-29 1-23 1-13 1-4" transform="matrix(0.093492 0 0 0.1 245.711 0)" fill="none" stroke="#0073C8" stroke-width="0.9" vector-effect="non-scaling-stroke" stroke-linejoin="round" />
<path d="M0 2939l1-4 1 6 1 16 1 25 1 30 1 35 1 35 1 34 1 29 1 22 1 13 1 2 1-7 1-17 1-26 1-31 1-35 1-36 1-33 1-28 1-21 1-11 1-1 1 10 1 19 1 27 1 32 1 36 1 35 1 33 1 26 1 18 1 9 1-2 1-12 1-21 1-29 1-33 1-36 1-35 1-31 1-24 1-16 1-6 1 5 1 15 1 24 1 31 1 35 1 36 1 34 1 29 1 22 1 12 1 1 1-9 1-18 1-27 1-33 1-36 1-36 1-32 1-26 1-18 1-8 1 3 1 14 1 23 1 30 1 34 1 37 1 34 1 30 1 22 1 13 1 3 1-9 1-18 1-27 1-33 1-36" transform="matrix(0.093492 0 0 0.1 253.191 0)" fill="none" stroke="#0073C8" stroke-width="0.9" vector-effect="non-scaling-stroke" stroke-linejoin="round" />
<path d="M0 3093l1-36 1-36 1-32 1-26 1-18 1-7 1 4 1 14 1 23 1 31 1 35 1 37 1 34 1 29 1 21 1 12 1 0 1-10 1-20 1-29 1-34 1-36 1-36 1-31 1-24 1-15 1-4 1 7 1 17 1 26 1 33 1 36 1 36 1 33 1 27 1 17 1 8 1-4 1-15 1-24 1-32 1-35 1-37 1-34 1-28 1-20 1-10 1 2 1 12 1 23 1 30 1 35 1 37 1 35 1 29 1 22 1 11 1 1 1-11 1-22 1-29 1-35 1-36 1-36 1-30 1-23 1-13 1-1 1 10 1 20 1 29 1 34 1 37 1 36 1 31 1 23 1 14 1 2 1-10 1-20 1-28" transform="matrix(0.093492 0 0 0.1 260.670 0)" fill="none" stroke="#0073C8" stroke-width="0.9" vector-effect="non-scaling-stroke" stroke-linejoin="round" />
<path d="M0 3147l1-28 1-35 1-37 1-36 1-31 1-23 1-13 1-3 1 10 1 20 1 29 1 34 1 37 1 36 1 31 1 23 1 13 1 2 1-10 1-21 1-30 1-35 1-37 1-35 1-31 1-22 1-12 1 0 1 11 1 22 1 30 1 36 1 37 1 35 1 30 1 21 1 10 1-2 1-13 1-23 1-32 1-36 1-37 1-34 1-29 1-19 1-8 1 4 1 16 1 25 1 33 1 37 1 37 1 33 1 27 1 16 1 5 1-7 1-18 1-28 1-34 1-38 1-36 1-32 1-23 1-14 1-1 1 11 1 21 1 30 1 36 1 37 1 36 1 29 1 21 1 9 1-3 1-15 1-25 1-32 1-37" transform="matrix(0.093492 0 0 0.1 268.149 0)" fill="none" stroke="#0073C8" stroke-width="0.9" vector-effect="non-scaling-stroke" stroke-linejoin="round" />
<path d="M0 3099l1-37 1-37 1-34 1-26 1-17 1-4 1 7 1 20 1 28 1 35 1 37 1 37 1 31 1 22 1 11 1 0 1-13 1-24 1-32 1-36 1-38 1-34 1-28 1-17 1-6 1 7 1 19 1 28 1 35 1 37 1 37 1 31 1 22 1 12 1-1 1-13 1-24 1-33 1-37 1-37 1-34 1-27 1-16 1-5 1 8 1 20 1 29 1 36 1 38 1 36 1 30 1 21 1 9 1-3 1-16 1-26 1-34 1-37 1-38 1-32 1-25 1-13 1-1 1 12 1 22 1 32 1 37 1 38 1 34 1 28 1 17 1 4 1-8 1-19 1-30 1-36 1-38 1-36 1-29 1-20 1-8" transform="matrix(0.093492 0 0 0.1 275.629 0)" fill="none" stroke="#0073C8" stroke-width="0.9" vector-effect="non-scaling-stroke" stroke-linejoin="round" />
<path d="M0 2955l1-8 1 4 1 17 1 28 1 34 1 38 1 37 1 32 1 22 1 11 1-2 1-14 1-26 1-34 1-37 1-38 1-33 1-24 1-13 1 0 1 12 1 24 1 33 1 37 1 38 1 34 1 25 1 15 1 2 1-10 1-23 1-32 1-37 1-38 1-34 1-27 1-16 1-4 1 10 1 22 1 31 1 37 1 38 1 35 1 27 1 17 1 4 1-9 1-21 1-31 1-36 1-39 1-35 1-28 1-17 1-4 1 8 1 21 1 31 1 37 1 38 1 36 1 27 1 17 1 5 1-9 1-22 1-31 1-37 1-38 1-35 1-28 1-16 1-4 1 10 1 22 1 32 1 37 1 39 1 34 1 27" transform="matrix(0.093492 0 0 0.1 283.108 0)" fill="none" stroke="#0073C8" stroke-width="0.9" vector-effect="non-scaling-stroke" stroke-linejoin="round" />
<path d="M0 3123l1 27 1 15 1 3 1-12 1-23 1-32 1-38 1-38 1-34 1-25 1-14 1-1 1 13 1 25 1 33 1 38 1 38 1 33 1 24 1 12 1-2 1-15 1-27 1-34 1-39 1-37 1-32 1-21 1-9 1 4 1 18 1 28 1 36 1 39 1 36 1 30 1 19 1 6 1-8 1-20 1-31 1-37 1-39 1-35 1-27 1-16 1-2 1 11 1 24 1 33 1 38 1 38 1 34 1 24 1 12 1-2 1-16 1-27 1-35 1-39 1-37 1-31 1-20 1-7 1 6 1 20 1 31 1 37 1 39 1 35 1 27 1 16 1 2 1-12 1-24 1-34 1-38 1-38 1-33 1-23 1-10" transform="matrix(0.093492 0 0 0.1 290.587 0)" fill="none" stroke="#0073C8" stroke-width="0.9" vector-effect="non-scaling-stroke" stroke-linejoin="round" />
<path d="M0 2963l1-10 1 3 1 18 1 28 1 37 1 39 1 36 1 29 1 18 1 4 1-10 1-23 1-33 1-38 1-38 1-34 1-24 1-11 1 2 1 16 1 29 1 35 1 39 1 37 1 30 1 18 1 4 1-9 1-23 1-33 1-38 1-38 1-34 1-24 1-11 1 3 1 17 1 29 1 36 1 39 1 37 1 28 1 17 1 3 1-11 1-24 1-34 1-38 1-38 1-33 1-22 1-9 1 6 1 19 1 31 1 37 1 39 1 35 1 27 1 14 1-1 1-14 1-27 1-35 1-39 1-38 1-30 1-18 1-5 1 10 1 23 1 33 1 38 1 39 1 33 1 22 1 10 1-6 1-19 1-31 1-37" transform="matrix(0.093492 0 0 0.1 298.067 0)" fill="none" stroke="#0073C8" stroke-width="0.9" vector-effect="non-scaling-stroke" stroke-linejoin="round" />
<path d="M0 3107l1-37 1-39 1-35 1-26 1-14 1 2 1 15 1 28 1 36 1 40 1 36 1 29 1 17 1 2 1-12 1-25 1-35 1-39 1-37 1-32 1-19 1-6 1 9 1 23 1 33 1 38 1 39 1 33 1 22 1 9 1-7 1-20 1-32 1-38 1-38 1-35 1-24 1-11 1 4 1 18 1 30 1 37 1 39 1 36 1 26 1 13 1-2 1-16 1-29 1-37 1-39 1-36 1-28 1-14 1 0 1 15 1 28 1 36 1 39 1 37 1 28 1 16 1 1 1-14 1-27 1-36 1-39 1-37 1-29 1-17 1-1 1 13 1 26 1 36 1 39 1 37 1 29 1 18 1 2 1-13 1-26" transform="matrix(0.093492 0 0 0.1 305.546 0)" fill="none" stroke="#0073C8" stroke-width="0.9" vector-effect="non-scaling-stroke" stroke-linejoin="round" />
<path d="M0 3146l1-26 1-35 1-40 1-37 1-29 1-18 1-2 1 13 1 26 1 36 1 39 1 37 1 29 1 17 1 2 1-13 1-27 1-36 1-39 1-37 1-29 1-16 1-1 1 14 1 28 1 36 1 39 1 37 1 28 1 15 1 0 1-16 1-28 1-37 1-39 1-36 1-27 1-14 1 2 1 17 1 30 1 37 1 39 1 35 1 26 1 12 1-4 1-19 1-31 1-38 1-39 1-34 1-24 1-9 1 6 1 21 1 33 1 38 1 39 1 33 1 21 1 7 1-10 1-23 1-34 1-39 1-38 1-31 1-19 1-3 1 12 1 26 1 36 1 40 1 36 1 29 1 15 1 0 1-16 1-29 1-37" transform="matrix(0.093492 0 0 0.1 313.026 0)" fill="none" stroke="#0073C8" stroke-width="0.9" vector-effect="non-scaling-stroke" stroke-linejoin="round" />
<path d="M0 3110l1-37 1-39 1-36 1-25 1-12 1 5 1 19 1 32 1 38 1 39 1 33 1 22 1 8 1-9 1-24 1-34 1-39 1-38 1-30 1-18 1-3 1 14 1 27 1 36 1 40 1 36 1 27 1 13 1-3 1-18 1-31 1-38 1-39 1-34 1-22 1-8 1 8 1 24 1 34 1 39 1 38 1 30 1 18 1 1 1-14 1-28 1-37 1-40 1-35 1-26 1-11 1 5 1 20 1 32 1 39 1 39 1 32 1 20 1 5 1-12 1-26 1-36 1-39 1-37 1-27 1-14 1 3 1 18 1 31 1 38 1 39 1 33 1 22 1 6 1-10 1-25 1-35 1-39 1-37 1-29 1-14" transform="matrix(0.093492 0 0 0.1 320.505 0)" fill="none" stroke="#0073C8" stroke-width="0.9" vector-effect="non-scaling-stroke" stroke-linejoin="round" />
<path d="M0 2979l1-14 1 2 1 17 1 31 1 38 1 39 1 34 1 21 1 7 1-10 1-25 1-35 1-40 1-37 1-28 1-14 1 2 1 19 1 31 1 38 1 39 1 33 1 21 1 5 1-11 1-26 1-36 1-40 1-36 1-27 1-12 1 4 1 21 1 32 1 39 1 39 1 31 1 19 1 2 1-14 1-28 1-38 1-39 1-35 1-24 1-9 1 8 1 23 1 35 1 39 1 38 1 28 1 15 1-2 1-18 1-31 1-38 1-40 1-32 1-20 1-4 1 13 1 27 1 37 1 40 1 35 1 25 1 9 1-7 1-24 1-34 1-40 1-37 1-29 1-14 1 2 1 19 1 32 1 39 1 38 1 32" transform="matrix(0.093492 0 0 0.1 327.984 0)" fill="none" stroke="#0073C8" stroke-width="0.9" vector-effect="non-scaling-stroke" stroke-linejoin="round" />
<path d="M0 3097l1 32 1 19 1 3 1-15 1-28 1-38 1-40 1-34 1-23 1-7 1 10 1 26 1 36 1 40 1 36 1 26 1 11 1-6 1-22 1-34 1-40 1-37 1-29 1-15 1 2 1 19 1 32 1 39 1 39 1 31 1 18 1 1 1-16 1-29 1-38 1-40 1-33 1-21 1-4 1 12 1 28 1 37 1 40 1 35 1 23 1 7 1-10 1-25 1-36 1-40 1-36 1-26 1-9 1 7 1 24 1 35 1 39 1 37 1 28 1 12 1-6 1-22 1-33 1-40 1-38 1-28 1-14 1 3 1 20 1 33 1 40 1 38 1 30 1 15 1-2 1-19 1-32 1-39 1-39 1-30 1-17" transform="matrix(0.093492 0 0 0.1 335.464 0)" fill="none" stroke="#0073C8" stroke-width="0.9" vector-effect="non-scaling-stroke" stroke-linejoin="round" />
<path d="M0 2987l1-17 1 1 1 18 1 31 1 39 1 39 1 31 1 18 1 0 1-17 1-31 1-39 1-39 1-31 1-18 1-1 1 16 1 31 1 38 1 40 1 31 1 19 1 1 1-16 1-31 1-38 1-40 1-31 1-19 1-1 1 16 1 31 1 39 1 39 1 31 1 18 1 1 1-16 1-31 1-39 1-39 1-31 1-18 1 0 1 17 1 32 1 39 1 38 1 31 1 17 1-1 1-18 1-32 1-39 1-39 1-30 1-16 1 3 1 19 1 33 1 39 1 38 1 29 1 15 1-4 1-21 1-34 1-40 1-37 1-28 1-12 1 6 1 22 1 35 1 40 1 37 1 26 1 10 1-8 1-25 1-35" transform="matrix(0.093492 0 0 0.1 342.943 0)" fill="none" stroke="#0073C8" stroke-width="0.9" vector-effect="non-scaling-stroke" stroke-linejoin="round" />
<path d="M0 3114l1-35 1-40 1-36 1-24 1-8 1 11 1 26 1 37 1 40 1 34 1 22 1 5 1-13 1-29 1-38 1-39 1-33 1-19 1-2 1 16 1 31 1 39 1 39 1 30 1 17 1-2 1-20 1-33 1-39 1-38 1-28 1-13 1 6 1 23 1 35 1 39 1 37 1 25 1 9 1-10 1-26 1-37 1-40 1-34 1-22 1-4 1 14 1 29 1 39 1 39 1 32 1 17 1 0 1-19 1-32 1-39 1-38 1-29 1-13 1 6 1 22 1 35 1 40 1 36 1 25 1 8 1-11 1-27 1-37 1-40 1-33 1-20 1-3 1 17 1 30 1 39 1 39 1 30 1 15 1-4 1-22" transform="matrix(0.093492 0 0 0.1 350.422 0)" fill="none" stroke="#0073C8" stroke-width="0.9" vector-effect="non-scaling-stroke" stroke-linejoin="round" />
<path d="M0 3140l1-22 1-34 1-40 1-36 1-26 1-9 1 10 1 27 1 37 1 40 1 33 1 20 1 3 1-17 1-31 1-39 1-38 1-30 1-14 1 5 1 22 1 35 1 40 1 36 1 24 1 7 1-11 1-28 1-38 1-39 1-33 1-18 1 1 1 19 1 32 1 40 1 37 1 27 1 11 1-8 1-25 1-37 1-40 1-34 1-20 1-3 1 16 1 31 1 39 1 38 1 29 1 13 1-5 1-23 1-36 1-40 1-35 1-23 1-4 1 14 1 29 1 39 1 39 1 30 1 15 1-5 1-22 1-35 1-39 1-36 1-23 1-6 1 13 1 29 1 39 1 39 1 30 1 15 1-4 1-21 1-35" transform="matrix(0.093492 0 0 0.1 357.902 0)" fill="none" stroke="#0073C8" stroke-width="0.9" vector-effect="non-scaling-stroke" stroke-linejoin="round" />
<path d="M0 3116l1-35 1-40 1-36 1-23 1-6 1 14 1 29 1 39 1 38 1 31 1 14 1-5 1-22 1-35 1-40 1-35 1-23 1-4 1 15 1 30 1 39 1 38 1 29 1 13 1-6 1-24 1-36 1-40 1-34 1-21 1-2 1 17 1 32 1 39 1 38 1 27 1 10 1-9 1-27 1-37 1-40 1-32 1-18 1 2 1 20 1 34 1 40 1 36 1 24 1 7 1-14 1-29 1-39 1-38 1-30 1-14 1 6 1 24 1 36 1 40 1 34 1 20 1 2 1-18 1-33 1-40 1-37 1-26 1-8 1 12 1 28 1 38 1 40 1 30 1 15 1-5 1-24 1-35 1-40 1-35 1-20" transform="matrix(0.093492 0 0 0.1 365.381 0)" fill="none" stroke="#0073C8" stroke-width="0.9" vector-effect="non-scaling-stroke" stroke-linejoin="round" />
<path d="M0 3001l1-20 1-2 1 18 1 33 1 40 1 37 1 25 1 8 1-12 1-29 1-39 1-39 1-29 1-14 1 6 1 25 1 37 1 39 1 34 1 19 1-1 1-20 1-34 1-40 1-36 1-23 1-5 1 15 1 31 1 39 1 38 1 28 1 10 1-10 1-28 1-38 1-39 1-31 1-15 1 5 1 24 1 36 1 40 1 34 1 19 1 0 1-20 1-34 1-40 1-36 1-23 1-5 1 16 1 32 1 40 1 37 1 27 1 8 1-12 1-29 1-39 1-39 1-29 1-12 1 8 1 26 1 38 1 39 1 32 1 16 1-4 1-24 1-36 1-40 1-34 1-19 1 1 1 20 1 35 1 40 1 36" transform="matrix(0.093492 0 0 0.1 372.860 0)" fill="none" stroke="#0073C8" stroke-width="0.9" vector-effect="non-scaling-stroke" stroke-linejoin="round" />
<path d="M0 3077l1 36 1 21 1 3 1-17 1-33 1-40 1-37 1-25 1-5 1 15 1 31 1 39 1 38 1 27 1 8 1-12 1-29 1-39 1-39 1-29 1-10 1 9 1 28 1 38 1 40 1 30 1 13 1-8 1-25 1-38 1-40 1-31 1-16 1 6 1 24 1 37 1 40 1 33 1 17 1-4 1-23 1-36 1-40 1-34 1-18 1 2 1 21 1 36 1 40 1 35 1 19 1-1 1-20 1-35 1-40 1-35 1-21 1 0 1 19 1 35 1 40 1 36 1 21 1 1 1-19 1-34 1-40 1-36 1-22 1-2 1 19 1 33 1 41 1 36 1 22 1 2 1-18 1-33 1-41 1-36 1-22" transform="matrix(0.093492 0 0 0.1 380.340 0)" fill="none" stroke="#0073C8" stroke-width="0.9" vector-effect="non-scaling-stroke" stroke-linejoin="round" />
<path d="M0 3007l1-22 1-3 1 18 1 34 1 40 1 36 1 23 1 2 1-18 1-34 1-40 1-36 1-22 1-2 1 18 1 34 1 40 1 36 1 22 1 1 1-18 1-35 1-40 1-35 1-21 1-1 1 19 1 35 1 40 1 35 1 21 1-1 1-20 1-35 1-41 1-34 1-19 1 1 1 22 1 36 1 40 1 34 1 17 1-2 1-23 1-37 1-40 1-33 1-16 1 4 1 25 1 37 1 40 1 32 1 14 1-6 1-26 1-38 1-40 1-30 1-13 1 9 1 28 1 39 1 39 1 28 1 10 1-11 1-29 1-40 1-38 1-27 1-7 1 13 1 32 1 40 1 37 1 25 1 4 1-16 1-33" transform="matrix(0.093492 0 0 0.1 387.819 0)" fill="none" stroke="#0073C8" stroke-width="0.9" vector-effect="non-scaling-stroke" stroke-linejoin="round" />
<path d="M0 3118l1-33 1-41 1-36 1-22 1-1 1 19 1 35 1 40 1 35 1 19 1-2 1-22 1-37 1-40 1-32 1-16 1 5 1 25 1 38 1 40 1 30 1 13 1-10 1-28 1-39 1-39 1-27 1-9 1 13 1 31 1 40 1 38 1 24 1 4 1-17 1-33 1-41 1-35 1-21 1 0 1 22 1 35 1 41 1 33 1 16 1-5 1-25 1-38 1-39 1-31 1-11 1 10 1 29 1 39 1 38 1 27 1 6 1-15 1-32 1-40 1-36 1-23 1-1 1 20 1 35 1 41 1 33 1 18 1-5 1-24 1-38 1-40 1-30 1-12 1 10 1 29 1 40 1 38 1 26 1 6 1-16" transform="matrix(0.093492 0 0 0.1 395.299 0)" fill="none" stroke="#0073C8" stroke-width="0.9" vector-effect="non-scaling-stroke" stroke-linejoin="round" />
<path d="M0 3133l1-16 1-33 1-41 1-35 1-21 1 1 1 21 1 36 1 41 1 32 1 15 1-7 1-27 1-39 1-39 1-28 1-8 1 14 1 31 1 40 1 37 1 22 1 2 1-20 1-36 1-40 1-33 1-16 1 5 1 27 1 38 1 39 1 29 1 9 1-14 1-31 1-40 1-37 1-22 1-2 1 21 1 35 1 41 1 32 1 16 1-7 1-26 1-39 1-39 1-28 1-7 1 14 1 32 1 41 1 36 1 21 1-1 1-22 1-37 1-40 1-31 1-13 1 9 1 29 1 39 1 38 1 25 1 5 1-18 1-34 1-40 1-35 1-17 1 4 1 26 1 38 1 39 1 29 1 9 1-14 1-32" transform="matrix(0.093492 0 0 0.1 402.778 0)" fill="none" stroke="#0073C8" stroke-width="0.9" vector-effect="non-scaling-stroke" stroke-linejoin="round" />
<path d="M0 3118l1-32 1-40 1-36 1-21 1 0 1 22 1 37 1 40 1 31 1 12 1-10 1-29 1-40 1-38 1-23 1-3 1 19 1 36 1 40 1 33 1 15 1-8 1-27 1-39 1-39 1-26 1-4 1 17 1 34 1 41 1 33 1 17 1-5 1-27 1-38 1-39 1-27 1-7 1 16 1 34 1 40 1 35 1 18 1-5 1-25 1-39 1-39 1-27 1-8 1 16 1 33 1 40 1 35 1 18 1-4 1-25 1-38 1-40 1-27 1-7 1 15 1 33 1 41 1 34 1 18 1-4 1-26 1-39 1-39 1-27 1-6 1 16 1 34 1 41 1 34 1 16 1-6 1-26 1-39 1-39 1-25" transform="matrix(0.093492 0 0 0.1 410.257 0)" fill="none" stroke="#0073C8" stroke-width="0.9" vector-effect="non-scaling-stroke" stroke-linejoin="round" />
<path d="M0 3019l1-25 1-5 1 18 1 34 1 41 1 33 1 15 1-8 1-29 1-39 1-38 1-24 1-2 1 20 1 36 1 40 1 31 1 13 1-11 1-30 1-40 1-37 1-21 1 1 1 22 1 38 1 39 1 29 1 9 1-14 1-33 1-40 1-35 1-18 1 5 1 26 1 39 1 39 1 26 1 4 1-18 1-35 1-41 1-32 1-13 1 9 1 30 1 40 1 37 1 21 1 0 1-23 1-38 1-39 1-29 1-8 1 15 1 33 1 41 1 34 1 16 1-7 1-27 1-39 1-38 1-24 1-2 1 21 1 36 1 40 1 30 1 10 1-13 1-32 1-40 1-35 1-18 1 6 1 26 1 39 1 38" transform="matrix(0.093492 0 0 0.1 417.737 0)" fill="none" stroke="#0073C8" stroke-width="0.9" vector-effect="non-scaling-stroke" stroke-linejoin="round" />
<path d="M0 3061l1 38 1 25 1 2 1-20 1-36 1-40 1-30 1-10 1 13 1 32 1 40 1 35 1 17 1-5 1-27 1-39 1-38 1-24 1-2 1 21 1 36 1 40 1 30 1 9 1-15 1-33 1-40 1-34 1-16 1 8 1 28 1 40 1 37 1 22 1-1 1-23 1-38 1-39 1-27 1-6 1 17 1 35 1 40 1 32 1 12 1-11 1-31 1-40 1-35 1-18 1 4 1 27 1 39 1 38 1 23 1 2 1-22 1-37 1-39 1-28 1-8 1 16 1 34 1 41 1 32 1 13 1-11 1-30 1-40 1-36 1-18 1 5 1 27 1 39 1 37 1 23 1 1 1-23 1-37 1-39 1-27" transform="matrix(0.093492 0 0 0.1 425.216 0)" fill="none" stroke="#0073C8" stroke-width="0.9" vector-effect="non-scaling-stroke" stroke-linejoin="round" />
<path d="M0 3025l1-27 1-6 1 18 1 35 1 40 1 30 1 11 1-13 1-32 1-40 1-34 1-15 1 8 1 29 1 39 1 37 1 20 1-4 1-25 1-39 1-38 1-24 1-1 1 22 1 37 1 39 1 27 1 6 1-18 1-35 1-40 1-30 1-10 1 14 1 33 1 40 1 33 1 14 1-10 1-30 1-40 1-35 1-18 1 6 1 27 1 40 1 36 1 21 1-2 1-24 1-39 1-38 1-24 1-1 1 21 1 37 1 39 1 27 1 5 1-19 1-35 1-40 1-29 1-8 1 16 1 34 1 39 1 32 1 11 1-13 1-32 1-40 1-33 1-14 1 10 1 30 1 40 1 35 1 16 1-7 1-28" transform="matrix(0.093492 0 0 0.1 432.695 0)" fill="none" stroke="#0073C8" stroke-width="0.9" vector-effect="non-scaling-stroke" stroke-linejoin="round" />
<path d="M0 3117l1-28 1-40 1-36 1-19 1 5 1 26 1 39 1 37 1 22 1-3 1-24 1-39 1-38 1-23 1 0 1 23 1 38 1 38 1 25 1 2 1-21 1-37 1-39 1-26 1-4 1 19 1 36 1 40 1 28 1 6 1-18 1-36 1-39 1-30 1-7 1 16 1 35 1 40 1 30 1 9 1-15 1-34 1-40 1-31 1-10 1 14 1 33 1 40 1 32 1 11 1-13 1-33 1-40 1-32 1-12 1 12 1 32 1 40 1 33 1 13 1-11 1-32 1-40 1-33 1-14 1 11 1 31 1 40 1 33 1 15 1-11 1-30 1-40 1-34 1-15 1 10 1 31 1 40 1 34 1 15 1-10" transform="matrix(0.093492 0 0 0.1 440.175 0)" fill="none" stroke="#0073C8" stroke-width="0.9" vector-effect="non-scaling-stroke" stroke-linejoin="round" />
<path d="M0 3124l1-10 1-31 1-40 1-34 1-15 1 10 1 31 1 40 1 34 1 14 1-10 1-30 1-40 1-34 1-15 1 11 1 31 1 40 1 33 1 14 1-10 1-32 1-40 1-33 1-14 1 12 1 32 1 40 1 33 1 12 1-12 1-32 1-41 1-32 1-12 1 14 1 33 1 40 1 31 1 11 1-14 1-34 1-40 1-31 1-9 1 15 1 35 1 40 1 30 1 8 1-17 1-36 1-39 1-29 1-6 1 18 1 36 1 39 1 28 1 5 1-20 1-37 1-39 1-26 1-3 1 22 1 37 1 39 1 24 1 1 1-24 1-38 1-38 1-23 1 2 1 25 1 39 1 38 1 20 1-4 1-27" transform="matrix(0.093492 0 0 0.1 447.654 0)" fill="none" stroke="#0073C8" stroke-width="0.9" vector-effect="non-scaling-stroke" stroke-linejoin="round" />
<path d="M0 3117l1-27 1-40 1-36 1-18 1 7 1 29 1 40 1 34 1 16 1-9 1-31 1-40 1-34 1-13 1 13 1 32 1 41 1 31 1 10 1-15 1-35 1-39 1-30 1-7 1 18 1 36 1 40 1 27 1 3 1-21 1-37 1-39 1-24 1 0 1 24 1 39 1 37 1 21 1-3 1-27 1-40 1-36 1-18 1 8 1 30 1 40 1 34 1 14 1-12 1-32 1-40 1-32 1-10 1 15 1 35 1 40 1 29 1 6 1-20 1-36 1-39 1-26 1-1 1 23 1 38 1 38 1 22 1-4 1-26 1-40 1-36 1-17 1 8 1 30 1 40 1 34 1 12 1-12 1-34 1-40 1-30" transform="matrix(0.093492 0 0 0.1 455.133 0)" fill="none" stroke="#0073C8" stroke-width="0.9" vector-effect="non-scaling-stroke" stroke-linejoin="round" />
<path d="M0 3035l1-30 1-8 1 17 1 37 1 39 1 27 1 2 1-22 1-38 1-38 1-23 1 3 1 27 1 39 1 36 1 18 1-9 1-30 1-40 1-33 1-12 1 14 1 34 1 40 1 29 1 6 1-19 1-37 1-39 1-25 1 0 1 24 1 39 1 37 1 20 1-6 1-29 1-40 1-34 1-14 1 12 1 33 1 41 1 30 1 7 1-18 1-37 1-39 1-25 1-1 1 24 1 39 1 37 1 20 1-6 1-30 1-40 1-34 1-13 1 13 1 34 1 40 1 29 1 7 1-20 1-37 1-39 1-24 1 1 1 26 1 39 1 36 1 18 1-9 1-31 1-40 1-32 1-11 1 16 1 36 1 39" transform="matrix(0.093492 0 0 0.1 462.613 0)" fill="none" stroke="#0073C8" stroke-width="0.9" vector-effect="non-scaling-stroke" stroke-linejoin="round" />
<path d="M0 3049l1 39 1 27 1 3 1-23 1-38 1-38 1-20 1 5 1 29 1 40 1 34 1 13 1-13 1-34 1-40 1-29 1-5 1 21 1 37 1 39 1 22 1-3 1-28 1-39 1-35 1-15 1 11 1 33 1 41 1 29 1 7 1-20 1-37 1-39 1-23 1 3 1 27 1 39 1 35 1 16 1-12 1-33 1-40 1-30 1-6 1 20 1 37 1 39 1 22 1-2 1-28 1-40 1-34 1-15 1 12 1 34 1 40 1 29 1 5 1-21 1-38 1-38 1-21 1 4 1 29 1 40 1 34 1 12 1-14 1-35 1-40 1-27 1-2 1 23 1 39 1 37 1 19 1-8 1-31 1-40 1-32" transform="matrix(0.093492 0 0 0.1 470.092 0)" fill="none" stroke="#0073C8" stroke-width="0.9" vector-effect="non-scaling-stroke" stroke-linejoin="round" />
<path d="M0 3040l1-32 1-9 1 18 1 36 1 39 1 24 1-1 1-27 1-39 1-35 1-15 1 12 1 33 1 40 1 29 1 4 1-22 1-38 1-37 1-20 1 6 1 31 1 40 1 32 1 10 1-18 1-36 1-39 1-24 1 1 1 27 1 40 1 35 1 14 1-13 1-35 1-39 1-28 1-3 1 24 1 39 1 36 1 18 1-9 1-32 1-40 1-30 1-7 1 20 1 38 1 38 1 21 1-5 1-30 1-40 1-32 1-10 1 17 1 36 1 39 1 24 1-2 1-28 1-40 1-34 1-13 1 15 1 35 1 40 1 26 1 0 1-26 1-39 1-36 1-14 1 12 1 34 1 40 1 27 1 3 1-24" transform="matrix(0.093492 0 0 0.1 477.572 0)" fill="none" stroke="#0073C8" stroke-width="0.9" vector-effect="non-scaling-stroke" stroke-linejoin="round" />
<path d="M0 3116l1-24 1-39 1-37 1-16 1 11 1 33 1 40 1 28 1 4 1-23 1-39 1-36 1-18 1 10 1 32 1 40 1 30 1 4 1-22 1-38 1-37 1-19 1 9 1 32 1 41 1 29 1 5 1-21 1-39 1-37 1-18 1 8 1 32 1 41 1 29 1 5 1-22 1-38 1-37 1-18 1 9 1 32 1 40 1 29 1 5 1-23 1-38 1-37 1-17 1 10 1 33 1 40 1 28 1 3 1-23 1-39 1-36 1-16 1 11 1 34 1 40 1 27 1 1 1-25 1-39 1-35 1-14 1 13 1 35 1 39 1 26 1-1 1-27 1-39 1-34 1-12 1 16 1 36 1 39 1 23 1-4" transform="matrix(0.093492 0 0 0.1 485.051 0)" fill="none" stroke="#0073C8" stroke-width="0.9" vector-effect="non-scaling-stroke" stroke-linejoin="round" />
<path d="M0 3115l1-4 1-28 1-40 1-33 1-9 1 19 1 37 1 38 1 21 1-7 1-31 1-40 1-30 1-6 1 22 1 38 1 37 1 17 1-10 1-33 1-40 1-28 1-1 1 25 1 39 1 35 1 14 1-15 1-36 1-39 1-24 1 4 1 28 1 40 1 32 1 9 1-19 1-38 1-38 1-19 1 8 1 32 1 40 1 29 1 3 1-24 1-39 1-35 1-15 1 14 1 35 1 39 1 25 1-3 1-28 1-40 1-32 1-9 1 19 1 38 1 38 1 19 1-9 1-33 1-40 1-28 1-2 1 25 1 40 1 34 1 13 1-16 1-36 1-38 1-23 1 6 1 30 1 40 1 30 1 5 1-22" transform="matrix(0.093492 0 0 0.1 492.530 0)" fill="none" stroke="#0073C8" stroke-width="0.9" vector-effect="non-scaling-stroke" stroke-linejoin="round" />
<path d="M0 3114l1-22 1-38 1-37 1-15 1 13 1 34 1 40 1 24 1-2 1-29 1-40 1-31 1-8 1 20 1 38 1 37 1 17 1-11 1-33 1-40 1-26 1 1 1 28 1 40 1 32 1 9 1-19 1-38 1-37 1-18 1 10 1 33 1 40 1 26 1-1 1-27 1-39 1-33 1-9 1 19 1 38 1 37 1 18 1-11 1-33 1-40 1-25 1 1 1 27 1 40 1 32 1 8 1-20 1-38 1-37 1-16 1 12 1 34 1 39 1 25 1-3 1-29 1-40 1-31 1-6 1 22 1 39 1 35 1 15 1-14 1-36 1-39 1-22 1 6 1 31 1 40 1 29 1 2 1-24 1-40 1-34" transform="matrix(0.093492 0 0 0.1 500.010 0)" fill="none" stroke="#0073C8" stroke-width="0.9" vector-effect="non-scaling-stroke" stroke-linejoin="round" />
<path d="M0 3048l1-34 1-11 1 18 1 37 1 37 1 19 1-10 1-33 1-39 1-26 1 2 1 28 1 40 1 31 1 6 1-21 1-39 1-36 1-14 1 15 1 36 1 38 1 21 1-7 1-31 1-40 1-27 1-1 1 26 1 40 1 32 1 9 1-21 1-38 1-36 1-15 1 13 1 35 1 39 1 22 1-6 1-31 1-40 1-28 1-1 1 26 1 39 1 33 1 8 1-20 1-38 1-36 1-15 1 14 1 35 1 38 1 22 1-7 1-32 1-40 1-26 1 0 1 27 1 40 1 31 1 7 1-22 1-39 1-35 1-13 1 16 1 37 1 37 1 19 1-10 1-33 1-39 1-25 1 4 1 29 1 40" transform="matrix(0.093492 0 0 0.1 507.489 0)" fill="none" stroke="#0073C8" stroke-width="0.9" vector-effect="non-scaling-stroke" stroke-linejoin="round" />
<path d="M0 3039l1 40 1 29 1 3 1-25 1-39 1-33 1-9 1 20 1 38 1 36 1 14 1-14 1-36 1-38 1-20 1 9 1 32 1 40 1 25 1-3 1-29 1-40 1-29 1-3 1 25 1 39 1 33 1 8 1-20 1-38 1-36 1-13 1 15 1 36 1 38 1 19 1-11 1-33 1-39 1-24 1 5 1 31 1 40 1 27 1 0 1-27 1-39 1-31 1-6 1 24 1 39 1 33 1 10 1-18 1-38 1-36 1-15 1 14 1 36 1 38 1 19 1-10 1-33 1-39 1-23 1 5 1 31 1 40 1 26 1-1 1-28 1-39 1-30 1-4 1 25 1 39 1 33 1 8 1-21 1-39 1-35" transform="matrix(0.093492 0 0 0.1 514.968 0)" fill="none" stroke="#0073C8" stroke-width="0.9" vector-effect="non-scaling-stroke" stroke-linejoin="round" />
<path d="M0 3052l1-35 1-12 1 18 1 37 1 36 1 16 1-13 1-36 1-38 1-19 1 10 1 33 1 39 1 23 1-6 1-31 1-40 1-26 1 2 1 29 1 40 1 28 1 2 1-26 1-40 1-31 1-5 1 24 1 39 1 33 1 8 1-20 1-39 1-34 1-12 1 18 1 37 1 36 1 15 1-15 1-36 1-37 1-18 1 12 1 34 1 39 1 20 1-9 1-33 1-39 1-23 1 6 1 32 1 39 1 25 1-3 1-30 1-39 1-27 1 0 1 28 1 40 1 29 1 2 1-26 1-40 1-30 1-5 1 24 1 39 1 32 1 7 1-22 1-38 1-34 1-9 1 20 1 38 1 35 1 11 1-18" transform="matrix(0.093492 0 0 0.1 522.448 0)" fill="none" stroke="#0073C8" stroke-width="0.9" vector-effect="non-scaling-stroke" stroke-linejoin="round" />
<path d="M0 3111l1-18 1-38 1-35 1-14 1 17 1 37 1 36 1 15 1-14 1-36 1-37 1-17 1 12 1 36 1 37 1 19 1-11 1-35 1-38 1-20 1 10 1 33 1 39 1 21 1-8 1-33 1-38 1-23 1 7 1 32 1 38 1 24 1-5 1-31 1-39 1-25 1 4 1 30 1 40 1 25 1-3 1-29 1-40 1-26 1 2 1 29 1 39 1 27 1-1 1-28 1-39 1-28 1 0 1 28 1 39 1 28 1 1 1-27 1-40 1-28 1-1 1 26 1 40 1 29 1 1 1-26 1-39 1-30 1-2 1 26 1 40 1 29 1 3 1-26 1-40 1-29 1-3 1 26 1 39 1 30 1 3" transform="matrix(0.093492 0 0 0.1 529.927 0)" fill="none" stroke="#0073C8" stroke-width="0.9" vector-effect="non-scaling-stroke" stroke-linejoin="round" />
<text x="66.3" y="438.2" text-anchor="middle" class="tl">0</text>
<text x="141.1" y="438.2" text-anchor="middle" class="tl">10</text>
<text x="215.9" y="438.2" text-anchor="middle" class="tl">20</text>
<text x="290.7" y="438.2" text-anchor="middle" class="tl">30</text>
<text x="365.5" y="438.2" text-anchor="middle" class="tl">40</text>
<text x="440.3" y="438.2" text-anchor="middle" class="tl">50</text>
<text x="515.1" y="438.2" text-anchor="middle" class="tl">60</text>
<text x="59.8" y="422.8" text-anchor="end" class="tl">0</text>
<text x="59.8" y="373.9" text-anchor="end" class="tl">2</text>
<text x="59.8" y="325.1" text-anchor="end" class="tl">4</text>
<text x="59.8" y="276.2" text-anchor="end" class="tl">6</text>
<text x="300.5" y="457.8" text-anchor="middle" class="lab">Time (seconds)</text>
<text transform="translate(25 344.7) rotate(-90)" text-anchor="middle" class="lab">Amplitude</text>
<text transform="translate(43.4 345.2) rotate(-90)" text-anchor="middle" class="tl">y1</text>
<rect x="189.5" y="334.5" width="336" height="39" fill="#fff" stroke="#262626" stroke-width="1"/>
<path d="M193.5 345.3H237.2" stroke="#999999" stroke-width="1"/>
<path d="M193.5 363.2H237.2" stroke="#0073C8" stroke-width="1"/>
<text x="241.1" y="350.2" class="lg">offset 0.500 amp 0.100 freq 10.000 data (y1)</text>
<text x="241.1" y="368" class="lg">offset 0.500 amp 0.100 freq 10.000 est: 67.25%</text>
</g></svg>
</div></body></html>
